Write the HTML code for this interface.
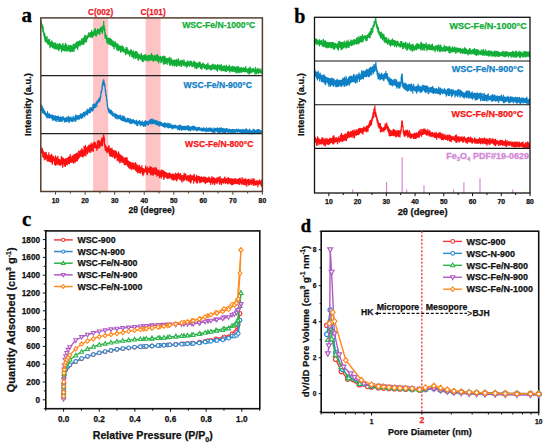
<!DOCTYPE html>
<html><head><meta charset="utf-8"><style>
html,body{margin:0;padding:0;background:#fff;}
body{width:550px;height:448px;overflow:hidden;}
svg{display:block;}
text{font-family:"Liberation Sans",sans-serif;font-weight:bold;}
</style></head><body>
<svg width="550" height="448" viewBox="0 0 550 448">
<rect width="550" height="448" fill="#fff"/>
<defs>
<clipPath id="ca"><rect x="40.8" y="17.9" width="221.59999999999997" height="173.6"/></clipPath>
<clipPath id="cb"><rect x="314.5" y="17.3" width="215.5" height="175.7"/></clipPath>
</defs>
<rect x="93.1" y="17.9" width="15.1" height="173.6" fill="#fdc3c5"/>
<rect x="145.6" y="17.9" width="15.0" height="173.6" fill="#fdc3c5"/>
<path d="M40.80,21.00 L40.89,22.00 L40.98,21.33 L41.07,20.57 L41.15,21.84 L41.24,21.24 L41.33,23.69 L41.42,26.58 L41.51,23.48 L41.60,23.66 L41.69,26.23 L41.78,26.40 L41.86,26.35 L41.95,24.78 L42.04,26.94 L42.13,28.76 L42.22,25.27 L42.31,27.41 L42.40,25.06 L42.48,26.67 L42.57,26.03 L42.66,29.55 L42.75,28.00 L42.84,31.38 L42.93,31.47 L43.02,31.07 L43.10,26.85 L43.19,30.91 L43.28,32.10 L43.37,32.67 L43.46,29.78 L43.55,32.05 L43.64,31.35 L43.73,31.93 L43.81,35.77 L43.90,32.45 L43.99,34.19 L44.08,36.20 L44.17,33.65 L44.26,34.81 L44.35,35.49 L44.43,35.66 L44.52,33.44 L44.61,36.19 L44.70,38.91 L44.79,33.60 L44.88,38.46 L44.97,37.30 L45.05,36.10 L45.14,41.42 L45.23,39.30 L45.32,35.81 L45.41,38.50 L45.50,39.72 L45.59,38.40 L45.68,40.17 L45.76,38.83 L45.85,40.33 L45.94,41.90 L46.03,37.96 L46.12,39.74 L46.21,38.56 L46.30,39.79 L46.38,37.37 L46.47,38.63 L46.56,39.46 L46.65,41.65 L46.74,42.22 L46.83,37.60 L46.92,38.71 L47.00,41.56 L47.09,36.62 L47.18,39.63 L47.27,40.43 L47.36,43.11 L47.45,42.12 L47.54,40.28 L47.63,40.30 L47.71,40.62 L47.80,44.10 L47.89,40.48 L47.98,40.81 L48.07,42.16 L48.16,41.36 L48.25,41.31 L48.33,39.66 L48.42,41.86 L48.51,41.13 L48.60,44.29 L48.69,43.41 L48.78,42.22 L48.87,43.64 L48.95,41.82 L49.04,44.56 L49.13,42.65 L49.22,43.86 L49.31,40.40 L49.40,43.61 L49.49,39.83 L49.58,39.27 L49.66,42.66 L49.75,41.63 L49.84,43.75 L49.93,47.80 L50.02,42.05 L50.11,42.54 L50.20,44.21 L50.28,44.86 L50.37,43.68 L50.46,43.72 L50.55,45.55 L50.64,45.30 L50.73,42.45 L50.82,44.36 L50.90,44.67 L50.99,42.70 L51.08,45.22 L51.17,43.13 L51.26,46.63 L51.35,45.17 L51.44,45.01 L51.53,43.74 L51.61,44.66 L51.70,41.13 L51.79,42.80 L51.88,45.66 L51.97,40.96 L52.06,46.63 L52.15,41.74 L52.23,46.51 L52.32,43.50 L52.41,46.61 L52.50,45.41 L52.59,42.28 L52.68,47.58 L52.77,47.97 L52.86,45.14 L52.94,44.78 L53.03,45.02 L53.12,43.51 L53.21,47.46 L53.30,44.38 L53.39,45.34 L53.48,43.96 L53.56,44.30 L53.65,43.10 L53.74,47.92 L53.83,45.28 L53.92,47.42 L54.01,45.65 L54.10,44.34 L54.18,45.06 L54.27,44.64 L54.36,45.75 L54.45,45.05 L54.54,45.22 L54.63,43.21 L54.72,44.32 L54.81,48.99 L54.89,44.63 L54.98,43.93 L55.07,46.58 L55.16,48.63 L55.25,43.26 L55.34,45.64 L55.43,44.86 L55.51,42.76 L55.60,47.50 L55.69,46.09 L55.78,46.30 L55.87,44.77 L55.96,47.08 L56.05,45.23 L56.13,46.00 L56.22,44.21 L56.31,44.04 L56.40,48.87 L56.49,45.43 L56.58,46.96 L56.67,46.37 L56.76,45.63 L56.84,45.53 L56.93,47.70 L57.02,45.98 L57.11,46.29 L57.20,46.64 L57.29,48.84 L57.38,47.93 L57.46,47.40 L57.55,45.65 L57.64,44.13 L57.73,48.55 L57.82,48.61 L57.91,46.55 L58.00,47.86 L58.08,48.34 L58.17,48.46 L58.26,48.66 L58.35,46.10 L58.44,49.83 L58.53,44.66 L58.62,48.65 L58.71,47.99 L58.79,48.73 L58.88,50.64 L58.97,49.93 L59.06,45.02 L59.15,44.03 L59.24,48.76 L59.33,45.34 L59.41,47.25 L59.50,48.88 L59.59,44.25 L59.68,43.40 L59.77,47.87 L59.86,47.50 L59.95,46.98 L60.03,47.54 L60.12,45.88 L60.21,44.68 L60.30,47.24 L60.39,45.75 L60.48,44.52 L60.57,48.58 L60.66,47.54 L60.74,48.44 L60.83,45.86 L60.92,46.51 L61.01,45.89 L61.10,46.13 L61.19,48.18 L61.28,46.38 L61.36,48.54 L61.45,48.54 L61.54,51.72 L61.63,45.35 L61.72,49.64 L61.81,47.83 L61.90,47.97 L61.98,45.29 L62.07,47.14 L62.16,49.39 L62.25,47.85 L62.34,48.15 L62.43,47.46 L62.52,50.16 L62.61,47.96 L62.69,43.89 L62.78,46.71 L62.87,44.32 L62.96,43.25 L63.05,47.01 L63.14,50.49 L63.23,48.09 L63.31,45.81 L63.40,46.24 L63.49,50.11 L63.58,48.29 L63.67,48.09 L63.76,47.90 L63.85,48.07 L63.94,49.50 L64.02,49.03 L64.11,48.40 L64.20,46.06 L64.29,48.95 L64.38,46.72 L64.47,50.04 L64.56,45.63 L64.64,47.74 L64.73,47.99 L64.82,45.53 L64.91,51.21 L65.00,50.72 L65.09,47.14 L65.18,49.44 L65.26,48.70 L65.35,43.26 L65.44,48.47 L65.53,47.89 L65.62,48.15 L65.71,46.00 L65.80,47.50 L65.89,47.67 L65.97,50.21 L66.06,48.62 L66.15,47.99 L66.24,50.84 L66.33,46.97 L66.42,47.28 L66.51,44.62 L66.59,50.92 L66.68,49.79 L66.77,49.70 L66.86,49.24 L66.95,48.20 L67.04,48.40 L67.13,47.53 L67.21,47.62 L67.30,48.10 L67.39,50.81 L67.48,49.03 L67.57,47.89 L67.66,46.93 L67.75,46.82 L67.84,50.97 L67.92,48.94 L68.01,48.13 L68.10,47.36 L68.19,45.94 L68.28,47.88 L68.37,49.62 L68.46,47.27 L68.54,47.58 L68.63,47.59 L68.72,48.20 L68.81,45.05 L68.90,47.56 L68.99,46.42 L69.08,49.64 L69.16,46.57 L69.25,49.07 L69.34,50.82 L69.43,47.42 L69.52,46.89 L69.61,48.35 L69.70,48.00 L69.79,46.16 L69.87,48.85 L69.96,51.73 L70.05,47.52 L70.14,47.62 L70.23,46.07 L70.32,48.59 L70.41,45.70 L70.49,45.95 L70.58,50.36 L70.67,46.33 L70.76,50.00 L70.85,50.82 L70.94,48.48 L71.03,49.02 L71.11,51.60 L71.20,47.64 L71.29,46.91 L71.38,45.50 L71.47,48.08 L71.56,50.73 L71.65,49.77 L71.74,46.26 L71.82,46.42 L71.91,47.07 L72.00,48.54 L72.09,47.62 L72.18,48.40 L72.27,48.55 L72.36,47.45 L72.44,47.93 L72.53,48.38 L72.62,47.85 L72.71,48.93 L72.80,51.39 L72.89,48.98 L72.98,47.93 L73.06,44.67 L73.15,48.43 L73.24,44.08 L73.33,45.01 L73.42,49.12 L73.51,48.79 L73.60,47.16 L73.69,44.23 L73.77,46.64 L73.86,46.01 L73.95,48.38 L74.04,51.30 L74.13,47.49 L74.22,45.60 L74.31,44.83 L74.39,46.82 L74.48,46.54 L74.57,44.69 L74.66,46.97 L74.75,44.58 L74.84,48.68 L74.93,48.53 L75.02,48.52 L75.10,45.60 L75.19,47.36 L75.28,46.11 L75.37,45.58 L75.46,45.62 L75.55,43.80 L75.64,43.48 L75.72,47.53 L75.81,45.66 L75.90,46.35 L75.99,47.74 L76.08,42.67 L76.17,44.35 L76.26,46.05 L76.34,46.39 L76.43,44.93 L76.52,47.44 L76.61,45.89 L76.70,43.22 L76.79,43.68 L76.88,46.81 L76.97,46.12 L77.05,41.74 L77.14,47.63 L77.23,46.20 L77.32,47.51 L77.41,44.29 L77.50,44.39 L77.59,42.82 L77.67,49.46 L77.76,44.44 L77.85,47.61 L77.94,43.47 L78.03,44.89 L78.12,41.48 L78.21,43.78 L78.29,46.22 L78.38,42.08 L78.47,46.27 L78.56,44.87 L78.65,42.29 L78.74,43.22 L78.83,43.25 L78.92,43.94 L79.00,42.99 L79.09,42.40 L79.18,43.30 L79.27,41.93 L79.36,41.39 L79.45,43.60 L79.54,45.24 L79.62,40.78 L79.71,43.52 L79.80,42.27 L79.89,41.62 L79.98,44.90 L80.07,42.34 L80.16,45.96 L80.24,41.75 L80.33,43.82 L80.42,42.65 L80.51,41.63 L80.60,44.02 L80.69,42.61 L80.78,43.93 L80.87,42.69 L80.95,40.75 L81.04,42.48 L81.13,42.70 L81.22,44.30 L81.31,40.85 L81.40,42.37 L81.49,39.25 L81.57,43.51 L81.66,40.30 L81.75,38.93 L81.84,42.05 L81.93,44.11 L82.02,39.27 L82.11,40.01 L82.19,40.58 L82.28,39.82 L82.37,42.50 L82.46,40.29 L82.55,40.39 L82.64,42.70 L82.73,40.21 L82.82,42.32 L82.90,39.71 L82.99,39.22 L83.08,38.03 L83.17,44.68 L83.26,40.66 L83.35,41.63 L83.44,41.08 L83.52,41.37 L83.61,41.11 L83.70,44.41 L83.79,38.98 L83.88,37.97 L83.97,38.88 L84.06,38.21 L84.14,41.91 L84.23,41.96 L84.32,38.65 L84.41,37.80 L84.50,39.59 L84.59,42.68 L84.68,35.47 L84.77,40.95 L84.85,37.97 L84.94,41.73 L85.03,37.81 L85.12,39.17 L85.21,36.88 L85.30,37.76 L85.39,41.95 L85.47,40.85 L85.56,38.56 L85.65,37.64 L85.74,35.71 L85.83,38.34 L85.92,38.92 L86.01,38.74 L86.10,38.65 L86.18,36.71 L86.27,38.54 L86.36,38.51 L86.45,40.83 L86.54,41.79 L86.63,38.09 L86.72,36.88 L86.80,38.07 L86.89,37.01 L86.98,36.69 L87.07,37.84 L87.16,35.99 L87.25,38.88 L87.34,37.52 L87.42,38.08 L87.51,37.22 L87.60,36.16 L87.69,35.69 L87.78,36.89 L87.87,36.25 L87.96,37.58 L88.05,37.07 L88.13,34.55 L88.22,37.04 L88.31,34.42 L88.40,35.65 L88.49,36.15 L88.58,32.87 L88.67,36.69 L88.75,36.72 L88.84,36.08 L88.93,35.53 L89.02,35.54 L89.11,34.37 L89.20,35.57 L89.29,34.99 L89.37,36.10 L89.46,33.73 L89.55,36.27 L89.64,36.06 L89.73,35.51 L89.82,34.93 L89.91,36.66 L90.00,32.63 L90.08,36.41 L90.17,35.97 L90.26,36.00 L90.35,36.13 L90.44,34.23 L90.53,34.89 L90.62,36.45 L90.70,36.04 L90.79,35.59 L90.88,32.46 L90.97,36.10 L91.06,37.18 L91.15,36.85 L91.24,35.41 L91.32,32.16 L91.41,36.60 L91.50,34.60 L91.59,30.28 L91.68,35.45 L91.77,32.05 L91.86,32.36 L91.95,33.50 L92.03,36.87 L92.12,33.88 L92.21,34.99 L92.30,37.59 L92.39,37.26 L92.48,34.18 L92.57,33.89 L92.65,32.02 L92.74,32.99 L92.83,34.95 L92.92,34.85 L93.01,34.29 L93.10,35.83 L93.19,32.62 L93.27,33.86 L93.36,35.22 L93.45,34.91 L93.54,35.74 L93.63,34.49 L93.72,33.18 L93.81,34.34 L93.90,31.85 L93.98,30.67 L94.07,34.59 L94.16,33.41 L94.25,34.02 L94.34,30.39 L94.43,32.72 L94.52,32.26 L94.60,31.74 L94.69,29.22 L94.78,32.60 L94.87,34.75 L94.96,33.79 L95.05,31.99 L95.14,32.99 L95.22,34.33 L95.31,28.39 L95.40,32.67 L95.49,33.81 L95.58,34.01 L95.67,35.79 L95.76,34.73 L95.85,33.22 L95.93,33.16 L96.02,33.98 L96.11,31.57 L96.20,32.42 L96.29,34.06 L96.38,35.89 L96.47,32.07 L96.55,32.23 L96.64,32.62 L96.73,34.61 L96.82,32.13 L96.91,34.75 L97.00,30.37 L97.09,31.72 L97.18,31.65 L97.26,33.36 L97.35,33.77 L97.44,29.19 L97.53,30.20 L97.62,32.38 L97.71,30.57 L97.80,28.99 L97.88,33.49 L97.97,32.48 L98.06,32.44 L98.15,30.67 L98.24,33.30 L98.33,31.00 L98.42,33.33 L98.50,29.72 L98.59,29.78 L98.68,31.61 L98.77,29.96 L98.86,32.36 L98.95,31.58 L99.04,29.44 L99.13,31.16 L99.21,30.36 L99.30,32.57 L99.39,29.78 L99.48,30.08 L99.57,32.96 L99.66,34.73 L99.75,34.26 L99.83,30.79 L99.92,31.02 L100.01,33.30 L100.10,30.32 L100.19,28.77 L100.28,30.67 L100.37,31.22 L100.45,28.92 L100.54,27.44 L100.63,27.77 L100.72,31.45 L100.81,28.90 L100.90,29.95 L100.99,30.54 L101.08,31.22 L101.16,29.49 L101.25,30.93 L101.34,28.44 L101.43,29.33 L101.52,28.12 L101.61,31.89 L101.70,29.79 L101.78,28.49 L101.87,29.12 L101.96,29.29 L102.05,30.84 L102.14,26.70 L102.23,27.58 L102.32,28.62 L102.40,33.61 L102.49,30.65 L102.58,28.55 L102.67,29.76 L102.76,31.85 L102.85,27.49 L102.94,26.91 L103.03,29.33 L103.11,27.68 L103.20,27.62 L103.29,25.18 L103.38,29.13 L103.47,28.47 L103.56,26.23 L103.65,26.28 L103.73,21.43 L103.82,26.55 L103.91,25.59 L104.00,27.27 L104.09,28.34 L104.18,27.21 L104.27,25.55 L104.35,29.90 L104.44,28.67 L104.53,30.11 L104.62,30.32 L104.71,31.45 L104.80,28.62 L104.89,35.42 L104.98,34.28 L105.06,36.32 L105.15,38.34 L105.24,35.37 L105.33,32.62 L105.42,34.65 L105.51,34.52 L105.60,36.17 L105.68,37.59 L105.77,34.34 L105.86,38.65 L105.95,35.48 L106.04,38.75 L106.13,38.12 L106.22,37.85 L106.30,38.36 L106.39,37.62 L106.48,37.58 L106.57,35.79 L106.66,38.78 L106.75,42.15 L106.84,42.47 L106.93,41.40 L107.01,40.41 L107.10,38.07 L107.19,41.87 L107.28,39.33 L107.37,39.39 L107.46,39.09 L107.55,39.85 L107.63,39.01 L107.72,39.71 L107.81,38.04 L107.90,39.37 L107.99,44.11 L108.08,40.08 L108.17,39.87 L108.26,41.30 L108.34,41.70 L108.43,38.60 L108.52,40.27 L108.61,42.32 L108.70,41.27 L108.79,41.10 L108.88,43.69 L108.96,39.87 L109.05,41.29 L109.14,40.32 L109.23,43.92 L109.32,37.99 L109.41,40.32 L109.50,40.65 L109.58,42.82 L109.67,42.80 L109.76,44.26 L109.85,39.17 L109.94,43.31 L110.03,41.54 L110.12,40.94 L110.21,43.10 L110.29,40.61 L110.38,38.64 L110.47,41.67 L110.56,39.76 L110.65,41.29 L110.74,43.12 L110.83,43.07 L110.91,45.35 L111.00,42.29 L111.09,40.02 L111.18,41.42 L111.27,41.19 L111.36,40.73 L111.45,43.66 L111.53,41.83 L111.62,39.56 L111.71,44.27 L111.80,42.92 L111.89,43.79 L111.98,43.40 L112.07,44.37 L112.16,43.39 L112.24,45.53 L112.33,44.17 L112.42,44.16 L112.51,44.25 L112.60,41.06 L112.69,43.36 L112.78,43.24 L112.86,44.11 L112.95,41.44 L113.04,46.69 L113.13,44.09 L113.22,41.86 L113.31,41.05 L113.40,43.58 L113.48,43.96 L113.57,42.92 L113.66,44.38 L113.75,43.16 L113.84,45.29 L113.93,43.13 L114.02,44.37 L114.11,46.19 L114.19,48.95 L114.28,42.85 L114.37,43.84 L114.46,43.24 L114.55,46.11 L114.64,42.82 L114.73,44.02 L114.81,44.86 L114.90,43.27 L114.99,43.36 L115.08,44.25 L115.17,41.49 L115.26,42.67 L115.35,44.51 L115.43,45.54 L115.52,45.01 L115.61,42.32 L115.70,44.64 L115.79,46.88 L115.88,46.51 L115.97,45.46 L116.06,44.12 L116.14,46.80 L116.23,44.76 L116.32,43.79 L116.41,44.48 L116.50,48.42 L116.59,46.35 L116.68,48.03 L116.76,45.25 L116.85,47.75 L116.94,45.14 L117.03,45.96 L117.12,50.58 L117.21,47.67 L117.30,45.53 L117.38,46.30 L117.47,47.06 L117.56,48.64 L117.65,45.76 L117.74,43.66 L117.83,46.23 L117.92,46.79 L118.01,47.01 L118.09,49.14 L118.18,47.47 L118.27,48.38 L118.36,45.13 L118.45,48.58 L118.54,50.75 L118.63,48.52 L118.71,47.68 L118.80,47.56 L118.89,50.42 L118.98,45.80 L119.07,47.26 L119.16,48.30 L119.25,48.84 L119.34,46.86 L119.42,48.19 L119.51,47.24 L119.60,47.98 L119.69,47.60 L119.78,45.91 L119.87,47.89 L119.96,49.49 L120.04,46.37 L120.13,47.66 L120.22,49.26 L120.31,46.32 L120.40,48.52 L120.49,46.43 L120.58,50.24 L120.66,52.31 L120.75,51.85 L120.84,48.05 L120.93,49.74 L121.02,48.72 L121.11,48.73 L121.20,51.26 L121.29,46.38 L121.37,50.50 L121.46,48.65 L121.55,51.19 L121.64,49.14 L121.73,47.71 L121.82,49.39 L121.91,50.22 L121.99,49.06 L122.08,49.88 L122.17,48.19 L122.26,45.48 L122.35,50.72 L122.44,50.42 L122.53,49.52 L122.61,49.43 L122.70,51.13 L122.79,48.61 L122.88,48.23 L122.97,49.16 L123.06,51.56 L123.15,47.20 L123.24,51.66 L123.32,48.57 L123.41,47.82 L123.50,51.90 L123.59,49.63 L123.68,47.62 L123.77,49.27 L123.86,51.52 L123.94,52.01 L124.03,49.29 L124.12,50.75 L124.21,51.32 L124.30,49.05 L124.39,50.80 L124.48,50.18 L124.56,49.36 L124.65,49.48 L124.74,50.48 L124.83,50.46 L124.92,49.49 L125.01,49.77 L125.10,52.44 L125.19,50.95 L125.27,52.14 L125.36,52.73 L125.45,51.72 L125.54,54.63 L125.63,49.40 L125.72,52.23 L125.81,50.36 L125.89,54.10 L125.98,53.88 L126.07,47.70 L126.16,49.42 L126.25,52.25 L126.34,52.51 L126.43,52.46 L126.51,51.13 L126.60,52.07 L126.69,52.45 L126.78,51.25 L126.87,53.17 L126.96,47.63 L127.05,52.59 L127.14,49.80 L127.22,53.23 L127.31,51.26 L127.40,50.18 L127.49,52.37 L127.58,50.23 L127.67,50.27 L127.76,49.21 L127.84,51.87 L127.93,52.80 L128.02,53.74 L128.11,51.80 L128.20,53.87 L128.29,52.16 L128.38,52.02 L128.46,53.19 L128.55,54.06 L128.64,51.73 L128.73,51.94 L128.82,52.12 L128.91,52.58 L129.00,50.96 L129.09,54.27 L129.17,51.89 L129.26,53.40 L129.35,51.26 L129.44,53.31 L129.53,53.41 L129.62,52.08 L129.71,56.26 L129.79,53.51 L129.88,55.93 L129.97,54.59 L130.06,51.89 L130.15,52.40 L130.24,53.82 L130.33,53.22 L130.42,53.24 L130.50,52.70 L130.59,50.17 L130.68,52.88 L130.77,49.54 L130.86,53.96 L130.95,52.14 L131.04,52.19 L131.12,53.06 L131.21,53.93 L131.30,51.09 L131.39,50.59 L131.48,51.78 L131.57,50.16 L131.66,52.01 L131.74,56.37 L131.83,51.93 L131.92,54.85 L132.01,51.47 L132.10,54.33 L132.19,53.32 L132.28,53.79 L132.37,54.89 L132.45,56.93 L132.54,54.33 L132.63,54.24 L132.72,52.43 L132.81,55.09 L132.90,53.73 L132.99,55.58 L133.07,54.14 L133.16,57.18 L133.25,50.94 L133.34,53.82 L133.43,55.84 L133.52,53.80 L133.61,53.09 L133.69,54.01 L133.78,52.17 L133.87,54.73 L133.96,58.67 L134.05,56.53 L134.14,52.77 L134.23,53.20 L134.32,54.03 L134.40,56.43 L134.49,53.40 L134.58,53.65 L134.67,56.33 L134.76,56.34 L134.85,54.29 L134.94,53.08 L135.02,52.39 L135.11,53.85 L135.20,51.31 L135.29,56.35 L135.38,54.07 L135.47,55.97 L135.56,58.34 L135.64,57.20 L135.73,53.34 L135.82,56.76 L135.91,57.28 L136.00,54.12 L136.09,53.81 L136.18,55.26 L136.27,52.80 L136.35,57.98 L136.44,51.52 L136.53,53.73 L136.62,55.17 L136.71,55.28 L136.80,55.97 L136.89,56.18 L136.97,55.41 L137.06,57.70 L137.15,52.25 L137.24,55.87 L137.33,54.71 L137.42,56.16 L137.51,56.35 L137.59,54.49 L137.68,54.98 L137.77,57.41 L137.86,56.70 L137.95,55.02 L138.04,59.60 L138.13,60.08 L138.22,53.81 L138.30,56.80 L138.39,60.52 L138.48,57.67 L138.57,56.77 L138.66,56.09 L138.75,55.57 L138.84,56.15 L138.92,55.62 L139.01,57.82 L139.10,55.95 L139.19,55.91 L139.28,54.68 L139.37,56.63 L139.46,55.26 L139.54,56.49 L139.63,58.56 L139.72,57.47 L139.81,57.74 L139.90,57.52 L139.99,57.06 L140.08,56.79 L140.17,56.51 L140.25,58.30 L140.34,55.25 L140.43,59.31 L140.52,57.15 L140.61,55.87 L140.70,56.32 L140.79,56.02 L140.87,57.44 L140.96,55.99 L141.05,59.11 L141.14,55.92 L141.23,53.46 L141.32,56.05 L141.41,53.94 L141.50,57.23 L141.58,59.08 L141.67,58.41 L141.76,55.13 L141.85,56.11 L141.94,60.35 L142.03,57.94 L142.12,57.44 L142.20,59.20 L142.29,61.54 L142.38,59.64 L142.47,57.74 L142.56,58.11 L142.65,58.57 L142.74,56.55 L142.82,55.82 L142.91,57.69 L143.00,56.05 L143.09,57.54 L143.18,57.82 L143.27,61.56 L143.36,56.28 L143.45,57.51 L143.53,57.46 L143.62,58.47 L143.71,59.50 L143.80,56.97 L143.89,56.45 L143.98,55.11 L144.07,56.31 L144.15,58.75 L144.24,57.96 L144.33,56.22 L144.42,57.30 L144.51,57.99 L144.60,58.79 L144.69,56.99 L144.77,57.58 L144.86,55.01 L144.95,56.13 L145.04,60.72 L145.13,54.45 L145.22,57.53 L145.31,58.47 L145.40,57.51 L145.48,56.81 L145.57,58.06 L145.66,58.17 L145.75,58.06 L145.84,55.12 L145.93,57.99 L146.02,56.84 L146.10,57.37 L146.19,58.67 L146.28,59.37 L146.37,59.81 L146.46,57.53 L146.55,59.89 L146.64,60.32 L146.72,60.28 L146.81,60.72 L146.90,58.20 L146.99,58.18 L147.08,59.84 L147.17,56.25 L147.26,58.82 L147.35,57.58 L147.43,57.83 L147.52,55.54 L147.61,56.92 L147.70,58.33 L147.79,59.81 L147.88,59.95 L147.97,58.17 L148.05,57.96 L148.14,56.89 L148.23,58.89 L148.32,57.80 L148.41,59.18 L148.50,61.04 L148.59,58.09 L148.67,55.66 L148.76,56.68 L148.85,55.68 L148.94,56.08 L149.03,60.17 L149.12,58.38 L149.21,55.49 L149.30,59.03 L149.38,60.01 L149.47,57.32 L149.56,56.78 L149.65,57.32 L149.74,58.31 L149.83,58.88 L149.92,59.74 L150.00,59.77 L150.09,59.70 L150.18,59.97 L150.27,58.80 L150.36,55.18 L150.45,57.45 L150.54,58.16 L150.62,56.99 L150.71,59.09 L150.80,56.99 L150.89,56.04 L150.98,59.90 L151.07,58.60 L151.16,57.85 L151.25,58.98 L151.33,59.18 L151.42,57.98 L151.51,53.38 L151.60,56.27 L151.69,56.61 L151.78,55.72 L151.87,57.63 L151.95,59.23 L152.04,56.47 L152.13,55.38 L152.22,60.53 L152.31,56.46 L152.40,55.16 L152.49,57.54 L152.58,57.82 L152.66,55.95 L152.75,58.37 L152.84,56.26 L152.93,55.53 L153.02,57.31 L153.11,58.27 L153.20,56.01 L153.28,57.61 L153.37,56.95 L153.46,61.28 L153.55,56.00 L153.64,59.45 L153.73,57.13 L153.82,57.04 L153.90,58.46 L153.99,58.77 L154.08,59.40 L154.17,57.91 L154.26,56.42 L154.35,56.55 L154.44,58.29 L154.53,58.44 L154.61,59.80 L154.70,58.23 L154.79,59.31 L154.88,60.08 L154.97,57.91 L155.06,55.25 L155.15,55.78 L155.23,55.39 L155.32,60.35 L155.41,56.41 L155.50,59.82 L155.59,58.80 L155.68,60.67 L155.77,59.54 L155.85,57.77 L155.94,57.64 L156.03,58.14 L156.12,58.31 L156.21,57.20 L156.30,58.04 L156.39,60.73 L156.48,55.39 L156.56,58.60 L156.65,56.74 L156.74,58.54 L156.83,59.63 L156.92,58.21 L157.01,59.58 L157.10,55.78 L157.18,60.19 L157.27,57.44 L157.36,59.46 L157.45,58.78 L157.54,54.38 L157.63,57.31 L157.72,58.93 L157.80,61.12 L157.89,59.10 L157.98,59.08 L158.07,56.40 L158.16,61.04 L158.25,61.68 L158.34,58.83 L158.43,58.45 L158.51,56.22 L158.60,60.30 L158.69,63.02 L158.78,60.09 L158.87,61.00 L158.96,59.87 L159.05,57.42 L159.13,61.19 L159.22,57.05 L159.31,58.73 L159.40,59.53 L159.49,60.53 L159.58,59.79 L159.67,59.76 L159.75,57.93 L159.84,57.09 L159.93,59.29 L160.02,58.06 L160.11,57.12 L160.20,57.20 L160.29,58.47 L160.38,56.29 L160.46,57.13 L160.55,56.68 L160.64,59.63 L160.73,60.01 L160.82,62.61 L160.91,56.98 L161.00,58.31 L161.08,60.90 L161.17,59.09 L161.26,58.94 L161.35,62.23 L161.44,58.95 L161.53,57.65 L161.62,57.41 L161.70,60.09 L161.79,60.06 L161.88,57.38 L161.97,58.02 L162.06,60.48 L162.15,60.57 L162.24,58.63 L162.33,60.68 L162.41,60.62 L162.50,56.85 L162.59,59.23 L162.68,60.42 L162.77,58.85 L162.86,56.35 L162.95,59.35 L163.03,61.03 L163.12,62.38 L163.21,56.34 L163.30,63.96 L163.39,58.08 L163.48,61.45 L163.57,61.91 L163.66,61.53 L163.74,60.21 L163.83,58.12 L163.92,61.01 L164.01,58.87 L164.10,55.99 L164.19,64.14 L164.28,61.21 L164.36,63.01 L164.45,58.65 L164.54,62.48 L164.63,62.69 L164.72,62.65 L164.81,60.15 L164.90,58.27 L164.98,59.93 L165.07,56.71 L165.16,57.53 L165.25,60.42 L165.34,58.70 L165.43,60.04 L165.52,60.15 L165.61,63.43 L165.69,62.44 L165.78,60.31 L165.87,62.33 L165.96,59.17 L166.05,59.90 L166.14,61.91 L166.23,58.49 L166.31,60.04 L166.40,58.40 L166.49,60.71 L166.58,63.15 L166.67,59.36 L166.76,60.94 L166.85,59.16 L166.93,58.78 L167.02,58.66 L167.11,62.97 L167.20,64.44 L167.29,61.46 L167.38,59.56 L167.47,61.85 L167.56,60.21 L167.64,62.04 L167.73,61.24 L167.82,61.24 L167.91,61.78 L168.00,59.91 L168.09,60.20 L168.18,58.12 L168.26,60.18 L168.35,58.64 L168.44,60.69 L168.53,59.41 L168.62,61.12 L168.71,61.70 L168.80,58.73 L168.88,59.72 L168.97,59.53 L169.06,62.23 L169.15,63.78 L169.24,62.44 L169.33,60.54 L169.42,63.45 L169.51,58.73 L169.59,63.54 L169.68,60.13 L169.77,57.15 L169.86,65.25 L169.95,63.73 L170.04,59.61 L170.13,61.53 L170.21,60.94 L170.30,61.46 L170.39,58.96 L170.48,60.25 L170.57,62.09 L170.66,61.72 L170.75,63.29 L170.83,61.53 L170.92,65.15 L171.01,60.31 L171.10,61.87 L171.19,58.44 L171.28,59.51 L171.37,63.62 L171.46,60.04 L171.54,62.39 L171.63,61.47 L171.72,59.93 L171.81,61.05 L171.90,60.81 L171.99,60.87 L172.08,62.85 L172.16,62.71 L172.25,60.78 L172.34,60.28 L172.43,62.18 L172.52,61.59 L172.61,63.39 L172.70,65.81 L172.78,63.13 L172.87,61.77 L172.96,61.57 L173.05,60.50 L173.14,60.44 L173.23,60.31 L173.32,61.29 L173.41,61.25 L173.49,63.12 L173.58,61.33 L173.67,61.67 L173.76,60.08 L173.85,64.61 L173.94,62.82 L174.03,64.86 L174.11,63.31 L174.20,64.41 L174.29,61.68 L174.38,63.21 L174.47,66.11 L174.56,60.18 L174.65,63.97 L174.74,64.81 L174.82,62.81 L174.91,63.36 L175.00,64.18 L175.09,61.12 L175.18,62.85 L175.27,60.81 L175.36,61.13 L175.44,61.23 L175.53,62.01 L175.62,62.49 L175.71,62.99 L175.80,59.99 L175.89,65.48 L175.98,64.16 L176.06,63.48 L176.15,61.75 L176.24,62.19 L176.33,63.23 L176.42,63.02 L176.51,59.67 L176.60,63.58 L176.69,66.39 L176.77,59.43 L176.86,64.02 L176.95,63.03 L177.04,62.26 L177.13,64.66 L177.22,60.56 L177.31,62.74 L177.39,64.85 L177.48,62.19 L177.57,61.84 L177.66,62.71 L177.75,61.82 L177.84,65.04 L177.93,61.10 L178.01,63.98 L178.10,60.57 L178.19,63.68 L178.28,62.44 L178.37,58.64 L178.46,62.63 L178.55,60.93 L178.64,61.94 L178.72,65.15 L178.81,60.89 L178.90,60.99 L178.99,65.03 L179.08,62.91 L179.17,65.21 L179.26,63.26 L179.34,61.34 L179.43,62.66 L179.52,64.76 L179.61,64.30 L179.70,62.81 L179.79,62.89 L179.88,62.65 L179.96,61.91 L180.05,65.95 L180.14,62.88 L180.23,61.06 L180.32,62.12 L180.41,64.07 L180.50,63.94 L180.59,62.70 L180.67,61.86 L180.76,62.99 L180.85,60.28 L180.94,60.88 L181.03,64.27 L181.12,62.23 L181.21,63.61 L181.29,64.97 L181.38,64.07 L181.47,63.08 L181.56,66.47 L181.65,64.14 L181.74,62.51 L181.83,64.26 L181.91,63.76 L182.00,61.75 L182.09,63.24 L182.18,62.88 L182.27,60.01 L182.36,62.89 L182.45,62.72 L182.54,62.49 L182.62,60.57 L182.71,62.64 L182.80,63.16 L182.89,63.40 L182.98,61.43 L183.07,64.27 L183.16,61.33 L183.24,62.93 L183.33,65.38 L183.42,62.20 L183.51,62.50 L183.60,65.05 L183.69,62.73 L183.78,62.88 L183.86,63.72 L183.95,65.05 L184.04,59.88 L184.13,62.08 L184.22,61.81 L184.31,61.70 L184.40,62.08 L184.49,62.12 L184.57,63.94 L184.66,62.06 L184.75,63.68 L184.84,64.14 L184.93,62.35 L185.02,63.73 L185.11,66.13 L185.19,64.06 L185.28,62.55 L185.37,63.47 L185.46,62.13 L185.55,64.02 L185.64,64.97 L185.73,62.32 L185.82,63.30 L185.90,65.40 L185.99,62.87 L186.08,63.97 L186.17,62.06 L186.26,62.40 L186.35,62.89 L186.44,67.08 L186.52,63.10 L186.61,62.92 L186.70,62.88 L186.79,63.51 L186.88,64.79 L186.97,64.08 L187.06,66.98 L187.14,64.14 L187.23,66.06 L187.32,64.26 L187.41,64.78 L187.50,61.63 L187.59,63.68 L187.68,63.78 L187.77,63.52 L187.85,60.59 L187.94,65.28 L188.03,63.34 L188.12,63.27 L188.21,63.56 L188.30,63.62 L188.39,64.61 L188.47,62.03 L188.56,62.57 L188.65,64.46 L188.74,64.25 L188.83,63.46 L188.92,63.17 L189.01,62.78 L189.09,63.99 L189.18,65.90 L189.27,62.47 L189.36,66.45 L189.45,65.42 L189.54,63.44 L189.63,65.35 L189.72,61.91 L189.80,61.51 L189.89,62.20 L189.98,63.57 L190.07,63.71 L190.16,63.43 L190.25,64.38 L190.34,60.97 L190.42,65.02 L190.51,62.09 L190.60,63.27 L190.69,63.66 L190.78,62.53 L190.87,62.21 L190.96,62.78 L191.04,64.32 L191.13,65.26 L191.22,65.23 L191.31,62.85 L191.40,63.17 L191.49,62.99 L191.58,65.10 L191.67,61.30 L191.75,66.33 L191.84,63.71 L191.93,63.26 L192.02,64.99 L192.11,66.06 L192.20,65.02 L192.29,66.12 L192.37,64.73 L192.46,66.41 L192.55,66.45 L192.64,64.40 L192.73,66.77 L192.82,64.83 L192.91,64.72 L192.99,63.20 L193.08,64.17 L193.17,65.82 L193.26,62.63 L193.35,65.64 L193.44,65.20 L193.53,65.10 L193.62,61.32 L193.70,64.54 L193.79,65.70 L193.88,63.56 L193.97,64.87 L194.06,61.12 L194.15,65.78 L194.24,63.76 L194.32,66.11 L194.41,61.99 L194.50,65.86 L194.59,64.46 L194.68,66.06 L194.77,63.43 L194.86,63.91 L194.94,68.28 L195.03,63.62 L195.12,63.82 L195.21,64.48 L195.30,63.36 L195.39,66.74 L195.48,67.57 L195.57,63.88 L195.65,62.34 L195.74,66.76 L195.83,66.67 L195.92,66.25 L196.01,66.77 L196.10,63.71 L196.19,64.78 L196.27,62.94 L196.36,62.90 L196.45,66.56 L196.54,64.06 L196.63,68.56 L196.72,65.22 L196.81,64.15 L196.90,66.34 L196.98,67.88 L197.07,65.89 L197.16,63.32 L197.25,65.74 L197.34,67.28 L197.43,64.46 L197.52,64.04 L197.60,66.77 L197.69,65.45 L197.78,63.58 L197.87,64.69 L197.96,64.13 L198.05,65.74 L198.14,65.47 L198.22,67.05 L198.31,66.40 L198.40,62.97 L198.49,65.96 L198.58,66.72 L198.67,66.06 L198.76,66.94 L198.85,64.56 L198.93,63.97 L199.02,66.83 L199.11,63.82 L199.20,62.18 L199.29,67.01 L199.38,64.37 L199.47,65.02 L199.55,63.38 L199.64,63.50 L199.73,63.77 L199.82,64.98 L199.91,66.10 L200.00,62.08 L200.09,66.70 L200.17,63.79 L200.26,63.98 L200.35,66.62 L200.44,65.50 L200.53,63.31 L200.62,68.42 L200.71,64.35 L200.80,66.03 L200.88,65.97 L200.97,67.81 L201.06,65.01 L201.15,67.23 L201.24,64.60 L201.33,67.42 L201.42,64.59 L201.50,65.21 L201.59,68.62 L201.68,66.26 L201.77,65.96 L201.86,69.18 L201.95,66.36 L202.04,64.60 L202.12,66.95 L202.21,64.07 L202.30,67.56 L202.39,67.69 L202.48,65.03 L202.57,64.96 L202.66,66.18 L202.75,65.95 L202.83,64.47 L202.92,66.80 L203.01,62.89 L203.10,65.32 L203.19,65.38 L203.28,65.59 L203.37,66.47 L203.45,64.17 L203.54,66.91 L203.63,65.76 L203.72,65.07 L203.81,64.00 L203.90,64.29 L203.99,66.61 L204.07,64.63 L204.16,66.18 L204.25,67.69 L204.34,67.65 L204.43,68.45 L204.52,65.68 L204.61,64.51 L204.70,67.67 L204.78,66.61 L204.87,67.84 L204.96,66.18 L205.05,67.97 L205.14,67.45 L205.23,67.27 L205.32,66.96 L205.40,66.81 L205.49,66.57 L205.58,66.57 L205.67,67.72 L205.76,65.48 L205.85,68.85 L205.94,66.11 L206.02,67.75 L206.11,66.15 L206.20,65.93 L206.29,69.34 L206.38,65.85 L206.47,64.41 L206.56,65.26 L206.65,65.87 L206.73,69.56 L206.82,66.67 L206.91,67.76 L207.00,64.88 L207.09,66.91 L207.18,67.39 L207.27,69.09 L207.35,65.37 L207.44,67.32 L207.53,66.88 L207.62,64.92 L207.71,66.42 L207.80,66.06 L207.89,63.00 L207.98,67.37 L208.06,67.29 L208.15,65.84 L208.24,64.51 L208.33,68.71 L208.42,66.91 L208.51,68.04 L208.60,68.64 L208.68,65.77 L208.77,67.76 L208.86,66.21 L208.95,66.48 L209.04,66.45 L209.13,66.59 L209.22,68.26 L209.30,66.79 L209.39,66.39 L209.48,66.22 L209.57,67.14 L209.66,65.32 L209.75,65.91 L209.84,66.59 L209.93,65.83 L210.01,66.51 L210.10,65.78 L210.19,69.67 L210.28,68.68 L210.37,67.38 L210.46,66.65 L210.55,69.98 L210.63,67.22 L210.72,66.62 L210.81,67.21 L210.90,67.22 L210.99,68.87 L211.08,66.76 L211.17,69.91 L211.25,65.50 L211.34,67.84 L211.43,65.34 L211.52,69.52 L211.61,66.35 L211.70,66.77 L211.79,68.23 L211.88,68.73 L211.96,65.23 L212.05,66.38 L212.14,64.83 L212.23,67.11 L212.32,66.77 L212.41,66.41 L212.50,65.92 L212.58,66.37 L212.67,65.85 L212.76,67.74 L212.85,69.21 L212.94,64.13 L213.03,66.82 L213.12,66.38 L213.20,67.73 L213.29,65.61 L213.38,66.81 L213.47,65.50 L213.56,68.07 L213.65,67.20 L213.74,66.82 L213.83,67.61 L213.91,66.71 L214.00,64.80 L214.09,67.97 L214.18,67.53 L214.27,66.89 L214.36,68.57 L214.45,68.93 L214.53,65.53 L214.62,66.00 L214.71,69.44 L214.80,69.25 L214.89,66.09 L214.98,65.45 L215.07,66.26 L215.15,66.47 L215.24,64.88 L215.33,67.27 L215.42,65.35 L215.51,65.46 L215.60,68.59 L215.69,66.25 L215.78,67.16 L215.86,68.20 L215.95,68.48 L216.04,66.80 L216.13,67.37 L216.22,66.10 L216.31,69.88 L216.40,68.28 L216.48,65.72 L216.57,67.35 L216.66,68.40 L216.75,68.07 L216.84,70.06 L216.93,69.39 L217.02,66.60 L217.10,67.27 L217.19,65.53 L217.28,67.78 L217.37,67.65 L217.46,71.17 L217.55,67.59 L217.64,64.39 L217.73,66.48 L217.81,67.64 L217.90,65.64 L217.99,66.22 L218.08,66.97 L218.17,68.01 L218.26,67.28 L218.35,66.23 L218.43,68.69 L218.52,66.76 L218.61,66.82 L218.70,65.55 L218.79,66.42 L218.88,68.53 L218.97,65.23 L219.06,67.50 L219.14,68.66 L219.23,67.07 L219.32,67.98 L219.41,66.01 L219.50,69.56 L219.59,69.26 L219.68,68.01 L219.76,65.11 L219.85,66.15 L219.94,69.11 L220.03,70.20 L220.12,68.14 L220.21,69.53 L220.30,66.84 L220.38,67.46 L220.47,67.74 L220.56,68.37 L220.65,65.53 L220.74,69.14 L220.83,69.70 L220.92,66.12 L221.01,65.82 L221.09,68.32 L221.18,66.86 L221.27,64.38 L221.36,69.01 L221.45,68.07 L221.54,67.16 L221.63,70.93 L221.71,68.07 L221.80,66.78 L221.89,68.03 L221.98,66.38 L222.07,66.80 L222.16,68.48 L222.25,67.12 L222.33,67.28 L222.42,70.36 L222.51,69.20 L222.60,69.12 L222.69,68.74 L222.78,68.68 L222.87,70.10 L222.96,67.97 L223.04,70.69 L223.13,66.63 L223.22,67.65 L223.31,66.03 L223.40,67.54 L223.49,68.80 L223.58,70.16 L223.66,67.11 L223.75,68.08 L223.84,67.56 L223.93,67.02 L224.02,66.38 L224.11,68.20 L224.20,65.61 L224.28,68.29 L224.37,68.17 L224.46,67.20 L224.55,66.70 L224.64,66.16 L224.73,70.88 L224.82,66.24 L224.91,70.44 L224.99,69.07 L225.08,67.69 L225.17,66.55 L225.26,69.73 L225.35,70.74 L225.44,66.90 L225.53,67.82 L225.61,69.78 L225.70,68.76 L225.79,71.17 L225.88,67.47 L225.97,69.08 L226.06,66.51 L226.15,71.34 L226.23,67.28 L226.32,65.15 L226.41,68.16 L226.50,68.15 L226.59,71.12 L226.68,67.88 L226.77,68.36 L226.86,69.25 L226.94,70.68 L227.03,68.32 L227.12,69.91 L227.21,69.17 L227.30,68.01 L227.39,68.56 L227.48,68.50 L227.56,67.15 L227.65,70.22 L227.74,66.49 L227.83,70.17 L227.92,69.87 L228.01,68.37 L228.10,67.42 L228.18,68.20 L228.27,69.21 L228.36,69.61 L228.45,68.97 L228.54,69.99 L228.63,67.77 L228.72,68.92 L228.81,66.34 L228.89,69.69 L228.98,68.83 L229.07,68.02 L229.16,70.29 L229.25,69.63 L229.34,64.99 L229.43,68.71 L229.51,66.58 L229.60,70.20 L229.69,72.25 L229.78,67.95 L229.87,68.80 L229.96,68.35 L230.05,69.22 L230.14,69.65 L230.22,70.58 L230.31,67.33 L230.40,71.00 L230.49,67.43 L230.58,69.17 L230.67,70.43 L230.76,69.81 L230.84,67.45 L230.93,67.80 L231.02,68.15 L231.11,68.75 L231.20,70.47 L231.29,67.00 L231.38,69.52 L231.46,69.73 L231.55,69.67 L231.64,69.54 L231.73,71.05 L231.82,69.59 L231.91,70.13 L232.00,69.72 L232.09,71.48 L232.17,66.22 L232.26,70.77 L232.35,68.58 L232.44,68.56 L232.53,67.59 L232.62,66.31 L232.71,68.44 L232.79,68.01 L232.88,69.71 L232.97,66.91 L233.06,71.06 L233.15,69.41 L233.24,68.68 L233.33,68.03 L233.41,67.93 L233.50,67.45 L233.59,68.29 L233.68,69.08 L233.77,68.83 L233.86,67.07 L233.95,68.71 L234.04,67.83 L234.12,69.33 L234.21,71.76 L234.30,70.01 L234.39,68.69 L234.48,66.83 L234.57,67.14 L234.66,66.76 L234.74,70.19 L234.83,68.08 L234.92,69.26 L235.01,68.30 L235.10,69.32 L235.19,71.19 L235.28,68.23 L235.36,68.73 L235.45,68.08 L235.54,70.47 L235.63,67.78 L235.72,67.64 L235.81,67.28 L235.90,67.26 L235.99,69.93 L236.07,72.88 L236.16,67.87 L236.25,70.63 L236.34,69.65 L236.43,67.74 L236.52,68.92 L236.61,68.99 L236.69,68.35 L236.78,72.06 L236.87,66.64 L236.96,69.89 L237.05,69.82 L237.14,68.54 L237.23,69.58 L237.31,70.62 L237.40,69.60 L237.49,69.98 L237.58,70.38 L237.67,66.54 L237.76,71.50 L237.85,72.64 L237.94,70.81 L238.02,70.87 L238.11,67.46 L238.20,69.29 L238.29,68.31 L238.38,68.64 L238.47,70.84 L238.56,68.35 L238.64,69.31 L238.73,66.81 L238.82,69.28 L238.91,69.64 L239.00,68.53 L239.09,68.51 L239.18,72.19 L239.26,67.84 L239.35,68.07 L239.44,68.42 L239.53,71.25 L239.62,72.53 L239.71,70.05 L239.80,68.58 L239.89,68.99 L239.97,71.10 L240.06,68.33 L240.15,71.66 L240.24,71.62 L240.33,69.73 L240.42,70.55 L240.51,70.70 L240.59,71.84 L240.68,68.19 L240.77,71.33 L240.86,69.15 L240.95,68.61 L241.04,69.84 L241.13,69.40 L241.22,68.32 L241.30,67.47 L241.39,68.40 L241.48,71.77 L241.57,72.49 L241.66,70.66 L241.75,71.41 L241.84,69.04 L241.92,69.66 L242.01,70.17 L242.10,68.27 L242.19,68.40 L242.28,69.93 L242.37,69.36 L242.46,68.32 L242.54,70.36 L242.63,69.46 L242.72,71.26 L242.81,69.84 L242.90,69.43 L242.99,70.04 L243.08,69.62 L243.17,68.94 L243.25,69.32 L243.34,70.93 L243.43,70.80 L243.52,71.70 L243.61,67.55 L243.70,69.37 L243.79,69.35 L243.87,70.17 L243.96,69.31 L244.05,69.23 L244.14,71.05 L244.23,70.21 L244.32,68.34 L244.41,71.84 L244.49,71.37 L244.58,69.19 L244.67,71.16 L244.76,68.98 L244.85,71.58 L244.94,69.72 L245.03,68.91 L245.12,69.52 L245.20,68.98 L245.29,70.32 L245.38,70.30 L245.47,70.12 L245.56,69.30 L245.65,66.54 L245.74,70.22 L245.82,67.46 L245.91,70.44 L246.00,71.68 L246.09,70.50 L246.18,69.59 L246.27,69.89 L246.36,69.96 L246.44,69.39 L246.53,69.35 L246.62,68.88 L246.71,71.82 L246.80,70.16 L246.89,71.51 L246.98,69.85 L247.07,70.30 L247.15,69.97 L247.24,70.86 L247.33,71.37 L247.42,70.56 L247.51,69.31 L247.60,69.17 L247.69,72.55 L247.77,69.87 L247.86,69.87 L247.95,72.31 L248.04,71.79 L248.13,71.03 L248.22,69.75 L248.31,73.56 L248.39,70.86 L248.48,71.08 L248.57,70.09 L248.66,68.38 L248.75,68.50 L248.84,70.92 L248.93,70.90 L249.02,70.04 L249.10,68.76 L249.19,68.39 L249.28,69.94 L249.37,68.39 L249.46,71.65 L249.55,72.00 L249.64,73.93 L249.72,71.64 L249.81,69.62 L249.90,69.24 L249.99,66.94 L250.08,69.64 L250.17,70.22 L250.26,71.81 L250.34,71.32 L250.43,71.30 L250.52,70.79 L250.61,71.41 L250.70,72.50 L250.79,69.05 L250.88,69.90 L250.97,68.62 L251.05,72.77 L251.14,72.33 L251.23,71.59 L251.32,68.91 L251.41,70.81 L251.50,70.25 L251.59,70.70 L251.67,70.33 L251.76,71.32 L251.85,70.06 L251.94,71.79 L252.03,70.95 L252.12,70.23 L252.21,70.48 L252.30,70.04 L252.38,71.77 L252.47,70.29 L252.56,71.07 L252.65,70.14 L252.74,68.64 L252.83,71.93 L252.92,69.25 L253.00,71.64 L253.09,71.29 L253.18,68.45 L253.27,69.43 L253.36,70.03 L253.45,69.62 L253.54,69.13 L253.62,71.77 L253.71,70.44 L253.80,71.30 L253.89,70.19 L253.98,71.21 L254.07,69.77 L254.16,70.77 L254.25,71.61 L254.33,70.88 L254.42,70.20 L254.51,69.35 L254.60,71.07 L254.69,71.32 L254.78,70.50 L254.87,69.81 L254.95,71.61 L255.04,74.27 L255.13,70.47 L255.22,71.35 L255.31,71.42 L255.40,67.43 L255.49,71.08 L255.57,69.96 L255.66,72.82 L255.75,70.59 L255.84,69.88 L255.93,70.65 L256.02,71.19 L256.11,70.20 L256.20,70.90 L256.28,69.14 L256.37,70.68 L256.46,72.05 L256.55,73.69 L256.64,71.98 L256.73,71.39 L256.82,72.64 L256.90,72.42 L256.99,73.31 L257.08,72.52 L257.17,70.90 L257.26,71.42 L257.35,71.32 L257.44,71.49 L257.52,71.36 L257.61,70.03 L257.70,68.24 L257.79,70.20 L257.88,68.36 L257.97,71.22 L258.06,71.14 L258.15,68.86 L258.23,72.08 L258.32,72.33 L258.41,71.29 L258.50,73.43 L258.59,73.72 L258.68,69.55 L258.77,72.60 L258.85,71.80 L258.94,71.77 L259.03,72.48 L259.12,70.25 L259.21,70.43 L259.30,70.12 L259.39,70.22 L259.47,71.12 L259.56,69.29 L259.65,69.85 L259.74,72.06 L259.83,71.19 L259.92,71.81 L260.01,68.74 L260.10,70.24 L260.18,70.56 L260.27,71.36 L260.36,70.53 L260.45,72.60 L260.54,71.26 L260.63,71.37 L260.72,71.38 L260.80,72.32 L260.89,70.74 L260.98,72.90 L261.07,72.01 L261.16,71.60 L261.25,71.46 L261.34,72.11 L261.42,72.79 L261.51,72.70 L261.60,71.94 L261.69,72.62 L261.78,71.61 L261.87,73.14 L261.96,71.43 L262.05,68.67 L262.13,73.28 L262.22,71.63 L262.31,69.91 L262.40,71.23" fill="none" stroke="#12ae38" stroke-width="1.2" stroke-linejoin="round" clip-path="url(#ca)"/>
<path d="M40.80,105.83 L40.89,109.90 L40.98,107.92 L41.07,105.32 L41.15,108.25 L41.24,107.13 L41.33,110.32 L41.42,106.53 L41.51,105.09 L41.60,108.27 L41.69,107.85 L41.78,107.89 L41.86,105.75 L41.95,109.27 L42.04,111.04 L42.13,106.45 L42.22,110.64 L42.31,108.48 L42.40,112.46 L42.48,110.07 L42.57,109.38 L42.66,111.21 L42.75,110.58 L42.84,109.24 L42.93,111.08 L43.02,109.61 L43.10,108.06 L43.19,113.22 L43.28,110.22 L43.37,110.01 L43.46,111.38 L43.55,109.02 L43.64,109.42 L43.73,110.67 L43.81,110.78 L43.90,111.69 L43.99,113.20 L44.08,111.23 L44.17,112.64 L44.26,112.91 L44.35,110.83 L44.43,112.68 L44.52,111.27 L44.61,114.04 L44.70,113.37 L44.79,112.93 L44.88,111.28 L44.97,113.32 L45.05,112.29 L45.14,114.36 L45.23,113.41 L45.32,112.63 L45.41,115.04 L45.50,114.90 L45.59,113.25 L45.68,115.60 L45.76,113.73 L45.85,113.76 L45.94,114.37 L46.03,113.26 L46.12,113.71 L46.21,114.13 L46.30,116.38 L46.38,116.39 L46.47,114.13 L46.56,116.62 L46.65,114.50 L46.74,115.10 L46.83,115.80 L46.92,115.07 L47.00,117.89 L47.09,115.09 L47.18,113.25 L47.27,116.57 L47.36,114.37 L47.45,114.55 L47.54,111.66 L47.63,116.35 L47.71,116.15 L47.80,116.17 L47.89,116.45 L47.98,117.42 L48.07,115.20 L48.16,116.52 L48.25,114.37 L48.33,114.92 L48.42,116.81 L48.51,115.98 L48.60,113.78 L48.69,116.03 L48.78,115.37 L48.87,114.58 L48.95,116.26 L49.04,115.21 L49.13,113.73 L49.22,114.37 L49.31,118.18 L49.40,113.94 L49.49,116.25 L49.58,116.80 L49.66,116.88 L49.75,114.49 L49.84,115.71 L49.93,116.36 L50.02,117.26 L50.11,115.42 L50.20,114.79 L50.28,117.66 L50.37,117.83 L50.46,116.92 L50.55,115.69 L50.64,117.05 L50.73,116.71 L50.82,117.70 L50.90,115.03 L50.99,116.85 L51.08,116.52 L51.17,115.30 L51.26,117.05 L51.35,116.83 L51.44,116.28 L51.53,117.35 L51.61,115.01 L51.70,116.81 L51.79,117.46 L51.88,117.29 L51.97,118.34 L52.06,115.40 L52.15,115.03 L52.23,117.32 L52.32,117.62 L52.41,119.81 L52.50,117.88 L52.59,115.96 L52.68,118.17 L52.77,116.05 L52.86,115.24 L52.94,120.49 L53.03,117.63 L53.12,118.16 L53.21,117.99 L53.30,119.63 L53.39,117.67 L53.48,118.90 L53.56,116.01 L53.65,115.56 L53.74,119.24 L53.83,119.32 L53.92,118.09 L54.01,117.75 L54.10,117.69 L54.18,116.61 L54.27,119.52 L54.36,118.40 L54.45,118.22 L54.54,118.07 L54.63,118.97 L54.72,118.29 L54.81,118.62 L54.89,116.16 L54.98,118.36 L55.07,120.55 L55.16,117.07 L55.25,117.60 L55.34,118.94 L55.43,119.05 L55.51,118.64 L55.60,115.76 L55.69,118.53 L55.78,116.37 L55.87,116.85 L55.96,118.65 L56.05,117.58 L56.13,119.03 L56.22,121.30 L56.31,119.04 L56.40,118.99 L56.49,116.92 L56.58,117.27 L56.67,116.75 L56.76,117.45 L56.84,116.75 L56.93,117.34 L57.02,117.94 L57.11,116.94 L57.20,116.42 L57.29,116.52 L57.38,118.88 L57.46,118.40 L57.55,119.67 L57.64,119.71 L57.73,117.95 L57.82,119.27 L57.91,116.57 L58.00,121.40 L58.08,120.02 L58.17,118.22 L58.26,117.02 L58.35,119.03 L58.44,116.15 L58.53,117.58 L58.62,119.57 L58.71,118.73 L58.79,118.02 L58.88,119.90 L58.97,117.36 L59.06,119.09 L59.15,118.10 L59.24,117.67 L59.33,119.38 L59.41,117.53 L59.50,121.28 L59.59,118.10 L59.68,121.43 L59.77,117.49 L59.86,119.70 L59.95,117.40 L60.03,117.24 L60.12,119.19 L60.21,119.88 L60.30,117.39 L60.39,120.57 L60.48,118.05 L60.57,119.27 L60.66,119.61 L60.74,119.90 L60.83,116.85 L60.92,121.26 L61.01,119.93 L61.10,118.68 L61.19,117.94 L61.28,117.10 L61.36,117.55 L61.45,120.02 L61.54,118.90 L61.63,117.91 L61.72,118.71 L61.81,121.41 L61.90,118.98 L61.98,118.65 L62.07,121.13 L62.16,119.99 L62.25,119.46 L62.34,118.62 L62.43,117.41 L62.52,117.90 L62.61,118.78 L62.69,119.12 L62.78,119.86 L62.87,120.11 L62.96,119.69 L63.05,119.68 L63.14,118.11 L63.23,116.64 L63.31,118.73 L63.40,118.18 L63.49,118.56 L63.58,119.05 L63.67,117.81 L63.76,117.98 L63.85,119.27 L63.94,119.55 L64.02,118.56 L64.11,120.04 L64.20,119.12 L64.29,118.10 L64.38,119.45 L64.47,121.81 L64.56,118.54 L64.64,120.89 L64.73,121.16 L64.82,121.31 L64.91,118.35 L65.00,121.97 L65.09,119.55 L65.18,119.08 L65.26,119.11 L65.35,120.17 L65.44,119.47 L65.53,119.17 L65.62,121.04 L65.71,118.48 L65.80,118.07 L65.89,120.41 L65.97,120.30 L66.06,120.79 L66.15,118.03 L66.24,120.78 L66.33,120.01 L66.42,121.65 L66.51,117.81 L66.59,119.68 L66.68,119.05 L66.77,117.38 L66.86,118.49 L66.95,120.84 L67.04,118.80 L67.13,118.48 L67.21,120.51 L67.30,120.66 L67.39,120.66 L67.48,118.40 L67.57,119.33 L67.66,120.71 L67.75,118.57 L67.84,118.45 L67.92,120.45 L68.01,121.39 L68.10,117.94 L68.19,116.16 L68.28,117.56 L68.37,118.11 L68.46,119.23 L68.54,120.18 L68.63,119.21 L68.72,118.51 L68.81,119.59 L68.90,118.18 L68.99,119.34 L69.08,118.59 L69.16,122.63 L69.25,120.44 L69.34,118.34 L69.43,118.14 L69.52,118.84 L69.61,117.31 L69.70,118.47 L69.79,118.46 L69.87,120.52 L69.96,118.86 L70.05,118.40 L70.14,117.70 L70.23,117.91 L70.32,119.32 L70.41,119.13 L70.49,120.84 L70.58,118.60 L70.67,120.74 L70.76,119.73 L70.85,119.39 L70.94,116.86 L71.03,117.77 L71.11,120.34 L71.20,121.17 L71.29,119.66 L71.38,120.36 L71.47,118.88 L71.56,118.93 L71.65,118.56 L71.74,120.63 L71.82,119.83 L71.91,119.10 L72.00,118.98 L72.09,120.10 L72.18,119.81 L72.27,118.35 L72.36,121.57 L72.44,119.72 L72.53,119.41 L72.62,121.27 L72.71,120.69 L72.80,119.25 L72.89,120.01 L72.98,117.94 L73.06,118.45 L73.15,116.37 L73.24,120.73 L73.33,116.76 L73.42,119.98 L73.51,118.04 L73.60,117.82 L73.69,118.77 L73.77,119.32 L73.86,119.72 L73.95,121.15 L74.04,119.33 L74.13,119.95 L74.22,118.05 L74.31,119.67 L74.39,118.93 L74.48,118.12 L74.57,118.55 L74.66,118.55 L74.75,118.84 L74.84,119.07 L74.93,117.89 L75.02,117.56 L75.10,119.40 L75.19,116.29 L75.28,117.61 L75.37,120.31 L75.46,115.12 L75.55,117.41 L75.64,119.11 L75.72,116.14 L75.81,121.38 L75.90,114.94 L75.99,119.92 L76.08,120.03 L76.17,119.19 L76.26,117.73 L76.34,118.42 L76.43,116.81 L76.52,118.92 L76.61,116.46 L76.70,117.49 L76.79,119.05 L76.88,116.36 L76.97,117.27 L77.05,117.90 L77.14,115.97 L77.23,119.08 L77.32,118.01 L77.41,115.65 L77.50,117.46 L77.59,116.51 L77.67,116.62 L77.76,117.51 L77.85,116.49 L77.94,118.55 L78.03,116.42 L78.12,118.50 L78.21,117.18 L78.29,118.28 L78.38,116.49 L78.47,116.50 L78.56,115.66 L78.65,117.79 L78.74,118.20 L78.83,119.65 L78.92,118.58 L79.00,117.24 L79.09,116.63 L79.18,117.34 L79.27,116.79 L79.36,118.62 L79.45,117.93 L79.54,115.67 L79.62,115.82 L79.71,118.36 L79.80,117.00 L79.89,116.29 L79.98,118.02 L80.07,116.02 L80.16,116.12 L80.24,115.86 L80.33,113.95 L80.42,117.45 L80.51,114.82 L80.60,115.59 L80.69,115.33 L80.78,117.13 L80.87,116.11 L80.95,116.18 L81.04,114.03 L81.13,115.98 L81.22,114.21 L81.31,116.40 L81.40,116.44 L81.49,115.93 L81.57,118.46 L81.66,116.54 L81.75,116.59 L81.84,115.99 L81.93,115.53 L82.02,116.94 L82.11,117.08 L82.19,114.05 L82.28,116.95 L82.37,116.24 L82.46,116.76 L82.55,116.11 L82.64,113.95 L82.73,114.00 L82.82,117.70 L82.90,115.70 L82.99,113.59 L83.08,115.75 L83.17,114.84 L83.26,112.96 L83.35,112.37 L83.44,113.19 L83.52,115.48 L83.61,115.05 L83.70,114.74 L83.79,115.34 L83.88,115.66 L83.97,112.23 L84.06,114.40 L84.14,113.67 L84.23,113.10 L84.32,113.88 L84.41,114.34 L84.50,114.09 L84.59,112.54 L84.68,113.68 L84.77,116.71 L84.85,112.83 L84.94,111.97 L85.03,114.34 L85.12,114.66 L85.21,114.43 L85.30,112.39 L85.39,114.95 L85.47,112.67 L85.56,112.16 L85.65,112.75 L85.74,113.30 L85.83,114.25 L85.92,114.06 L86.01,113.19 L86.10,114.30 L86.18,113.18 L86.27,114.12 L86.36,111.20 L86.45,110.92 L86.54,113.76 L86.63,111.00 L86.72,112.28 L86.80,112.46 L86.89,111.91 L86.98,111.88 L87.07,114.10 L87.16,109.17 L87.25,113.32 L87.34,115.00 L87.42,112.12 L87.51,112.00 L87.60,112.85 L87.69,114.14 L87.78,110.34 L87.87,111.85 L87.96,111.44 L88.05,112.29 L88.13,111.72 L88.22,112.27 L88.31,110.86 L88.40,111.37 L88.49,110.42 L88.58,110.35 L88.67,110.93 L88.75,110.86 L88.84,109.51 L88.93,112.83 L89.02,110.65 L89.11,109.04 L89.20,112.04 L89.29,109.69 L89.37,111.17 L89.46,110.45 L89.55,110.71 L89.64,110.54 L89.73,109.55 L89.82,110.24 L89.91,112.62 L90.00,107.29 L90.08,110.06 L90.17,110.44 L90.26,108.54 L90.35,108.07 L90.44,112.35 L90.53,109.16 L90.62,112.11 L90.70,110.14 L90.79,109.50 L90.88,109.92 L90.97,110.05 L91.06,110.65 L91.15,109.66 L91.24,109.23 L91.32,109.20 L91.41,110.58 L91.50,109.85 L91.59,107.54 L91.68,107.92 L91.77,109.04 L91.86,107.80 L91.95,108.03 L92.03,107.25 L92.12,108.03 L92.21,108.80 L92.30,109.43 L92.39,108.15 L92.48,110.62 L92.57,107.91 L92.65,111.05 L92.74,109.09 L92.83,108.40 L92.92,107.10 L93.01,104.52 L93.10,107.39 L93.19,107.72 L93.27,109.79 L93.36,105.67 L93.45,109.63 L93.54,106.92 L93.63,108.04 L93.72,103.97 L93.81,107.18 L93.90,106.52 L93.98,107.71 L94.07,106.91 L94.16,105.33 L94.25,107.82 L94.34,107.44 L94.43,107.25 L94.52,107.68 L94.60,107.70 L94.69,106.20 L94.78,104.44 L94.87,104.27 L94.96,107.49 L95.05,106.58 L95.14,105.70 L95.22,104.92 L95.31,105.36 L95.40,105.22 L95.49,104.65 L95.58,104.08 L95.67,107.45 L95.76,104.95 L95.85,103.80 L95.93,102.82 L96.02,103.40 L96.11,105.03 L96.20,104.95 L96.29,103.63 L96.38,103.83 L96.47,103.27 L96.55,102.16 L96.64,104.97 L96.73,103.70 L96.82,106.14 L96.91,102.07 L97.00,102.69 L97.09,103.81 L97.18,102.30 L97.26,100.78 L97.35,101.19 L97.44,102.34 L97.53,102.50 L97.62,101.84 L97.71,103.05 L97.80,102.91 L97.88,101.96 L97.97,101.47 L98.06,101.00 L98.15,101.85 L98.24,102.17 L98.33,100.99 L98.42,101.34 L98.50,100.27 L98.59,98.81 L98.68,99.18 L98.77,101.20 L98.86,100.69 L98.95,101.95 L99.04,99.95 L99.13,100.81 L99.21,101.23 L99.30,100.70 L99.39,98.63 L99.48,99.01 L99.57,99.26 L99.66,97.78 L99.75,99.42 L99.83,99.96 L99.92,98.00 L100.01,100.85 L100.10,97.98 L100.19,97.95 L100.28,97.39 L100.37,96.29 L100.45,97.14 L100.54,96.13 L100.63,97.60 L100.72,95.80 L100.81,95.19 L100.90,93.75 L100.99,91.78 L101.08,92.86 L101.16,91.42 L101.25,93.08 L101.34,91.37 L101.43,92.90 L101.52,91.25 L101.61,90.85 L101.70,89.59 L101.78,89.04 L101.87,89.06 L101.96,88.86 L102.05,86.36 L102.14,87.29 L102.23,89.25 L102.32,85.61 L102.40,84.99 L102.49,84.04 L102.58,82.71 L102.67,85.48 L102.76,83.69 L102.85,83.56 L102.94,85.01 L103.03,85.39 L103.11,80.87 L103.20,82.79 L103.29,81.85 L103.38,81.16 L103.47,80.84 L103.56,79.81 L103.65,81.34 L103.73,79.74 L103.82,80.02 L103.91,81.71 L104.00,81.89 L104.09,81.96 L104.18,82.40 L104.27,84.72 L104.35,83.82 L104.44,83.70 L104.53,83.37 L104.62,84.59 L104.71,84.34 L104.80,86.33 L104.89,87.11 L104.98,84.93 L105.06,88.03 L105.15,89.39 L105.24,89.41 L105.33,88.69 L105.42,92.00 L105.51,90.26 L105.60,90.25 L105.68,91.06 L105.77,92.98 L105.86,94.81 L105.95,95.66 L106.04,95.14 L106.13,94.08 L106.22,95.35 L106.30,95.69 L106.39,97.19 L106.48,95.90 L106.57,98.80 L106.66,100.07 L106.75,99.74 L106.84,101.10 L106.93,100.05 L107.01,100.06 L107.10,101.68 L107.19,104.46 L107.28,104.94 L107.37,103.78 L107.46,106.41 L107.55,105.20 L107.63,108.04 L107.72,107.43 L107.81,106.94 L107.90,109.07 L107.99,107.81 L108.08,108.25 L108.17,108.26 L108.26,110.39 L108.34,110.09 L108.43,110.13 L108.52,109.81 L108.61,112.10 L108.70,109.94 L108.79,109.66 L108.88,112.09 L108.96,112.38 L109.05,111.16 L109.14,108.74 L109.23,110.18 L109.32,111.71 L109.41,111.07 L109.50,112.99 L109.58,109.56 L109.67,112.09 L109.76,110.60 L109.85,113.01 L109.94,111.41 L110.03,112.81 L110.12,110.88 L110.21,110.04 L110.29,110.47 L110.38,111.15 L110.47,110.72 L110.56,113.46 L110.65,113.70 L110.74,112.50 L110.83,111.01 L110.91,112.18 L111.00,111.58 L111.09,114.21 L111.18,112.93 L111.27,113.21 L111.36,112.22 L111.45,110.37 L111.53,111.93 L111.62,111.59 L111.71,113.44 L111.80,113.19 L111.89,112.19 L111.98,112.76 L112.07,115.17 L112.16,112.23 L112.24,112.36 L112.33,113.25 L112.42,112.77 L112.51,113.16 L112.60,114.38 L112.69,115.89 L112.78,111.78 L112.86,113.95 L112.95,114.10 L113.04,114.03 L113.13,113.98 L113.22,113.87 L113.31,115.55 L113.40,113.87 L113.48,114.35 L113.57,114.57 L113.66,114.78 L113.75,114.52 L113.84,115.99 L113.93,114.86 L114.02,115.16 L114.11,114.95 L114.19,113.86 L114.28,114.10 L114.37,113.87 L114.46,115.38 L114.55,114.34 L114.64,113.97 L114.73,115.55 L114.81,115.92 L114.90,113.24 L114.99,117.38 L115.08,115.45 L115.17,115.32 L115.26,116.75 L115.35,115.60 L115.43,114.84 L115.52,118.19 L115.61,114.35 L115.70,115.54 L115.79,116.70 L115.88,114.46 L115.97,115.65 L116.06,116.26 L116.14,118.69 L116.23,114.82 L116.32,115.86 L116.41,116.73 L116.50,116.08 L116.59,114.60 L116.68,116.54 L116.76,116.22 L116.85,116.66 L116.94,117.50 L117.03,117.40 L117.12,116.72 L117.21,116.64 L117.30,115.01 L117.38,116.19 L117.47,116.64 L117.56,115.94 L117.65,116.57 L117.74,115.51 L117.83,118.34 L117.92,119.10 L118.01,116.14 L118.09,117.11 L118.18,116.39 L118.27,118.20 L118.36,117.25 L118.45,116.87 L118.54,116.55 L118.63,117.00 L118.71,115.70 L118.80,117.72 L118.89,116.11 L118.98,117.62 L119.07,117.18 L119.16,118.36 L119.25,117.08 L119.34,118.34 L119.42,116.08 L119.51,117.93 L119.60,116.98 L119.69,117.51 L119.78,117.40 L119.87,118.46 L119.96,115.01 L120.04,117.80 L120.13,115.70 L120.22,118.92 L120.31,115.21 L120.40,116.39 L120.49,115.63 L120.58,119.57 L120.66,116.16 L120.75,117.85 L120.84,117.12 L120.93,115.67 L121.02,117.42 L121.11,118.64 L121.20,117.68 L121.29,119.03 L121.37,117.54 L121.46,118.01 L121.55,117.58 L121.64,118.48 L121.73,120.34 L121.82,118.57 L121.91,118.41 L121.99,117.49 L122.08,117.36 L122.17,120.01 L122.26,117.02 L122.35,117.29 L122.44,118.28 L122.53,117.93 L122.61,120.76 L122.70,115.73 L122.79,118.96 L122.88,119.41 L122.97,117.30 L123.06,117.89 L123.15,119.19 L123.24,120.63 L123.32,117.68 L123.41,116.94 L123.50,119.97 L123.59,120.65 L123.68,118.51 L123.77,116.34 L123.86,120.67 L123.94,118.78 L124.03,120.36 L124.12,119.03 L124.21,118.68 L124.30,118.62 L124.39,120.91 L124.48,120.90 L124.56,116.76 L124.65,118.20 L124.74,121.41 L124.83,118.94 L124.92,117.81 L125.01,119.45 L125.10,119.35 L125.19,119.40 L125.27,118.99 L125.36,119.22 L125.45,119.09 L125.54,120.05 L125.63,118.74 L125.72,119.39 L125.81,119.60 L125.89,121.33 L125.98,120.27 L126.07,119.74 L126.16,120.53 L126.25,120.42 L126.34,121.25 L126.43,120.61 L126.51,122.15 L126.60,121.66 L126.69,120.08 L126.78,119.68 L126.87,121.23 L126.96,120.83 L127.05,120.16 L127.14,118.58 L127.22,118.20 L127.31,120.78 L127.40,121.31 L127.49,121.38 L127.58,118.98 L127.67,121.73 L127.76,119.93 L127.84,121.04 L127.93,121.11 L128.02,119.73 L128.11,120.01 L128.20,118.32 L128.29,119.71 L128.38,118.71 L128.46,121.35 L128.55,120.95 L128.64,121.98 L128.73,121.37 L128.82,120.25 L128.91,121.41 L129.00,120.58 L129.09,121.76 L129.17,121.43 L129.26,119.94 L129.35,121.11 L129.44,121.19 L129.53,120.78 L129.62,122.20 L129.71,123.17 L129.79,120.77 L129.88,120.81 L129.97,118.62 L130.06,121.10 L130.15,120.76 L130.24,118.78 L130.33,121.64 L130.42,122.01 L130.50,120.49 L130.59,120.93 L130.68,120.26 L130.77,122.28 L130.86,119.66 L130.95,121.07 L131.04,123.71 L131.12,121.53 L131.21,122.03 L131.30,121.34 L131.39,120.17 L131.48,121.51 L131.57,122.03 L131.66,120.40 L131.74,122.00 L131.83,123.06 L131.92,122.87 L132.01,119.82 L132.10,120.55 L132.19,119.83 L132.28,122.95 L132.37,122.43 L132.45,122.56 L132.54,120.75 L132.63,120.44 L132.72,121.89 L132.81,121.94 L132.90,120.85 L132.99,122.02 L133.07,122.62 L133.16,122.16 L133.25,120.71 L133.34,119.49 L133.43,121.65 L133.52,122.16 L133.61,121.69 L133.69,121.51 L133.78,121.22 L133.87,122.87 L133.96,122.00 L134.05,122.22 L134.14,120.98 L134.23,121.40 L134.32,122.32 L134.40,120.99 L134.49,120.72 L134.58,121.81 L134.67,123.59 L134.76,122.44 L134.85,123.92 L134.94,122.11 L135.02,121.92 L135.11,120.69 L135.20,121.65 L135.29,123.99 L135.38,122.73 L135.47,123.22 L135.56,123.20 L135.64,122.40 L135.73,122.19 L135.82,122.58 L135.91,123.24 L136.00,123.01 L136.09,123.07 L136.18,122.70 L136.27,121.65 L136.35,122.25 L136.44,121.49 L136.53,123.75 L136.62,120.20 L136.71,122.38 L136.80,125.39 L136.89,122.27 L136.97,121.38 L137.06,122.68 L137.15,124.20 L137.24,122.55 L137.33,123.46 L137.42,122.89 L137.51,122.37 L137.59,125.73 L137.68,122.91 L137.77,122.23 L137.86,122.31 L137.95,123.32 L138.04,123.37 L138.13,123.81 L138.22,123.10 L138.30,121.32 L138.39,123.59 L138.48,122.64 L138.57,122.69 L138.66,121.33 L138.75,122.39 L138.84,122.24 L138.92,123.05 L139.01,121.44 L139.10,123.18 L139.19,123.29 L139.28,121.88 L139.37,122.47 L139.46,122.22 L139.54,124.25 L139.63,120.34 L139.72,122.86 L139.81,121.37 L139.90,122.80 L139.99,124.28 L140.08,122.61 L140.17,123.50 L140.25,122.40 L140.34,125.60 L140.43,124.44 L140.52,124.71 L140.61,121.92 L140.70,122.20 L140.79,124.71 L140.87,123.27 L140.96,123.22 L141.05,123.91 L141.14,122.12 L141.23,124.45 L141.32,123.60 L141.41,124.15 L141.50,122.86 L141.58,124.22 L141.67,122.85 L141.76,124.76 L141.85,124.98 L141.94,124.75 L142.03,124.32 L142.12,124.47 L142.20,120.87 L142.29,124.74 L142.38,123.49 L142.47,123.93 L142.56,123.52 L142.65,122.28 L142.74,123.26 L142.82,124.65 L142.91,125.53 L143.00,123.22 L143.09,122.92 L143.18,125.62 L143.27,122.98 L143.36,126.35 L143.45,124.02 L143.53,122.93 L143.62,125.03 L143.71,125.81 L143.80,122.23 L143.89,125.60 L143.98,123.48 L144.07,125.46 L144.15,123.32 L144.24,121.93 L144.33,124.27 L144.42,124.72 L144.51,126.02 L144.60,125.57 L144.69,124.38 L144.77,123.29 L144.86,122.95 L144.95,123.17 L145.04,122.54 L145.13,123.14 L145.22,120.54 L145.31,123.60 L145.40,123.34 L145.48,126.23 L145.57,124.18 L145.66,122.75 L145.75,123.91 L145.84,121.85 L145.93,122.53 L146.02,121.07 L146.10,124.79 L146.19,123.81 L146.28,121.78 L146.37,123.01 L146.46,124.13 L146.55,123.59 L146.64,123.43 L146.72,122.00 L146.81,122.23 L146.90,123.03 L146.99,123.93 L147.08,121.93 L147.17,121.57 L147.26,124.10 L147.35,121.73 L147.43,123.98 L147.52,123.01 L147.61,123.70 L147.70,124.65 L147.79,123.43 L147.88,123.50 L147.97,121.56 L148.05,121.79 L148.14,123.27 L148.23,124.25 L148.32,124.06 L148.41,125.08 L148.50,122.79 L148.59,122.64 L148.67,123.52 L148.76,122.38 L148.85,122.26 L148.94,121.12 L149.03,123.39 L149.12,121.04 L149.21,122.80 L149.30,120.60 L149.38,123.40 L149.47,120.98 L149.56,123.07 L149.65,120.30 L149.74,121.57 L149.83,123.36 L149.92,121.10 L150.00,122.06 L150.09,121.42 L150.18,119.33 L150.27,122.25 L150.36,122.36 L150.45,120.60 L150.54,122.47 L150.62,120.90 L150.71,120.64 L150.80,121.75 L150.89,120.95 L150.98,124.26 L151.07,119.91 L151.16,122.46 L151.25,122.72 L151.33,119.36 L151.42,119.61 L151.51,122.16 L151.60,120.96 L151.69,121.95 L151.78,122.83 L151.87,121.15 L151.95,120.40 L152.04,118.77 L152.13,121.87 L152.22,120.63 L152.31,122.04 L152.40,121.98 L152.49,120.19 L152.58,123.70 L152.66,123.00 L152.75,122.76 L152.84,120.51 L152.93,121.40 L153.02,121.27 L153.11,121.44 L153.20,120.67 L153.28,122.44 L153.37,122.24 L153.46,122.41 L153.55,121.46 L153.64,123.50 L153.73,122.29 L153.82,119.25 L153.90,121.41 L153.99,122.08 L154.08,123.25 L154.17,121.86 L154.26,121.94 L154.35,121.50 L154.44,123.01 L154.53,121.79 L154.61,121.64 L154.70,121.51 L154.79,122.99 L154.88,121.79 L154.97,120.54 L155.06,123.13 L155.15,121.68 L155.23,122.88 L155.32,122.92 L155.41,123.87 L155.50,123.72 L155.59,121.94 L155.68,122.42 L155.77,121.19 L155.85,124.52 L155.94,123.17 L156.03,124.25 L156.12,122.37 L156.21,120.47 L156.30,124.48 L156.39,122.90 L156.48,122.97 L156.56,122.91 L156.65,123.59 L156.74,123.49 L156.83,121.15 L156.92,124.15 L157.01,122.38 L157.10,122.47 L157.18,124.93 L157.27,124.06 L157.36,122.68 L157.45,121.02 L157.54,123.29 L157.63,123.73 L157.72,123.07 L157.80,121.80 L157.89,122.33 L157.98,121.83 L158.07,123.49 L158.16,124.19 L158.25,124.44 L158.34,122.51 L158.43,123.61 L158.51,123.99 L158.60,122.83 L158.69,123.26 L158.78,125.80 L158.87,123.70 L158.96,124.47 L159.05,123.03 L159.13,123.58 L159.22,121.65 L159.31,123.54 L159.40,124.91 L159.49,125.94 L159.58,124.96 L159.67,124.41 L159.75,123.73 L159.84,123.03 L159.93,123.53 L160.02,124.41 L160.11,122.88 L160.20,124.80 L160.29,122.70 L160.38,121.84 L160.46,122.71 L160.55,122.01 L160.64,122.35 L160.73,125.14 L160.82,123.69 L160.91,124.17 L161.00,125.23 L161.08,125.36 L161.17,123.43 L161.26,125.48 L161.35,124.45 L161.44,124.05 L161.53,124.56 L161.62,122.51 L161.70,123.24 L161.79,124.01 L161.88,124.82 L161.97,123.76 L162.06,124.05 L162.15,125.28 L162.24,125.78 L162.33,125.09 L162.41,125.66 L162.50,123.84 L162.59,123.97 L162.68,124.68 L162.77,124.01 L162.86,123.81 L162.95,126.20 L163.03,124.18 L163.12,123.36 L163.21,124.98 L163.30,126.48 L163.39,124.57 L163.48,125.86 L163.57,124.04 L163.66,124.00 L163.74,123.80 L163.83,124.42 L163.92,126.62 L164.01,123.35 L164.10,126.44 L164.19,123.55 L164.28,124.42 L164.36,125.62 L164.45,125.41 L164.54,125.05 L164.63,122.95 L164.72,125.18 L164.81,123.68 L164.90,127.62 L164.98,124.61 L165.07,125.07 L165.16,123.62 L165.25,124.37 L165.34,123.50 L165.43,126.02 L165.52,124.67 L165.61,125.60 L165.69,124.25 L165.78,124.47 L165.87,126.45 L165.96,123.99 L166.05,123.10 L166.14,125.54 L166.23,123.87 L166.31,124.66 L166.40,126.16 L166.49,124.28 L166.58,126.16 L166.67,124.47 L166.76,126.87 L166.85,126.71 L166.93,124.76 L167.02,125.06 L167.11,124.40 L167.20,125.55 L167.29,126.61 L167.38,123.79 L167.47,126.40 L167.56,123.97 L167.64,124.49 L167.73,123.50 L167.82,127.77 L167.91,125.56 L168.00,125.78 L168.09,124.79 L168.18,126.72 L168.26,123.28 L168.35,125.62 L168.44,128.02 L168.53,125.21 L168.62,125.67 L168.71,126.41 L168.80,124.81 L168.88,125.74 L168.97,126.78 L169.06,125.96 L169.15,126.18 L169.24,125.41 L169.33,126.15 L169.42,125.89 L169.51,127.44 L169.59,126.66 L169.68,125.62 L169.77,123.24 L169.86,126.71 L169.95,126.77 L170.04,124.97 L170.13,123.81 L170.21,124.76 L170.30,127.04 L170.39,124.89 L170.48,125.57 L170.57,126.33 L170.66,127.44 L170.75,126.11 L170.83,126.04 L170.92,125.57 L171.01,127.96 L171.10,127.36 L171.19,126.12 L171.28,124.73 L171.37,125.41 L171.46,126.91 L171.54,125.52 L171.63,127.29 L171.72,126.74 L171.81,126.68 L171.90,127.09 L171.99,126.95 L172.08,125.50 L172.16,126.09 L172.25,129.00 L172.34,125.17 L172.43,125.99 L172.52,127.68 L172.61,126.37 L172.70,125.68 L172.78,125.15 L172.87,127.18 L172.96,127.73 L173.05,128.16 L173.14,126.72 L173.23,127.81 L173.32,125.58 L173.41,126.90 L173.49,126.01 L173.58,126.95 L173.67,127.59 L173.76,127.96 L173.85,125.74 L173.94,128.19 L174.03,126.31 L174.11,125.72 L174.20,126.66 L174.29,125.27 L174.38,126.86 L174.47,127.18 L174.56,126.66 L174.65,127.46 L174.74,126.55 L174.82,126.91 L174.91,125.35 L175.00,126.96 L175.09,126.01 L175.18,126.45 L175.27,126.84 L175.36,127.16 L175.44,125.18 L175.53,125.28 L175.62,126.65 L175.71,127.50 L175.80,127.38 L175.89,127.96 L175.98,128.41 L176.06,127.55 L176.15,127.01 L176.24,125.92 L176.33,126.02 L176.42,126.55 L176.51,127.35 L176.60,127.31 L176.69,127.08 L176.77,126.92 L176.86,127.77 L176.95,127.33 L177.04,127.43 L177.13,127.45 L177.22,126.54 L177.31,126.03 L177.39,127.67 L177.48,127.60 L177.57,126.92 L177.66,126.72 L177.75,129.63 L177.84,126.37 L177.93,126.96 L178.01,127.49 L178.10,125.97 L178.19,127.35 L178.28,129.16 L178.37,128.24 L178.46,127.92 L178.55,127.89 L178.64,127.38 L178.72,128.30 L178.81,127.11 L178.90,126.83 L178.99,127.41 L179.08,128.28 L179.17,127.67 L179.26,128.04 L179.34,125.16 L179.43,128.62 L179.52,129.86 L179.61,128.79 L179.70,127.02 L179.79,126.46 L179.88,127.68 L179.96,126.33 L180.05,128.17 L180.14,126.84 L180.23,128.44 L180.32,128.88 L180.41,125.25 L180.50,127.75 L180.59,126.70 L180.67,125.95 L180.76,126.80 L180.85,127.24 L180.94,128.59 L181.03,125.86 L181.12,128.62 L181.21,129.66 L181.29,128.15 L181.38,128.11 L181.47,127.52 L181.56,126.28 L181.65,128.12 L181.74,127.97 L181.83,128.35 L181.91,130.29 L182.00,128.36 L182.09,128.04 L182.18,129.27 L182.27,126.17 L182.36,126.40 L182.45,127.22 L182.54,126.93 L182.62,128.38 L182.71,127.31 L182.80,129.51 L182.89,129.29 L182.98,128.49 L183.07,127.27 L183.16,128.35 L183.24,128.56 L183.33,126.57 L183.42,128.09 L183.51,128.48 L183.60,127.96 L183.69,129.41 L183.78,129.04 L183.86,126.88 L183.95,127.90 L184.04,126.89 L184.13,128.40 L184.22,126.87 L184.31,128.78 L184.40,128.22 L184.49,128.85 L184.57,127.67 L184.66,126.29 L184.75,129.72 L184.84,127.67 L184.93,129.32 L185.02,128.32 L185.11,128.59 L185.19,129.83 L185.28,128.25 L185.37,129.39 L185.46,126.33 L185.55,128.84 L185.64,127.67 L185.73,127.79 L185.82,127.95 L185.90,128.32 L185.99,129.72 L186.08,126.00 L186.17,128.02 L186.26,127.22 L186.35,129.23 L186.44,127.55 L186.52,128.49 L186.61,127.60 L186.70,128.73 L186.79,129.11 L186.88,127.62 L186.97,128.10 L187.06,126.56 L187.14,128.39 L187.23,128.98 L187.32,127.50 L187.41,129.28 L187.50,125.91 L187.59,126.15 L187.68,126.65 L187.77,127.61 L187.85,128.16 L187.94,128.06 L188.03,128.08 L188.12,128.93 L188.21,127.67 L188.30,126.84 L188.39,126.87 L188.47,130.43 L188.56,125.72 L188.65,128.03 L188.74,129.76 L188.83,128.74 L188.92,127.36 L189.01,128.25 L189.09,129.16 L189.18,129.54 L189.27,127.32 L189.36,129.08 L189.45,128.55 L189.54,129.46 L189.63,129.77 L189.72,127.95 L189.80,126.79 L189.89,128.75 L189.98,130.21 L190.07,129.07 L190.16,128.60 L190.25,130.89 L190.34,127.28 L190.42,129.33 L190.51,127.79 L190.60,128.45 L190.69,128.50 L190.78,130.01 L190.87,127.44 L190.96,127.87 L191.04,126.76 L191.13,128.96 L191.22,127.97 L191.31,128.91 L191.40,127.34 L191.49,128.10 L191.58,129.58 L191.67,128.31 L191.75,129.16 L191.84,129.07 L191.93,128.15 L192.02,126.89 L192.11,129.57 L192.20,128.73 L192.29,129.59 L192.37,126.45 L192.46,126.84 L192.55,126.33 L192.64,127.67 L192.73,129.69 L192.82,129.20 L192.91,128.58 L192.99,128.76 L193.08,129.43 L193.17,128.32 L193.26,129.06 L193.35,128.80 L193.44,126.37 L193.53,128.27 L193.62,130.10 L193.70,128.28 L193.79,128.55 L193.88,128.07 L193.97,128.21 L194.06,129.90 L194.15,128.45 L194.24,127.67 L194.32,126.09 L194.41,128.16 L194.50,126.71 L194.59,126.87 L194.68,129.61 L194.77,129.53 L194.86,126.80 L194.94,129.70 L195.03,129.30 L195.12,128.01 L195.21,129.60 L195.30,127.14 L195.39,127.59 L195.48,127.36 L195.57,127.71 L195.65,129.79 L195.74,127.49 L195.83,127.69 L195.92,127.91 L196.01,129.11 L196.10,128.56 L196.19,129.82 L196.27,128.19 L196.36,127.60 L196.45,128.43 L196.54,129.00 L196.63,127.99 L196.72,129.26 L196.81,130.87 L196.90,128.38 L196.98,129.04 L197.07,130.41 L197.16,128.33 L197.25,128.13 L197.34,127.88 L197.43,129.44 L197.52,129.57 L197.60,128.89 L197.69,129.10 L197.78,130.38 L197.87,129.97 L197.96,127.62 L198.05,129.07 L198.14,129.20 L198.22,129.84 L198.31,128.87 L198.40,128.44 L198.49,128.64 L198.58,127.28 L198.67,129.11 L198.76,128.52 L198.85,129.63 L198.93,128.09 L199.02,128.71 L199.11,128.16 L199.20,128.07 L199.29,129.91 L199.38,128.71 L199.47,129.66 L199.55,128.05 L199.64,129.32 L199.73,127.47 L199.82,128.74 L199.91,128.72 L200.00,129.85 L200.09,129.44 L200.17,129.08 L200.26,130.14 L200.35,129.48 L200.44,129.84 L200.53,130.09 L200.62,129.23 L200.71,129.01 L200.80,129.66 L200.88,128.89 L200.97,129.73 L201.06,130.49 L201.15,130.23 L201.24,128.96 L201.33,128.04 L201.42,129.32 L201.50,129.25 L201.59,130.53 L201.68,129.00 L201.77,129.19 L201.86,130.17 L201.95,128.93 L202.04,129.27 L202.12,131.21 L202.21,130.98 L202.30,130.10 L202.39,129.74 L202.48,128.48 L202.57,130.06 L202.66,129.55 L202.75,129.73 L202.83,128.97 L202.92,129.50 L203.01,129.33 L203.10,129.86 L203.19,131.01 L203.28,129.92 L203.37,127.85 L203.45,128.56 L203.54,127.94 L203.63,128.75 L203.72,130.14 L203.81,129.99 L203.90,128.96 L203.99,129.86 L204.07,128.81 L204.16,128.13 L204.25,128.15 L204.34,128.72 L204.43,131.06 L204.52,128.23 L204.61,130.89 L204.70,130.98 L204.78,129.43 L204.87,129.57 L204.96,129.00 L205.05,129.61 L205.14,130.31 L205.23,129.65 L205.32,130.66 L205.40,130.86 L205.49,130.00 L205.58,129.99 L205.67,129.60 L205.76,130.02 L205.85,128.53 L205.94,130.09 L206.02,129.89 L206.11,128.80 L206.20,131.88 L206.29,128.69 L206.38,128.80 L206.47,129.98 L206.56,127.72 L206.65,128.90 L206.73,128.15 L206.82,128.73 L206.91,129.58 L207.00,130.05 L207.09,130.85 L207.18,130.55 L207.27,130.94 L207.35,130.34 L207.44,129.26 L207.53,130.88 L207.62,129.25 L207.71,129.13 L207.80,131.32 L207.89,130.57 L207.98,129.99 L208.06,130.54 L208.15,130.67 L208.24,128.39 L208.33,129.69 L208.42,128.58 L208.51,129.91 L208.60,129.11 L208.68,131.18 L208.77,130.33 L208.86,128.98 L208.95,129.79 L209.04,128.58 L209.13,129.86 L209.22,130.38 L209.30,130.10 L209.39,127.87 L209.48,129.49 L209.57,130.36 L209.66,130.16 L209.75,131.03 L209.84,128.54 L209.93,130.39 L210.01,129.20 L210.10,130.06 L210.19,130.28 L210.28,130.57 L210.37,129.29 L210.46,130.07 L210.55,128.70 L210.63,128.46 L210.72,130.46 L210.81,129.84 L210.90,128.26 L210.99,129.04 L211.08,129.93 L211.17,131.49 L211.25,130.98 L211.34,130.73 L211.43,128.11 L211.52,129.83 L211.61,130.42 L211.70,130.34 L211.79,130.36 L211.88,129.71 L211.96,131.73 L212.05,131.45 L212.14,129.86 L212.23,128.97 L212.32,132.05 L212.41,129.41 L212.50,131.19 L212.58,131.91 L212.67,129.03 L212.76,130.28 L212.85,129.64 L212.94,130.52 L213.03,130.33 L213.12,131.97 L213.20,130.61 L213.29,130.01 L213.38,131.16 L213.47,129.75 L213.56,129.66 L213.65,132.29 L213.74,129.21 L213.83,129.55 L213.91,130.09 L214.00,128.98 L214.09,127.92 L214.18,131.12 L214.27,129.27 L214.36,129.52 L214.45,129.69 L214.53,129.08 L214.62,128.99 L214.71,130.24 L214.80,132.50 L214.89,130.83 L214.98,130.85 L215.07,128.58 L215.15,130.08 L215.24,128.91 L215.33,130.89 L215.42,129.88 L215.51,130.16 L215.60,130.03 L215.69,129.54 L215.78,128.60 L215.86,130.72 L215.95,128.75 L216.04,128.96 L216.13,129.85 L216.22,129.44 L216.31,130.42 L216.40,131.18 L216.48,130.42 L216.57,130.37 L216.66,130.20 L216.75,131.04 L216.84,128.33 L216.93,130.56 L217.02,129.25 L217.10,128.96 L217.19,130.20 L217.28,129.81 L217.37,130.79 L217.46,131.32 L217.55,127.88 L217.64,130.15 L217.73,132.19 L217.81,131.10 L217.90,131.68 L217.99,130.34 L218.08,128.80 L218.17,129.12 L218.26,130.96 L218.35,131.21 L218.43,129.52 L218.52,129.99 L218.61,130.53 L218.70,128.52 L218.79,129.92 L218.88,131.90 L218.97,132.47 L219.06,130.18 L219.14,132.13 L219.23,129.77 L219.32,129.49 L219.41,128.06 L219.50,131.27 L219.59,129.94 L219.68,132.66 L219.76,130.65 L219.85,130.51 L219.94,128.52 L220.03,131.83 L220.12,129.98 L220.21,130.18 L220.30,128.14 L220.38,131.28 L220.47,131.34 L220.56,129.75 L220.65,130.46 L220.74,130.76 L220.83,131.33 L220.92,130.48 L221.01,132.10 L221.09,130.14 L221.18,129.79 L221.27,129.93 L221.36,127.92 L221.45,129.60 L221.54,131.41 L221.63,130.68 L221.71,129.60 L221.80,130.77 L221.89,128.41 L221.98,130.15 L222.07,130.96 L222.16,131.13 L222.25,129.67 L222.33,131.36 L222.42,132.31 L222.51,130.03 L222.60,131.20 L222.69,128.91 L222.78,128.52 L222.87,131.08 L222.96,130.52 L223.04,130.68 L223.13,129.91 L223.22,130.20 L223.31,131.30 L223.40,132.21 L223.49,130.29 L223.58,128.87 L223.66,131.78 L223.75,131.12 L223.84,131.20 L223.93,130.71 L224.02,132.84 L224.11,130.61 L224.20,131.05 L224.28,128.70 L224.37,129.97 L224.46,129.87 L224.55,130.53 L224.64,130.91 L224.73,129.82 L224.82,132.28 L224.91,129.52 L224.99,130.13 L225.08,130.82 L225.17,129.35 L225.26,131.15 L225.35,131.22 L225.44,130.31 L225.53,132.49 L225.61,130.69 L225.70,130.89 L225.79,129.66 L225.88,128.96 L225.97,130.00 L226.06,130.31 L226.15,130.18 L226.23,131.40 L226.32,128.28 L226.41,129.52 L226.50,128.84 L226.59,131.98 L226.68,130.10 L226.77,130.15 L226.86,129.58 L226.94,131.56 L227.03,130.27 L227.12,130.90 L227.21,128.67 L227.30,131.84 L227.39,131.08 L227.48,131.24 L227.56,131.92 L227.65,130.51 L227.74,130.54 L227.83,131.42 L227.92,131.14 L228.01,130.48 L228.10,130.77 L228.18,130.23 L228.27,131.44 L228.36,131.66 L228.45,130.75 L228.54,132.60 L228.63,129.24 L228.72,130.53 L228.81,132.45 L228.89,130.35 L228.98,129.19 L229.07,132.15 L229.16,131.31 L229.25,129.61 L229.34,131.55 L229.43,129.78 L229.51,129.47 L229.60,130.65 L229.69,130.33 L229.78,129.73 L229.87,130.45 L229.96,129.83 L230.05,130.88 L230.14,130.80 L230.22,131.56 L230.31,130.39 L230.40,129.53 L230.49,129.54 L230.58,130.60 L230.67,132.36 L230.76,131.69 L230.84,130.23 L230.93,131.79 L231.02,129.73 L231.11,131.87 L231.20,130.50 L231.29,131.63 L231.38,131.50 L231.46,130.62 L231.55,131.21 L231.64,129.85 L231.73,130.83 L231.82,131.97 L231.91,133.45 L232.00,131.60 L232.09,131.00 L232.17,129.93 L232.26,131.97 L232.35,129.31 L232.44,130.15 L232.53,131.29 L232.62,129.76 L232.71,132.46 L232.79,132.02 L232.88,130.40 L232.97,130.41 L233.06,129.67 L233.15,129.59 L233.24,131.40 L233.33,131.58 L233.41,131.31 L233.50,131.23 L233.59,130.43 L233.68,131.33 L233.77,129.54 L233.86,130.99 L233.95,132.43 L234.04,132.28 L234.12,130.54 L234.21,130.67 L234.30,132.34 L234.39,132.74 L234.48,129.54 L234.57,130.58 L234.66,131.23 L234.74,132.20 L234.83,130.19 L234.92,131.64 L235.01,130.72 L235.10,133.34 L235.19,131.44 L235.28,130.89 L235.36,130.70 L235.45,132.06 L235.54,131.69 L235.63,129.97 L235.72,131.25 L235.81,129.73 L235.90,130.30 L235.99,129.78 L236.07,129.75 L236.16,130.38 L236.25,130.09 L236.34,131.57 L236.43,131.83 L236.52,130.82 L236.61,129.97 L236.69,131.84 L236.78,129.09 L236.87,129.18 L236.96,131.78 L237.05,131.71 L237.14,132.02 L237.23,130.87 L237.31,129.85 L237.40,130.58 L237.49,131.63 L237.58,130.34 L237.67,130.40 L237.76,129.73 L237.85,129.96 L237.94,131.91 L238.02,131.54 L238.11,129.97 L238.20,130.05 L238.29,130.56 L238.38,131.64 L238.47,129.97 L238.56,130.95 L238.64,129.03 L238.73,129.90 L238.82,131.53 L238.91,131.99 L239.00,130.00 L239.09,130.38 L239.18,131.90 L239.26,130.75 L239.35,130.61 L239.44,131.64 L239.53,131.33 L239.62,132.22 L239.71,131.91 L239.80,130.59 L239.89,131.03 L239.97,131.09 L240.06,129.84 L240.15,130.21 L240.24,132.10 L240.33,129.62 L240.42,132.13 L240.51,131.44 L240.59,131.03 L240.68,131.69 L240.77,131.63 L240.86,132.34 L240.95,130.79 L241.04,130.96 L241.13,130.95 L241.22,133.00 L241.30,132.10 L241.39,130.30 L241.48,130.87 L241.57,130.52 L241.66,131.21 L241.75,131.41 L241.84,133.41 L241.92,129.45 L242.01,132.20 L242.10,131.63 L242.19,130.54 L242.28,131.07 L242.37,130.74 L242.46,131.27 L242.54,132.19 L242.63,129.77 L242.72,132.49 L242.81,130.87 L242.90,132.68 L242.99,131.63 L243.08,132.43 L243.17,131.79 L243.25,132.29 L243.34,131.30 L243.43,130.45 L243.52,131.90 L243.61,131.94 L243.70,133.27 L243.79,129.34 L243.87,131.08 L243.96,132.29 L244.05,130.07 L244.14,131.05 L244.23,133.31 L244.32,132.64 L244.41,130.44 L244.49,132.65 L244.58,132.42 L244.67,132.03 L244.76,131.66 L244.85,131.52 L244.94,130.46 L245.03,130.81 L245.12,132.00 L245.20,131.44 L245.29,133.08 L245.38,130.99 L245.47,129.02 L245.56,131.00 L245.65,131.58 L245.74,131.69 L245.82,131.39 L245.91,130.54 L246.00,132.76 L246.09,130.70 L246.18,132.01 L246.27,131.06 L246.36,130.20 L246.44,132.69 L246.53,128.95 L246.62,130.54 L246.71,131.76 L246.80,131.01 L246.89,132.07 L246.98,131.26 L247.07,130.93 L247.15,133.42 L247.24,131.16 L247.33,131.22 L247.42,130.34 L247.51,130.66 L247.60,132.00 L247.69,131.92 L247.77,131.38 L247.86,130.72 L247.95,132.04 L248.04,129.77 L248.13,131.07 L248.22,131.16 L248.31,130.60 L248.39,131.55 L248.48,130.77 L248.57,130.65 L248.66,133.12 L248.75,132.12 L248.84,132.56 L248.93,131.47 L249.02,132.34 L249.10,132.17 L249.19,132.58 L249.28,133.68 L249.37,131.22 L249.46,131.68 L249.55,131.39 L249.64,129.04 L249.72,130.12 L249.81,131.47 L249.90,132.05 L249.99,130.91 L250.08,132.53 L250.17,132.68 L250.26,131.07 L250.34,132.81 L250.43,133.13 L250.52,131.91 L250.61,130.55 L250.70,132.87 L250.79,131.33 L250.88,131.13 L250.97,131.60 L251.05,130.98 L251.14,132.51 L251.23,132.23 L251.32,132.65 L251.41,132.05 L251.50,130.76 L251.59,131.36 L251.67,132.34 L251.76,131.13 L251.85,133.91 L251.94,131.29 L252.03,130.97 L252.12,132.60 L252.21,132.23 L252.30,131.50 L252.38,131.31 L252.47,131.93 L252.56,132.32 L252.65,132.25 L252.74,131.25 L252.83,131.95 L252.92,132.34 L253.00,132.27 L253.09,129.15 L253.18,130.71 L253.27,130.82 L253.36,131.34 L253.45,131.73 L253.54,132.43 L253.62,132.14 L253.71,131.45 L253.80,131.59 L253.89,133.22 L253.98,131.00 L254.07,131.86 L254.16,133.05 L254.25,131.90 L254.33,129.66 L254.42,131.94 L254.51,131.22 L254.60,131.48 L254.69,132.58 L254.78,132.03 L254.87,131.35 L254.95,132.43 L255.04,132.01 L255.13,131.70 L255.22,131.89 L255.31,131.85 L255.40,131.29 L255.49,131.18 L255.57,131.64 L255.66,130.72 L255.75,130.44 L255.84,132.84 L255.93,131.40 L256.02,131.60 L256.11,131.50 L256.20,131.65 L256.28,131.66 L256.37,131.70 L256.46,130.89 L256.55,132.51 L256.64,131.00 L256.73,132.61 L256.82,129.86 L256.90,130.66 L256.99,132.58 L257.08,131.52 L257.17,131.03 L257.26,132.01 L257.35,130.69 L257.44,131.74 L257.52,129.60 L257.61,131.25 L257.70,131.07 L257.79,132.18 L257.88,132.49 L257.97,130.88 L258.06,133.18 L258.15,131.13 L258.23,129.77 L258.32,129.47 L258.41,133.12 L258.50,131.61 L258.59,131.09 L258.68,131.00 L258.77,130.69 L258.85,132.96 L258.94,131.63 L259.03,133.37 L259.12,131.53 L259.21,129.53 L259.30,132.50 L259.39,131.38 L259.47,131.50 L259.56,133.18 L259.65,131.48 L259.74,132.81 L259.83,131.73 L259.92,131.03 L260.01,132.21 L260.10,131.18 L260.18,132.88 L260.27,132.63 L260.36,131.80 L260.45,132.31 L260.54,132.27 L260.63,131.50 L260.72,132.58 L260.80,131.55 L260.89,132.33 L260.98,130.88 L261.07,131.86 L261.16,132.15 L261.25,131.04 L261.34,131.39 L261.42,131.28 L261.51,132.45 L261.60,131.12 L261.69,132.19 L261.78,133.20 L261.87,132.12 L261.96,130.30 L262.05,131.91 L262.13,132.76 L262.22,131.54 L262.31,132.83 L262.40,132.38" fill="none" stroke="#0e80c6" stroke-width="1.2" stroke-linejoin="round" clip-path="url(#ca)"/>
<path d="M40.80,151.47 L40.89,150.03 L40.98,149.57 L41.07,150.25 L41.15,151.07 L41.24,152.21 L41.33,152.09 L41.42,150.57 L41.51,151.49 L41.60,152.32 L41.69,147.90 L41.78,149.93 L41.86,149.96 L41.95,151.41 L42.04,151.35 L42.13,151.49 L42.22,150.21 L42.31,153.80 L42.40,153.01 L42.48,148.79 L42.57,152.62 L42.66,150.16 L42.75,156.63 L42.84,151.88 L42.93,152.12 L43.02,153.30 L43.10,152.77 L43.19,153.19 L43.28,156.90 L43.37,154.04 L43.46,155.51 L43.55,156.27 L43.64,151.65 L43.73,157.74 L43.81,155.59 L43.90,156.30 L43.99,152.31 L44.08,156.19 L44.17,155.39 L44.26,153.36 L44.35,159.79 L44.43,156.04 L44.52,154.34 L44.61,155.41 L44.70,157.12 L44.79,157.72 L44.88,156.59 L44.97,158.12 L45.05,158.79 L45.14,152.83 L45.23,154.61 L45.32,153.70 L45.41,156.12 L45.50,159.24 L45.59,157.54 L45.68,153.78 L45.76,155.52 L45.85,158.53 L45.94,155.08 L46.03,156.10 L46.12,157.05 L46.21,152.34 L46.30,158.21 L46.38,157.28 L46.47,157.84 L46.56,154.42 L46.65,154.94 L46.74,155.37 L46.83,157.32 L46.92,156.96 L47.00,157.14 L47.09,160.91 L47.18,159.87 L47.27,155.39 L47.36,155.59 L47.45,160.93 L47.54,156.44 L47.63,160.28 L47.71,160.82 L47.80,156.08 L47.89,156.74 L47.98,157.58 L48.07,155.51 L48.16,155.30 L48.25,156.64 L48.33,159.49 L48.42,156.63 L48.51,157.22 L48.60,156.69 L48.69,154.73 L48.78,161.14 L48.87,152.65 L48.95,156.47 L49.04,159.22 L49.13,154.91 L49.22,159.42 L49.31,160.91 L49.40,156.25 L49.49,158.68 L49.58,155.79 L49.66,159.44 L49.75,158.56 L49.84,158.89 L49.93,161.50 L50.02,159.56 L50.11,161.55 L50.20,160.02 L50.28,155.98 L50.37,159.28 L50.46,159.84 L50.55,155.58 L50.64,161.82 L50.73,159.05 L50.82,159.76 L50.90,157.00 L50.99,159.20 L51.08,159.73 L51.17,158.37 L51.26,159.30 L51.35,154.43 L51.44,162.19 L51.53,156.71 L51.61,154.37 L51.70,157.11 L51.79,157.41 L51.88,160.50 L51.97,157.28 L52.06,159.97 L52.15,157.23 L52.23,164.29 L52.32,160.62 L52.41,163.78 L52.50,157.21 L52.59,160.96 L52.68,157.39 L52.77,160.82 L52.86,161.06 L52.94,156.04 L53.03,157.08 L53.12,157.04 L53.21,156.32 L53.30,158.06 L53.39,157.57 L53.48,156.52 L53.56,159.97 L53.65,160.98 L53.74,156.88 L53.83,158.59 L53.92,159.86 L54.01,159.36 L54.10,158.34 L54.18,161.71 L54.27,161.82 L54.36,161.47 L54.45,159.53 L54.54,164.41 L54.63,163.89 L54.72,159.17 L54.81,159.82 L54.89,162.74 L54.98,158.37 L55.07,161.04 L55.16,160.29 L55.25,158.65 L55.34,159.72 L55.43,156.78 L55.51,159.08 L55.60,155.90 L55.69,165.37 L55.78,163.68 L55.87,163.09 L55.96,161.07 L56.05,162.63 L56.13,163.26 L56.22,162.72 L56.31,162.52 L56.40,158.51 L56.49,161.49 L56.58,159.39 L56.67,157.99 L56.76,158.10 L56.84,161.58 L56.93,162.99 L57.02,157.67 L57.11,164.56 L57.20,163.98 L57.29,159.92 L57.38,159.76 L57.46,160.65 L57.55,163.00 L57.64,160.01 L57.73,158.44 L57.82,161.66 L57.91,156.38 L58.00,161.26 L58.08,163.53 L58.17,161.67 L58.26,162.74 L58.35,162.14 L58.44,162.68 L58.53,161.42 L58.62,159.30 L58.71,160.65 L58.79,161.01 L58.88,163.96 L58.97,164.80 L59.06,162.17 L59.15,159.61 L59.24,159.69 L59.33,160.91 L59.41,164.40 L59.50,162.10 L59.59,161.27 L59.68,159.74 L59.77,163.38 L59.86,162.10 L59.95,161.38 L60.03,161.74 L60.12,165.24 L60.21,161.21 L60.30,165.30 L60.39,164.34 L60.48,161.75 L60.57,163.60 L60.66,161.42 L60.74,159.89 L60.83,161.15 L60.92,159.77 L61.01,162.91 L61.10,161.84 L61.19,163.08 L61.28,163.67 L61.36,156.30 L61.45,162.59 L61.54,157.99 L61.63,162.32 L61.72,160.06 L61.81,162.22 L61.90,164.96 L61.98,158.21 L62.07,162.35 L62.16,161.74 L62.25,157.75 L62.34,163.29 L62.43,161.93 L62.52,160.72 L62.61,160.23 L62.69,167.36 L62.78,160.91 L62.87,157.81 L62.96,159.69 L63.05,160.91 L63.14,160.85 L63.23,161.50 L63.31,159.36 L63.40,162.81 L63.49,160.55 L63.58,158.61 L63.67,159.79 L63.76,160.71 L63.85,163.38 L63.94,162.57 L64.02,160.75 L64.11,161.51 L64.20,161.92 L64.29,165.88 L64.38,160.06 L64.47,162.40 L64.56,162.95 L64.64,159.26 L64.73,161.74 L64.82,161.66 L64.91,160.26 L65.00,162.50 L65.09,163.49 L65.18,163.69 L65.26,160.78 L65.35,161.60 L65.44,166.29 L65.53,158.74 L65.62,161.61 L65.71,163.04 L65.80,161.41 L65.89,162.49 L65.97,161.42 L66.06,162.66 L66.15,163.79 L66.24,160.50 L66.33,161.39 L66.42,160.82 L66.51,160.04 L66.59,160.86 L66.68,158.42 L66.77,162.48 L66.86,164.54 L66.95,164.53 L67.04,163.57 L67.13,158.68 L67.21,164.06 L67.30,159.18 L67.39,160.60 L67.48,164.71 L67.57,158.35 L67.66,162.48 L67.75,161.25 L67.84,160.28 L67.92,158.69 L68.01,161.49 L68.10,159.55 L68.19,162.80 L68.28,163.17 L68.37,157.50 L68.46,159.38 L68.54,159.76 L68.63,157.87 L68.72,157.99 L68.81,160.58 L68.90,159.92 L68.99,156.77 L69.08,159.16 L69.16,161.44 L69.25,157.68 L69.34,158.27 L69.43,163.69 L69.52,163.08 L69.61,156.70 L69.70,157.26 L69.79,160.99 L69.87,157.57 L69.96,159.58 L70.05,159.13 L70.14,161.30 L70.23,154.59 L70.32,155.28 L70.41,157.37 L70.49,162.20 L70.58,159.65 L70.67,156.27 L70.76,161.01 L70.85,161.46 L70.94,159.37 L71.03,159.17 L71.11,160.81 L71.20,162.46 L71.29,160.15 L71.38,160.96 L71.47,159.68 L71.56,158.94 L71.65,157.76 L71.74,160.28 L71.82,159.05 L71.91,159.16 L72.00,161.67 L72.09,160.70 L72.18,161.50 L72.27,156.20 L72.36,160.79 L72.44,158.29 L72.53,157.80 L72.62,157.68 L72.71,162.11 L72.80,161.23 L72.89,157.85 L72.98,156.89 L73.06,159.32 L73.15,158.24 L73.24,162.76 L73.33,155.98 L73.42,155.13 L73.51,158.47 L73.60,158.99 L73.69,159.20 L73.77,160.48 L73.86,163.27 L73.95,158.02 L74.04,157.53 L74.13,154.86 L74.22,159.12 L74.31,160.38 L74.39,157.93 L74.48,160.97 L74.57,158.45 L74.66,161.59 L74.75,158.99 L74.84,155.95 L74.93,156.80 L75.02,154.81 L75.10,154.32 L75.19,158.58 L75.28,159.82 L75.37,162.10 L75.46,157.73 L75.55,157.28 L75.64,155.36 L75.72,159.81 L75.81,158.47 L75.90,156.30 L75.99,159.01 L76.08,158.68 L76.17,153.41 L76.26,158.96 L76.34,157.61 L76.43,156.42 L76.52,156.31 L76.61,160.90 L76.70,160.40 L76.79,160.96 L76.88,154.53 L76.97,155.54 L77.05,158.83 L77.14,154.24 L77.23,155.24 L77.32,152.86 L77.41,160.64 L77.50,158.90 L77.59,157.55 L77.67,156.98 L77.76,155.57 L77.85,155.55 L77.94,157.67 L78.03,154.78 L78.12,158.86 L78.21,155.11 L78.29,154.23 L78.38,158.81 L78.47,155.65 L78.56,157.08 L78.65,154.94 L78.74,150.94 L78.83,156.86 L78.92,152.74 L79.00,157.87 L79.09,152.17 L79.18,151.43 L79.27,156.01 L79.36,156.19 L79.45,155.44 L79.54,152.55 L79.62,156.98 L79.71,151.88 L79.80,153.95 L79.89,153.19 L79.98,154.00 L80.07,156.56 L80.16,153.32 L80.24,155.81 L80.33,156.02 L80.42,150.82 L80.51,151.91 L80.60,153.51 L80.69,153.00 L80.78,154.85 L80.87,150.01 L80.95,155.60 L81.04,155.58 L81.13,153.57 L81.22,150.91 L81.31,153.80 L81.40,152.57 L81.49,154.86 L81.57,153.40 L81.66,155.07 L81.75,152.53 L81.84,156.45 L81.93,148.40 L82.02,151.08 L82.11,154.22 L82.19,149.89 L82.28,154.61 L82.37,150.38 L82.46,153.10 L82.55,150.89 L82.64,151.83 L82.73,153.07 L82.82,152.41 L82.90,151.75 L82.99,157.08 L83.08,152.45 L83.17,150.30 L83.26,154.27 L83.35,153.97 L83.44,154.76 L83.52,155.89 L83.61,150.03 L83.70,154.21 L83.79,154.33 L83.88,151.85 L83.97,152.32 L84.06,146.34 L84.14,150.47 L84.23,155.43 L84.32,147.78 L84.41,150.38 L84.50,152.08 L84.59,152.63 L84.68,154.82 L84.77,147.56 L84.85,151.34 L84.94,153.01 L85.03,148.35 L85.12,150.99 L85.21,155.02 L85.30,153.76 L85.39,152.06 L85.47,145.47 L85.56,150.53 L85.65,151.57 L85.74,150.04 L85.83,150.50 L85.92,155.97 L86.01,150.07 L86.10,148.42 L86.18,150.93 L86.27,149.69 L86.36,149.65 L86.45,150.07 L86.54,151.83 L86.63,150.64 L86.72,147.54 L86.80,149.75 L86.89,150.98 L86.98,148.93 L87.07,152.29 L87.16,151.45 L87.25,147.66 L87.34,150.37 L87.42,153.83 L87.51,152.88 L87.60,149.41 L87.69,151.37 L87.78,148.00 L87.87,146.31 L87.96,150.48 L88.05,149.78 L88.13,150.29 L88.22,149.09 L88.31,149.78 L88.40,147.95 L88.49,149.98 L88.58,150.68 L88.67,148.75 L88.75,150.53 L88.84,145.02 L88.93,147.05 L89.02,151.69 L89.11,152.30 L89.20,149.06 L89.29,148.27 L89.37,145.78 L89.46,149.18 L89.55,150.02 L89.64,145.23 L89.73,149.49 L89.82,149.31 L89.91,149.17 L90.00,145.84 L90.08,149.31 L90.17,144.99 L90.26,151.24 L90.35,148.35 L90.44,145.59 L90.53,150.83 L90.62,150.39 L90.70,146.56 L90.79,152.53 L90.88,145.75 L90.97,148.48 L91.06,150.27 L91.15,142.98 L91.24,149.82 L91.32,147.55 L91.41,147.62 L91.50,145.35 L91.59,148.27 L91.68,145.21 L91.77,145.48 L91.86,146.53 L91.95,144.86 L92.03,150.70 L92.12,144.58 L92.21,145.75 L92.30,146.63 L92.39,147.27 L92.48,148.89 L92.57,148.91 L92.65,146.52 L92.74,146.32 L92.83,147.16 L92.92,148.78 L93.01,148.48 L93.10,145.90 L93.19,142.63 L93.27,151.40 L93.36,148.87 L93.45,147.39 L93.54,147.52 L93.63,145.68 L93.72,144.64 L93.81,146.01 L93.90,146.20 L93.98,145.32 L94.07,143.55 L94.16,145.91 L94.25,147.73 L94.34,145.46 L94.43,146.50 L94.52,142.09 L94.60,145.95 L94.69,146.10 L94.78,143.76 L94.87,142.67 L94.96,147.11 L95.05,144.52 L95.14,147.20 L95.22,145.27 L95.31,147.41 L95.40,145.37 L95.49,142.90 L95.58,145.83 L95.67,145.29 L95.76,147.31 L95.85,144.96 L95.93,145.05 L96.02,147.63 L96.11,148.23 L96.20,147.35 L96.29,147.89 L96.38,146.64 L96.47,147.27 L96.55,147.46 L96.64,146.43 L96.73,145.69 L96.82,145.82 L96.91,150.50 L97.00,145.48 L97.09,144.92 L97.18,144.62 L97.26,145.28 L97.35,145.82 L97.44,142.92 L97.53,141.12 L97.62,145.82 L97.71,141.83 L97.80,145.68 L97.88,145.40 L97.97,147.47 L98.06,148.51 L98.15,145.76 L98.24,143.81 L98.33,142.49 L98.42,143.25 L98.50,144.94 L98.59,140.52 L98.68,144.95 L98.77,144.73 L98.86,146.06 L98.95,143.99 L99.04,144.86 L99.13,143.09 L99.21,143.62 L99.30,140.87 L99.39,144.77 L99.48,147.69 L99.57,144.78 L99.66,145.17 L99.75,142.34 L99.83,147.31 L99.92,142.71 L100.01,145.93 L100.10,144.46 L100.19,142.21 L100.28,146.25 L100.37,144.07 L100.45,144.33 L100.54,144.82 L100.63,143.76 L100.72,142.94 L100.81,144.61 L100.90,142.72 L100.99,143.62 L101.08,142.02 L101.16,140.23 L101.25,141.84 L101.34,142.13 L101.43,143.11 L101.52,145.44 L101.61,139.41 L101.70,143.09 L101.78,138.15 L101.87,140.47 L101.96,141.48 L102.05,137.75 L102.14,138.44 L102.23,142.46 L102.32,142.13 L102.40,141.54 L102.49,139.90 L102.58,145.75 L102.67,140.68 L102.76,138.91 L102.85,143.80 L102.94,141.21 L103.03,138.76 L103.11,141.57 L103.20,139.01 L103.29,139.61 L103.38,138.40 L103.47,135.46 L103.56,139.32 L103.65,137.45 L103.73,134.92 L103.82,135.77 L103.91,139.73 L104.00,137.48 L104.09,138.89 L104.18,140.73 L104.27,140.27 L104.35,137.50 L104.44,142.60 L104.53,143.85 L104.62,144.31 L104.71,146.44 L104.80,144.40 L104.89,145.76 L104.98,147.91 L105.06,144.48 L105.15,149.07 L105.24,149.45 L105.33,147.85 L105.42,150.38 L105.51,148.68 L105.60,145.44 L105.68,149.91 L105.77,148.55 L105.86,148.88 L105.95,148.42 L106.04,150.96 L106.13,149.37 L106.22,146.87 L106.30,149.36 L106.39,149.93 L106.48,147.00 L106.57,147.66 L106.66,147.83 L106.75,147.44 L106.84,149.47 L106.93,150.90 L107.01,152.76 L107.10,151.40 L107.19,151.10 L107.28,151.42 L107.37,151.88 L107.46,148.43 L107.55,150.69 L107.63,149.99 L107.72,149.13 L107.81,148.52 L107.90,148.49 L107.99,149.04 L108.08,147.12 L108.17,150.78 L108.26,149.73 L108.34,150.06 L108.43,150.60 L108.52,151.46 L108.61,148.82 L108.70,149.88 L108.79,146.87 L108.88,145.68 L108.96,146.32 L109.05,153.50 L109.14,146.68 L109.23,151.45 L109.32,153.57 L109.41,149.68 L109.50,154.01 L109.58,154.52 L109.67,152.74 L109.76,155.72 L109.85,152.21 L109.94,149.51 L110.03,152.14 L110.12,150.23 L110.21,148.54 L110.29,148.66 L110.38,156.05 L110.47,150.29 L110.56,151.41 L110.65,150.17 L110.74,151.87 L110.83,151.17 L110.91,150.89 L111.00,149.32 L111.09,148.97 L111.18,150.40 L111.27,152.59 L111.36,156.29 L111.45,154.27 L111.53,155.90 L111.62,153.24 L111.71,152.14 L111.80,149.68 L111.89,152.45 L111.98,148.14 L112.07,151.97 L112.16,155.96 L112.24,153.38 L112.33,155.07 L112.42,152.06 L112.51,150.10 L112.60,151.99 L112.69,152.23 L112.78,155.55 L112.86,157.18 L112.95,151.72 L113.04,152.56 L113.13,153.06 L113.22,152.72 L113.31,150.96 L113.40,153.74 L113.48,154.36 L113.57,154.47 L113.66,151.30 L113.75,153.58 L113.84,150.34 L113.93,155.80 L114.02,151.94 L114.11,153.52 L114.19,153.22 L114.28,153.01 L114.37,152.11 L114.46,150.73 L114.55,157.89 L114.64,154.96 L114.73,155.04 L114.81,158.82 L114.90,154.42 L114.99,155.80 L115.08,154.78 L115.17,157.21 L115.26,155.88 L115.35,155.56 L115.43,154.47 L115.52,155.61 L115.61,157.46 L115.70,150.96 L115.79,154.96 L115.88,154.44 L115.97,154.74 L116.06,151.40 L116.14,156.95 L116.23,153.81 L116.32,155.13 L116.41,154.63 L116.50,152.33 L116.59,154.86 L116.68,152.10 L116.76,153.98 L116.85,155.31 L116.94,156.00 L117.03,156.18 L117.12,155.85 L117.21,160.51 L117.30,157.13 L117.38,153.84 L117.47,155.13 L117.56,155.10 L117.65,156.13 L117.74,155.33 L117.83,154.88 L117.92,160.00 L118.01,156.82 L118.09,156.11 L118.18,156.34 L118.27,156.47 L118.36,159.78 L118.45,157.99 L118.54,159.35 L118.63,151.94 L118.71,157.87 L118.80,159.41 L118.89,161.31 L118.98,157.45 L119.07,153.99 L119.16,158.70 L119.25,156.36 L119.34,154.02 L119.42,156.44 L119.51,159.88 L119.60,160.23 L119.69,159.32 L119.78,155.82 L119.87,163.05 L119.96,155.70 L120.04,157.96 L120.13,155.27 L120.22,160.88 L120.31,159.19 L120.40,160.14 L120.49,158.60 L120.58,158.34 L120.66,158.89 L120.75,154.80 L120.84,160.66 L120.93,160.55 L121.02,157.99 L121.11,158.81 L121.20,159.50 L121.29,162.12 L121.37,159.89 L121.46,159.17 L121.55,158.12 L121.64,156.18 L121.73,158.07 L121.82,159.47 L121.91,158.88 L121.99,159.60 L122.08,161.00 L122.17,160.44 L122.26,160.18 L122.35,161.01 L122.44,160.12 L122.53,159.75 L122.61,160.81 L122.70,156.47 L122.79,162.50 L122.88,157.47 L122.97,161.79 L123.06,160.20 L123.15,162.45 L123.24,160.37 L123.32,158.46 L123.41,162.57 L123.50,160.85 L123.59,160.78 L123.68,160.76 L123.77,162.66 L123.86,162.36 L123.94,161.24 L124.03,157.74 L124.12,160.09 L124.21,161.17 L124.30,164.61 L124.39,161.85 L124.48,160.96 L124.56,163.60 L124.65,161.04 L124.74,161.27 L124.83,161.70 L124.92,158.45 L125.01,163.42 L125.10,162.42 L125.19,161.06 L125.27,159.41 L125.36,162.18 L125.45,164.60 L125.54,160.59 L125.63,159.81 L125.72,162.83 L125.81,158.86 L125.89,157.68 L125.98,161.28 L126.07,160.86 L126.16,161.74 L126.25,161.25 L126.34,163.08 L126.43,162.03 L126.51,161.34 L126.60,161.68 L126.69,163.91 L126.78,164.62 L126.87,164.58 L126.96,164.22 L127.05,157.71 L127.14,160.96 L127.22,162.39 L127.31,163.49 L127.40,159.92 L127.49,166.03 L127.58,163.86 L127.67,162.08 L127.76,163.70 L127.84,162.75 L127.93,161.99 L128.02,164.57 L128.11,162.72 L128.20,160.87 L128.29,162.48 L128.38,163.57 L128.46,161.71 L128.55,166.43 L128.64,161.82 L128.73,167.53 L128.82,165.88 L128.91,162.28 L129.00,164.45 L129.09,166.58 L129.17,163.90 L129.26,161.96 L129.35,164.59 L129.44,168.36 L129.53,161.50 L129.62,165.60 L129.71,164.56 L129.79,164.35 L129.88,163.86 L129.97,164.04 L130.06,166.77 L130.15,165.94 L130.24,162.83 L130.33,167.94 L130.42,162.32 L130.50,166.25 L130.59,165.34 L130.68,167.40 L130.77,165.77 L130.86,167.20 L130.95,165.10 L131.04,167.12 L131.12,165.92 L131.21,169.54 L131.30,163.95 L131.39,167.73 L131.48,166.33 L131.57,165.81 L131.66,164.38 L131.74,166.43 L131.83,162.67 L131.92,162.92 L132.01,167.08 L132.10,162.64 L132.19,168.60 L132.28,165.26 L132.37,166.34 L132.45,166.04 L132.54,166.76 L132.63,165.42 L132.72,165.29 L132.81,165.81 L132.90,168.18 L132.99,168.38 L133.07,168.71 L133.16,166.96 L133.25,165.88 L133.34,163.01 L133.43,167.63 L133.52,168.06 L133.61,165.65 L133.69,168.08 L133.78,169.08 L133.87,166.76 L133.96,168.70 L134.05,167.27 L134.14,163.29 L134.23,165.82 L134.32,165.99 L134.40,167.88 L134.49,165.18 L134.58,166.06 L134.67,165.07 L134.76,166.93 L134.85,167.19 L134.94,169.01 L135.02,168.70 L135.11,167.50 L135.20,167.70 L135.29,167.48 L135.38,167.53 L135.47,170.39 L135.56,162.51 L135.64,167.09 L135.73,168.09 L135.82,169.74 L135.91,165.42 L136.00,168.29 L136.09,169.34 L136.18,166.82 L136.27,163.99 L136.35,167.07 L136.44,165.47 L136.53,169.14 L136.62,166.24 L136.71,171.45 L136.80,168.27 L136.89,166.46 L136.97,167.09 L137.06,165.98 L137.15,168.93 L137.24,171.13 L137.33,167.83 L137.42,170.11 L137.51,166.49 L137.59,168.98 L137.68,172.94 L137.77,165.71 L137.86,170.92 L137.95,170.85 L138.04,164.91 L138.13,165.83 L138.22,166.77 L138.30,170.62 L138.39,167.93 L138.48,168.48 L138.57,170.23 L138.66,169.12 L138.75,169.38 L138.84,168.35 L138.92,171.22 L139.01,167.54 L139.10,172.38 L139.19,168.49 L139.28,167.63 L139.37,170.50 L139.46,170.16 L139.54,165.45 L139.63,169.79 L139.72,166.77 L139.81,167.83 L139.90,171.02 L139.99,167.85 L140.08,170.27 L140.17,168.87 L140.25,173.43 L140.34,169.51 L140.43,167.45 L140.52,167.63 L140.61,168.06 L140.70,170.12 L140.79,169.90 L140.87,171.84 L140.96,170.32 L141.05,170.29 L141.14,170.71 L141.23,169.87 L141.32,170.73 L141.41,171.73 L141.50,171.77 L141.58,169.23 L141.67,166.89 L141.76,168.80 L141.85,170.96 L141.94,165.61 L142.03,169.57 L142.12,171.41 L142.20,169.48 L142.29,168.45 L142.38,174.08 L142.47,173.40 L142.56,170.25 L142.65,173.36 L142.74,173.36 L142.82,168.68 L142.91,175.75 L143.00,169.14 L143.09,170.49 L143.18,168.91 L143.27,171.24 L143.36,168.56 L143.45,171.09 L143.53,173.20 L143.62,171.51 L143.71,170.57 L143.80,174.08 L143.89,169.33 L143.98,172.94 L144.07,170.47 L144.15,171.47 L144.24,171.11 L144.33,171.29 L144.42,170.93 L144.51,169.51 L144.60,169.92 L144.69,171.87 L144.77,170.80 L144.86,168.75 L144.95,169.63 L145.04,169.65 L145.13,170.87 L145.22,171.32 L145.31,171.14 L145.40,169.70 L145.48,170.99 L145.57,168.30 L145.66,165.93 L145.75,170.83 L145.84,167.73 L145.93,169.09 L146.02,168.58 L146.10,172.12 L146.19,168.56 L146.28,171.42 L146.37,169.94 L146.46,168.49 L146.55,167.82 L146.64,171.75 L146.72,171.60 L146.81,172.34 L146.90,174.37 L146.99,171.35 L147.08,171.36 L147.17,170.58 L147.26,171.01 L147.35,170.12 L147.43,169.07 L147.52,174.63 L147.61,167.19 L147.70,171.26 L147.79,171.62 L147.88,171.05 L147.97,168.90 L148.05,170.37 L148.14,169.85 L148.23,168.66 L148.32,170.63 L148.41,169.93 L148.50,169.64 L148.59,172.01 L148.67,168.65 L148.76,171.53 L148.85,169.50 L148.94,171.49 L149.03,170.79 L149.12,171.12 L149.21,168.76 L149.30,169.15 L149.38,168.99 L149.47,170.96 L149.56,172.05 L149.65,172.68 L149.74,169.64 L149.83,170.76 L149.92,167.49 L150.00,166.33 L150.09,168.92 L150.18,169.30 L150.27,167.59 L150.36,167.15 L150.45,171.57 L150.54,169.01 L150.62,167.32 L150.71,174.98 L150.80,170.85 L150.89,169.91 L150.98,171.81 L151.07,169.05 L151.16,173.53 L151.25,167.54 L151.33,167.98 L151.42,170.21 L151.51,169.00 L151.60,173.16 L151.69,167.43 L151.78,169.13 L151.87,171.02 L151.95,171.67 L152.04,172.54 L152.13,171.32 L152.22,174.91 L152.31,169.83 L152.40,171.10 L152.49,172.44 L152.58,170.23 L152.66,170.31 L152.75,170.02 L152.84,169.71 L152.93,168.82 L153.02,169.95 L153.11,168.09 L153.20,171.80 L153.28,168.08 L153.37,175.08 L153.46,174.42 L153.55,173.32 L153.64,170.85 L153.73,170.17 L153.82,173.65 L153.90,171.70 L153.99,172.45 L154.08,170.06 L154.17,173.49 L154.26,169.97 L154.35,171.73 L154.44,168.28 L154.53,170.35 L154.61,172.59 L154.70,170.81 L154.79,170.86 L154.88,173.24 L154.97,171.64 L155.06,174.17 L155.15,167.26 L155.23,172.96 L155.32,172.88 L155.41,169.02 L155.50,169.52 L155.59,173.69 L155.68,170.03 L155.77,170.89 L155.85,173.26 L155.94,171.54 L156.03,173.11 L156.12,170.59 L156.21,172.84 L156.30,174.36 L156.39,172.96 L156.48,168.22 L156.56,173.65 L156.65,172.56 L156.74,170.77 L156.83,175.16 L156.92,169.26 L157.01,176.14 L157.10,171.43 L157.18,175.64 L157.27,172.62 L157.36,170.22 L157.45,172.95 L157.54,173.44 L157.63,173.87 L157.72,174.89 L157.80,171.22 L157.89,173.88 L157.98,174.38 L158.07,172.51 L158.16,171.29 L158.25,171.29 L158.34,174.55 L158.43,174.68 L158.51,171.64 L158.60,170.71 L158.69,175.61 L158.78,170.38 L158.87,173.65 L158.96,171.86 L159.05,170.10 L159.13,173.66 L159.22,173.09 L159.31,176.18 L159.40,177.77 L159.49,173.15 L159.58,175.46 L159.67,175.51 L159.75,172.58 L159.84,171.95 L159.93,176.64 L160.02,172.94 L160.11,173.60 L160.20,173.12 L160.29,173.43 L160.38,172.57 L160.46,175.13 L160.55,176.11 L160.64,173.06 L160.73,171.19 L160.82,173.90 L160.91,171.03 L161.00,172.64 L161.08,176.17 L161.17,178.24 L161.26,174.61 L161.35,171.92 L161.44,175.41 L161.53,169.74 L161.62,172.68 L161.70,176.86 L161.79,175.42 L161.88,171.45 L161.97,170.94 L162.06,175.68 L162.15,174.01 L162.24,173.01 L162.33,174.91 L162.41,173.08 L162.50,170.58 L162.59,175.71 L162.68,173.01 L162.77,172.36 L162.86,171.76 L162.95,174.75 L163.03,172.79 L163.12,175.49 L163.21,173.84 L163.30,176.38 L163.39,173.65 L163.48,173.17 L163.57,170.73 L163.66,172.38 L163.74,175.80 L163.83,179.37 L163.92,172.16 L164.01,172.58 L164.10,175.17 L164.19,175.45 L164.28,173.31 L164.36,174.74 L164.45,171.61 L164.54,174.08 L164.63,176.34 L164.72,177.73 L164.81,174.38 L164.90,174.23 L164.98,175.58 L165.07,176.82 L165.16,175.69 L165.25,173.40 L165.34,175.48 L165.43,176.64 L165.52,173.53 L165.61,172.39 L165.69,175.85 L165.78,175.60 L165.87,176.74 L165.96,175.12 L166.05,173.78 L166.14,174.18 L166.23,173.10 L166.31,173.27 L166.40,174.01 L166.49,174.18 L166.58,177.17 L166.67,172.84 L166.76,175.05 L166.85,174.06 L166.93,177.95 L167.02,175.69 L167.11,174.53 L167.20,176.76 L167.29,175.38 L167.38,174.40 L167.47,178.15 L167.56,176.64 L167.64,178.55 L167.73,177.51 L167.82,176.82 L167.91,175.65 L168.00,173.41 L168.09,176.76 L168.18,175.60 L168.26,176.74 L168.35,175.49 L168.44,174.25 L168.53,173.68 L168.62,176.86 L168.71,177.98 L168.80,175.07 L168.88,176.47 L168.97,178.21 L169.06,174.12 L169.15,175.06 L169.24,173.64 L169.33,177.91 L169.42,176.24 L169.51,174.92 L169.59,172.73 L169.68,175.48 L169.77,177.68 L169.86,175.30 L169.95,175.09 L170.04,177.08 L170.13,173.63 L170.21,176.03 L170.30,177.06 L170.39,174.53 L170.48,174.46 L170.57,176.47 L170.66,175.85 L170.75,175.62 L170.83,176.46 L170.92,176.50 L171.01,174.41 L171.10,174.91 L171.19,176.98 L171.28,178.24 L171.37,178.69 L171.46,174.66 L171.54,178.25 L171.63,177.65 L171.72,176.22 L171.81,177.20 L171.90,177.84 L171.99,179.63 L172.08,174.42 L172.16,177.48 L172.25,176.14 L172.34,176.04 L172.43,178.55 L172.52,177.96 L172.61,174.62 L172.70,175.98 L172.78,176.94 L172.87,173.95 L172.96,178.15 L173.05,176.44 L173.14,176.90 L173.23,177.24 L173.32,179.95 L173.41,176.73 L173.49,176.03 L173.58,179.89 L173.67,175.80 L173.76,175.78 L173.85,174.21 L173.94,178.74 L174.03,177.27 L174.11,177.64 L174.20,177.09 L174.29,176.55 L174.38,175.37 L174.47,175.38 L174.56,177.61 L174.65,177.06 L174.74,179.82 L174.82,175.46 L174.91,175.97 L175.00,175.00 L175.09,179.39 L175.18,174.63 L175.27,178.30 L175.36,179.52 L175.44,176.65 L175.53,178.24 L175.62,173.05 L175.71,176.23 L175.80,173.92 L175.89,177.26 L175.98,176.98 L176.06,175.57 L176.15,178.70 L176.24,177.63 L176.33,176.04 L176.42,176.07 L176.51,174.34 L176.60,176.68 L176.69,180.88 L176.77,175.74 L176.86,177.81 L176.95,176.06 L177.04,178.52 L177.13,177.87 L177.22,176.66 L177.31,173.85 L177.39,176.16 L177.48,179.29 L177.57,176.67 L177.66,178.27 L177.75,176.26 L177.84,173.75 L177.93,177.92 L178.01,177.74 L178.10,176.12 L178.19,176.50 L178.28,177.71 L178.37,176.12 L178.46,177.83 L178.55,176.84 L178.64,172.94 L178.72,176.96 L178.81,176.15 L178.90,175.73 L178.99,177.98 L179.08,176.38 L179.17,178.25 L179.26,179.26 L179.34,177.55 L179.43,174.49 L179.52,175.98 L179.61,178.96 L179.70,176.85 L179.79,175.87 L179.88,177.18 L179.96,178.26 L180.05,177.82 L180.14,178.53 L180.23,175.88 L180.32,176.89 L180.41,176.94 L180.50,177.36 L180.59,173.62 L180.67,176.99 L180.76,175.00 L180.85,179.95 L180.94,180.25 L181.03,180.49 L181.12,178.92 L181.21,176.59 L181.29,179.21 L181.38,177.12 L181.47,178.60 L181.56,175.88 L181.65,176.45 L181.74,178.36 L181.83,180.73 L181.91,177.49 L182.00,181.61 L182.09,182.23 L182.18,175.25 L182.27,177.52 L182.36,175.87 L182.45,177.34 L182.54,176.64 L182.62,177.49 L182.71,179.35 L182.80,179.32 L182.89,178.10 L182.98,177.65 L183.07,177.87 L183.16,177.89 L183.24,178.70 L183.33,177.69 L183.42,178.59 L183.51,175.34 L183.60,179.13 L183.69,180.86 L183.78,178.05 L183.86,175.19 L183.95,180.17 L184.04,177.16 L184.13,173.16 L184.22,177.37 L184.31,178.86 L184.40,178.47 L184.49,180.02 L184.57,178.91 L184.66,178.03 L184.75,174.27 L184.84,175.83 L184.93,178.16 L185.02,179.06 L185.11,176.01 L185.19,176.76 L185.28,178.71 L185.37,174.45 L185.46,174.39 L185.55,177.48 L185.64,178.35 L185.73,177.05 L185.82,173.81 L185.90,177.97 L185.99,175.55 L186.08,179.12 L186.17,177.77 L186.26,178.44 L186.35,179.12 L186.44,177.04 L186.52,179.47 L186.61,180.22 L186.70,178.71 L186.79,180.39 L186.88,176.90 L186.97,179.67 L187.06,178.52 L187.14,176.28 L187.23,177.91 L187.32,177.12 L187.41,177.08 L187.50,178.24 L187.59,179.99 L187.68,177.53 L187.77,178.33 L187.85,175.49 L187.94,178.31 L188.03,180.19 L188.12,179.59 L188.21,179.00 L188.30,177.22 L188.39,176.42 L188.47,178.01 L188.56,175.79 L188.65,175.99 L188.74,179.88 L188.83,176.57 L188.92,181.42 L189.01,175.67 L189.09,179.00 L189.18,176.15 L189.27,178.56 L189.36,176.40 L189.45,178.34 L189.54,178.00 L189.63,177.48 L189.72,179.20 L189.80,180.99 L189.89,177.25 L189.98,179.89 L190.07,178.48 L190.16,178.28 L190.25,182.25 L190.34,174.48 L190.42,177.15 L190.51,175.14 L190.60,177.82 L190.69,177.98 L190.78,182.99 L190.87,179.02 L190.96,181.60 L191.04,180.73 L191.13,177.64 L191.22,179.29 L191.31,181.41 L191.40,178.76 L191.49,178.83 L191.58,179.36 L191.67,175.80 L191.75,177.04 L191.84,179.09 L191.93,179.47 L192.02,176.88 L192.11,177.94 L192.20,178.31 L192.29,178.26 L192.37,179.77 L192.46,178.74 L192.55,178.85 L192.64,176.05 L192.73,176.70 L192.82,179.15 L192.91,175.76 L192.99,179.08 L193.08,177.43 L193.17,177.17 L193.26,179.77 L193.35,177.43 L193.44,177.12 L193.53,177.45 L193.62,178.76 L193.70,183.24 L193.79,174.91 L193.88,178.64 L193.97,178.26 L194.06,180.38 L194.15,178.04 L194.24,174.33 L194.32,181.07 L194.41,176.79 L194.50,178.62 L194.59,176.31 L194.68,176.80 L194.77,177.87 L194.86,180.28 L194.94,180.26 L195.03,177.72 L195.12,179.67 L195.21,178.13 L195.30,179.00 L195.39,179.08 L195.48,179.91 L195.57,177.73 L195.65,178.60 L195.74,179.22 L195.83,179.01 L195.92,177.44 L196.01,181.91 L196.10,178.05 L196.19,180.22 L196.27,179.25 L196.36,181.05 L196.45,175.04 L196.54,182.54 L196.63,178.54 L196.72,176.75 L196.81,179.16 L196.90,182.93 L196.98,179.84 L197.07,176.78 L197.16,178.15 L197.25,181.33 L197.34,176.50 L197.43,178.67 L197.52,178.48 L197.60,182.83 L197.69,178.50 L197.78,181.34 L197.87,177.84 L197.96,177.62 L198.05,180.82 L198.14,180.15 L198.22,176.02 L198.31,180.20 L198.40,180.21 L198.49,178.01 L198.58,179.49 L198.67,179.58 L198.76,178.26 L198.85,178.09 L198.93,177.95 L199.02,178.66 L199.11,176.81 L199.20,179.08 L199.29,176.53 L199.38,179.30 L199.47,179.03 L199.55,177.37 L199.64,180.69 L199.73,182.61 L199.82,181.54 L199.91,176.82 L200.00,181.47 L200.09,179.62 L200.17,179.15 L200.26,178.21 L200.35,179.25 L200.44,181.71 L200.53,180.23 L200.62,178.56 L200.71,178.12 L200.80,178.57 L200.88,180.34 L200.97,182.59 L201.06,177.47 L201.15,179.33 L201.24,178.67 L201.33,178.03 L201.42,180.06 L201.50,180.33 L201.59,176.90 L201.68,177.57 L201.77,181.48 L201.86,179.96 L201.95,180.32 L202.04,178.54 L202.12,178.76 L202.21,180.24 L202.30,178.58 L202.39,177.51 L202.48,179.46 L202.57,181.05 L202.66,177.68 L202.75,181.33 L202.83,180.72 L202.92,178.00 L203.01,179.52 L203.10,179.45 L203.19,180.63 L203.28,180.70 L203.37,177.27 L203.45,177.20 L203.54,181.35 L203.63,179.76 L203.72,180.29 L203.81,180.16 L203.90,182.25 L203.99,177.49 L204.07,181.49 L204.16,178.17 L204.25,180.87 L204.34,181.94 L204.43,177.21 L204.52,180.32 L204.61,179.15 L204.70,179.13 L204.78,179.71 L204.87,177.82 L204.96,177.98 L205.05,180.80 L205.14,181.13 L205.23,178.69 L205.32,177.15 L205.40,183.70 L205.49,181.59 L205.58,180.32 L205.67,177.92 L205.76,178.70 L205.85,180.13 L205.94,178.06 L206.02,182.50 L206.11,179.97 L206.20,180.42 L206.29,177.96 L206.38,178.18 L206.47,178.39 L206.56,180.24 L206.65,179.31 L206.73,179.27 L206.82,180.32 L206.91,180.17 L207.00,182.35 L207.09,179.46 L207.18,178.06 L207.27,179.79 L207.35,182.33 L207.44,178.87 L207.53,179.91 L207.62,179.22 L207.71,180.54 L207.80,180.29 L207.89,178.46 L207.98,179.47 L208.06,181.48 L208.15,181.75 L208.24,181.46 L208.33,181.36 L208.42,179.32 L208.51,179.27 L208.60,181.49 L208.68,177.90 L208.77,179.81 L208.86,176.74 L208.95,179.27 L209.04,178.72 L209.13,177.87 L209.22,180.93 L209.30,178.69 L209.39,179.33 L209.48,179.52 L209.57,178.71 L209.66,182.40 L209.75,179.13 L209.84,180.32 L209.93,177.76 L210.01,179.19 L210.10,179.45 L210.19,179.49 L210.28,179.02 L210.37,180.27 L210.46,182.69 L210.55,179.81 L210.63,179.80 L210.72,179.38 L210.81,184.38 L210.90,182.81 L210.99,181.01 L211.08,181.27 L211.17,178.87 L211.25,179.82 L211.34,180.45 L211.43,180.30 L211.52,178.64 L211.61,178.78 L211.70,180.99 L211.79,180.65 L211.88,176.54 L211.96,180.29 L212.05,182.30 L212.14,179.05 L212.23,180.56 L212.32,177.69 L212.41,181.58 L212.50,178.28 L212.58,178.05 L212.67,179.64 L212.76,184.21 L212.85,179.16 L212.94,178.06 L213.03,180.99 L213.12,180.60 L213.20,183.03 L213.29,178.07 L213.38,177.53 L213.47,179.70 L213.56,180.88 L213.65,180.85 L213.74,182.09 L213.83,177.73 L213.91,178.87 L214.00,180.05 L214.09,181.70 L214.18,181.09 L214.27,179.58 L214.36,178.57 L214.45,181.79 L214.53,181.91 L214.62,184.76 L214.71,180.02 L214.80,183.07 L214.89,178.29 L214.98,179.42 L215.07,179.20 L215.15,179.57 L215.24,178.88 L215.33,179.45 L215.42,180.28 L215.51,179.62 L215.60,181.49 L215.69,180.25 L215.78,180.39 L215.86,182.88 L215.95,180.94 L216.04,180.67 L216.13,180.38 L216.22,180.53 L216.31,181.40 L216.40,179.08 L216.48,182.37 L216.57,183.09 L216.66,182.40 L216.75,179.63 L216.84,177.79 L216.93,179.74 L217.02,180.74 L217.10,181.88 L217.19,180.18 L217.28,179.99 L217.37,183.06 L217.46,179.38 L217.55,182.30 L217.64,182.04 L217.73,178.29 L217.81,181.00 L217.90,179.60 L217.99,178.95 L218.08,177.44 L218.17,177.93 L218.26,181.26 L218.35,179.92 L218.43,181.03 L218.52,178.80 L218.61,180.05 L218.70,180.14 L218.79,178.01 L218.88,177.82 L218.97,181.35 L219.06,180.86 L219.14,179.06 L219.23,180.46 L219.32,181.74 L219.41,183.71 L219.50,179.16 L219.59,181.68 L219.68,184.20 L219.76,180.77 L219.85,183.13 L219.94,176.38 L220.03,183.11 L220.12,180.67 L220.21,177.55 L220.30,182.00 L220.38,182.46 L220.47,182.73 L220.56,182.72 L220.65,180.67 L220.74,179.48 L220.83,179.97 L220.92,180.68 L221.01,181.43 L221.09,179.95 L221.18,180.84 L221.27,182.23 L221.36,181.32 L221.45,184.61 L221.54,184.39 L221.63,178.87 L221.71,179.85 L221.80,178.62 L221.89,178.86 L221.98,181.73 L222.07,179.16 L222.16,179.08 L222.25,180.38 L222.33,182.17 L222.42,180.25 L222.51,180.25 L222.60,182.39 L222.69,181.65 L222.78,181.63 L222.87,182.46 L222.96,179.19 L223.04,181.25 L223.13,179.84 L223.22,182.61 L223.31,182.26 L223.40,179.17 L223.49,183.15 L223.58,178.97 L223.66,182.88 L223.75,181.28 L223.84,179.49 L223.93,179.08 L224.02,180.44 L224.11,180.92 L224.20,179.78 L224.28,181.91 L224.37,178.64 L224.46,180.97 L224.55,180.99 L224.64,177.88 L224.73,181.52 L224.82,178.90 L224.91,176.85 L224.99,180.00 L225.08,180.64 L225.17,182.54 L225.26,180.23 L225.35,183.49 L225.44,183.44 L225.53,182.87 L225.61,183.26 L225.70,181.65 L225.79,180.14 L225.88,182.16 L225.97,182.69 L226.06,181.49 L226.15,180.69 L226.23,178.49 L226.32,182.23 L226.41,181.70 L226.50,178.95 L226.59,181.29 L226.68,182.33 L226.77,180.96 L226.86,182.45 L226.94,182.40 L227.03,178.70 L227.12,180.66 L227.21,181.97 L227.30,182.70 L227.39,183.52 L227.48,178.00 L227.56,181.08 L227.65,182.39 L227.74,183.24 L227.83,184.01 L227.92,179.66 L228.01,180.60 L228.10,179.48 L228.18,182.59 L228.27,179.04 L228.36,183.21 L228.45,182.81 L228.54,182.07 L228.63,177.66 L228.72,180.14 L228.81,182.52 L228.89,178.93 L228.98,180.89 L229.07,181.12 L229.16,182.78 L229.25,181.77 L229.34,181.77 L229.43,180.59 L229.51,181.33 L229.60,181.11 L229.69,182.54 L229.78,181.04 L229.87,183.06 L229.96,178.54 L230.05,183.35 L230.14,181.08 L230.22,183.24 L230.31,181.51 L230.40,182.80 L230.49,183.86 L230.58,180.48 L230.67,181.53 L230.76,181.12 L230.84,181.76 L230.93,178.74 L231.02,181.14 L231.11,181.02 L231.20,180.13 L231.29,181.12 L231.38,178.90 L231.46,183.76 L231.55,182.20 L231.64,184.58 L231.73,180.03 L231.82,179.55 L231.91,181.95 L232.00,178.73 L232.09,181.87 L232.17,180.34 L232.26,180.95 L232.35,181.93 L232.44,181.59 L232.53,184.59 L232.62,182.57 L232.71,179.40 L232.79,183.16 L232.88,179.34 L232.97,181.69 L233.06,179.50 L233.15,180.19 L233.24,183.72 L233.33,180.65 L233.41,180.51 L233.50,180.65 L233.59,181.06 L233.68,183.95 L233.77,179.64 L233.86,179.55 L233.95,182.54 L234.04,178.97 L234.12,181.00 L234.21,183.46 L234.30,181.61 L234.39,180.82 L234.48,180.44 L234.57,180.11 L234.66,180.65 L234.74,181.85 L234.83,183.67 L234.92,183.22 L235.01,180.70 L235.10,180.43 L235.19,182.78 L235.28,178.66 L235.36,180.93 L235.45,181.12 L235.54,179.83 L235.63,180.02 L235.72,182.23 L235.81,178.95 L235.90,180.16 L235.99,180.60 L236.07,181.80 L236.16,179.42 L236.25,183.45 L236.34,181.17 L236.43,181.25 L236.52,181.09 L236.61,180.58 L236.69,180.08 L236.78,183.57 L236.87,182.03 L236.96,181.52 L237.05,183.33 L237.14,180.54 L237.23,182.73 L237.31,181.74 L237.40,180.26 L237.49,182.95 L237.58,179.28 L237.67,182.78 L237.76,180.28 L237.85,182.39 L237.94,183.98 L238.02,182.66 L238.11,180.75 L238.20,181.69 L238.29,181.14 L238.38,179.83 L238.47,179.95 L238.56,181.82 L238.64,182.63 L238.73,178.89 L238.82,181.64 L238.91,182.58 L239.00,181.94 L239.09,180.14 L239.18,183.45 L239.26,179.80 L239.35,182.83 L239.44,184.37 L239.53,178.47 L239.62,182.20 L239.71,182.29 L239.80,182.16 L239.89,180.55 L239.97,181.29 L240.06,179.54 L240.15,182.02 L240.24,182.67 L240.33,180.73 L240.42,180.32 L240.51,181.05 L240.59,181.81 L240.68,181.92 L240.77,181.66 L240.86,181.94 L240.95,179.72 L241.04,177.80 L241.13,182.84 L241.22,184.14 L241.30,179.56 L241.39,180.78 L241.48,182.34 L241.57,183.39 L241.66,182.91 L241.75,183.92 L241.84,181.78 L241.92,182.54 L242.01,182.54 L242.10,181.19 L242.19,183.82 L242.28,182.89 L242.37,183.47 L242.46,181.27 L242.54,183.56 L242.63,180.21 L242.72,182.54 L242.81,177.90 L242.90,180.30 L242.99,183.10 L243.08,181.20 L243.17,182.21 L243.25,179.33 L243.34,184.42 L243.43,182.89 L243.52,181.90 L243.61,182.61 L243.70,182.48 L243.79,184.22 L243.87,182.30 L243.96,179.61 L244.05,181.56 L244.14,184.03 L244.23,182.89 L244.32,181.31 L244.41,182.96 L244.49,182.17 L244.58,182.97 L244.67,179.46 L244.76,180.57 L244.85,183.07 L244.94,181.65 L245.03,182.58 L245.12,185.14 L245.20,181.53 L245.29,182.41 L245.38,181.14 L245.47,181.04 L245.56,181.92 L245.65,179.73 L245.74,178.70 L245.82,184.23 L245.91,181.89 L246.00,183.85 L246.09,182.26 L246.18,182.31 L246.27,183.14 L246.36,183.22 L246.44,180.17 L246.53,184.01 L246.62,180.55 L246.71,182.42 L246.80,186.16 L246.89,182.23 L246.98,184.76 L247.07,181.56 L247.15,183.09 L247.24,182.20 L247.33,182.79 L247.42,180.77 L247.51,180.68 L247.60,182.67 L247.69,179.66 L247.77,180.81 L247.86,183.17 L247.95,181.18 L248.04,180.75 L248.13,180.41 L248.22,182.40 L248.31,181.60 L248.39,182.41 L248.48,181.88 L248.57,185.11 L248.66,181.50 L248.75,179.10 L248.84,182.38 L248.93,182.21 L249.02,182.45 L249.10,179.67 L249.19,184.00 L249.28,182.17 L249.37,182.16 L249.46,179.73 L249.55,182.98 L249.64,182.13 L249.72,184.37 L249.81,181.59 L249.90,180.30 L249.99,182.46 L250.08,180.82 L250.17,182.92 L250.26,180.56 L250.34,182.07 L250.43,181.92 L250.52,182.23 L250.61,181.47 L250.70,181.01 L250.79,182.20 L250.88,181.39 L250.97,182.54 L251.05,181.88 L251.14,178.79 L251.23,182.22 L251.32,184.49 L251.41,182.80 L251.50,183.26 L251.59,183.04 L251.67,181.60 L251.76,180.25 L251.85,183.61 L251.94,183.99 L252.03,183.24 L252.12,183.02 L252.21,182.98 L252.30,182.32 L252.38,182.80 L252.47,182.39 L252.56,182.88 L252.65,180.91 L252.74,181.41 L252.83,183.27 L252.92,181.87 L253.00,178.64 L253.09,182.60 L253.18,178.86 L253.27,185.38 L253.36,183.53 L253.45,183.46 L253.54,181.40 L253.62,180.68 L253.71,182.11 L253.80,182.47 L253.89,181.25 L253.98,182.69 L254.07,183.51 L254.16,183.38 L254.25,180.86 L254.33,179.13 L254.42,182.48 L254.51,181.46 L254.60,183.17 L254.69,185.01 L254.78,185.02 L254.87,182.94 L254.95,184.21 L255.04,185.03 L255.13,182.58 L255.22,182.93 L255.31,183.83 L255.40,182.47 L255.49,181.77 L255.57,181.39 L255.66,182.55 L255.75,181.60 L255.84,183.77 L255.93,182.05 L256.02,184.80 L256.11,184.42 L256.20,180.68 L256.28,184.23 L256.37,181.97 L256.46,184.68 L256.55,183.38 L256.64,182.53 L256.73,183.63 L256.82,181.76 L256.90,183.12 L256.99,183.21 L257.08,182.40 L257.17,183.22 L257.26,181.12 L257.35,183.49 L257.44,180.80 L257.52,183.60 L257.61,183.37 L257.70,183.74 L257.79,181.82 L257.88,186.84 L257.97,182.34 L258.06,182.92 L258.15,181.55 L258.23,184.86 L258.32,181.99 L258.41,184.21 L258.50,181.28 L258.59,183.19 L258.68,182.16 L258.77,184.14 L258.85,182.30 L258.94,181.44 L259.03,183.43 L259.12,180.95 L259.21,181.31 L259.30,183.92 L259.39,179.95 L259.47,183.92 L259.56,182.18 L259.65,181.41 L259.74,183.16 L259.83,183.75 L259.92,181.92 L260.01,182.54 L260.10,184.02 L260.18,183.95 L260.27,182.75 L260.36,181.67 L260.45,181.42 L260.54,181.95 L260.63,183.86 L260.72,183.72 L260.80,183.31 L260.89,184.95 L260.98,182.42 L261.07,182.31 L261.16,182.30 L261.25,185.74 L261.34,179.81 L261.42,183.33 L261.51,183.57 L261.60,183.00 L261.69,186.40 L261.78,184.67 L261.87,184.07 L261.96,181.59 L262.05,183.68 L262.13,182.39 L262.22,183.01 L262.31,183.25 L262.40,182.24" fill="none" stroke="#fa1212" stroke-width="1.2" stroke-linejoin="round" clip-path="url(#ca)"/>
<line x1="40.8" y1="75.6" x2="262.4" y2="75.6" stroke="#222" stroke-width="1.1"/>
<line x1="40.8" y1="133.6" x2="262.4" y2="133.6" stroke="#222" stroke-width="1.1"/>
<rect x="40.8" y="17.9" width="221.59999999999997" height="173.6" fill="none" stroke="#553f2e" stroke-width="1.5"/>
<line x1="55.57" y1="191.5" x2="55.57" y2="194.7" stroke="#553f2e" stroke-width="1"/>
<text x="55.6" y="203" font-size="6.8" fill="#111" stroke="#111" stroke-width="0.25" text-anchor="middle" >10</text>
<line x1="70.35" y1="191.5" x2="70.35" y2="193.5" stroke="#553f2e" stroke-width="1"/>
<line x1="85.12" y1="191.5" x2="85.12" y2="194.7" stroke="#553f2e" stroke-width="1"/>
<text x="85.1" y="203" font-size="6.8" fill="#111" stroke="#111" stroke-width="0.25" text-anchor="middle" >20</text>
<line x1="99.89" y1="191.5" x2="99.89" y2="193.5" stroke="#553f2e" stroke-width="1"/>
<line x1="114.67" y1="191.5" x2="114.67" y2="194.7" stroke="#553f2e" stroke-width="1"/>
<text x="114.7" y="203" font-size="6.8" fill="#111" stroke="#111" stroke-width="0.25" text-anchor="middle" >30</text>
<line x1="129.44" y1="191.5" x2="129.44" y2="193.5" stroke="#553f2e" stroke-width="1"/>
<line x1="144.21" y1="191.5" x2="144.21" y2="194.7" stroke="#553f2e" stroke-width="1"/>
<text x="144.2" y="203" font-size="6.8" fill="#111" stroke="#111" stroke-width="0.25" text-anchor="middle" >40</text>
<line x1="158.99" y1="191.5" x2="158.99" y2="193.5" stroke="#553f2e" stroke-width="1"/>
<line x1="173.76" y1="191.5" x2="173.76" y2="194.7" stroke="#553f2e" stroke-width="1"/>
<text x="173.8" y="203" font-size="6.8" fill="#111" stroke="#111" stroke-width="0.25" text-anchor="middle" >50</text>
<line x1="188.53" y1="191.5" x2="188.53" y2="193.5" stroke="#553f2e" stroke-width="1"/>
<line x1="203.31" y1="191.5" x2="203.31" y2="194.7" stroke="#553f2e" stroke-width="1"/>
<text x="203.3" y="203" font-size="6.8" fill="#111" stroke="#111" stroke-width="0.25" text-anchor="middle" >60</text>
<line x1="218.08" y1="191.5" x2="218.08" y2="193.5" stroke="#553f2e" stroke-width="1"/>
<line x1="232.85" y1="191.5" x2="232.85" y2="194.7" stroke="#553f2e" stroke-width="1"/>
<text x="232.9" y="203" font-size="6.8" fill="#111" stroke="#111" stroke-width="0.25" text-anchor="middle" >70</text>
<line x1="247.63" y1="191.5" x2="247.63" y2="193.5" stroke="#553f2e" stroke-width="1"/>
<line x1="262.40" y1="191.5" x2="262.40" y2="194.7" stroke="#553f2e" stroke-width="1"/>
<text x="262.4" y="203" font-size="6.8" fill="#111" stroke="#111" stroke-width="0.25" text-anchor="middle" >80</text>
<text x="151.6" y="212.6" font-size="8.7" fill="#111" stroke="#111" stroke-width="0.25" text-anchor="middle" >2θ (degree)</text>
<text transform="translate(31,104.6) rotate(-90)" font-size="9.3" fill="#111" stroke="#111" stroke-width="0.25" text-anchor="middle">Intensity (a.u.)</text>
<text x="255.3" y="28.4" font-size="8.6" fill="#12ae38" stroke="#12ae38" stroke-width="0.25" text-anchor="end" >WSC-Fe/N-1000°C</text>
<text x="252" y="88.2" font-size="8.6" fill="#0e80c6" stroke="#0e80c6" stroke-width="0.25" text-anchor="end" >WSC-Fe/N-900°C</text>
<text x="253.5" y="146.9" font-size="8.6" fill="#fa1212" stroke="#fa1212" stroke-width="0.25" text-anchor="end" >WSC-Fe/N-800°C</text>
<text x="100.6" y="15" font-size="8.2" fill="#e81c2a" stroke="#e81c2a" stroke-width="0.25" text-anchor="middle" >C(002)</text>
<text x="153.1" y="15" font-size="8.2" fill="#e81c2a" stroke="#e81c2a" stroke-width="0.25" text-anchor="middle" >C(101)</text>
<text x="21.5" y="22.3" font-size="21" fill="#000" stroke="#000" stroke-width="0.3" style="font-family:&quot;Liberation Serif&quot;,serif;font-weight:bold">a</text>
<path d="M314.50,42.50 L314.59,44.18 L314.67,43.21 L314.76,41.87 L314.84,38.33 L314.93,43.36 L315.02,43.36 L315.10,41.28 L315.19,40.83 L315.28,42.73 L315.36,40.32 L315.45,43.00 L315.53,39.91 L315.62,40.20 L315.71,41.77 L315.79,39.35 L315.88,41.78 L315.97,42.68 L316.05,39.65 L316.14,43.37 L316.22,40.93 L316.31,42.79 L316.40,42.25 L316.48,41.17 L316.57,41.08 L316.66,39.15 L316.74,40.83 L316.83,40.73 L316.91,44.73 L317.00,43.72 L317.09,39.80 L317.17,43.40 L317.26,42.46 L317.34,41.49 L317.43,42.90 L317.52,43.46 L317.60,41.24 L317.69,41.75 L317.78,42.49 L317.86,40.62 L317.95,42.56 L318.03,42.14 L318.12,41.18 L318.21,40.93 L318.29,42.84 L318.38,43.79 L318.47,42.92 L318.55,40.99 L318.64,43.64 L318.72,42.71 L318.81,43.42 L318.90,44.38 L318.98,41.01 L319.07,42.28 L319.15,41.55 L319.24,41.12 L319.33,45.85 L319.41,44.12 L319.50,39.72 L319.59,43.32 L319.67,41.74 L319.76,44.54 L319.84,42.82 L319.93,42.42 L320.02,42.96 L320.10,43.37 L320.19,42.81 L320.28,42.42 L320.36,42.58 L320.45,43.65 L320.53,41.00 L320.62,42.86 L320.71,42.68 L320.79,42.10 L320.88,44.12 L320.97,40.83 L321.05,42.36 L321.14,41.59 L321.22,43.88 L321.31,42.25 L321.40,43.11 L321.48,43.68 L321.57,40.47 L321.65,43.83 L321.74,41.89 L321.83,42.71 L321.91,42.96 L322.00,44.48 L322.09,44.39 L322.17,46.08 L322.26,43.51 L322.34,42.47 L322.43,42.45 L322.52,44.34 L322.60,45.91 L322.69,43.87 L322.78,42.40 L322.86,43.80 L322.95,43.79 L323.03,43.45 L323.12,42.21 L323.21,39.31 L323.29,42.58 L323.38,45.18 L323.46,43.84 L323.55,39.93 L323.64,43.54 L323.72,40.55 L323.81,46.80 L323.90,43.90 L323.98,41.66 L324.07,44.92 L324.15,42.38 L324.24,44.58 L324.33,43.72 L324.41,41.79 L324.50,44.80 L324.59,41.57 L324.67,45.93 L324.76,43.88 L324.84,42.13 L324.93,40.88 L325.02,46.45 L325.10,46.20 L325.19,41.83 L325.28,46.55 L325.36,44.17 L325.45,43.56 L325.53,43.80 L325.62,43.52 L325.71,46.29 L325.79,44.23 L325.88,41.03 L325.96,47.41 L326.05,45.47 L326.14,42.30 L326.22,43.50 L326.31,42.63 L326.40,44.19 L326.48,44.77 L326.57,44.53 L326.65,43.20 L326.74,42.89 L326.83,45.57 L326.91,44.05 L327.00,47.87 L327.09,42.95 L327.17,45.54 L327.26,44.37 L327.34,43.08 L327.43,46.52 L327.52,44.54 L327.60,42.91 L327.69,43.86 L327.77,46.03 L327.86,42.43 L327.95,46.65 L328.03,45.55 L328.12,44.01 L328.21,46.67 L328.29,47.32 L328.38,45.48 L328.46,44.80 L328.55,47.53 L328.64,46.98 L328.72,43.09 L328.81,44.27 L328.90,44.27 L328.98,43.97 L329.07,42.24 L329.15,46.12 L329.24,44.82 L329.33,44.86 L329.41,46.99 L329.50,43.83 L329.59,44.66 L329.67,45.21 L329.76,44.09 L329.84,44.63 L329.93,46.06 L330.02,44.83 L330.10,47.01 L330.19,43.66 L330.27,45.22 L330.36,42.61 L330.45,44.74 L330.53,43.81 L330.62,47.16 L330.71,46.18 L330.79,45.82 L330.88,48.00 L330.96,47.37 L331.05,46.21 L331.14,43.95 L331.22,42.75 L331.31,45.05 L331.40,44.55 L331.48,44.09 L331.57,44.69 L331.65,42.50 L331.74,47.60 L331.83,43.36 L331.91,44.14 L332.00,46.16 L332.08,42.63 L332.17,46.77 L332.26,46.81 L332.34,44.81 L332.43,43.58 L332.52,44.58 L332.60,42.37 L332.69,47.63 L332.77,45.49 L332.86,44.22 L332.95,43.96 L333.03,46.38 L333.12,47.90 L333.21,43.42 L333.29,44.57 L333.38,42.67 L333.46,46.63 L333.55,45.81 L333.64,49.23 L333.72,45.39 L333.81,44.90 L333.90,44.48 L333.98,47.02 L334.07,43.02 L334.15,46.89 L334.24,46.09 L334.33,44.89 L334.41,44.27 L334.50,47.45 L334.58,48.78 L334.67,45.06 L334.76,46.65 L334.84,48.64 L334.93,44.83 L335.02,45.44 L335.10,43.89 L335.19,45.64 L335.27,45.77 L335.36,45.24 L335.45,44.74 L335.53,43.39 L335.62,43.79 L335.71,44.40 L335.79,47.04 L335.88,45.16 L335.96,44.60 L336.05,47.04 L336.14,46.88 L336.22,44.73 L336.31,44.93 L336.39,47.01 L336.48,46.53 L336.57,44.57 L336.65,46.31 L336.74,45.86 L336.83,47.71 L336.91,44.49 L337.00,47.32 L337.08,46.58 L337.17,44.23 L337.26,47.57 L337.34,47.33 L337.43,43.71 L337.52,49.06 L337.60,43.97 L337.69,44.33 L337.77,45.29 L337.86,47.06 L337.95,46.75 L338.03,45.64 L338.12,48.00 L338.21,46.43 L338.29,48.04 L338.38,50.09 L338.46,46.07 L338.55,41.55 L338.64,45.00 L338.72,43.98 L338.81,45.87 L338.89,45.87 L338.98,43.71 L339.07,43.82 L339.15,45.26 L339.24,45.36 L339.33,41.42 L339.41,47.25 L339.50,45.71 L339.58,45.63 L339.67,46.13 L339.76,43.96 L339.84,45.54 L339.93,47.32 L340.02,47.37 L340.10,46.36 L340.19,45.14 L340.27,44.24 L340.36,47.74 L340.45,46.43 L340.53,44.87 L340.62,41.99 L340.70,44.12 L340.79,42.37 L340.88,47.58 L340.96,45.83 L341.05,44.29 L341.14,45.05 L341.22,49.78 L341.31,47.50 L341.39,43.27 L341.48,45.26 L341.57,43.44 L341.65,42.61 L341.74,45.74 L341.83,49.44 L341.91,48.02 L342.00,45.50 L342.08,44.80 L342.17,45.75 L342.26,47.12 L342.34,42.98 L342.43,42.29 L342.52,48.50 L342.60,45.84 L342.69,48.03 L342.77,45.75 L342.86,47.80 L342.95,44.33 L343.03,46.16 L343.12,47.91 L343.20,47.02 L343.29,44.55 L343.38,46.79 L343.46,44.19 L343.55,42.91 L343.64,46.15 L343.72,47.60 L343.81,46.68 L343.89,43.16 L343.98,46.70 L344.07,46.37 L344.15,44.46 L344.24,41.08 L344.33,46.91 L344.41,46.69 L344.50,46.03 L344.58,42.30 L344.67,42.70 L344.76,46.87 L344.84,46.51 L344.93,45.99 L345.01,44.74 L345.10,45.80 L345.19,44.23 L345.27,44.61 L345.36,43.67 L345.45,45.54 L345.53,44.41 L345.62,46.69 L345.70,46.29 L345.79,43.72 L345.88,48.15 L345.96,43.19 L346.05,45.81 L346.14,46.86 L346.22,47.19 L346.31,41.34 L346.39,46.70 L346.48,47.06 L346.57,47.42 L346.65,41.28 L346.74,43.84 L346.83,44.78 L346.91,44.16 L347.00,47.12 L347.08,43.70 L347.17,46.86 L347.26,45.70 L347.34,42.29 L347.43,43.03 L347.51,43.87 L347.60,44.78 L347.69,46.25 L347.77,44.24 L347.86,46.04 L347.95,41.84 L348.03,40.17 L348.12,43.84 L348.20,45.14 L348.29,43.73 L348.38,42.61 L348.46,44.97 L348.55,47.47 L348.64,44.02 L348.72,42.94 L348.81,42.71 L348.89,47.38 L348.98,43.99 L349.07,45.04 L349.15,46.03 L349.24,45.75 L349.32,42.37 L349.41,45.48 L349.50,45.25 L349.58,44.62 L349.67,45.46 L349.76,42.79 L349.84,43.57 L349.93,42.78 L350.01,44.89 L350.10,42.50 L350.19,44.21 L350.27,41.69 L350.36,43.28 L350.45,42.84 L350.53,43.22 L350.62,43.60 L350.70,43.03 L350.79,42.94 L350.88,39.81 L350.96,45.08 L351.05,42.16 L351.14,42.76 L351.22,41.75 L351.31,44.76 L351.39,41.55 L351.48,43.86 L351.57,44.95 L351.65,45.70 L351.74,44.90 L351.82,43.91 L351.91,40.85 L352.00,44.96 L352.08,44.76 L352.17,44.14 L352.26,44.04 L352.34,42.80 L352.43,41.78 L352.51,44.40 L352.60,44.69 L352.69,40.81 L352.77,44.02 L352.86,42.87 L352.95,43.90 L353.03,42.85 L353.12,44.21 L353.20,44.03 L353.29,43.77 L353.38,39.97 L353.46,43.59 L353.55,42.27 L353.63,40.29 L353.72,43.29 L353.81,39.82 L353.89,43.53 L353.98,44.82 L354.07,41.15 L354.15,43.47 L354.24,42.66 L354.32,42.95 L354.41,39.61 L354.50,42.82 L354.58,42.00 L354.67,42.96 L354.76,41.72 L354.84,43.48 L354.93,42.09 L355.01,42.72 L355.10,43.82 L355.19,41.83 L355.27,43.14 L355.36,41.84 L355.45,42.29 L355.53,40.53 L355.62,42.64 L355.70,43.34 L355.79,41.16 L355.88,42.56 L355.96,41.93 L356.05,39.38 L356.13,41.73 L356.22,43.28 L356.31,40.29 L356.39,38.13 L356.48,41.35 L356.57,39.93 L356.65,44.05 L356.74,40.84 L356.82,40.87 L356.91,39.81 L357.00,41.21 L357.08,39.85 L357.17,39.26 L357.26,40.60 L357.34,39.34 L357.43,42.77 L357.51,38.69 L357.60,40.44 L357.69,39.40 L357.77,38.24 L357.86,43.14 L357.94,36.99 L358.03,42.73 L358.12,38.03 L358.20,40.43 L358.29,43.92 L358.38,36.76 L358.46,37.95 L358.55,42.26 L358.63,40.37 L358.72,39.17 L358.81,39.96 L358.89,38.42 L358.98,40.14 L359.07,42.32 L359.15,39.24 L359.24,40.05 L359.32,41.73 L359.41,42.96 L359.50,38.76 L359.58,40.15 L359.67,38.72 L359.76,38.55 L359.84,38.91 L359.93,38.49 L360.01,36.68 L360.10,36.22 L360.19,38.22 L360.27,39.57 L360.36,41.28 L360.44,38.43 L360.53,38.97 L360.62,40.27 L360.70,40.36 L360.79,38.94 L360.88,39.00 L360.96,42.07 L361.05,38.47 L361.13,38.18 L361.22,36.31 L361.31,39.59 L361.39,38.43 L361.48,41.89 L361.57,38.24 L361.65,40.05 L361.74,40.20 L361.82,41.32 L361.91,36.51 L362.00,41.10 L362.08,38.57 L362.17,38.34 L362.25,37.97 L362.34,37.80 L362.43,37.84 L362.51,34.60 L362.60,39.13 L362.69,38.38 L362.77,36.71 L362.86,38.10 L362.94,41.85 L363.03,38.73 L363.12,37.46 L363.20,40.79 L363.29,36.73 L363.38,37.72 L363.46,37.04 L363.55,37.51 L363.63,39.02 L363.72,38.74 L363.81,36.60 L363.89,37.53 L363.98,37.83 L364.07,37.00 L364.15,37.56 L364.24,36.42 L364.32,36.36 L364.41,37.57 L364.50,35.81 L364.58,38.09 L364.67,37.07 L364.75,35.87 L364.84,36.33 L364.93,36.50 L365.01,36.97 L365.10,37.37 L365.19,36.82 L365.27,35.73 L365.36,39.35 L365.44,38.47 L365.53,37.17 L365.62,38.47 L365.70,37.43 L365.79,36.46 L365.88,36.97 L365.96,40.91 L366.05,38.34 L366.13,38.37 L366.22,36.05 L366.31,37.59 L366.39,40.19 L366.48,37.24 L366.56,38.23 L366.65,38.48 L366.74,37.47 L366.82,38.91 L366.91,36.74 L367.00,37.12 L367.08,35.30 L367.17,40.36 L367.25,36.70 L367.34,36.35 L367.43,38.33 L367.51,35.33 L367.60,36.05 L367.69,34.79 L367.77,36.02 L367.86,35.33 L367.94,36.76 L368.03,35.67 L368.12,34.88 L368.20,35.32 L368.29,35.56 L368.38,34.90 L368.46,37.15 L368.55,36.67 L368.63,35.72 L368.72,33.50 L368.81,36.08 L368.89,33.13 L368.98,35.32 L369.06,34.99 L369.15,33.87 L369.24,33.38 L369.32,33.48 L369.41,37.68 L369.50,33.92 L369.58,33.90 L369.67,35.62 L369.75,34.65 L369.84,35.54 L369.93,31.84 L370.01,31.94 L370.10,37.62 L370.19,33.35 L370.27,32.85 L370.36,33.44 L370.44,34.63 L370.53,31.10 L370.62,33.29 L370.70,32.69 L370.79,33.67 L370.87,32.77 L370.96,31.55 L371.05,30.91 L371.13,28.35 L371.22,33.57 L371.31,29.63 L371.39,31.18 L371.48,34.29 L371.56,30.93 L371.65,32.42 L371.74,31.02 L371.82,32.32 L371.91,31.17 L372.00,30.16 L372.08,32.81 L372.17,30.03 L372.25,28.10 L372.34,29.42 L372.43,30.51 L372.51,27.68 L372.60,30.38 L372.69,30.09 L372.77,31.94 L372.86,27.39 L372.94,29.16 L373.03,25.27 L373.12,26.96 L373.20,27.52 L373.29,27.73 L373.37,26.76 L373.46,26.44 L373.55,25.38 L373.63,25.38 L373.72,26.29 L373.81,26.42 L373.89,26.29 L373.98,26.58 L374.06,26.58 L374.15,21.65 L374.24,23.33 L374.32,23.59 L374.41,22.54 L374.50,24.86 L374.58,24.10 L374.67,22.48 L374.75,22.53 L374.84,24.00 L374.93,21.20 L375.01,20.96 L375.10,22.54 L375.18,21.57 L375.27,22.74 L375.36,20.81 L375.44,21.10 L375.53,18.80 L375.62,17.89 L375.70,19.03 L375.79,15.43 L375.87,20.63 L375.96,21.98 L376.05,21.08 L376.13,21.10 L376.22,23.60 L376.31,22.34 L376.39,24.39 L376.48,26.74 L376.56,24.96 L376.65,25.77 L376.74,25.56 L376.82,25.67 L376.91,26.19 L377.00,26.35 L377.08,28.39 L377.17,24.65 L377.25,26.97 L377.34,28.65 L377.43,26.60 L377.51,28.00 L377.60,27.35 L377.68,29.35 L377.77,30.25 L377.86,31.42 L377.94,30.21 L378.03,28.60 L378.12,30.34 L378.20,31.09 L378.29,32.63 L378.37,27.44 L378.46,31.55 L378.55,28.44 L378.63,32.60 L378.72,32.44 L378.81,32.78 L378.89,33.63 L378.98,33.12 L379.06,31.80 L379.15,33.58 L379.24,34.98 L379.32,33.06 L379.41,33.37 L379.49,31.57 L379.58,35.30 L379.67,32.85 L379.75,32.58 L379.84,33.13 L379.93,32.59 L380.01,33.62 L380.10,36.05 L380.18,35.41 L380.27,36.47 L380.36,36.66 L380.44,33.12 L380.53,35.31 L380.62,36.96 L380.70,38.27 L380.79,32.71 L380.87,32.79 L380.96,35.77 L381.05,34.64 L381.13,33.73 L381.22,35.93 L381.31,34.24 L381.39,32.08 L381.48,35.60 L381.56,35.92 L381.65,36.79 L381.74,37.35 L381.82,36.29 L381.91,35.75 L381.99,35.19 L382.08,33.79 L382.17,35.73 L382.25,38.01 L382.34,37.58 L382.43,39.81 L382.51,36.55 L382.60,34.16 L382.68,38.23 L382.77,38.64 L382.86,35.39 L382.94,34.81 L383.03,37.59 L383.12,38.53 L383.20,35.84 L383.29,37.13 L383.37,36.56 L383.46,36.04 L383.55,35.93 L383.63,38.24 L383.72,37.55 L383.80,37.20 L383.89,34.35 L383.98,41.06 L384.06,37.07 L384.15,38.39 L384.24,36.97 L384.32,39.36 L384.41,36.59 L384.49,39.12 L384.58,38.79 L384.67,40.56 L384.75,37.60 L384.84,38.38 L384.93,39.10 L385.01,42.73 L385.10,37.41 L385.18,40.18 L385.27,38.85 L385.36,40.41 L385.44,41.02 L385.53,40.34 L385.62,40.62 L385.70,40.74 L385.79,39.52 L385.87,40.18 L385.96,38.10 L386.05,40.16 L386.13,39.63 L386.22,40.50 L386.30,42.10 L386.39,41.61 L386.48,41.77 L386.56,42.75 L386.65,37.50 L386.74,41.78 L386.82,41.11 L386.91,41.03 L386.99,39.22 L387.08,42.05 L387.17,42.98 L387.25,42.82 L387.34,41.16 L387.43,42.28 L387.51,42.73 L387.60,44.11 L387.68,43.24 L387.77,41.62 L387.86,41.58 L387.94,41.71 L388.03,41.82 L388.11,40.76 L388.20,42.69 L388.29,40.51 L388.37,40.37 L388.46,42.13 L388.55,40.76 L388.63,41.28 L388.72,38.54 L388.80,42.89 L388.89,41.71 L388.98,41.55 L389.06,42.46 L389.15,42.11 L389.24,40.76 L389.32,44.85 L389.41,41.18 L389.49,43.35 L389.58,44.66 L389.67,41.00 L389.75,42.10 L389.84,40.75 L389.93,43.58 L390.01,41.53 L390.10,40.40 L390.18,44.05 L390.27,43.48 L390.36,40.79 L390.44,43.93 L390.53,42.47 L390.61,46.20 L390.70,44.79 L390.79,41.41 L390.87,41.86 L390.96,40.98 L391.05,42.52 L391.13,42.41 L391.22,43.47 L391.30,42.52 L391.39,40.20 L391.48,41.22 L391.56,44.58 L391.65,44.21 L391.74,42.26 L391.82,42.33 L391.91,42.30 L391.99,42.61 L392.08,40.09 L392.17,43.97 L392.25,41.66 L392.34,42.89 L392.42,38.91 L392.51,43.07 L392.60,44.75 L392.68,39.42 L392.77,45.07 L392.86,43.52 L392.94,41.74 L393.03,40.49 L393.11,44.63 L393.20,43.30 L393.29,43.82 L393.37,42.55 L393.46,41.79 L393.55,44.31 L393.63,41.60 L393.72,44.40 L393.80,40.58 L393.89,41.72 L393.98,40.96 L394.06,45.11 L394.15,40.56 L394.24,41.50 L394.32,44.21 L394.41,43.59 L394.49,46.55 L394.58,46.05 L394.67,44.24 L394.75,44.37 L394.84,40.64 L394.92,42.07 L395.01,42.93 L395.10,43.17 L395.18,41.41 L395.27,42.10 L395.36,42.25 L395.44,45.12 L395.53,44.20 L395.61,43.09 L395.70,43.20 L395.79,44.07 L395.87,42.61 L395.96,43.29 L396.05,41.13 L396.13,44.73 L396.22,45.19 L396.30,44.32 L396.39,44.51 L396.48,44.37 L396.56,46.89 L396.65,44.17 L396.73,41.92 L396.82,42.36 L396.91,45.00 L396.99,45.56 L397.08,45.14 L397.17,45.27 L397.25,44.32 L397.34,41.84 L397.42,43.03 L397.51,41.41 L397.60,43.56 L397.68,42.13 L397.77,44.32 L397.86,43.95 L397.94,41.32 L398.03,45.34 L398.11,45.41 L398.20,42.23 L398.29,44.54 L398.37,45.41 L398.46,43.94 L398.55,45.67 L398.63,44.70 L398.72,46.04 L398.80,44.74 L398.89,44.24 L398.98,45.27 L399.06,45.70 L399.15,44.93 L399.23,43.91 L399.32,43.43 L399.41,44.07 L399.49,43.80 L399.58,44.98 L399.67,44.95 L399.75,44.59 L399.84,44.74 L399.92,45.02 L400.01,47.13 L400.10,46.61 L400.18,43.98 L400.27,45.49 L400.36,44.39 L400.44,44.76 L400.53,44.57 L400.61,44.02 L400.70,42.95 L400.79,41.32 L400.87,45.31 L400.96,46.79 L401.04,43.70 L401.13,45.82 L401.22,44.51 L401.30,45.52 L401.39,43.92 L401.48,44.79 L401.56,44.99 L401.65,41.63 L401.73,45.51 L401.82,45.00 L401.91,41.52 L401.99,46.21 L402.08,45.21 L402.17,45.58 L402.25,45.83 L402.34,44.69 L402.42,43.72 L402.51,44.68 L402.60,44.73 L402.68,48.69 L402.77,48.15 L402.86,44.69 L402.94,44.82 L403.03,45.93 L403.11,46.31 L403.20,44.45 L403.29,44.01 L403.37,48.40 L403.46,47.11 L403.54,43.24 L403.63,42.94 L403.72,44.36 L403.80,45.94 L403.89,46.44 L403.98,45.14 L404.06,43.25 L404.15,46.01 L404.23,46.59 L404.32,45.71 L404.41,44.99 L404.49,46.61 L404.58,45.68 L404.67,44.11 L404.75,45.94 L404.84,43.89 L404.92,47.28 L405.01,46.56 L405.10,44.38 L405.18,46.21 L405.27,47.78 L405.35,42.72 L405.44,45.74 L405.53,48.42 L405.61,43.66 L405.70,45.75 L405.79,43.89 L405.87,45.93 L405.96,42.46 L406.04,43.64 L406.13,45.28 L406.22,46.31 L406.30,46.69 L406.39,46.78 L406.48,47.88 L406.56,47.22 L406.65,47.30 L406.73,44.75 L406.82,46.00 L406.91,50.20 L406.99,49.66 L407.08,47.53 L407.17,47.41 L407.25,47.80 L407.34,45.73 L407.42,49.30 L407.51,45.81 L407.60,46.27 L407.68,49.68 L407.77,43.31 L407.85,46.99 L407.94,43.88 L408.03,45.50 L408.11,46.36 L408.20,45.99 L408.29,46.80 L408.37,45.40 L408.46,46.42 L408.54,44.81 L408.63,46.03 L408.72,44.54 L408.80,47.63 L408.89,44.72 L408.98,47.73 L409.06,46.08 L409.15,46.26 L409.23,48.51 L409.32,46.92 L409.41,43.92 L409.49,47.54 L409.58,42.97 L409.66,47.23 L409.75,46.24 L409.84,44.75 L409.92,47.00 L410.01,46.43 L410.10,49.94 L410.18,46.27 L410.27,49.88 L410.35,49.05 L410.44,46.07 L410.53,45.78 L410.61,49.02 L410.70,46.84 L410.79,47.30 L410.87,46.69 L410.96,45.27 L411.04,46.55 L411.13,45.68 L411.22,44.84 L411.30,46.73 L411.39,49.88 L411.48,49.65 L411.56,47.13 L411.65,47.45 L411.73,48.03 L411.82,49.33 L411.91,47.78 L411.99,46.59 L412.08,46.74 L412.16,49.06 L412.25,51.28 L412.34,46.44 L412.42,44.30 L412.51,48.65 L412.60,47.32 L412.68,47.67 L412.77,49.34 L412.85,47.60 L412.94,45.51 L413.03,44.56 L413.11,47.48 L413.20,45.82 L413.29,48.02 L413.37,45.68 L413.46,47.09 L413.54,45.42 L413.63,47.11 L413.72,47.00 L413.80,48.59 L413.89,49.74 L413.97,47.45 L414.06,46.44 L414.15,50.72 L414.23,48.33 L414.32,48.72 L414.41,48.74 L414.49,50.03 L414.58,49.38 L414.66,48.90 L414.75,49.05 L414.84,46.61 L414.92,47.01 L415.01,47.79 L415.10,48.09 L415.18,47.95 L415.27,48.36 L415.35,47.90 L415.44,47.19 L415.53,45.35 L415.61,49.03 L415.70,48.63 L415.79,46.39 L415.87,48.43 L415.96,48.25 L416.04,47.73 L416.13,44.82 L416.22,45.74 L416.30,46.63 L416.39,49.93 L416.47,46.18 L416.56,46.92 L416.65,45.74 L416.73,46.64 L416.82,47.87 L416.91,44.20 L416.99,43.49 L417.08,48.26 L417.16,47.28 L417.25,46.29 L417.34,48.63 L417.42,48.60 L417.51,43.96 L417.60,46.83 L417.68,48.72 L417.77,46.01 L417.85,46.52 L417.94,48.40 L418.03,46.53 L418.11,45.10 L418.20,45.84 L418.28,44.85 L418.37,47.64 L418.46,44.19 L418.54,48.26 L418.63,44.25 L418.72,46.76 L418.80,44.46 L418.89,46.16 L418.97,48.14 L419.06,48.26 L419.15,48.50 L419.23,46.38 L419.32,46.64 L419.41,46.80 L419.49,47.35 L419.58,45.79 L419.66,48.01 L419.75,46.82 L419.84,48.02 L419.92,46.99 L420.01,47.26 L420.10,45.11 L420.18,45.56 L420.27,44.21 L420.35,45.68 L420.44,45.83 L420.53,47.31 L420.61,44.14 L420.70,49.86 L420.78,45.79 L420.87,47.85 L420.96,47.54 L421.04,42.21 L421.13,45.60 L421.22,48.21 L421.30,42.38 L421.39,47.18 L421.47,44.67 L421.56,45.35 L421.65,46.39 L421.73,43.27 L421.82,46.37 L421.91,45.12 L421.99,44.97 L422.08,47.16 L422.16,49.97 L422.25,46.64 L422.34,46.96 L422.42,46.07 L422.51,45.07 L422.59,46.55 L422.68,48.44 L422.77,46.47 L422.85,47.53 L422.94,45.87 L423.03,49.98 L423.11,43.76 L423.20,47.11 L423.28,47.05 L423.37,46.65 L423.46,44.59 L423.54,44.57 L423.63,45.93 L423.72,46.44 L423.80,44.49 L423.89,44.72 L423.97,47.15 L424.06,47.87 L424.15,45.50 L424.23,45.31 L424.32,45.27 L424.41,50.06 L424.49,47.11 L424.58,46.29 L424.66,47.89 L424.75,49.83 L424.84,48.16 L424.92,44.30 L425.01,46.31 L425.09,45.84 L425.18,45.95 L425.27,44.67 L425.35,45.92 L425.44,44.90 L425.53,47.04 L425.61,46.62 L425.70,44.47 L425.78,44.05 L425.87,45.90 L425.96,47.61 L426.04,47.39 L426.13,46.58 L426.22,42.97 L426.30,45.98 L426.39,45.63 L426.47,46.26 L426.56,44.96 L426.65,46.15 L426.73,45.82 L426.82,50.67 L426.90,47.90 L426.99,46.59 L427.08,46.82 L427.16,46.74 L427.25,47.21 L427.34,46.35 L427.42,46.95 L427.51,48.52 L427.59,48.25 L427.68,47.49 L427.77,49.03 L427.85,47.41 L427.94,45.63 L428.03,44.52 L428.11,46.10 L428.20,47.06 L428.28,47.77 L428.37,48.79 L428.46,46.36 L428.54,46.04 L428.63,48.40 L428.72,49.02 L428.80,46.58 L428.89,47.81 L428.97,49.38 L429.06,47.83 L429.15,47.29 L429.23,44.31 L429.32,49.38 L429.40,48.39 L429.49,47.63 L429.58,46.77 L429.66,45.62 L429.75,47.32 L429.84,47.32 L429.92,49.11 L430.01,45.70 L430.09,49.64 L430.18,47.56 L430.27,49.28 L430.35,46.09 L430.44,48.05 L430.53,49.35 L430.61,47.72 L430.70,45.39 L430.78,47.08 L430.87,48.37 L430.96,45.52 L431.04,45.46 L431.13,47.95 L431.21,46.20 L431.30,48.62 L431.39,45.89 L431.47,44.92 L431.56,46.50 L431.65,49.85 L431.73,46.38 L431.82,47.66 L431.90,48.04 L431.99,46.28 L432.08,49.30 L432.16,47.96 L432.25,48.36 L432.34,45.24 L432.42,45.15 L432.51,44.05 L432.59,47.46 L432.68,47.41 L432.77,48.82 L432.85,49.95 L432.94,47.40 L433.03,47.39 L433.11,48.45 L433.20,50.05 L433.28,46.60 L433.37,48.74 L433.46,47.46 L433.54,47.34 L433.63,49.04 L433.71,46.69 L433.80,46.29 L433.89,48.84 L433.97,47.84 L434.06,47.50 L434.15,47.70 L434.23,48.63 L434.32,47.36 L434.40,49.04 L434.49,48.53 L434.58,50.11 L434.66,49.80 L434.75,49.21 L434.84,47.66 L434.92,48.14 L435.01,47.11 L435.09,51.76 L435.18,47.67 L435.27,48.81 L435.35,50.00 L435.44,46.02 L435.52,46.82 L435.61,47.45 L435.70,46.59 L435.78,46.19 L435.87,47.30 L435.96,49.96 L436.04,49.13 L436.13,48.13 L436.21,48.13 L436.30,45.67 L436.39,49.13 L436.47,48.74 L436.56,46.54 L436.65,48.44 L436.73,47.86 L436.82,47.39 L436.90,46.71 L436.99,47.18 L437.08,46.80 L437.16,48.86 L437.25,48.73 L437.34,48.67 L437.42,47.94 L437.51,47.62 L437.59,51.21 L437.68,45.52 L437.77,49.99 L437.85,48.77 L437.94,48.36 L438.02,47.53 L438.11,47.96 L438.20,46.56 L438.28,46.27 L438.37,48.14 L438.46,45.90 L438.54,49.54 L438.63,49.95 L438.71,44.67 L438.80,46.08 L438.89,48.75 L438.97,48.67 L439.06,48.53 L439.15,48.99 L439.23,49.47 L439.32,49.65 L439.40,51.00 L439.49,48.45 L439.58,49.67 L439.66,46.07 L439.75,48.24 L439.83,46.67 L439.92,50.48 L440.01,51.85 L440.09,49.25 L440.18,46.59 L440.27,48.32 L440.35,48.54 L440.44,48.79 L440.52,50.09 L440.61,49.90 L440.70,44.87 L440.78,50.52 L440.87,47.82 L440.96,47.74 L441.04,50.62 L441.13,48.18 L441.21,46.59 L441.30,46.66 L441.39,48.68 L441.47,49.92 L441.56,50.79 L441.65,48.37 L441.73,47.95 L441.82,50.99 L441.90,47.98 L441.99,50.76 L442.08,49.00 L442.16,49.01 L442.25,48.34 L442.33,49.11 L442.42,48.02 L442.51,47.72 L442.59,48.51 L442.68,47.78 L442.77,49.17 L442.85,48.86 L442.94,48.36 L443.02,48.46 L443.11,48.43 L443.20,51.28 L443.28,48.76 L443.37,47.93 L443.46,48.36 L443.54,49.76 L443.63,48.52 L443.71,48.60 L443.80,48.45 L443.89,49.07 L443.97,49.40 L444.06,49.49 L444.14,46.50 L444.23,47.33 L444.32,45.24 L444.40,50.04 L444.49,50.49 L444.58,50.77 L444.66,49.11 L444.75,50.57 L444.83,48.87 L444.92,48.75 L445.01,46.72 L445.09,47.82 L445.18,48.10 L445.27,50.28 L445.35,51.36 L445.44,48.30 L445.52,49.52 L445.61,49.39 L445.70,47.89 L445.78,46.54 L445.87,47.94 L445.96,46.96 L446.04,48.58 L446.13,48.84 L446.21,48.79 L446.30,48.82 L446.39,49.76 L446.47,47.74 L446.56,50.36 L446.64,46.69 L446.73,49.19 L446.82,49.66 L446.90,47.98 L446.99,46.83 L447.08,50.04 L447.16,48.17 L447.25,50.26 L447.33,50.25 L447.42,49.15 L447.51,49.17 L447.59,50.59 L447.68,49.72 L447.77,47.86 L447.85,49.44 L447.94,50.00 L448.02,49.51 L448.11,49.50 L448.20,49.02 L448.28,49.07 L448.37,47.91 L448.45,47.22 L448.54,50.87 L448.63,48.37 L448.71,49.60 L448.80,47.15 L448.89,49.52 L448.97,48.13 L449.06,52.99 L449.14,47.87 L449.23,47.96 L449.32,50.68 L449.40,50.97 L449.49,46.36 L449.58,49.73 L449.66,50.62 L449.75,47.64 L449.83,50.36 L449.92,48.65 L450.01,47.99 L450.09,48.92 L450.18,48.77 L450.27,47.46 L450.35,52.62 L450.44,48.80 L450.52,48.40 L450.61,50.68 L450.70,49.37 L450.78,51.37 L450.87,49.11 L450.95,50.00 L451.04,49.64 L451.13,49.76 L451.21,49.23 L451.30,49.39 L451.39,51.92 L451.47,48.59 L451.56,48.79 L451.64,49.09 L451.73,50.39 L451.82,50.16 L451.90,50.92 L451.99,47.71 L452.08,49.98 L452.16,49.37 L452.25,49.23 L452.33,49.87 L452.42,46.87 L452.51,50.04 L452.59,49.87 L452.68,47.66 L452.76,49.55 L452.85,51.88 L452.94,49.16 L453.02,50.55 L453.11,49.40 L453.20,48.59 L453.28,48.44 L453.37,49.19 L453.45,51.58 L453.54,50.91 L453.63,48.78 L453.71,51.19 L453.80,49.61 L453.89,48.83 L453.97,50.41 L454.06,48.54 L454.14,47.62 L454.23,51.65 L454.32,47.28 L454.40,50.61 L454.49,47.72 L454.58,49.83 L454.66,49.60 L454.75,49.27 L454.83,46.83 L454.92,49.75 L455.01,49.86 L455.09,48.67 L455.18,49.84 L455.26,51.33 L455.35,48.94 L455.44,50.32 L455.52,48.36 L455.61,50.51 L455.70,50.88 L455.78,53.46 L455.87,51.27 L455.95,50.62 L456.04,51.99 L456.13,48.64 L456.21,51.53 L456.30,49.29 L456.39,49.19 L456.47,51.59 L456.56,50.40 L456.64,51.93 L456.73,48.08 L456.82,50.48 L456.90,49.38 L456.99,49.75 L457.07,47.48 L457.16,51.44 L457.25,50.44 L457.33,48.79 L457.42,48.30 L457.51,48.97 L457.59,52.13 L457.68,50.06 L457.76,49.74 L457.85,50.90 L457.94,50.24 L458.02,50.55 L458.11,51.27 L458.20,50.71 L458.28,51.48 L458.37,48.62 L458.45,50.37 L458.54,49.80 L458.63,50.45 L458.71,50.25 L458.80,49.44 L458.89,49.85 L458.97,51.65 L459.06,49.58 L459.14,48.64 L459.23,51.19 L459.32,51.72 L459.40,50.01 L459.49,50.57 L459.57,49.25 L459.66,50.13 L459.75,51.95 L459.83,51.54 L459.92,50.65 L460.01,50.07 L460.09,48.22 L460.18,50.90 L460.26,51.11 L460.35,51.94 L460.44,53.27 L460.52,51.03 L460.61,51.83 L460.70,48.99 L460.78,52.19 L460.87,51.74 L460.95,52.42 L461.04,51.49 L461.13,51.19 L461.21,52.61 L461.30,49.68 L461.38,51.48 L461.47,52.09 L461.56,49.55 L461.64,49.05 L461.73,51.23 L461.82,50.82 L461.90,51.49 L461.99,51.55 L462.07,49.63 L462.16,51.15 L462.25,52.24 L462.33,50.22 L462.42,50.33 L462.51,49.19 L462.59,51.85 L462.68,53.40 L462.76,48.89 L462.85,51.80 L462.94,52.00 L463.02,50.02 L463.11,50.28 L463.20,49.38 L463.28,49.74 L463.37,51.04 L463.45,51.72 L463.54,51.00 L463.63,52.01 L463.71,51.13 L463.80,49.28 L463.88,52.85 L463.97,52.49 L464.06,49.93 L464.14,53.31 L464.23,51.55 L464.32,51.10 L464.40,53.53 L464.49,47.55 L464.57,48.77 L464.66,51.92 L464.75,50.64 L464.83,49.69 L464.92,53.03 L465.01,51.66 L465.09,49.28 L465.18,50.12 L465.26,52.17 L465.35,53.45 L465.44,48.33 L465.52,51.39 L465.61,50.55 L465.69,48.71 L465.78,50.86 L465.87,48.92 L465.95,50.37 L466.04,53.30 L466.13,51.81 L466.21,52.19 L466.30,51.95 L466.38,51.63 L466.47,52.47 L466.56,49.59 L466.64,50.69 L466.73,52.34 L466.82,50.21 L466.90,50.61 L466.99,52.85 L467.07,53.30 L467.16,50.41 L467.25,50.14 L467.33,52.04 L467.42,51.63 L467.51,50.36 L467.59,52.09 L467.68,52.04 L467.76,51.41 L467.85,54.78 L467.94,53.15 L468.02,52.43 L468.11,52.72 L468.19,54.81 L468.28,52.84 L468.37,50.39 L468.45,51.80 L468.54,51.48 L468.63,50.62 L468.71,51.75 L468.80,51.75 L468.88,51.34 L468.97,50.77 L469.06,52.55 L469.14,49.29 L469.23,52.56 L469.32,51.47 L469.40,51.84 L469.49,48.27 L469.57,53.75 L469.66,49.16 L469.75,50.34 L469.83,52.38 L469.92,50.71 L470.00,50.98 L470.09,48.53 L470.18,50.96 L470.26,51.84 L470.35,52.48 L470.44,51.19 L470.52,51.88 L470.61,52.18 L470.69,50.69 L470.78,50.60 L470.87,54.26 L470.95,50.48 L471.04,53.30 L471.13,51.74 L471.21,53.64 L471.30,50.81 L471.38,52.37 L471.47,52.13 L471.56,51.39 L471.64,52.12 L471.73,50.68 L471.82,51.61 L471.90,51.19 L471.99,52.76 L472.07,51.62 L472.16,49.88 L472.25,51.26 L472.33,51.64 L472.42,50.57 L472.50,53.58 L472.59,52.34 L472.68,52.94 L472.76,50.79 L472.85,51.29 L472.94,53.19 L473.02,49.92 L473.11,52.34 L473.19,51.98 L473.28,51.20 L473.37,52.00 L473.45,50.44 L473.54,52.20 L473.63,50.27 L473.71,50.20 L473.80,53.80 L473.88,50.99 L473.97,49.10 L474.06,53.26 L474.14,50.92 L474.23,48.42 L474.31,51.90 L474.40,53.23 L474.49,52.46 L474.57,54.31 L474.66,51.84 L474.75,52.82 L474.83,50.67 L474.92,52.25 L475.00,54.10 L475.09,52.73 L475.18,52.28 L475.26,49.42 L475.35,51.57 L475.44,50.36 L475.52,53.14 L475.61,51.11 L475.69,52.60 L475.78,50.78 L475.87,54.66 L475.95,50.57 L476.04,52.33 L476.13,55.57 L476.21,52.45 L476.30,51.00 L476.38,53.01 L476.47,53.52 L476.56,53.37 L476.64,49.57 L476.73,52.51 L476.81,49.38 L476.90,54.78 L476.99,52.34 L477.07,51.64 L477.16,53.17 L477.25,52.93 L477.33,50.69 L477.42,54.47 L477.50,51.97 L477.59,49.95 L477.68,54.19 L477.76,54.38 L477.85,54.02 L477.94,53.08 L478.02,51.16 L478.11,53.62 L478.19,54.87 L478.28,53.47 L478.37,54.54 L478.45,51.36 L478.54,53.77 L478.62,53.67 L478.71,50.42 L478.80,50.25 L478.88,51.48 L478.97,52.56 L479.06,53.07 L479.14,52.17 L479.23,52.39 L479.31,52.33 L479.40,52.60 L479.49,53.28 L479.57,53.16 L479.66,52.43 L479.75,52.86 L479.83,51.91 L479.92,53.59 L480.00,51.85 L480.09,54.73 L480.18,52.50 L480.26,52.91 L480.35,51.53 L480.44,52.09 L480.52,52.78 L480.61,52.59 L480.69,51.74 L480.78,51.02 L480.87,52.63 L480.95,52.79 L481.04,53.33 L481.12,54.27 L481.21,52.18 L481.30,49.93 L481.38,52.42 L481.47,50.14 L481.56,50.90 L481.64,54.01 L481.73,53.40 L481.81,51.78 L481.90,51.80 L481.99,52.53 L482.07,50.31 L482.16,53.31 L482.25,52.20 L482.33,55.14 L482.42,51.26 L482.50,54.03 L482.59,51.78 L482.68,54.07 L482.76,51.39 L482.85,53.69 L482.93,52.12 L483.02,51.61 L483.11,52.52 L483.19,53.37 L483.28,53.28 L483.37,54.86 L483.45,53.85 L483.54,49.25 L483.62,52.22 L483.71,50.10 L483.80,52.26 L483.88,53.61 L483.97,50.99 L484.06,51.21 L484.14,52.99 L484.23,52.41 L484.31,54.92 L484.40,53.24 L484.49,53.53 L484.57,55.16 L484.66,52.15 L484.75,52.83 L484.83,51.51 L484.92,53.19 L485.00,54.23 L485.09,54.68 L485.18,52.81 L485.26,51.91 L485.35,51.85 L485.43,51.01 L485.52,53.04 L485.61,54.70 L485.69,49.72 L485.78,49.99 L485.87,54.78 L485.95,50.76 L486.04,53.36 L486.12,51.24 L486.21,53.97 L486.30,53.98 L486.38,53.17 L486.47,54.05 L486.56,53.02 L486.64,53.71 L486.73,55.40 L486.81,54.44 L486.90,52.10 L486.99,51.91 L487.07,52.67 L487.16,52.69 L487.24,53.09 L487.33,52.20 L487.42,53.88 L487.50,53.07 L487.59,53.51 L487.68,53.04 L487.76,53.85 L487.85,51.44 L487.93,55.15 L488.02,53.51 L488.11,53.66 L488.19,53.88 L488.28,54.51 L488.37,54.06 L488.45,53.40 L488.54,52.85 L488.62,50.90 L488.71,53.39 L488.80,52.69 L488.88,52.70 L488.97,56.32 L489.06,50.65 L489.14,53.21 L489.23,54.75 L489.31,54.42 L489.40,54.80 L489.49,51.47 L489.57,51.88 L489.66,53.99 L489.74,52.78 L489.83,55.45 L489.92,53.49 L490.00,53.45 L490.09,53.78 L490.18,52.84 L490.26,53.37 L490.35,52.32 L490.43,53.17 L490.52,52.59 L490.61,53.57 L490.69,51.36 L490.78,51.26 L490.87,53.86 L490.95,53.56 L491.04,51.98 L491.12,52.97 L491.21,51.88 L491.30,55.99 L491.38,51.21 L491.47,55.56 L491.55,52.21 L491.64,53.86 L491.73,52.96 L491.81,52.81 L491.90,54.56 L491.99,54.41 L492.07,52.95 L492.16,52.13 L492.24,56.09 L492.33,55.21 L492.42,53.54 L492.50,52.97 L492.59,53.76 L492.68,53.48 L492.76,54.96 L492.85,52.11 L492.93,53.42 L493.02,52.36 L493.11,55.13 L493.19,55.79 L493.28,53.29 L493.37,54.13 L493.45,55.28 L493.54,53.03 L493.62,52.20 L493.71,54.81 L493.80,54.11 L493.88,53.18 L493.97,55.39 L494.05,53.77 L494.14,51.12 L494.23,53.93 L494.31,53.40 L494.40,55.97 L494.49,53.47 L494.57,53.22 L494.66,54.08 L494.74,53.83 L494.83,51.66 L494.92,53.68 L495.00,53.09 L495.09,55.38 L495.18,56.70 L495.26,52.07 L495.35,52.27 L495.43,52.44 L495.52,52.69 L495.61,52.65 L495.69,53.64 L495.78,55.01 L495.86,51.87 L495.95,51.56 L496.04,51.17 L496.12,55.05 L496.21,55.35 L496.30,51.59 L496.38,51.47 L496.47,53.79 L496.55,55.06 L496.64,54.96 L496.73,53.89 L496.81,54.54 L496.90,54.08 L496.99,52.92 L497.07,56.16 L497.16,53.66 L497.24,52.21 L497.33,53.06 L497.42,51.66 L497.50,53.71 L497.59,55.13 L497.68,52.04 L497.76,55.18 L497.85,56.45 L497.93,54.21 L498.02,52.20 L498.11,52.61 L498.19,53.29 L498.28,52.06 L498.36,52.10 L498.45,53.41 L498.54,53.52 L498.62,54.55 L498.71,52.19 L498.80,56.22 L498.88,55.16 L498.97,54.94 L499.05,52.93 L499.14,56.07 L499.23,53.35 L499.31,56.18 L499.40,55.21 L499.49,52.64 L499.57,53.22 L499.66,56.27 L499.74,55.14 L499.83,53.63 L499.92,54.11 L500.00,54.10 L500.09,52.84 L500.17,53.59 L500.26,53.00 L500.35,53.31 L500.43,54.48 L500.52,52.63 L500.61,54.83 L500.69,54.03 L500.78,54.89 L500.86,55.06 L500.95,55.53 L501.04,54.73 L501.12,54.84 L501.21,53.69 L501.30,54.67 L501.38,52.75 L501.47,53.61 L501.55,54.91 L501.64,53.87 L501.73,54.52 L501.81,52.57 L501.90,55.73 L501.99,53.20 L502.07,54.47 L502.16,53.92 L502.24,55.17 L502.33,53.46 L502.42,52.66 L502.50,51.50 L502.59,53.57 L502.67,52.42 L502.76,54.67 L502.85,55.85 L502.93,51.09 L503.02,52.31 L503.11,54.39 L503.19,55.60 L503.28,54.39 L503.36,54.42 L503.45,54.66 L503.54,54.75 L503.62,56.14 L503.71,54.80 L503.80,52.40 L503.88,53.40 L503.97,54.29 L504.05,52.96 L504.14,53.68 L504.23,53.34 L504.31,53.12 L504.40,54.93 L504.48,53.53 L504.57,52.62 L504.66,53.11 L504.74,54.09 L504.83,56.79 L504.92,54.39 L505.00,55.98 L505.09,54.70 L505.17,51.27 L505.26,54.55 L505.35,52.96 L505.43,52.31 L505.52,52.67 L505.61,56.40 L505.69,52.03 L505.78,53.27 L505.86,55.59 L505.95,54.95 L506.04,51.87 L506.12,53.95 L506.21,53.42 L506.30,53.84 L506.38,55.07 L506.47,53.35 L506.55,53.69 L506.64,56.00 L506.73,51.72 L506.81,53.63 L506.90,54.72 L506.98,52.50 L507.07,53.30 L507.16,52.42 L507.24,54.33 L507.33,53.32 L507.42,55.15 L507.50,55.46 L507.59,54.20 L507.67,53.65 L507.76,54.48 L507.85,54.22 L507.93,52.57 L508.02,55.54 L508.11,54.45 L508.19,55.18 L508.28,52.40 L508.36,55.30 L508.45,56.89 L508.54,54.97 L508.62,52.30 L508.71,54.22 L508.79,54.10 L508.88,54.46 L508.97,53.88 L509.05,54.83 L509.14,53.59 L509.23,54.49 L509.31,53.30 L509.40,54.33 L509.48,55.49 L509.57,53.57 L509.66,55.07 L509.74,53.06 L509.83,53.73 L509.92,53.91 L510.00,55.83 L510.09,53.23 L510.17,55.80 L510.26,52.33 L510.35,54.02 L510.43,55.41 L510.52,55.13 L510.61,52.93 L510.69,52.66 L510.78,55.37 L510.86,52.62 L510.95,55.00 L511.04,53.58 L511.12,54.24 L511.21,57.24 L511.29,56.26 L511.38,55.34 L511.47,52.49 L511.55,54.68 L511.64,54.34 L511.73,54.14 L511.81,56.00 L511.90,52.06 L511.98,54.69 L512.07,54.45 L512.16,53.32 L512.24,56.51 L512.33,52.66 L512.42,54.33 L512.50,54.40 L512.59,51.47 L512.67,52.46 L512.76,53.06 L512.85,55.32 L512.93,55.53 L513.02,55.08 L513.10,54.63 L513.19,51.49 L513.28,54.60 L513.36,53.66 L513.45,55.83 L513.54,56.06 L513.62,57.21 L513.71,55.25 L513.79,55.39 L513.88,53.01 L513.97,54.45 L514.05,52.76 L514.14,55.50 L514.23,52.82 L514.31,54.08 L514.40,53.30 L514.48,53.76 L514.57,54.95 L514.66,53.64 L514.74,54.65 L514.83,53.08 L514.92,56.17 L515.00,53.55 L515.09,55.68 L515.17,57.13 L515.26,51.25 L515.35,53.11 L515.43,54.12 L515.52,55.90 L515.60,53.77 L515.69,54.89 L515.78,53.46 L515.86,55.13 L515.95,52.85 L516.04,55.48 L516.12,51.09 L516.21,51.98 L516.29,56.76 L516.38,54.64 L516.47,53.27 L516.55,57.26 L516.64,55.78 L516.73,55.88 L516.81,53.89 L516.90,55.24 L516.98,55.09 L517.07,52.31 L517.16,55.21 L517.24,54.21 L517.33,56.10 L517.41,56.13 L517.50,53.63 L517.59,53.68 L517.67,54.71 L517.76,55.31 L517.85,53.94 L517.93,54.32 L518.02,55.26 L518.10,55.02 L518.19,55.97 L518.28,54.79 L518.36,53.34 L518.45,52.22 L518.54,55.53 L518.62,54.06 L518.71,54.05 L518.79,54.12 L518.88,52.48 L518.97,54.00 L519.05,51.21 L519.14,53.99 L519.23,53.36 L519.31,56.88 L519.40,55.09 L519.48,54.24 L519.57,54.73 L519.66,55.46 L519.74,53.55 L519.83,54.23 L519.91,54.08 L520.00,57.65 L520.09,54.63 L520.17,52.01 L520.26,55.57 L520.35,57.66 L520.43,53.32 L520.52,57.67 L520.60,54.48 L520.69,55.85 L520.78,53.84 L520.86,54.22 L520.95,52.98 L521.04,53.21 L521.12,51.81 L521.21,56.05 L521.29,53.10 L521.38,55.06 L521.47,55.01 L521.55,53.75 L521.64,54.65 L521.72,54.47 L521.81,53.96 L521.90,54.66 L521.98,54.66 L522.07,53.29 L522.16,52.94 L522.24,53.52 L522.33,54.77 L522.41,56.39 L522.50,56.51 L522.59,55.02 L522.67,55.84 L522.76,54.78 L522.85,56.05 L522.93,54.79 L523.02,55.14 L523.10,54.27 L523.19,54.63 L523.28,57.08 L523.36,53.10 L523.45,54.65 L523.54,53.89 L523.62,55.89 L523.71,56.99 L523.79,54.26 L523.88,51.41 L523.97,55.45 L524.05,55.46 L524.14,52.50 L524.22,54.36 L524.31,54.59 L524.40,51.70 L524.48,55.55 L524.57,55.25 L524.66,54.99 L524.74,53.32 L524.83,53.77 L524.91,53.88 L525.00,55.31 L525.09,53.43 L525.17,56.58 L525.26,55.19 L525.35,51.90 L525.43,56.88 L525.52,54.91 L525.60,54.00 L525.69,54.85 L525.78,52.37 L525.86,54.97 L525.95,51.56 L526.03,53.41 L526.12,56.47 L526.21,56.36 L526.29,54.29 L526.38,53.49 L526.47,55.94 L526.55,54.68 L526.64,55.02 L526.72,55.55 L526.81,53.36 L526.90,55.77 L526.98,52.03 L527.07,56.64 L527.16,52.74 L527.24,53.95 L527.33,53.90 L527.41,55.70 L527.50,55.73 L527.59,55.23 L527.67,55.47 L527.76,55.38 L527.85,54.69 L527.93,52.32 L528.02,51.82 L528.10,51.82 L528.19,54.73 L528.28,54.50 L528.36,54.61 L528.45,55.09 L528.53,54.50 L528.62,53.52 L528.71,52.87 L528.79,52.36 L528.88,56.37 L528.97,55.98 L529.05,53.07 L529.14,54.46 L529.22,55.39 L529.31,56.87 L529.40,54.05 L529.48,55.05 L529.57,56.32 L529.66,52.60 L529.74,53.89 L529.83,54.79 L529.91,53.91 L530.00,57.56" fill="none" stroke="#12ae38" stroke-width="1.2" stroke-linejoin="round" clip-path="url(#cb)"/>
<path d="M314.50,74.91 L314.59,73.55 L314.67,71.15 L314.76,75.09 L314.84,74.65 L314.93,72.27 L315.02,72.50 L315.10,70.38 L315.19,73.38 L315.28,75.44 L315.36,75.79 L315.45,74.95 L315.53,75.53 L315.62,72.59 L315.71,72.90 L315.79,76.52 L315.88,74.98 L315.97,72.39 L316.05,75.20 L316.14,75.96 L316.22,75.76 L316.31,74.55 L316.40,73.28 L316.48,75.28 L316.57,78.09 L316.66,74.87 L316.74,73.20 L316.83,75.39 L316.91,72.13 L317.00,75.28 L317.09,74.22 L317.17,76.94 L317.26,75.19 L317.34,77.25 L317.43,79.95 L317.52,74.69 L317.60,73.45 L317.69,76.24 L317.78,75.15 L317.86,75.69 L317.95,74.18 L318.03,76.68 L318.12,75.72 L318.21,71.07 L318.29,75.19 L318.38,76.45 L318.47,78.29 L318.55,74.65 L318.64,74.24 L318.72,78.41 L318.81,74.76 L318.90,76.33 L318.98,77.16 L319.07,77.78 L319.15,76.30 L319.24,74.01 L319.33,78.53 L319.41,75.55 L319.50,75.43 L319.59,80.80 L319.67,78.49 L319.76,74.48 L319.84,75.75 L319.93,76.31 L320.02,75.31 L320.10,72.92 L320.19,78.69 L320.28,78.69 L320.36,77.63 L320.45,76.34 L320.53,77.69 L320.62,78.64 L320.71,75.18 L320.79,76.73 L320.88,76.31 L320.97,79.00 L321.05,78.15 L321.14,74.94 L321.22,76.43 L321.31,81.47 L321.40,75.81 L321.48,78.21 L321.57,76.64 L321.65,80.62 L321.74,77.94 L321.83,77.22 L321.91,75.74 L322.00,77.74 L322.09,80.04 L322.17,79.78 L322.26,75.67 L322.34,81.75 L322.43,78.04 L322.52,76.42 L322.60,78.94 L322.69,77.44 L322.78,77.58 L322.86,77.53 L322.95,78.72 L323.03,77.93 L323.12,75.47 L323.21,80.17 L323.29,78.06 L323.38,81.70 L323.46,80.38 L323.55,80.61 L323.64,79.76 L323.72,82.14 L323.81,78.82 L323.90,77.50 L323.98,80.34 L324.07,74.55 L324.15,78.98 L324.24,80.25 L324.33,79.00 L324.41,82.53 L324.50,81.44 L324.59,80.28 L324.67,79.27 L324.76,82.43 L324.84,78.81 L324.93,79.38 L325.02,81.82 L325.10,81.53 L325.19,84.54 L325.28,79.90 L325.36,76.47 L325.45,81.76 L325.53,83.02 L325.62,80.10 L325.71,83.70 L325.79,84.18 L325.88,79.14 L325.96,79.55 L326.05,77.98 L326.14,81.72 L326.22,82.10 L326.31,81.89 L326.40,78.12 L326.48,79.12 L326.57,77.76 L326.65,77.41 L326.74,77.99 L326.83,77.53 L326.91,80.44 L327.00,81.72 L327.09,82.16 L327.17,80.85 L327.26,79.53 L327.34,80.92 L327.43,82.14 L327.52,80.38 L327.60,81.12 L327.69,80.41 L327.77,79.98 L327.86,81.16 L327.95,78.82 L328.03,83.30 L328.12,77.95 L328.21,82.14 L328.29,78.41 L328.38,84.35 L328.46,83.05 L328.55,79.62 L328.64,80.39 L328.72,79.02 L328.81,81.24 L328.90,82.23 L328.98,86.49 L329.07,78.63 L329.15,84.01 L329.24,80.29 L329.33,82.08 L329.41,83.34 L329.50,82.68 L329.59,82.46 L329.67,81.21 L329.76,81.62 L329.84,81.98 L329.93,84.15 L330.02,78.71 L330.10,80.73 L330.19,79.21 L330.27,79.82 L330.36,80.18 L330.45,84.09 L330.53,86.26 L330.62,84.67 L330.71,79.49 L330.79,82.10 L330.88,79.65 L330.96,82.90 L331.05,84.62 L331.14,83.25 L331.22,83.85 L331.31,81.79 L331.40,78.10 L331.48,78.10 L331.57,81.97 L331.65,83.37 L331.74,84.81 L331.83,81.53 L331.91,82.42 L332.00,82.82 L332.08,84.49 L332.17,82.20 L332.26,80.14 L332.34,84.60 L332.43,83.26 L332.52,83.23 L332.60,79.88 L332.69,82.48 L332.77,79.02 L332.86,78.46 L332.95,82.09 L333.03,81.71 L333.12,83.78 L333.21,85.59 L333.29,82.60 L333.38,86.34 L333.46,81.53 L333.55,84.30 L333.64,80.20 L333.72,83.06 L333.81,82.18 L333.90,82.43 L333.98,84.07 L334.07,79.07 L334.15,83.16 L334.24,81.30 L334.33,83.22 L334.41,83.80 L334.50,82.27 L334.58,82.30 L334.67,80.74 L334.76,84.22 L334.84,81.76 L334.93,84.06 L335.02,80.29 L335.10,85.98 L335.19,81.16 L335.27,85.60 L335.36,82.37 L335.45,84.41 L335.53,83.04 L335.62,84.73 L335.71,83.39 L335.79,85.97 L335.88,84.74 L335.96,84.74 L336.05,86.73 L336.14,81.92 L336.22,85.95 L336.31,83.44 L336.39,80.28 L336.48,84.23 L336.57,82.83 L336.65,86.64 L336.74,82.22 L336.83,83.29 L336.91,83.65 L337.00,79.31 L337.08,84.17 L337.17,81.12 L337.26,85.96 L337.34,86.46 L337.43,83.06 L337.52,79.86 L337.60,83.41 L337.69,83.39 L337.77,84.47 L337.86,82.40 L337.95,80.58 L338.03,82.68 L338.12,81.08 L338.21,86.51 L338.29,81.49 L338.38,81.58 L338.46,82.79 L338.55,80.36 L338.64,81.95 L338.72,82.56 L338.81,81.83 L338.89,82.29 L338.98,85.28 L339.07,83.64 L339.15,80.05 L339.24,81.87 L339.33,84.22 L339.41,81.39 L339.50,82.85 L339.58,82.61 L339.67,83.71 L339.76,82.27 L339.84,82.33 L339.93,80.87 L340.02,83.31 L340.10,80.70 L340.19,86.04 L340.27,82.49 L340.36,82.07 L340.45,84.08 L340.53,82.31 L340.62,82.64 L340.70,82.34 L340.79,80.98 L340.88,80.56 L340.96,80.99 L341.05,84.66 L341.14,81.11 L341.22,81.54 L341.31,81.43 L341.39,83.72 L341.48,86.28 L341.57,80.43 L341.65,83.37 L341.74,82.49 L341.83,81.63 L341.91,83.23 L342.00,79.65 L342.08,83.85 L342.17,82.61 L342.26,80.15 L342.34,85.33 L342.43,83.82 L342.52,84.43 L342.60,79.17 L342.69,81.52 L342.77,81.01 L342.86,83.29 L342.95,84.73 L343.03,78.19 L343.12,82.03 L343.20,81.72 L343.29,83.95 L343.38,81.85 L343.46,79.38 L343.55,81.51 L343.64,79.82 L343.72,80.32 L343.81,81.94 L343.89,80.88 L343.98,82.38 L344.07,78.77 L344.15,86.42 L344.24,84.29 L344.33,83.18 L344.41,79.16 L344.50,77.42 L344.58,79.98 L344.67,81.22 L344.76,86.12 L344.84,84.26 L344.93,80.59 L345.01,84.03 L345.10,84.04 L345.19,81.62 L345.27,83.99 L345.36,82.21 L345.45,80.23 L345.53,79.18 L345.62,81.26 L345.70,83.47 L345.79,78.77 L345.88,78.25 L345.96,82.53 L346.05,76.47 L346.14,85.03 L346.22,80.51 L346.31,82.83 L346.39,85.05 L346.48,78.45 L346.57,79.23 L346.65,85.76 L346.74,80.71 L346.83,80.99 L346.91,81.67 L347.00,83.29 L347.08,83.79 L347.17,81.34 L347.26,80.43 L347.34,80.99 L347.43,81.64 L347.51,83.60 L347.60,81.24 L347.69,84.55 L347.77,79.21 L347.86,81.93 L347.95,84.33 L348.03,83.37 L348.12,81.45 L348.20,79.01 L348.29,79.31 L348.38,80.38 L348.46,81.28 L348.55,80.14 L348.64,77.72 L348.72,79.11 L348.81,81.57 L348.89,82.16 L348.98,77.71 L349.07,79.73 L349.15,77.10 L349.24,79.27 L349.32,85.28 L349.41,80.45 L349.50,79.61 L349.58,79.10 L349.67,77.84 L349.76,76.52 L349.84,80.09 L349.93,79.59 L350.01,83.03 L350.10,76.84 L350.19,80.91 L350.27,82.67 L350.36,76.12 L350.45,81.26 L350.53,76.74 L350.62,80.93 L350.70,82.78 L350.79,79.82 L350.88,80.37 L350.96,78.40 L351.05,80.31 L351.14,81.95 L351.22,79.32 L351.31,79.37 L351.39,80.39 L351.48,81.21 L351.57,76.33 L351.65,79.64 L351.74,78.14 L351.82,80.44 L351.91,81.48 L352.00,80.02 L352.08,81.92 L352.17,77.39 L352.26,78.50 L352.34,77.33 L352.43,79.37 L352.51,79.41 L352.60,78.80 L352.69,76.77 L352.77,78.97 L352.86,78.23 L352.95,80.25 L353.03,78.50 L353.12,81.29 L353.20,79.43 L353.29,75.28 L353.38,78.57 L353.46,76.06 L353.55,80.76 L353.63,81.64 L353.72,78.73 L353.81,79.63 L353.89,75.88 L353.98,74.27 L354.07,77.57 L354.15,78.13 L354.24,75.63 L354.32,78.75 L354.41,79.16 L354.50,79.78 L354.58,81.53 L354.67,80.04 L354.76,77.70 L354.84,78.60 L354.93,79.54 L355.01,76.27 L355.10,80.90 L355.19,80.04 L355.27,77.79 L355.36,76.95 L355.45,83.05 L355.53,79.79 L355.62,79.96 L355.70,81.61 L355.79,79.98 L355.88,78.43 L355.96,79.37 L356.05,76.17 L356.13,79.33 L356.22,74.88 L356.31,78.70 L356.39,78.93 L356.48,74.75 L356.57,81.54 L356.65,75.49 L356.74,79.77 L356.82,76.65 L356.91,78.27 L357.00,76.34 L357.08,82.46 L357.17,79.59 L357.26,81.09 L357.34,79.05 L357.43,78.85 L357.51,77.75 L357.60,76.96 L357.69,78.58 L357.77,77.67 L357.86,77.02 L357.94,74.58 L358.03,76.64 L358.12,78.39 L358.20,76.24 L358.29,77.81 L358.38,76.81 L358.46,75.03 L358.55,75.25 L358.63,75.53 L358.72,76.37 L358.81,76.39 L358.89,79.05 L358.98,74.70 L359.07,72.79 L359.15,78.09 L359.24,75.82 L359.32,76.44 L359.41,81.44 L359.50,79.46 L359.58,77.71 L359.67,78.37 L359.76,76.72 L359.84,78.32 L359.93,75.21 L360.01,74.98 L360.10,75.42 L360.19,79.38 L360.27,79.30 L360.36,75.03 L360.44,78.45 L360.53,75.83 L360.62,78.20 L360.70,75.44 L360.79,77.89 L360.88,75.77 L360.96,75.39 L361.05,75.87 L361.13,76.18 L361.22,74.70 L361.31,73.13 L361.39,79.07 L361.48,74.95 L361.57,72.14 L361.65,71.22 L361.74,70.70 L361.82,74.37 L361.91,78.18 L362.00,72.31 L362.08,74.83 L362.17,71.83 L362.25,77.53 L362.34,76.05 L362.43,75.93 L362.51,77.90 L362.60,78.44 L362.69,77.20 L362.77,74.02 L362.86,72.53 L362.94,73.04 L363.03,71.62 L363.12,78.52 L363.20,74.59 L363.29,75.17 L363.38,75.27 L363.46,78.78 L363.55,73.71 L363.63,77.07 L363.72,75.32 L363.81,74.39 L363.89,70.91 L363.98,76.41 L364.07,73.13 L364.15,73.64 L364.24,74.94 L364.32,74.65 L364.41,76.61 L364.50,73.08 L364.58,74.67 L364.67,74.85 L364.75,74.32 L364.84,75.55 L364.93,73.70 L365.01,76.50 L365.10,72.73 L365.19,71.27 L365.27,73.96 L365.36,76.30 L365.44,72.96 L365.53,72.70 L365.62,73.21 L365.70,74.17 L365.79,73.46 L365.88,74.37 L365.96,70.39 L366.05,76.60 L366.13,74.78 L366.22,71.94 L366.31,76.24 L366.39,74.41 L366.48,76.36 L366.56,71.17 L366.65,76.64 L366.74,73.47 L366.82,69.35 L366.91,74.77 L367.00,72.68 L367.08,71.26 L367.17,72.77 L367.25,69.38 L367.34,74.24 L367.43,72.65 L367.51,72.51 L367.60,75.74 L367.69,73.02 L367.77,71.63 L367.86,71.03 L367.94,72.72 L368.03,74.86 L368.12,71.63 L368.20,70.71 L368.29,74.47 L368.38,72.76 L368.46,72.56 L368.55,76.60 L368.63,70.14 L368.72,72.82 L368.81,68.93 L368.89,71.73 L368.98,73.38 L369.06,74.36 L369.15,69.66 L369.24,73.68 L369.32,73.51 L369.41,71.69 L369.50,76.58 L369.58,71.81 L369.67,70.04 L369.75,72.51 L369.84,68.02 L369.93,74.57 L370.01,73.41 L370.10,70.66 L370.19,72.56 L370.27,72.34 L370.36,74.98 L370.44,69.99 L370.53,68.63 L370.62,67.13 L370.70,70.42 L370.79,67.90 L370.87,70.53 L370.96,71.60 L371.05,69.89 L371.13,68.86 L371.22,72.92 L371.31,70.17 L371.39,70.94 L371.48,72.27 L371.56,67.85 L371.65,68.53 L371.74,74.93 L371.82,69.88 L371.91,68.11 L372.00,69.58 L372.08,68.93 L372.17,67.64 L372.25,69.19 L372.34,69.91 L372.43,69.89 L372.51,70.92 L372.60,66.52 L372.69,66.95 L372.77,71.32 L372.86,68.91 L372.94,72.08 L373.03,70.29 L373.12,66.96 L373.20,70.68 L373.29,67.67 L373.37,70.09 L373.46,71.92 L373.55,73.59 L373.63,69.36 L373.72,70.81 L373.81,70.01 L373.89,70.93 L373.98,64.55 L374.06,68.60 L374.15,69.88 L374.24,70.19 L374.32,67.81 L374.41,70.81 L374.50,71.31 L374.58,69.30 L374.67,68.70 L374.75,68.42 L374.84,69.34 L374.93,70.74 L375.01,70.75 L375.10,66.38 L375.18,64.90 L375.27,64.56 L375.36,67.36 L375.44,65.30 L375.53,64.85 L375.62,64.60 L375.70,63.80 L375.79,63.52 L375.87,62.44 L375.96,63.92 L376.05,66.01 L376.13,67.20 L376.22,66.42 L376.31,67.01 L376.39,71.09 L376.48,68.26 L376.56,70.25 L376.65,69.90 L376.74,69.54 L376.82,68.96 L376.91,71.21 L377.00,70.91 L377.08,74.33 L377.17,70.77 L377.25,72.41 L377.34,74.68 L377.43,73.46 L377.51,74.86 L377.60,75.75 L377.68,71.24 L377.77,73.85 L377.86,73.05 L377.94,77.68 L378.03,75.13 L378.12,76.54 L378.20,79.06 L378.29,75.40 L378.37,76.23 L378.46,76.88 L378.55,75.62 L378.63,78.52 L378.72,77.71 L378.81,78.07 L378.89,76.28 L378.98,75.56 L379.06,75.56 L379.15,75.55 L379.24,73.16 L379.32,76.96 L379.41,77.83 L379.49,76.29 L379.58,75.39 L379.67,76.41 L379.75,76.78 L379.84,76.99 L379.93,79.78 L380.01,74.80 L380.10,77.11 L380.18,77.74 L380.27,76.60 L380.36,76.03 L380.44,74.56 L380.53,75.39 L380.62,77.85 L380.70,79.27 L380.79,75.32 L380.87,77.46 L380.96,77.56 L381.05,78.50 L381.13,77.08 L381.22,77.47 L381.31,78.33 L381.39,74.49 L381.48,76.78 L381.56,73.40 L381.65,73.03 L381.74,75.20 L381.82,73.88 L381.91,77.72 L381.99,78.64 L382.08,76.23 L382.17,76.56 L382.25,76.40 L382.34,76.36 L382.43,77.12 L382.51,77.54 L382.60,76.04 L382.68,75.45 L382.77,75.97 L382.86,78.44 L382.94,76.19 L383.03,79.68 L383.12,76.55 L383.20,79.56 L383.29,74.82 L383.37,75.76 L383.46,77.95 L383.55,77.94 L383.63,76.70 L383.72,80.74 L383.80,77.05 L383.89,77.41 L383.98,75.78 L384.06,79.87 L384.15,78.35 L384.24,77.49 L384.32,73.66 L384.41,77.32 L384.49,75.75 L384.58,77.30 L384.67,78.23 L384.75,75.12 L384.84,76.86 L384.93,78.05 L385.01,76.69 L385.10,75.74 L385.18,74.36 L385.27,75.04 L385.36,73.89 L385.44,78.02 L385.53,76.35 L385.62,73.88 L385.70,76.08 L385.79,73.68 L385.87,71.33 L385.96,78.28 L386.05,78.22 L386.13,73.35 L386.22,74.74 L386.30,76.44 L386.39,75.35 L386.48,74.49 L386.56,75.11 L386.65,75.62 L386.74,75.04 L386.82,76.44 L386.91,75.63 L386.99,74.85 L387.08,76.48 L387.17,73.57 L387.25,79.46 L387.34,73.80 L387.43,77.03 L387.51,77.99 L387.60,78.31 L387.68,78.22 L387.77,80.24 L387.86,76.06 L387.94,78.18 L388.03,78.76 L388.11,77.77 L388.20,77.78 L388.29,81.41 L388.37,77.94 L388.46,78.55 L388.55,79.11 L388.63,79.41 L388.72,80.28 L388.80,79.80 L388.89,81.04 L388.98,80.80 L389.06,81.61 L389.15,83.42 L389.24,79.52 L389.32,84.10 L389.41,80.30 L389.49,82.36 L389.58,81.47 L389.67,80.67 L389.75,77.66 L389.84,84.20 L389.93,79.92 L390.01,79.89 L390.10,83.29 L390.18,81.52 L390.27,84.87 L390.36,84.50 L390.44,82.76 L390.53,81.96 L390.61,82.92 L390.70,79.17 L390.79,81.90 L390.87,81.89 L390.96,80.80 L391.05,82.14 L391.13,79.07 L391.22,83.38 L391.30,84.10 L391.39,79.46 L391.48,82.09 L391.56,84.66 L391.65,82.65 L391.74,80.06 L391.82,80.16 L391.91,83.52 L391.99,85.32 L392.08,80.08 L392.17,82.14 L392.25,80.70 L392.34,81.61 L392.42,82.72 L392.51,82.11 L392.60,80.98 L392.68,86.04 L392.77,81.99 L392.86,81.98 L392.94,84.34 L393.03,82.39 L393.11,82.03 L393.20,84.13 L393.29,80.60 L393.37,83.83 L393.46,84.37 L393.55,83.74 L393.63,82.26 L393.72,82.59 L393.80,79.55 L393.89,82.43 L393.98,83.22 L394.06,84.28 L394.15,83.01 L394.24,82.09 L394.32,81.31 L394.41,82.76 L394.49,83.12 L394.58,85.07 L394.67,82.95 L394.75,82.07 L394.84,82.80 L394.92,82.16 L395.01,82.63 L395.10,79.14 L395.18,80.26 L395.27,81.01 L395.36,84.01 L395.44,83.06 L395.53,83.50 L395.61,85.34 L395.70,81.43 L395.79,85.36 L395.87,84.04 L395.96,82.11 L396.05,86.07 L396.13,80.90 L396.22,81.46 L396.30,83.13 L396.39,84.25 L396.48,83.22 L396.56,79.79 L396.65,83.09 L396.73,83.50 L396.82,88.21 L396.91,86.16 L396.99,83.96 L397.08,81.83 L397.17,84.41 L397.25,81.76 L397.34,84.22 L397.42,84.54 L397.51,83.21 L397.60,84.39 L397.68,83.39 L397.77,83.00 L397.86,86.77 L397.94,85.10 L398.03,83.55 L398.11,82.77 L398.20,84.47 L398.29,85.20 L398.37,85.73 L398.46,86.86 L398.55,85.10 L398.63,82.32 L398.72,87.94 L398.80,86.43 L398.89,85.87 L398.98,86.80 L399.06,81.82 L399.15,83.83 L399.23,83.61 L399.32,86.65 L399.41,82.49 L399.49,84.04 L399.58,87.32 L399.67,85.81 L399.75,84.02 L399.84,88.05 L399.92,82.40 L400.01,85.59 L400.10,84.41 L400.18,85.75 L400.27,84.39 L400.36,83.43 L400.44,85.31 L400.53,82.64 L400.61,85.93 L400.70,84.46 L400.79,85.90 L400.87,82.73 L400.96,81.59 L401.04,82.73 L401.13,83.45 L401.22,76.87 L401.30,79.98 L401.39,80.13 L401.48,75.77 L401.56,75.97 L401.65,77.90 L401.73,74.56 L401.82,74.15 L401.91,78.60 L401.99,74.73 L402.08,75.70 L402.17,73.97 L402.25,76.94 L402.34,77.53 L402.42,83.54 L402.51,83.49 L402.60,79.94 L402.68,86.45 L402.77,85.17 L402.86,84.33 L402.94,86.89 L403.03,86.71 L403.11,84.75 L403.20,83.06 L403.29,84.62 L403.37,86.27 L403.46,85.71 L403.54,85.10 L403.63,88.17 L403.72,84.65 L403.80,88.14 L403.89,85.79 L403.98,86.89 L404.06,84.79 L404.15,86.80 L404.23,85.50 L404.32,83.87 L404.41,86.96 L404.49,86.93 L404.58,88.50 L404.67,87.56 L404.75,85.29 L404.84,86.01 L404.92,82.75 L405.01,85.16 L405.10,89.41 L405.18,89.81 L405.27,88.51 L405.35,87.72 L405.44,88.23 L405.53,88.07 L405.61,84.20 L405.70,85.72 L405.79,89.34 L405.87,89.35 L405.96,87.72 L406.04,86.77 L406.13,86.66 L406.22,86.39 L406.30,85.74 L406.39,84.00 L406.48,87.66 L406.56,86.62 L406.65,87.05 L406.73,90.44 L406.82,88.49 L406.91,86.25 L406.99,88.51 L407.08,84.87 L407.17,89.36 L407.25,88.00 L407.34,87.22 L407.42,88.57 L407.51,90.14 L407.60,86.79 L407.68,85.89 L407.77,91.34 L407.85,87.68 L407.94,90.28 L408.03,86.50 L408.11,88.36 L408.20,86.60 L408.29,88.84 L408.37,87.27 L408.46,86.59 L408.54,90.50 L408.63,88.39 L408.72,84.26 L408.80,87.42 L408.89,86.24 L408.98,85.73 L409.06,86.86 L409.15,87.06 L409.23,87.97 L409.32,86.54 L409.41,84.68 L409.49,87.02 L409.58,89.51 L409.66,85.60 L409.75,89.09 L409.84,88.82 L409.92,87.25 L410.01,88.59 L410.10,86.76 L410.18,87.39 L410.27,86.32 L410.35,88.93 L410.44,90.53 L410.53,86.96 L410.61,90.26 L410.70,84.45 L410.79,86.65 L410.87,86.44 L410.96,91.24 L411.04,87.21 L411.13,89.63 L411.22,84.69 L411.30,88.49 L411.39,89.30 L411.48,88.26 L411.56,83.86 L411.65,88.67 L411.73,89.79 L411.82,90.70 L411.91,89.10 L411.99,85.47 L412.08,88.07 L412.16,90.04 L412.25,87.04 L412.34,89.48 L412.42,87.67 L412.51,88.68 L412.60,89.86 L412.68,87.31 L412.77,93.04 L412.85,88.85 L412.94,89.20 L413.03,87.32 L413.11,88.74 L413.20,88.18 L413.29,86.11 L413.37,86.00 L413.46,89.20 L413.54,88.56 L413.63,84.26 L413.72,84.99 L413.80,88.22 L413.89,88.66 L413.97,89.86 L414.06,86.64 L414.15,89.86 L414.23,88.30 L414.32,87.97 L414.41,88.63 L414.49,90.62 L414.58,89.88 L414.66,90.48 L414.75,87.74 L414.84,88.46 L414.92,86.94 L415.01,88.02 L415.10,88.30 L415.18,88.17 L415.27,90.22 L415.35,89.71 L415.44,90.28 L415.53,89.17 L415.61,90.81 L415.70,89.13 L415.79,90.60 L415.87,89.79 L415.96,90.18 L416.04,88.77 L416.13,86.71 L416.22,86.34 L416.30,92.28 L416.39,89.52 L416.47,89.61 L416.56,88.54 L416.65,88.02 L416.73,93.25 L416.82,86.84 L416.91,88.68 L416.99,88.69 L417.08,86.79 L417.16,86.54 L417.25,87.52 L417.34,88.14 L417.42,87.88 L417.51,90.13 L417.60,86.65 L417.68,89.40 L417.77,91.25 L417.85,90.23 L417.94,86.68 L418.03,84.22 L418.11,90.12 L418.20,89.50 L418.28,87.61 L418.37,90.85 L418.46,87.90 L418.54,88.78 L418.63,86.78 L418.72,89.13 L418.80,87.82 L418.89,87.68 L418.97,90.42 L419.06,88.91 L419.15,85.93 L419.23,89.72 L419.32,89.96 L419.41,87.05 L419.49,87.80 L419.58,88.57 L419.66,88.03 L419.75,88.67 L419.84,89.58 L419.92,87.58 L420.01,92.04 L420.10,87.18 L420.18,87.47 L420.27,91.81 L420.35,92.52 L420.44,88.44 L420.53,88.04 L420.61,86.50 L420.70,90.33 L420.78,88.64 L420.87,86.86 L420.96,89.02 L421.04,90.68 L421.13,89.49 L421.22,92.11 L421.30,90.29 L421.39,89.03 L421.47,88.20 L421.56,89.20 L421.65,90.34 L421.73,89.71 L421.82,90.04 L421.91,88.59 L421.99,89.52 L422.08,90.29 L422.16,87.89 L422.25,85.92 L422.34,91.14 L422.42,89.16 L422.51,87.38 L422.59,88.53 L422.68,87.69 L422.77,85.16 L422.85,87.78 L422.94,85.63 L423.03,88.43 L423.11,87.88 L423.20,90.01 L423.28,87.84 L423.37,88.68 L423.46,87.51 L423.54,87.36 L423.63,85.59 L423.72,89.72 L423.80,88.33 L423.89,87.06 L423.97,88.46 L424.06,87.41 L424.15,86.91 L424.23,88.62 L424.32,90.31 L424.41,87.79 L424.49,85.82 L424.58,87.25 L424.66,91.44 L424.75,86.97 L424.84,90.45 L424.92,88.02 L425.01,89.73 L425.09,88.31 L425.18,85.80 L425.27,87.84 L425.35,92.21 L425.44,88.38 L425.53,89.61 L425.61,88.09 L425.70,88.47 L425.78,89.28 L425.87,89.58 L425.96,92.61 L426.04,88.79 L426.13,88.54 L426.22,87.74 L426.30,86.66 L426.39,86.18 L426.47,90.11 L426.56,85.80 L426.65,91.45 L426.73,90.54 L426.82,88.59 L426.90,87.14 L426.99,89.20 L427.08,89.22 L427.16,91.15 L427.25,87.97 L427.34,88.63 L427.42,89.21 L427.51,88.86 L427.59,88.29 L427.68,86.46 L427.77,86.61 L427.85,88.30 L427.94,89.10 L428.03,91.23 L428.11,93.50 L428.20,92.51 L428.28,90.28 L428.37,92.85 L428.46,89.47 L428.54,88.79 L428.63,93.69 L428.72,87.93 L428.80,89.08 L428.89,89.37 L428.97,92.34 L429.06,88.86 L429.15,91.24 L429.23,89.24 L429.32,87.88 L429.40,90.40 L429.49,90.30 L429.58,88.05 L429.66,88.55 L429.75,88.69 L429.84,91.70 L429.92,90.85 L430.01,90.48 L430.09,90.92 L430.18,89.28 L430.27,90.91 L430.35,89.08 L430.44,87.85 L430.53,88.93 L430.61,90.50 L430.70,90.30 L430.78,91.96 L430.87,87.29 L430.96,89.80 L431.04,90.86 L431.13,88.56 L431.21,90.63 L431.30,89.52 L431.39,88.30 L431.47,92.14 L431.56,87.88 L431.65,91.96 L431.73,89.56 L431.82,88.67 L431.90,88.78 L431.99,89.04 L432.08,88.86 L432.16,90.77 L432.25,87.14 L432.34,92.44 L432.42,91.76 L432.51,92.71 L432.59,88.69 L432.68,86.43 L432.77,89.32 L432.85,90.10 L432.94,90.91 L433.03,89.53 L433.11,90.27 L433.20,90.68 L433.28,87.81 L433.37,93.51 L433.46,88.55 L433.54,90.91 L433.63,92.30 L433.71,89.16 L433.80,90.50 L433.89,93.27 L433.97,90.04 L434.06,92.30 L434.15,91.03 L434.23,90.93 L434.32,91.77 L434.40,90.17 L434.49,90.22 L434.58,92.21 L434.66,91.03 L434.75,91.44 L434.84,88.59 L434.92,90.65 L435.01,92.68 L435.09,92.16 L435.18,91.23 L435.27,89.79 L435.35,89.63 L435.44,91.42 L435.52,93.09 L435.61,90.77 L435.70,92.92 L435.78,90.21 L435.87,92.76 L435.96,89.05 L436.04,91.06 L436.13,88.95 L436.21,91.88 L436.30,91.74 L436.39,89.18 L436.47,89.54 L436.56,90.06 L436.65,88.30 L436.73,89.26 L436.82,89.38 L436.90,92.16 L436.99,93.19 L437.08,90.11 L437.16,90.39 L437.25,91.24 L437.34,90.01 L437.42,90.43 L437.51,92.32 L437.59,91.31 L437.68,90.78 L437.77,89.97 L437.85,93.42 L437.94,89.92 L438.02,91.17 L438.11,89.24 L438.20,89.98 L438.28,91.15 L438.37,90.34 L438.46,91.91 L438.54,91.14 L438.63,88.71 L438.71,87.16 L438.80,92.72 L438.89,90.08 L438.97,93.55 L439.06,91.10 L439.15,89.80 L439.23,92.03 L439.32,90.65 L439.40,91.14 L439.49,89.56 L439.58,92.20 L439.66,92.98 L439.75,90.27 L439.83,94.15 L439.92,90.22 L440.01,91.60 L440.09,88.45 L440.18,87.97 L440.27,94.73 L440.35,93.61 L440.44,93.15 L440.52,88.39 L440.61,91.62 L440.70,91.96 L440.78,91.40 L440.87,91.77 L440.96,89.74 L441.04,91.02 L441.13,89.39 L441.21,90.73 L441.30,91.94 L441.39,90.02 L441.47,90.87 L441.56,90.63 L441.65,91.38 L441.73,92.91 L441.82,91.77 L441.90,92.04 L441.99,88.99 L442.08,90.80 L442.16,92.78 L442.25,89.98 L442.33,90.71 L442.42,89.82 L442.51,93.68 L442.59,90.70 L442.68,90.25 L442.77,92.51 L442.85,93.32 L442.94,92.32 L443.02,93.14 L443.11,91.87 L443.20,91.31 L443.28,90.80 L443.37,90.69 L443.46,90.55 L443.54,92.17 L443.63,91.38 L443.71,91.72 L443.80,92.59 L443.89,91.50 L443.97,89.32 L444.06,90.30 L444.14,89.76 L444.23,88.46 L444.32,91.82 L444.40,89.65 L444.49,89.52 L444.58,89.88 L444.66,93.13 L444.75,91.17 L444.83,93.36 L444.92,91.56 L445.01,90.99 L445.09,92.66 L445.18,92.73 L445.27,91.93 L445.35,90.03 L445.44,91.00 L445.52,89.81 L445.61,91.35 L445.70,91.94 L445.78,94.26 L445.87,94.15 L445.96,92.94 L446.04,93.41 L446.13,92.22 L446.21,96.07 L446.30,94.39 L446.39,96.08 L446.47,92.50 L446.56,92.56 L446.64,93.63 L446.73,92.21 L446.82,92.42 L446.90,90.28 L446.99,93.48 L447.08,92.16 L447.16,93.29 L447.25,91.59 L447.33,89.02 L447.42,92.80 L447.51,93.91 L447.59,89.87 L447.68,90.39 L447.77,91.51 L447.85,91.61 L447.94,89.21 L448.02,94.94 L448.11,93.72 L448.20,91.03 L448.28,89.06 L448.37,92.67 L448.45,95.37 L448.54,93.46 L448.63,94.01 L448.71,90.55 L448.80,92.50 L448.89,89.65 L448.97,95.41 L449.06,93.09 L449.14,88.68 L449.23,89.11 L449.32,92.97 L449.40,92.41 L449.49,91.68 L449.58,93.22 L449.66,95.53 L449.75,92.83 L449.83,89.26 L449.92,91.99 L450.01,90.10 L450.09,90.95 L450.18,92.83 L450.27,92.02 L450.35,90.56 L450.44,92.28 L450.52,90.99 L450.61,93.22 L450.70,91.96 L450.78,93.02 L450.87,91.95 L450.95,93.63 L451.04,92.19 L451.13,92.40 L451.21,91.50 L451.30,92.68 L451.39,89.54 L451.47,96.68 L451.56,91.36 L451.64,92.66 L451.73,91.73 L451.82,91.72 L451.90,93.20 L451.99,91.71 L452.08,91.85 L452.16,90.30 L452.25,91.06 L452.33,90.67 L452.42,95.57 L452.51,90.43 L452.59,90.87 L452.68,92.96 L452.76,95.00 L452.85,89.89 L452.94,90.14 L453.02,92.90 L453.11,93.26 L453.20,90.39 L453.28,89.77 L453.37,91.17 L453.45,93.98 L453.54,92.70 L453.63,94.00 L453.71,92.62 L453.80,92.75 L453.89,93.82 L453.97,92.63 L454.06,93.23 L454.14,91.36 L454.23,91.88 L454.32,93.65 L454.40,92.50 L454.49,91.68 L454.58,93.99 L454.66,93.82 L454.75,92.93 L454.83,91.71 L454.92,94.43 L455.01,97.07 L455.09,91.65 L455.18,90.48 L455.26,91.74 L455.35,91.50 L455.44,90.97 L455.52,91.12 L455.61,94.45 L455.70,94.48 L455.78,95.51 L455.87,94.32 L455.95,92.34 L456.04,94.90 L456.13,92.14 L456.21,92.59 L456.30,91.25 L456.39,95.18 L456.47,94.84 L456.56,92.45 L456.64,92.71 L456.73,93.28 L456.82,93.57 L456.90,94.63 L456.99,93.37 L457.07,93.93 L457.16,90.84 L457.25,92.81 L457.33,90.39 L457.42,96.23 L457.51,95.61 L457.59,94.52 L457.68,95.17 L457.76,96.64 L457.85,94.92 L457.94,90.81 L458.02,93.08 L458.11,89.59 L458.20,92.11 L458.28,91.43 L458.37,93.45 L458.45,94.11 L458.54,91.98 L458.63,93.04 L458.71,93.97 L458.80,93.27 L458.89,93.25 L458.97,89.64 L459.06,92.84 L459.14,94.86 L459.23,94.00 L459.32,91.19 L459.40,93.17 L459.49,94.05 L459.57,92.05 L459.66,94.74 L459.75,92.36 L459.83,93.13 L459.92,93.51 L460.01,97.31 L460.09,93.19 L460.18,92.80 L460.26,94.90 L460.35,92.98 L460.44,94.07 L460.52,90.12 L460.61,94.27 L460.70,93.77 L460.78,91.72 L460.87,96.02 L460.95,93.45 L461.04,93.53 L461.13,91.73 L461.21,91.24 L461.30,92.97 L461.38,91.43 L461.47,94.71 L461.56,95.33 L461.64,92.91 L461.73,91.35 L461.82,93.33 L461.90,92.26 L461.99,94.26 L462.07,94.29 L462.16,93.32 L462.25,94.14 L462.33,95.72 L462.42,96.80 L462.51,93.22 L462.59,95.24 L462.68,93.70 L462.76,92.39 L462.85,96.18 L462.94,94.76 L463.02,94.37 L463.11,94.72 L463.20,93.90 L463.28,92.48 L463.37,97.05 L463.45,95.65 L463.54,94.64 L463.63,95.78 L463.71,96.31 L463.80,93.93 L463.88,95.21 L463.97,93.76 L464.06,95.33 L464.14,93.89 L464.23,98.24 L464.32,93.75 L464.40,95.17 L464.49,95.10 L464.57,93.83 L464.66,95.89 L464.75,94.26 L464.83,93.74 L464.92,94.42 L465.01,93.22 L465.09,96.37 L465.18,95.46 L465.26,96.05 L465.35,92.31 L465.44,94.93 L465.52,93.27 L465.61,94.66 L465.69,96.58 L465.78,94.96 L465.87,94.28 L465.95,96.37 L466.04,96.21 L466.13,97.57 L466.21,91.62 L466.30,95.15 L466.38,93.97 L466.47,93.25 L466.56,94.85 L466.64,92.81 L466.73,91.11 L466.82,93.25 L466.90,94.29 L466.99,97.72 L467.07,93.58 L467.16,92.88 L467.25,91.60 L467.33,94.21 L467.42,94.41 L467.51,95.04 L467.59,92.50 L467.68,93.61 L467.76,91.21 L467.85,95.12 L467.94,92.36 L468.02,90.87 L468.11,96.75 L468.19,95.71 L468.28,95.48 L468.37,95.49 L468.45,93.29 L468.54,96.67 L468.63,93.30 L468.71,98.04 L468.80,95.36 L468.88,92.06 L468.97,96.41 L469.06,98.19 L469.14,94.64 L469.23,96.76 L469.32,94.74 L469.40,94.09 L469.49,91.10 L469.57,97.09 L469.66,94.42 L469.75,95.75 L469.83,93.34 L469.92,93.72 L470.00,96.96 L470.09,94.58 L470.18,94.56 L470.26,93.21 L470.35,95.57 L470.44,96.48 L470.52,94.52 L470.61,94.97 L470.69,93.34 L470.78,97.53 L470.87,94.32 L470.95,95.07 L471.04,98.02 L471.13,94.99 L471.21,92.89 L471.30,93.90 L471.38,94.82 L471.47,98.24 L471.56,95.77 L471.64,95.07 L471.73,96.76 L471.82,97.53 L471.90,94.26 L471.99,97.77 L472.07,96.86 L472.16,96.23 L472.25,91.75 L472.33,95.85 L472.42,97.77 L472.50,95.13 L472.59,99.26 L472.68,95.71 L472.76,93.98 L472.85,96.56 L472.94,96.10 L473.02,96.97 L473.11,95.30 L473.19,97.75 L473.28,94.80 L473.37,95.91 L473.45,93.72 L473.54,94.45 L473.63,96.06 L473.71,94.70 L473.80,95.05 L473.88,95.45 L473.97,96.19 L474.06,97.03 L474.14,97.04 L474.23,97.46 L474.31,96.17 L474.40,94.99 L474.49,93.34 L474.57,95.33 L474.66,94.63 L474.75,93.01 L474.83,98.55 L474.92,93.00 L475.00,96.52 L475.09,96.85 L475.18,95.60 L475.26,100.04 L475.35,96.03 L475.44,94.79 L475.52,98.84 L475.61,94.76 L475.69,93.76 L475.78,94.46 L475.87,95.05 L475.95,96.16 L476.04,96.64 L476.13,93.69 L476.21,96.69 L476.30,99.71 L476.38,95.01 L476.47,95.96 L476.56,97.29 L476.64,98.12 L476.73,95.14 L476.81,94.68 L476.90,94.62 L476.99,97.99 L477.07,97.69 L477.16,92.82 L477.25,92.87 L477.33,94.32 L477.42,93.91 L477.50,96.97 L477.59,96.68 L477.68,99.47 L477.76,97.63 L477.85,96.57 L477.94,98.27 L478.02,94.98 L478.11,94.18 L478.19,96.48 L478.28,97.93 L478.37,93.87 L478.45,97.89 L478.54,97.85 L478.62,95.69 L478.71,96.77 L478.80,96.08 L478.88,96.66 L478.97,97.83 L479.06,95.27 L479.14,98.22 L479.23,97.96 L479.31,98.03 L479.40,93.45 L479.49,93.64 L479.57,97.71 L479.66,95.68 L479.75,95.53 L479.83,95.42 L479.92,94.51 L480.00,96.19 L480.09,95.51 L480.18,95.63 L480.26,97.44 L480.35,94.81 L480.44,98.48 L480.52,93.17 L480.61,100.70 L480.69,94.56 L480.78,97.65 L480.87,98.19 L480.95,96.74 L481.04,97.94 L481.12,96.59 L481.21,93.97 L481.30,97.33 L481.38,98.61 L481.47,95.92 L481.56,94.11 L481.64,95.86 L481.73,97.34 L481.81,97.31 L481.90,98.59 L481.99,97.73 L482.07,97.66 L482.16,93.69 L482.25,100.41 L482.33,96.96 L482.42,98.26 L482.50,96.35 L482.59,96.67 L482.68,97.01 L482.76,99.43 L482.85,99.34 L482.93,97.92 L483.02,100.10 L483.11,96.34 L483.19,97.79 L483.28,96.26 L483.37,99.04 L483.45,97.06 L483.54,98.56 L483.62,99.75 L483.71,93.74 L483.80,100.48 L483.88,97.55 L483.97,96.55 L484.06,94.02 L484.14,96.59 L484.23,93.43 L484.31,97.23 L484.40,96.83 L484.49,100.00 L484.57,96.60 L484.66,98.83 L484.75,98.99 L484.83,100.42 L484.92,96.76 L485.00,98.37 L485.09,94.76 L485.18,95.42 L485.26,96.76 L485.35,97.16 L485.43,95.28 L485.52,96.56 L485.61,98.34 L485.69,96.51 L485.78,97.00 L485.87,95.84 L485.95,99.45 L486.04,100.09 L486.12,97.61 L486.21,97.11 L486.30,99.94 L486.38,98.07 L486.47,96.25 L486.56,95.19 L486.64,96.40 L486.73,100.82 L486.81,96.41 L486.90,101.31 L486.99,97.37 L487.07,97.04 L487.16,99.48 L487.24,97.01 L487.33,98.01 L487.42,95.77 L487.50,95.45 L487.59,96.26 L487.68,97.79 L487.76,96.40 L487.85,94.35 L487.93,98.22 L488.02,97.22 L488.11,97.04 L488.19,96.52 L488.28,93.94 L488.37,100.03 L488.45,96.76 L488.54,98.36 L488.62,99.74 L488.71,99.33 L488.80,97.88 L488.88,97.58 L488.97,98.06 L489.06,99.02 L489.14,98.51 L489.23,96.89 L489.31,98.32 L489.40,98.21 L489.49,98.72 L489.57,97.96 L489.66,99.81 L489.74,97.97 L489.83,99.06 L489.92,97.74 L490.00,96.77 L490.09,96.19 L490.18,97.44 L490.26,98.55 L490.35,99.71 L490.43,97.58 L490.52,96.91 L490.61,96.94 L490.69,99.78 L490.78,97.92 L490.87,96.98 L490.95,98.94 L491.04,95.70 L491.12,97.97 L491.21,97.73 L491.30,97.60 L491.38,96.00 L491.47,99.37 L491.55,100.48 L491.64,95.76 L491.73,98.04 L491.81,98.87 L491.90,101.42 L491.99,97.22 L492.07,96.39 L492.16,97.89 L492.24,101.06 L492.33,98.02 L492.42,98.33 L492.50,100.71 L492.59,94.58 L492.68,94.55 L492.76,99.38 L492.85,99.18 L492.93,95.80 L493.02,98.79 L493.11,98.05 L493.19,98.34 L493.28,96.74 L493.37,97.30 L493.45,96.65 L493.54,98.11 L493.62,97.68 L493.71,100.68 L493.80,99.04 L493.88,95.60 L493.97,98.72 L494.05,100.32 L494.14,98.53 L494.23,99.80 L494.31,98.05 L494.40,99.22 L494.49,96.66 L494.57,99.36 L494.66,95.99 L494.74,100.17 L494.83,95.79 L494.92,94.86 L495.00,99.01 L495.09,97.92 L495.18,98.37 L495.26,98.87 L495.35,98.17 L495.43,96.84 L495.52,98.56 L495.61,98.78 L495.69,99.01 L495.78,101.35 L495.86,97.12 L495.95,98.38 L496.04,99.15 L496.12,97.59 L496.21,96.43 L496.30,97.42 L496.38,99.97 L496.47,97.90 L496.55,99.28 L496.64,97.20 L496.73,99.04 L496.81,97.30 L496.90,97.05 L496.99,98.55 L497.07,98.46 L497.16,100.68 L497.24,95.87 L497.33,99.20 L497.42,100.92 L497.50,100.54 L497.59,97.84 L497.68,97.38 L497.76,97.68 L497.85,98.93 L497.93,98.76 L498.02,99.02 L498.11,99.42 L498.19,96.83 L498.28,96.75 L498.36,96.61 L498.45,96.44 L498.54,98.37 L498.62,99.02 L498.71,102.40 L498.80,99.38 L498.88,98.59 L498.97,100.77 L499.05,97.44 L499.14,99.12 L499.23,100.11 L499.31,99.82 L499.40,99.24 L499.49,98.08 L499.57,96.71 L499.66,98.40 L499.74,97.73 L499.83,99.72 L499.92,98.45 L500.00,99.54 L500.09,96.19 L500.17,100.20 L500.26,97.38 L500.35,96.29 L500.43,96.59 L500.52,97.75 L500.61,100.47 L500.69,99.85 L500.78,96.94 L500.86,98.89 L500.95,98.61 L501.04,96.36 L501.12,97.26 L501.21,95.65 L501.30,97.46 L501.38,94.98 L501.47,97.59 L501.55,97.38 L501.64,97.60 L501.73,97.57 L501.81,100.62 L501.90,98.31 L501.99,99.23 L502.07,100.02 L502.16,100.26 L502.24,99.92 L502.33,98.03 L502.42,97.20 L502.50,97.70 L502.59,98.17 L502.67,98.92 L502.76,98.78 L502.85,100.61 L502.93,98.77 L503.02,101.69 L503.11,100.52 L503.19,98.21 L503.28,100.28 L503.36,95.14 L503.45,101.08 L503.54,99.61 L503.62,99.59 L503.71,96.40 L503.80,102.81 L503.88,98.61 L503.97,98.79 L504.05,100.74 L504.14,98.72 L504.23,97.72 L504.31,100.04 L504.40,97.49 L504.48,100.18 L504.57,99.26 L504.66,100.78 L504.74,97.21 L504.83,100.98 L504.92,99.53 L505.00,102.11 L505.09,98.10 L505.17,101.94 L505.26,100.18 L505.35,100.32 L505.43,98.01 L505.52,99.98 L505.61,100.16 L505.69,97.87 L505.78,97.38 L505.86,97.97 L505.95,101.39 L506.04,99.40 L506.12,100.60 L506.21,99.62 L506.30,99.36 L506.38,99.53 L506.47,98.57 L506.55,101.07 L506.64,99.48 L506.73,99.56 L506.81,97.12 L506.90,99.70 L506.98,98.21 L507.07,98.48 L507.16,100.83 L507.24,97.59 L507.33,98.96 L507.42,100.23 L507.50,101.03 L507.59,98.49 L507.67,99.78 L507.76,99.73 L507.85,97.59 L507.93,96.06 L508.02,96.39 L508.11,100.23 L508.19,99.49 L508.28,97.30 L508.36,98.37 L508.45,98.74 L508.54,98.81 L508.62,99.32 L508.71,102.72 L508.79,98.19 L508.88,99.60 L508.97,98.22 L509.05,98.44 L509.14,98.07 L509.23,99.06 L509.31,98.58 L509.40,99.95 L509.48,99.75 L509.57,98.08 L509.66,102.35 L509.74,97.68 L509.83,99.99 L509.92,102.74 L510.00,98.39 L510.09,101.48 L510.17,101.63 L510.26,100.00 L510.35,96.70 L510.43,101.65 L510.52,99.65 L510.61,98.69 L510.69,101.45 L510.78,98.43 L510.86,101.14 L510.95,98.71 L511.04,100.36 L511.12,97.93 L511.21,98.96 L511.29,98.18 L511.38,98.50 L511.47,99.86 L511.55,99.33 L511.64,99.88 L511.73,101.53 L511.81,99.43 L511.90,96.81 L511.98,99.19 L512.07,99.75 L512.16,101.17 L512.24,101.20 L512.33,101.08 L512.42,99.31 L512.50,100.63 L512.59,97.49 L512.67,101.62 L512.76,100.34 L512.85,100.45 L512.93,99.12 L513.02,99.78 L513.10,98.70 L513.19,100.56 L513.28,97.72 L513.36,101.19 L513.45,100.55 L513.54,102.78 L513.62,99.69 L513.71,99.61 L513.79,100.05 L513.88,99.82 L513.97,99.61 L514.05,98.12 L514.14,98.13 L514.23,98.94 L514.31,99.36 L514.40,98.02 L514.48,98.07 L514.57,99.39 L514.66,100.94 L514.74,99.54 L514.83,100.85 L514.92,101.30 L515.00,101.00 L515.09,99.23 L515.17,99.26 L515.26,97.08 L515.35,98.85 L515.43,100.58 L515.52,98.26 L515.60,101.92 L515.69,102.05 L515.78,99.36 L515.86,101.30 L515.95,97.80 L516.04,98.36 L516.12,99.38 L516.21,99.96 L516.29,99.67 L516.38,98.67 L516.47,102.90 L516.55,100.41 L516.64,100.40 L516.73,101.00 L516.81,100.25 L516.90,99.65 L516.98,99.17 L517.07,97.57 L517.16,102.25 L517.24,98.65 L517.33,97.55 L517.41,98.83 L517.50,97.65 L517.59,103.02 L517.67,100.60 L517.76,102.16 L517.85,102.24 L517.93,100.92 L518.02,100.94 L518.10,99.01 L518.19,99.97 L518.28,99.20 L518.36,100.17 L518.45,99.08 L518.54,102.01 L518.62,101.27 L518.71,99.98 L518.79,97.66 L518.88,101.17 L518.97,101.47 L519.05,100.06 L519.14,98.30 L519.23,100.82 L519.31,101.74 L519.40,97.34 L519.48,101.04 L519.57,97.51 L519.66,100.33 L519.74,102.81 L519.83,100.36 L519.91,100.94 L520.00,99.76 L520.09,100.23 L520.17,103.73 L520.26,102.23 L520.35,99.80 L520.43,99.70 L520.52,100.30 L520.60,103.53 L520.69,100.60 L520.78,101.94 L520.86,99.76 L520.95,98.43 L521.04,102.27 L521.12,100.21 L521.21,99.17 L521.29,99.31 L521.38,99.35 L521.47,99.45 L521.55,98.08 L521.64,102.13 L521.72,100.93 L521.81,101.81 L521.90,99.87 L521.98,100.90 L522.07,100.64 L522.16,102.13 L522.24,101.61 L522.33,100.94 L522.41,99.46 L522.50,98.66 L522.59,99.26 L522.67,99.51 L522.76,99.65 L522.85,98.63 L522.93,102.90 L523.02,100.86 L523.10,97.51 L523.19,98.87 L523.28,98.52 L523.36,100.84 L523.45,102.06 L523.54,99.06 L523.62,101.42 L523.71,100.11 L523.79,102.21 L523.88,102.53 L523.97,100.99 L524.05,101.60 L524.14,100.55 L524.22,100.01 L524.31,98.86 L524.40,101.05 L524.48,100.47 L524.57,100.02 L524.66,100.48 L524.74,100.33 L524.83,99.09 L524.91,99.84 L525.00,102.28 L525.09,100.28 L525.17,102.67 L525.26,98.95 L525.35,98.67 L525.43,100.84 L525.52,101.79 L525.60,99.71 L525.69,101.58 L525.78,102.04 L525.86,102.25 L525.95,100.53 L526.03,100.62 L526.12,98.30 L526.21,100.74 L526.29,101.12 L526.38,102.78 L526.47,98.88 L526.55,99.51 L526.64,99.29 L526.72,102.05 L526.81,97.11 L526.90,99.19 L526.98,103.76 L527.07,101.73 L527.16,98.86 L527.24,100.70 L527.33,102.02 L527.41,101.60 L527.50,100.49 L527.59,99.67 L527.67,102.03 L527.76,100.82 L527.85,102.01 L527.93,101.42 L528.02,100.17 L528.10,102.94 L528.19,100.14 L528.28,101.49 L528.36,99.96 L528.45,100.55 L528.53,100.53 L528.62,99.94 L528.71,101.24 L528.79,102.80 L528.88,103.60 L528.97,102.99 L529.05,100.68 L529.14,103.03 L529.22,101.54 L529.31,103.54 L529.40,99.14 L529.48,103.09 L529.57,100.11 L529.66,102.64 L529.74,100.31 L529.83,102.30 L529.91,100.59 L530.00,98.30" fill="none" stroke="#0e80c6" stroke-width="1.2" stroke-linejoin="round" clip-path="url(#cb)"/>
<path d="M314.50,138.73 L314.59,140.07 L314.67,140.56 L314.76,136.43 L314.84,138.34 L314.93,139.21 L315.02,140.17 L315.10,140.97 L315.19,139.07 L315.28,137.81 L315.36,141.14 L315.45,139.99 L315.53,142.23 L315.62,139.66 L315.71,141.81 L315.79,139.01 L315.88,141.14 L315.97,140.82 L316.05,141.49 L316.14,138.97 L316.22,140.46 L316.31,139.15 L316.40,140.41 L316.48,141.85 L316.57,145.33 L316.66,140.79 L316.74,142.04 L316.83,140.95 L316.91,142.82 L317.00,141.61 L317.09,142.68 L317.17,141.43 L317.26,145.16 L317.34,143.31 L317.43,137.72 L317.52,141.37 L317.60,140.98 L317.69,136.83 L317.78,139.29 L317.86,140.02 L317.95,139.54 L318.03,141.12 L318.12,137.63 L318.21,142.25 L318.29,142.32 L318.38,141.56 L318.47,140.33 L318.55,140.95 L318.64,140.10 L318.72,143.03 L318.81,141.88 L318.90,144.59 L318.98,140.32 L319.07,143.62 L319.15,139.96 L319.24,140.70 L319.33,139.13 L319.41,141.98 L319.50,140.93 L319.59,142.17 L319.67,143.76 L319.76,140.97 L319.84,141.77 L319.93,142.71 L320.02,140.99 L320.10,140.12 L320.19,141.76 L320.28,142.04 L320.36,142.54 L320.45,142.65 L320.53,139.95 L320.62,141.97 L320.71,143.39 L320.79,140.34 L320.88,141.85 L320.97,140.08 L321.05,141.51 L321.14,144.35 L321.22,141.54 L321.31,139.49 L321.40,141.87 L321.48,141.64 L321.57,143.28 L321.65,138.80 L321.74,139.63 L321.83,141.15 L321.91,138.50 L322.00,143.36 L322.09,137.67 L322.17,139.83 L322.26,138.68 L322.34,140.17 L322.43,142.80 L322.52,142.45 L322.60,143.04 L322.69,142.47 L322.78,137.74 L322.86,141.95 L322.95,138.09 L323.03,140.52 L323.12,140.72 L323.21,140.46 L323.29,142.33 L323.38,140.00 L323.46,144.58 L323.55,142.55 L323.64,143.61 L323.72,142.86 L323.81,143.11 L323.90,141.44 L323.98,145.05 L324.07,139.64 L324.15,142.37 L324.24,141.56 L324.33,141.16 L324.41,142.14 L324.50,140.23 L324.59,143.15 L324.67,143.00 L324.76,141.78 L324.84,142.94 L324.93,139.74 L325.02,138.35 L325.10,140.54 L325.19,141.14 L325.28,146.02 L325.36,141.13 L325.45,143.38 L325.53,143.03 L325.62,145.28 L325.71,141.70 L325.79,142.65 L325.88,141.12 L325.96,139.90 L326.05,139.64 L326.14,140.02 L326.22,143.97 L326.31,141.91 L326.40,141.11 L326.48,141.41 L326.57,140.35 L326.65,141.29 L326.74,141.27 L326.83,142.49 L326.91,142.94 L327.00,138.38 L327.09,141.70 L327.17,143.73 L327.26,139.44 L327.34,140.80 L327.43,141.54 L327.52,143.19 L327.60,142.28 L327.69,140.81 L327.77,142.08 L327.86,143.02 L327.95,141.86 L328.03,144.46 L328.12,141.89 L328.21,139.25 L328.29,139.72 L328.38,140.86 L328.46,140.72 L328.55,142.18 L328.64,141.69 L328.72,144.11 L328.81,142.48 L328.90,143.67 L328.98,139.66 L329.07,140.24 L329.15,142.21 L329.24,141.14 L329.33,142.08 L329.41,141.40 L329.50,139.84 L329.59,143.96 L329.67,142.95 L329.76,138.14 L329.84,139.80 L329.93,140.92 L330.02,142.08 L330.10,140.73 L330.19,138.42 L330.27,142.31 L330.36,140.45 L330.45,142.94 L330.53,141.33 L330.62,142.56 L330.71,142.25 L330.79,142.33 L330.88,139.84 L330.96,142.56 L331.05,141.08 L331.14,138.50 L331.22,140.00 L331.31,140.09 L331.40,141.51 L331.48,141.88 L331.57,138.68 L331.65,141.92 L331.74,140.51 L331.83,138.74 L331.91,142.08 L332.00,139.24 L332.08,138.47 L332.17,141.90 L332.26,142.14 L332.34,139.37 L332.43,142.40 L332.52,142.29 L332.60,139.59 L332.69,144.02 L332.77,140.38 L332.86,140.87 L332.95,136.24 L333.03,141.57 L333.12,139.34 L333.21,141.20 L333.29,137.39 L333.38,142.44 L333.46,142.95 L333.55,143.70 L333.64,135.81 L333.72,141.38 L333.81,140.94 L333.90,135.78 L333.98,139.02 L334.07,140.15 L334.15,142.80 L334.24,138.81 L334.33,140.63 L334.41,140.15 L334.50,140.89 L334.58,139.53 L334.67,141.79 L334.76,141.92 L334.84,137.80 L334.93,142.16 L335.02,138.86 L335.10,139.68 L335.19,142.13 L335.27,140.31 L335.36,141.14 L335.45,141.50 L335.53,141.16 L335.62,139.15 L335.71,138.41 L335.79,141.26 L335.88,141.37 L335.96,140.64 L336.05,139.65 L336.14,141.45 L336.22,139.87 L336.31,137.49 L336.39,140.36 L336.48,140.72 L336.57,141.16 L336.65,138.21 L336.74,138.43 L336.83,140.30 L336.91,138.91 L337.00,139.54 L337.08,141.28 L337.17,140.29 L337.26,142.77 L337.34,140.06 L337.43,142.52 L337.52,141.36 L337.60,143.83 L337.69,139.47 L337.77,139.26 L337.86,141.67 L337.95,138.46 L338.03,138.52 L338.12,139.73 L338.21,139.93 L338.29,136.80 L338.38,139.66 L338.46,138.65 L338.55,139.12 L338.64,139.44 L338.72,138.78 L338.81,140.95 L338.89,139.90 L338.98,138.70 L339.07,139.13 L339.15,140.78 L339.24,140.31 L339.33,141.12 L339.41,138.65 L339.50,139.10 L339.58,142.34 L339.67,138.74 L339.76,141.70 L339.84,140.22 L339.93,137.97 L340.02,136.26 L340.10,139.77 L340.19,137.41 L340.27,137.37 L340.36,135.57 L340.45,140.61 L340.53,138.69 L340.62,138.53 L340.70,139.14 L340.79,138.85 L340.88,138.56 L340.96,139.27 L341.05,137.86 L341.14,133.83 L341.22,139.56 L341.31,138.99 L341.39,138.26 L341.48,140.95 L341.57,135.74 L341.65,133.50 L341.74,140.68 L341.83,138.79 L341.91,135.19 L342.00,137.31 L342.08,139.06 L342.17,135.85 L342.26,138.88 L342.34,141.56 L342.43,140.27 L342.52,137.78 L342.60,138.36 L342.69,136.13 L342.77,137.97 L342.86,137.14 L342.95,135.96 L343.03,135.33 L343.12,140.96 L343.20,137.74 L343.29,135.79 L343.38,136.80 L343.46,140.07 L343.55,140.27 L343.64,136.38 L343.72,137.75 L343.81,138.92 L343.89,136.75 L343.98,135.29 L344.07,135.61 L344.15,137.28 L344.24,135.90 L344.33,134.96 L344.41,136.76 L344.50,138.75 L344.58,138.29 L344.67,136.68 L344.76,140.34 L344.84,135.66 L344.93,136.86 L345.01,134.60 L345.10,138.27 L345.19,136.68 L345.27,133.97 L345.36,135.41 L345.45,139.90 L345.53,138.02 L345.62,136.94 L345.70,138.20 L345.79,133.93 L345.88,135.23 L345.96,134.34 L346.05,135.17 L346.14,135.90 L346.22,137.44 L346.31,138.23 L346.39,138.16 L346.48,140.68 L346.57,135.56 L346.65,136.35 L346.74,137.22 L346.83,134.89 L346.91,135.79 L347.00,136.96 L347.08,134.71 L347.17,137.00 L347.26,138.27 L347.34,134.22 L347.43,132.18 L347.51,136.22 L347.60,134.25 L347.69,136.31 L347.77,135.21 L347.86,136.47 L347.95,137.86 L348.03,137.29 L348.12,135.24 L348.20,133.82 L348.29,131.53 L348.38,132.03 L348.46,134.36 L348.55,135.86 L348.64,134.50 L348.72,134.61 L348.81,132.85 L348.89,132.73 L348.98,132.57 L349.07,136.56 L349.15,132.06 L349.24,136.58 L349.32,133.83 L349.41,136.27 L349.50,135.72 L349.58,136.57 L349.67,137.28 L349.76,133.86 L349.84,133.50 L349.93,134.38 L350.01,133.77 L350.10,136.19 L350.19,134.83 L350.27,135.00 L350.36,135.67 L350.45,134.11 L350.53,136.77 L350.62,131.71 L350.70,135.22 L350.79,135.65 L350.88,133.45 L350.96,133.54 L351.05,136.24 L351.14,134.12 L351.22,131.34 L351.31,132.29 L351.39,136.29 L351.48,133.03 L351.57,136.75 L351.65,136.82 L351.74,134.10 L351.82,135.34 L351.91,132.97 L352.00,133.66 L352.08,133.13 L352.17,135.30 L352.26,132.07 L352.34,134.00 L352.43,134.28 L352.51,135.05 L352.60,130.51 L352.69,131.05 L352.77,132.57 L352.86,133.66 L352.95,134.25 L353.03,134.31 L353.12,137.39 L353.20,135.04 L353.29,134.89 L353.38,133.02 L353.46,135.16 L353.55,134.97 L353.63,134.91 L353.72,133.54 L353.81,134.77 L353.89,136.27 L353.98,132.28 L354.07,129.93 L354.15,134.98 L354.24,134.80 L354.32,133.13 L354.41,132.73 L354.50,137.84 L354.58,132.64 L354.67,131.32 L354.76,132.55 L354.84,134.19 L354.93,132.27 L355.01,132.61 L355.10,133.76 L355.19,132.48 L355.27,133.40 L355.36,133.08 L355.45,131.32 L355.53,133.21 L355.62,131.09 L355.70,134.62 L355.79,131.42 L355.88,132.57 L355.96,129.85 L356.05,132.15 L356.13,130.76 L356.22,135.38 L356.31,132.61 L356.39,133.67 L356.48,129.79 L356.57,130.63 L356.65,132.41 L356.74,130.37 L356.82,134.57 L356.91,131.92 L357.00,132.83 L357.08,133.06 L357.17,132.26 L357.26,133.79 L357.34,131.31 L357.43,133.04 L357.51,134.42 L357.60,132.72 L357.69,132.53 L357.77,131.72 L357.86,132.34 L357.94,133.34 L358.03,131.75 L358.12,129.29 L358.20,132.36 L358.29,131.79 L358.38,132.79 L358.46,132.03 L358.55,134.57 L358.63,129.86 L358.72,130.21 L358.81,132.90 L358.89,130.04 L358.98,132.27 L359.07,131.66 L359.15,128.35 L359.24,132.72 L359.32,133.86 L359.41,131.87 L359.50,129.14 L359.58,132.77 L359.67,129.66 L359.76,131.16 L359.84,132.02 L359.93,129.98 L360.01,128.42 L360.10,130.97 L360.19,131.09 L360.27,129.70 L360.36,129.78 L360.44,132.28 L360.53,130.86 L360.62,130.18 L360.70,129.93 L360.79,131.17 L360.88,131.00 L360.96,130.52 L361.05,128.46 L361.13,130.11 L361.22,129.64 L361.31,130.76 L361.39,132.53 L361.48,132.15 L361.57,131.59 L361.65,130.67 L361.74,129.91 L361.82,130.97 L361.91,129.58 L362.00,129.77 L362.08,128.90 L362.17,130.16 L362.25,130.08 L362.34,133.22 L362.43,131.04 L362.51,129.47 L362.60,131.33 L362.69,129.23 L362.77,131.64 L362.86,131.22 L362.94,134.26 L363.03,128.07 L363.12,129.69 L363.20,129.59 L363.29,130.22 L363.38,130.87 L363.46,128.05 L363.55,128.43 L363.63,130.08 L363.72,131.13 L363.81,127.66 L363.89,126.92 L363.98,131.30 L364.07,130.76 L364.15,131.12 L364.24,127.71 L364.32,128.94 L364.41,129.59 L364.50,129.91 L364.58,128.95 L364.67,129.02 L364.75,130.72 L364.84,128.32 L364.93,128.09 L365.01,128.25 L365.10,128.08 L365.19,129.08 L365.27,128.49 L365.36,128.08 L365.44,131.06 L365.53,129.20 L365.62,128.12 L365.70,130.68 L365.79,127.70 L365.88,128.55 L365.96,128.36 L366.05,127.54 L366.13,127.81 L366.22,128.53 L366.31,126.04 L366.39,127.69 L366.48,128.68 L366.56,128.68 L366.65,128.68 L366.74,131.94 L366.82,129.19 L366.91,127.85 L367.00,127.84 L367.08,128.00 L367.17,128.66 L367.25,127.44 L367.34,130.31 L367.43,126.07 L367.51,128.82 L367.60,128.57 L367.69,125.89 L367.77,128.69 L367.86,128.54 L367.94,126.58 L368.03,131.28 L368.12,128.66 L368.20,126.96 L368.29,126.68 L368.38,126.22 L368.46,127.78 L368.55,127.38 L368.63,124.87 L368.72,125.30 L368.81,125.66 L368.89,125.99 L368.98,125.90 L369.06,125.25 L369.15,127.17 L369.24,127.50 L369.32,125.95 L369.41,122.16 L369.50,125.25 L369.58,126.23 L369.67,125.05 L369.75,125.45 L369.84,125.02 L369.93,122.31 L370.01,120.50 L370.10,125.36 L370.19,123.37 L370.27,124.70 L370.36,123.40 L370.44,123.45 L370.53,125.73 L370.62,121.49 L370.70,123.22 L370.79,121.33 L370.87,123.02 L370.96,123.50 L371.05,123.62 L371.13,122.66 L371.22,120.07 L371.31,122.49 L371.39,123.35 L371.48,123.21 L371.56,124.73 L371.65,121.93 L371.74,119.12 L371.82,119.61 L371.91,120.27 L372.00,121.50 L372.08,117.72 L372.17,120.68 L372.25,119.97 L372.34,117.26 L372.43,119.30 L372.51,116.83 L372.60,117.73 L372.69,116.96 L372.77,117.51 L372.86,114.97 L372.94,117.37 L373.03,112.80 L373.12,115.29 L373.20,114.74 L373.29,117.83 L373.37,115.88 L373.46,113.97 L373.55,113.02 L373.63,114.19 L373.72,112.84 L373.81,117.07 L373.89,109.06 L373.98,113.04 L374.06,108.75 L374.15,113.98 L374.24,110.77 L374.32,114.27 L374.41,110.58 L374.50,112.85 L374.58,111.16 L374.67,112.40 L374.75,110.27 L374.84,105.77 L374.93,109.19 L375.01,108.28 L375.10,112.63 L375.18,112.38 L375.27,111.95 L375.36,113.05 L375.44,113.05 L375.53,112.24 L375.62,116.62 L375.70,114.31 L375.79,114.03 L375.87,112.43 L375.96,114.16 L376.05,115.56 L376.13,115.66 L376.22,115.59 L376.31,116.66 L376.39,115.37 L376.48,117.55 L376.56,115.50 L376.65,116.88 L376.74,117.38 L376.82,120.21 L376.91,119.91 L377.00,119.56 L377.08,117.93 L377.17,119.41 L377.25,121.60 L377.34,122.61 L377.43,118.62 L377.51,120.56 L377.60,121.71 L377.68,122.39 L377.77,122.15 L377.86,123.49 L377.94,120.47 L378.03,125.49 L378.12,121.54 L378.20,123.73 L378.29,124.76 L378.37,126.08 L378.46,125.97 L378.55,126.22 L378.63,127.04 L378.72,124.92 L378.81,126.46 L378.89,127.83 L378.98,124.34 L379.06,123.46 L379.15,124.20 L379.24,128.13 L379.32,127.99 L379.41,125.60 L379.49,126.67 L379.58,127.16 L379.67,128.19 L379.75,123.71 L379.84,125.91 L379.93,126.51 L380.01,127.54 L380.10,127.29 L380.18,126.80 L380.27,127.87 L380.36,123.50 L380.44,131.90 L380.53,129.09 L380.62,129.31 L380.70,127.01 L380.79,128.83 L380.87,131.53 L380.96,131.28 L381.05,128.67 L381.13,126.73 L381.22,129.06 L381.31,128.45 L381.39,130.39 L381.48,127.17 L381.56,129.01 L381.65,129.85 L381.74,128.82 L381.82,131.34 L381.91,128.02 L381.99,127.99 L382.08,129.38 L382.17,131.18 L382.25,129.35 L382.34,128.84 L382.43,130.98 L382.51,130.01 L382.60,128.78 L382.68,129.75 L382.77,129.12 L382.86,130.40 L382.94,129.61 L383.03,128.08 L383.12,128.53 L383.20,128.58 L383.29,129.75 L383.37,129.71 L383.46,127.76 L383.55,128.71 L383.63,129.44 L383.72,130.62 L383.80,129.24 L383.89,131.85 L383.98,128.77 L384.06,129.83 L384.15,128.11 L384.24,127.01 L384.32,128.68 L384.41,129.22 L384.49,128.91 L384.58,128.58 L384.67,127.78 L384.75,126.96 L384.84,127.72 L384.93,128.87 L385.01,129.58 L385.10,123.89 L385.18,128.93 L385.27,129.55 L385.36,129.71 L385.44,128.21 L385.53,128.54 L385.62,126.67 L385.70,127.11 L385.79,127.95 L385.87,125.29 L385.96,125.65 L386.05,127.08 L386.13,124.56 L386.22,126.61 L386.30,124.09 L386.39,126.59 L386.48,126.21 L386.56,125.17 L386.65,124.54 L386.74,125.34 L386.82,122.75 L386.91,125.75 L386.99,126.67 L387.08,128.49 L387.17,125.93 L387.25,126.58 L387.34,129.14 L387.43,129.80 L387.51,126.45 L387.60,128.97 L387.68,129.29 L387.77,128.38 L387.86,126.15 L387.94,126.34 L388.03,128.83 L388.11,131.81 L388.20,128.19 L388.29,131.22 L388.37,132.03 L388.46,127.42 L388.55,128.73 L388.63,132.33 L388.72,131.79 L388.80,131.43 L388.89,130.85 L388.98,132.15 L389.06,130.48 L389.15,135.68 L389.24,130.18 L389.32,129.21 L389.41,132.27 L389.49,134.32 L389.58,131.33 L389.67,132.05 L389.75,130.57 L389.84,132.07 L389.93,130.63 L390.01,130.69 L390.10,129.98 L390.18,131.45 L390.27,135.24 L390.36,132.28 L390.44,132.70 L390.53,135.91 L390.61,131.47 L390.70,130.93 L390.79,133.33 L390.87,130.63 L390.96,133.10 L391.05,134.41 L391.13,130.96 L391.22,131.86 L391.30,135.34 L391.39,131.08 L391.48,131.70 L391.56,133.16 L391.65,132.33 L391.74,131.52 L391.82,135.37 L391.91,132.00 L391.99,133.45 L392.08,132.33 L392.17,132.64 L392.25,130.89 L392.34,134.50 L392.42,132.42 L392.51,135.10 L392.60,131.34 L392.68,132.43 L392.77,133.95 L392.86,133.41 L392.94,132.25 L393.03,133.09 L393.11,131.31 L393.20,133.44 L393.29,129.31 L393.37,133.69 L393.46,135.56 L393.55,134.87 L393.63,134.83 L393.72,132.89 L393.80,134.33 L393.89,132.97 L393.98,133.49 L394.06,133.50 L394.15,129.61 L394.24,135.15 L394.32,134.45 L394.41,135.09 L394.49,132.33 L394.58,134.91 L394.67,134.62 L394.75,130.43 L394.84,131.19 L394.92,134.04 L395.01,132.93 L395.10,133.92 L395.18,132.94 L395.27,136.23 L395.36,130.95 L395.44,131.77 L395.53,132.35 L395.61,131.74 L395.70,132.94 L395.79,133.78 L395.87,131.73 L395.96,134.36 L396.05,135.81 L396.13,135.46 L396.22,136.86 L396.30,135.49 L396.39,133.67 L396.48,136.46 L396.56,134.79 L396.65,136.58 L396.73,133.37 L396.82,130.40 L396.91,131.83 L396.99,133.90 L397.08,134.46 L397.17,133.27 L397.25,135.13 L397.34,131.79 L397.42,132.46 L397.51,135.06 L397.60,133.60 L397.68,133.66 L397.77,135.67 L397.86,135.17 L397.94,132.24 L398.03,133.76 L398.11,130.81 L398.20,133.40 L398.29,134.01 L398.37,130.72 L398.46,135.79 L398.55,136.45 L398.63,134.12 L398.72,134.76 L398.80,135.64 L398.89,133.04 L398.98,134.90 L399.06,133.87 L399.15,130.91 L399.23,131.86 L399.32,132.36 L399.41,134.87 L399.49,133.36 L399.58,134.71 L399.67,132.45 L399.75,131.20 L399.84,136.33 L399.92,137.21 L400.01,133.71 L400.10,132.80 L400.18,134.92 L400.27,131.37 L400.36,132.74 L400.44,130.84 L400.53,133.78 L400.61,133.40 L400.70,132.38 L400.79,131.28 L400.87,129.23 L400.96,129.57 L401.04,132.01 L401.13,128.86 L401.22,130.62 L401.30,126.63 L401.39,127.12 L401.48,125.82 L401.56,125.40 L401.65,126.27 L401.73,121.21 L401.82,124.78 L401.91,123.99 L401.99,122.21 L402.08,121.60 L402.17,120.90 L402.25,123.03 L402.34,122.77 L402.42,122.10 L402.51,124.36 L402.60,126.31 L402.68,126.13 L402.77,126.33 L402.86,127.32 L402.94,126.97 L403.03,127.74 L403.11,126.28 L403.20,129.60 L403.29,132.11 L403.37,130.73 L403.46,130.66 L403.54,134.13 L403.63,133.27 L403.72,133.26 L403.80,133.78 L403.89,134.15 L403.98,133.04 L404.06,131.86 L404.15,135.81 L404.23,133.26 L404.32,132.02 L404.41,133.50 L404.49,135.06 L404.58,131.11 L404.67,135.28 L404.75,133.11 L404.84,136.37 L404.92,134.37 L405.01,133.22 L405.10,135.31 L405.18,135.36 L405.27,132.92 L405.35,133.82 L405.44,132.71 L405.53,134.91 L405.61,131.41 L405.70,133.29 L405.79,130.36 L405.87,134.50 L405.96,130.26 L406.04,132.05 L406.13,134.07 L406.22,133.16 L406.30,133.05 L406.39,132.28 L406.48,133.06 L406.56,131.14 L406.65,134.30 L406.73,135.05 L406.82,135.01 L406.91,133.82 L406.99,135.74 L407.08,134.62 L407.17,135.39 L407.25,134.56 L407.34,134.04 L407.42,132.87 L407.51,130.07 L407.60,135.03 L407.68,133.91 L407.77,137.09 L407.85,131.14 L407.94,135.41 L408.03,132.74 L408.11,134.19 L408.20,132.88 L408.29,134.76 L408.37,134.21 L408.46,135.60 L408.54,134.53 L408.63,135.05 L408.72,136.27 L408.80,135.15 L408.89,134.19 L408.98,136.28 L409.06,134.27 L409.15,135.08 L409.23,134.00 L409.32,133.51 L409.41,130.51 L409.49,135.60 L409.58,132.85 L409.66,135.70 L409.75,137.33 L409.84,132.67 L409.92,135.98 L410.01,134.55 L410.10,135.39 L410.18,132.95 L410.27,134.80 L410.35,135.02 L410.44,136.94 L410.53,138.03 L410.61,135.32 L410.70,134.33 L410.79,138.21 L410.87,134.76 L410.96,134.86 L411.04,135.12 L411.13,135.68 L411.22,136.07 L411.30,134.17 L411.39,134.89 L411.48,137.89 L411.56,137.49 L411.65,135.79 L411.73,135.56 L411.82,134.83 L411.91,136.72 L411.99,134.45 L412.08,135.43 L412.16,134.58 L412.25,134.36 L412.34,135.37 L412.42,135.34 L412.51,134.49 L412.60,135.28 L412.68,135.50 L412.77,134.72 L412.85,134.47 L412.94,135.26 L413.03,136.54 L413.11,137.16 L413.20,135.81 L413.29,135.16 L413.37,135.54 L413.46,138.45 L413.54,136.99 L413.63,134.24 L413.72,135.60 L413.80,134.91 L413.89,135.18 L413.97,133.24 L414.06,135.80 L414.15,133.77 L414.23,134.93 L414.32,138.09 L414.41,137.34 L414.49,134.59 L414.58,134.36 L414.66,134.57 L414.75,133.14 L414.84,134.51 L414.92,135.59 L415.01,134.46 L415.10,137.13 L415.18,135.89 L415.27,135.13 L415.35,138.47 L415.44,136.88 L415.53,135.89 L415.61,138.49 L415.70,137.65 L415.79,134.61 L415.87,136.09 L415.96,134.91 L416.04,133.39 L416.13,138.29 L416.22,137.65 L416.30,133.50 L416.39,136.07 L416.47,132.86 L416.56,136.84 L416.65,135.12 L416.73,134.73 L416.82,136.98 L416.91,135.08 L416.99,134.64 L417.08,136.33 L417.16,134.48 L417.25,136.18 L417.34,134.85 L417.42,136.03 L417.51,135.69 L417.60,135.88 L417.68,133.17 L417.77,137.41 L417.85,134.33 L417.94,137.15 L418.03,133.60 L418.11,134.03 L418.20,134.00 L418.28,136.07 L418.37,133.67 L418.46,134.88 L418.54,131.88 L418.63,133.46 L418.72,134.46 L418.80,133.92 L418.89,131.25 L418.97,134.73 L419.06,132.51 L419.15,136.79 L419.23,133.57 L419.32,137.17 L419.41,134.75 L419.49,134.41 L419.58,132.96 L419.66,133.46 L419.75,134.26 L419.84,130.64 L419.92,134.98 L420.01,131.71 L420.10,133.02 L420.18,129.39 L420.27,133.99 L420.35,134.38 L420.44,133.65 L420.53,133.66 L420.61,132.58 L420.70,133.32 L420.78,134.85 L420.87,132.36 L420.96,133.70 L421.04,133.99 L421.13,132.51 L421.22,133.17 L421.30,133.10 L421.39,131.99 L421.47,136.31 L421.56,131.99 L421.65,135.15 L421.73,134.14 L421.82,129.47 L421.91,132.83 L421.99,133.95 L422.08,133.58 L422.16,130.98 L422.25,132.66 L422.34,130.44 L422.42,130.64 L422.51,131.79 L422.59,132.38 L422.68,134.45 L422.77,132.54 L422.85,133.54 L422.94,130.13 L423.03,130.15 L423.11,131.10 L423.20,134.40 L423.28,129.74 L423.37,129.33 L423.46,131.53 L423.54,133.38 L423.63,129.12 L423.72,131.16 L423.80,129.55 L423.89,133.77 L423.97,132.68 L424.06,132.10 L424.15,131.65 L424.23,131.41 L424.32,132.00 L424.41,130.87 L424.49,130.56 L424.58,130.25 L424.66,131.97 L424.75,130.80 L424.84,133.33 L424.92,128.92 L425.01,132.94 L425.09,132.93 L425.18,133.99 L425.27,131.83 L425.35,130.01 L425.44,130.90 L425.53,134.01 L425.61,131.90 L425.70,131.78 L425.78,131.56 L425.87,132.37 L425.96,132.17 L426.04,130.22 L426.13,131.69 L426.22,134.12 L426.30,134.81 L426.39,132.51 L426.47,131.96 L426.56,134.79 L426.65,132.54 L426.73,131.09 L426.82,132.69 L426.90,133.95 L426.99,135.27 L427.08,132.27 L427.16,133.83 L427.25,132.57 L427.34,134.80 L427.42,133.52 L427.51,133.57 L427.59,131.75 L427.68,132.78 L427.77,132.81 L427.85,129.42 L427.94,134.64 L428.03,133.39 L428.11,133.13 L428.20,132.94 L428.28,133.55 L428.37,133.91 L428.46,131.65 L428.54,133.81 L428.63,133.83 L428.72,133.74 L428.80,131.53 L428.89,133.57 L428.97,131.91 L429.06,134.37 L429.15,135.84 L429.23,135.22 L429.32,133.46 L429.40,133.20 L429.49,133.18 L429.58,134.56 L429.66,133.07 L429.75,133.28 L429.84,130.38 L429.92,132.85 L430.01,132.97 L430.09,133.34 L430.18,135.96 L430.27,132.17 L430.35,132.23 L430.44,135.10 L430.53,132.77 L430.61,134.00 L430.70,134.52 L430.78,134.30 L430.87,133.15 L430.96,135.67 L431.04,136.55 L431.13,132.86 L431.21,133.96 L431.30,135.77 L431.39,134.09 L431.47,132.94 L431.56,133.80 L431.65,135.68 L431.73,133.00 L431.82,134.86 L431.90,135.06 L431.99,133.56 L432.08,135.37 L432.16,135.54 L432.25,136.04 L432.34,135.96 L432.42,132.41 L432.51,135.94 L432.59,135.50 L432.68,136.09 L432.77,133.42 L432.85,136.02 L432.94,135.25 L433.03,133.02 L433.11,136.61 L433.20,133.61 L433.28,133.28 L433.37,135.38 L433.46,133.92 L433.54,135.36 L433.63,134.48 L433.71,135.28 L433.80,136.08 L433.89,134.85 L433.97,136.19 L434.06,136.18 L434.15,133.72 L434.23,136.22 L434.32,135.89 L434.40,135.20 L434.49,136.66 L434.58,137.46 L434.66,136.17 L434.75,132.92 L434.84,135.74 L434.92,134.91 L435.01,134.73 L435.09,135.65 L435.18,134.68 L435.27,137.57 L435.35,135.60 L435.44,135.24 L435.52,136.38 L435.61,136.42 L435.70,137.00 L435.78,136.21 L435.87,135.25 L435.96,135.52 L436.04,132.18 L436.13,133.21 L436.21,136.89 L436.30,134.91 L436.39,138.05 L436.47,138.05 L436.56,133.61 L436.65,135.91 L436.73,139.29 L436.82,134.34 L436.90,136.08 L436.99,135.19 L437.08,135.19 L437.16,135.15 L437.25,135.55 L437.34,136.71 L437.42,134.44 L437.51,136.37 L437.59,134.62 L437.68,136.43 L437.77,136.14 L437.85,134.57 L437.94,135.92 L438.02,134.66 L438.11,134.52 L438.20,137.47 L438.28,133.13 L438.37,136.62 L438.46,136.85 L438.54,134.97 L438.63,137.44 L438.71,137.19 L438.80,134.00 L438.89,136.67 L438.97,136.60 L439.06,134.87 L439.15,136.79 L439.23,137.07 L439.32,134.94 L439.40,133.11 L439.49,136.61 L439.58,134.96 L439.66,133.56 L439.75,135.52 L439.83,132.63 L439.92,135.62 L440.01,138.31 L440.09,132.31 L440.18,136.83 L440.27,134.84 L440.35,135.60 L440.44,134.89 L440.52,137.16 L440.61,136.23 L440.70,135.13 L440.78,134.38 L440.87,135.68 L440.96,137.99 L441.04,134.57 L441.13,136.96 L441.21,136.86 L441.30,133.48 L441.39,138.01 L441.47,136.36 L441.56,139.68 L441.65,138.98 L441.73,136.11 L441.82,136.26 L441.90,135.04 L441.99,134.53 L442.08,137.70 L442.16,136.19 L442.25,135.99 L442.33,136.34 L442.42,137.60 L442.51,138.00 L442.59,136.64 L442.68,136.38 L442.77,136.83 L442.85,139.71 L442.94,133.69 L443.02,135.05 L443.11,137.44 L443.20,136.98 L443.28,138.57 L443.37,138.71 L443.46,139.70 L443.54,135.67 L443.63,137.74 L443.71,136.52 L443.80,138.30 L443.89,137.17 L443.97,138.21 L444.06,135.86 L444.14,137.20 L444.23,136.23 L444.32,136.61 L444.40,136.35 L444.49,135.53 L444.58,138.67 L444.66,137.49 L444.75,138.67 L444.83,135.65 L444.92,134.27 L445.01,136.19 L445.09,136.93 L445.18,138.32 L445.27,138.72 L445.35,138.98 L445.44,139.46 L445.52,138.30 L445.61,137.42 L445.70,136.16 L445.78,138.29 L445.87,136.58 L445.96,136.15 L446.04,138.19 L446.13,137.68 L446.21,138.62 L446.30,136.35 L446.39,139.11 L446.47,137.95 L446.56,137.20 L446.64,136.36 L446.73,135.91 L446.82,135.51 L446.90,139.55 L446.99,135.47 L447.08,138.46 L447.16,137.20 L447.25,136.74 L447.33,136.91 L447.42,137.47 L447.51,138.95 L447.59,138.47 L447.68,137.66 L447.77,135.69 L447.85,135.12 L447.94,140.43 L448.02,136.27 L448.11,135.48 L448.20,139.40 L448.28,135.61 L448.37,138.88 L448.45,139.17 L448.54,138.20 L448.63,139.25 L448.71,135.86 L448.80,136.12 L448.89,137.62 L448.97,137.92 L449.06,137.82 L449.14,138.63 L449.23,136.90 L449.32,134.90 L449.40,138.59 L449.49,137.69 L449.58,139.21 L449.66,141.05 L449.75,138.17 L449.83,138.90 L449.92,136.78 L450.01,139.39 L450.09,138.58 L450.18,138.46 L450.27,139.43 L450.35,136.48 L450.44,138.94 L450.52,138.79 L450.61,140.44 L450.70,135.54 L450.78,138.03 L450.87,141.33 L450.95,137.59 L451.04,137.55 L451.13,140.77 L451.21,141.82 L451.30,138.38 L451.39,137.19 L451.47,137.37 L451.56,137.66 L451.64,137.03 L451.73,137.09 L451.82,138.51 L451.90,138.33 L451.99,138.97 L452.08,138.32 L452.16,136.55 L452.25,139.37 L452.33,138.67 L452.42,137.48 L452.51,137.94 L452.59,138.80 L452.68,138.46 L452.76,138.17 L452.85,139.47 L452.94,139.90 L453.02,137.93 L453.11,138.36 L453.20,136.81 L453.28,138.16 L453.37,139.10 L453.45,139.67 L453.54,138.67 L453.63,138.32 L453.71,137.42 L453.80,138.77 L453.89,136.90 L453.97,138.66 L454.06,138.51 L454.14,137.19 L454.23,138.97 L454.32,138.20 L454.40,139.38 L454.49,137.83 L454.58,139.23 L454.66,140.78 L454.75,138.81 L454.83,139.69 L454.92,137.65 L455.01,138.07 L455.09,135.89 L455.18,138.38 L455.26,136.99 L455.35,138.78 L455.44,135.67 L455.52,137.40 L455.61,138.76 L455.70,139.21 L455.78,136.29 L455.87,138.07 L455.95,142.33 L456.04,139.81 L456.13,138.92 L456.21,134.97 L456.30,137.39 L456.39,139.46 L456.47,139.06 L456.56,139.38 L456.64,140.11 L456.73,138.89 L456.82,139.97 L456.90,136.21 L456.99,142.34 L457.07,138.36 L457.16,137.87 L457.25,140.94 L457.33,139.67 L457.42,140.20 L457.51,137.95 L457.59,139.24 L457.68,139.86 L457.76,137.23 L457.85,138.55 L457.94,138.52 L458.02,138.46 L458.11,137.89 L458.20,137.10 L458.28,139.52 L458.37,139.26 L458.45,140.56 L458.54,138.83 L458.63,137.98 L458.71,136.89 L458.80,139.08 L458.89,138.52 L458.97,141.83 L459.06,142.23 L459.14,141.23 L459.23,137.72 L459.32,137.03 L459.40,138.68 L459.49,137.76 L459.57,141.05 L459.66,139.21 L459.75,138.47 L459.83,139.04 L459.92,140.85 L460.01,137.74 L460.09,139.77 L460.18,137.22 L460.26,138.81 L460.35,138.17 L460.44,139.56 L460.52,139.35 L460.61,140.83 L460.70,140.11 L460.78,138.30 L460.87,137.29 L460.95,138.02 L461.04,138.57 L461.13,138.86 L461.21,138.12 L461.30,140.73 L461.38,140.53 L461.47,138.84 L461.56,138.53 L461.64,138.90 L461.73,139.18 L461.82,139.22 L461.90,136.98 L461.99,138.66 L462.07,136.63 L462.16,139.34 L462.25,140.25 L462.33,137.81 L462.42,139.55 L462.51,138.46 L462.59,138.35 L462.68,142.11 L462.76,140.60 L462.85,140.04 L462.94,138.75 L463.02,139.95 L463.11,139.11 L463.20,140.03 L463.28,138.13 L463.37,139.31 L463.45,138.86 L463.54,137.44 L463.63,141.81 L463.71,140.59 L463.80,138.34 L463.88,137.39 L463.97,138.45 L464.06,138.30 L464.14,138.63 L464.23,137.37 L464.32,138.34 L464.40,139.60 L464.49,140.10 L464.57,136.74 L464.66,139.53 L464.75,138.16 L464.83,138.09 L464.92,139.11 L465.01,138.61 L465.09,140.56 L465.18,140.58 L465.26,139.17 L465.35,138.70 L465.44,142.13 L465.52,142.25 L465.61,140.18 L465.69,139.43 L465.78,141.07 L465.87,141.70 L465.95,138.93 L466.04,142.22 L466.13,139.46 L466.21,141.23 L466.30,138.98 L466.38,139.81 L466.47,139.08 L466.56,139.77 L466.64,141.17 L466.73,138.48 L466.82,139.33 L466.90,140.53 L466.99,139.11 L467.07,142.65 L467.16,137.73 L467.25,143.37 L467.33,138.88 L467.42,141.19 L467.51,142.10 L467.59,140.58 L467.68,137.86 L467.76,139.38 L467.85,139.96 L467.94,140.67 L468.02,141.26 L468.11,141.47 L468.19,141.97 L468.28,138.56 L468.37,141.31 L468.45,137.46 L468.54,140.14 L468.63,138.43 L468.71,137.43 L468.80,141.25 L468.88,139.92 L468.97,141.37 L469.06,137.75 L469.14,138.27 L469.23,139.86 L469.32,139.07 L469.40,140.12 L469.49,139.14 L469.57,139.55 L469.66,138.43 L469.75,141.86 L469.83,139.61 L469.92,138.40 L470.00,141.03 L470.09,140.77 L470.18,140.40 L470.26,140.42 L470.35,139.56 L470.44,139.93 L470.52,137.01 L470.61,137.94 L470.69,138.41 L470.78,140.56 L470.87,141.88 L470.95,139.94 L471.04,139.80 L471.13,141.78 L471.21,139.69 L471.30,141.13 L471.38,140.82 L471.47,138.36 L471.56,140.68 L471.64,140.53 L471.73,138.63 L471.82,138.80 L471.90,138.47 L471.99,142.21 L472.07,143.26 L472.16,141.29 L472.25,142.51 L472.33,138.41 L472.42,142.30 L472.50,143.11 L472.59,142.61 L472.68,139.02 L472.76,141.88 L472.85,140.20 L472.94,141.89 L473.02,139.48 L473.11,140.41 L473.19,139.60 L473.28,141.08 L473.37,140.27 L473.45,141.99 L473.54,141.59 L473.63,141.03 L473.71,140.40 L473.80,140.04 L473.88,140.48 L473.97,141.53 L474.06,140.67 L474.14,140.91 L474.23,140.45 L474.31,140.41 L474.40,139.59 L474.49,137.89 L474.57,141.35 L474.66,141.34 L474.75,139.20 L474.83,143.25 L474.92,138.94 L475.00,141.99 L475.09,140.95 L475.18,141.05 L475.26,142.21 L475.35,141.91 L475.44,140.66 L475.52,139.15 L475.61,138.93 L475.69,140.92 L475.78,142.88 L475.87,141.91 L475.95,140.64 L476.04,141.15 L476.13,141.66 L476.21,143.12 L476.30,139.65 L476.38,141.74 L476.47,141.12 L476.56,139.68 L476.64,139.33 L476.73,142.54 L476.81,141.23 L476.90,140.48 L476.99,140.93 L477.07,142.17 L477.16,140.94 L477.25,143.06 L477.33,140.46 L477.42,139.73 L477.50,140.68 L477.59,139.54 L477.68,140.37 L477.76,142.58 L477.85,143.26 L477.94,141.77 L478.02,141.17 L478.11,139.63 L478.19,139.51 L478.28,141.44 L478.37,141.16 L478.45,140.13 L478.54,140.32 L478.62,143.13 L478.71,142.35 L478.80,141.05 L478.88,141.30 L478.97,142.77 L479.06,141.50 L479.14,141.34 L479.23,138.82 L479.31,138.67 L479.40,138.37 L479.49,137.89 L479.57,141.03 L479.66,141.51 L479.75,139.85 L479.83,141.69 L479.92,141.69 L480.00,140.98 L480.09,139.04 L480.18,143.11 L480.26,143.03 L480.35,140.31 L480.44,143.83 L480.52,141.20 L480.61,140.05 L480.69,140.58 L480.78,138.57 L480.87,140.68 L480.95,138.94 L481.04,142.76 L481.12,141.63 L481.21,139.26 L481.30,142.00 L481.38,138.82 L481.47,141.44 L481.56,141.89 L481.64,141.33 L481.73,139.68 L481.81,141.09 L481.90,141.00 L481.99,141.35 L482.07,143.34 L482.16,143.63 L482.25,143.48 L482.33,140.41 L482.42,140.26 L482.50,141.34 L482.59,141.92 L482.68,138.46 L482.76,140.48 L482.85,143.83 L482.93,139.62 L483.02,140.33 L483.11,140.38 L483.19,142.05 L483.28,141.29 L483.37,140.94 L483.45,139.29 L483.54,142.25 L483.62,141.41 L483.71,140.49 L483.80,141.46 L483.88,142.53 L483.97,139.39 L484.06,139.30 L484.14,140.04 L484.23,140.25 L484.31,137.94 L484.40,140.64 L484.49,143.03 L484.57,141.03 L484.66,142.91 L484.75,137.98 L484.83,141.36 L484.92,143.45 L485.00,143.71 L485.09,140.85 L485.18,140.40 L485.26,142.09 L485.35,139.88 L485.43,141.06 L485.52,139.26 L485.61,141.70 L485.69,141.60 L485.78,143.85 L485.87,142.10 L485.95,140.70 L486.04,141.50 L486.12,139.85 L486.21,141.69 L486.30,141.35 L486.38,142.24 L486.47,142.95 L486.56,138.91 L486.64,142.13 L486.73,142.71 L486.81,140.04 L486.90,144.33 L486.99,140.71 L487.07,145.12 L487.16,142.81 L487.24,143.07 L487.33,142.11 L487.42,143.14 L487.50,140.33 L487.59,140.65 L487.68,139.06 L487.76,142.53 L487.85,140.81 L487.93,142.83 L488.02,142.63 L488.11,139.96 L488.19,142.79 L488.28,142.18 L488.37,142.11 L488.45,142.48 L488.54,141.81 L488.62,141.87 L488.71,143.32 L488.80,140.50 L488.88,140.22 L488.97,140.84 L489.06,143.32 L489.14,141.46 L489.23,144.55 L489.31,138.42 L489.40,140.95 L489.49,141.32 L489.57,142.32 L489.66,143.79 L489.74,141.70 L489.83,140.57 L489.92,143.13 L490.00,144.11 L490.09,138.50 L490.18,142.79 L490.26,142.41 L490.35,140.87 L490.43,141.37 L490.52,142.43 L490.61,142.07 L490.69,141.70 L490.78,140.45 L490.87,142.45 L490.95,141.16 L491.04,142.19 L491.12,141.28 L491.21,142.36 L491.30,143.12 L491.38,142.43 L491.47,143.01 L491.55,140.22 L491.64,142.76 L491.73,142.53 L491.81,141.29 L491.90,141.93 L491.99,138.68 L492.07,142.27 L492.16,141.61 L492.24,139.08 L492.33,142.88 L492.42,141.32 L492.50,142.58 L492.59,141.88 L492.68,142.88 L492.76,142.34 L492.85,141.84 L492.93,142.92 L493.02,143.39 L493.11,139.16 L493.19,142.30 L493.28,141.46 L493.37,140.77 L493.45,144.07 L493.54,143.61 L493.62,140.89 L493.71,140.79 L493.80,143.43 L493.88,141.47 L493.97,141.89 L494.05,139.65 L494.14,142.16 L494.23,143.90 L494.31,141.74 L494.40,142.21 L494.49,144.75 L494.57,143.58 L494.66,144.33 L494.74,143.26 L494.83,144.04 L494.92,140.15 L495.00,141.31 L495.09,140.18 L495.18,145.46 L495.26,142.70 L495.35,142.29 L495.43,141.44 L495.52,141.09 L495.61,139.03 L495.69,145.53 L495.78,142.38 L495.86,142.59 L495.95,140.60 L496.04,142.43 L496.12,143.04 L496.21,142.42 L496.30,143.38 L496.38,141.41 L496.47,143.00 L496.55,143.78 L496.64,143.33 L496.73,143.10 L496.81,142.45 L496.90,141.26 L496.99,143.35 L497.07,142.08 L497.16,141.34 L497.24,143.66 L497.33,140.46 L497.42,141.89 L497.50,143.70 L497.59,143.94 L497.68,142.16 L497.76,142.76 L497.85,143.41 L497.93,142.59 L498.02,141.65 L498.11,143.29 L498.19,142.93 L498.28,142.86 L498.36,144.23 L498.45,143.15 L498.54,142.12 L498.62,142.97 L498.71,145.38 L498.80,141.80 L498.88,142.42 L498.97,141.70 L499.05,143.27 L499.14,141.10 L499.23,143.41 L499.31,143.84 L499.40,141.78 L499.49,141.68 L499.57,140.83 L499.66,142.90 L499.74,141.34 L499.83,142.02 L499.92,142.30 L500.00,141.95 L500.09,144.01 L500.17,145.04 L500.26,140.03 L500.35,141.81 L500.43,143.25 L500.52,141.51 L500.61,142.21 L500.69,143.22 L500.78,144.82 L500.86,144.53 L500.95,142.57 L501.04,143.15 L501.12,142.49 L501.21,142.75 L501.30,141.42 L501.38,140.62 L501.47,142.51 L501.55,144.33 L501.64,144.05 L501.73,140.52 L501.81,142.78 L501.90,142.20 L501.99,143.44 L502.07,141.58 L502.16,144.29 L502.24,142.79 L502.33,143.85 L502.42,144.26 L502.50,140.49 L502.59,142.81 L502.67,145.13 L502.76,143.14 L502.85,144.52 L502.93,143.69 L503.02,142.47 L503.11,143.52 L503.19,144.55 L503.28,144.88 L503.36,145.10 L503.45,141.69 L503.54,144.28 L503.62,141.34 L503.71,143.02 L503.80,142.92 L503.88,144.04 L503.97,143.63 L504.05,144.88 L504.14,142.41 L504.23,144.36 L504.31,143.76 L504.40,143.25 L504.48,141.65 L504.57,144.02 L504.66,143.69 L504.74,144.32 L504.83,143.23 L504.92,142.95 L505.00,143.81 L505.09,143.92 L505.17,144.22 L505.26,145.84 L505.35,142.50 L505.43,146.00 L505.52,139.95 L505.61,144.62 L505.69,142.26 L505.78,146.02 L505.86,142.18 L505.95,144.78 L506.04,142.06 L506.12,141.88 L506.21,144.46 L506.30,144.55 L506.38,142.48 L506.47,146.60 L506.55,142.99 L506.64,145.50 L506.73,142.09 L506.81,142.16 L506.90,143.57 L506.98,142.11 L507.07,144.06 L507.16,140.62 L507.24,143.71 L507.33,142.74 L507.42,142.22 L507.50,143.78 L507.59,143.21 L507.67,142.91 L507.76,144.59 L507.85,143.91 L507.93,144.03 L508.02,145.29 L508.11,143.45 L508.19,144.66 L508.28,143.01 L508.36,144.37 L508.45,144.27 L508.54,142.86 L508.62,141.59 L508.71,141.90 L508.79,142.36 L508.88,144.34 L508.97,143.44 L509.05,143.23 L509.14,144.26 L509.23,144.60 L509.31,145.48 L509.40,142.86 L509.48,144.38 L509.57,144.59 L509.66,142.42 L509.74,143.84 L509.83,142.48 L509.92,143.39 L510.00,144.25 L510.09,141.47 L510.17,142.56 L510.26,142.66 L510.35,143.85 L510.43,142.76 L510.52,144.23 L510.61,142.62 L510.69,143.07 L510.78,144.55 L510.86,144.18 L510.95,143.97 L511.04,143.73 L511.12,145.10 L511.21,145.59 L511.29,143.31 L511.38,142.86 L511.47,142.45 L511.55,146.09 L511.64,142.65 L511.73,142.10 L511.81,144.19 L511.90,145.22 L511.98,142.24 L512.07,143.70 L512.16,141.99 L512.24,142.97 L512.33,146.01 L512.42,144.11 L512.50,143.56 L512.59,144.00 L512.67,144.28 L512.76,143.78 L512.85,142.37 L512.93,142.39 L513.02,146.56 L513.10,142.95 L513.19,145.51 L513.28,143.02 L513.36,145.66 L513.45,144.88 L513.54,143.70 L513.62,146.61 L513.71,142.78 L513.79,143.70 L513.88,142.89 L513.97,143.00 L514.05,143.55 L514.14,142.78 L514.23,143.61 L514.31,146.10 L514.40,141.79 L514.48,142.42 L514.57,142.82 L514.66,143.46 L514.74,145.39 L514.83,145.02 L514.92,144.71 L515.00,144.36 L515.09,147.22 L515.17,142.65 L515.26,142.62 L515.35,144.09 L515.43,144.40 L515.52,143.83 L515.60,143.05 L515.69,142.45 L515.78,143.80 L515.86,143.25 L515.95,143.55 L516.04,142.78 L516.12,145.93 L516.21,144.78 L516.29,146.60 L516.38,143.54 L516.47,144.29 L516.55,143.90 L516.64,144.26 L516.73,143.90 L516.81,144.03 L516.90,141.70 L516.98,143.90 L517.07,145.16 L517.16,141.75 L517.24,143.83 L517.33,145.02 L517.41,145.93 L517.50,144.19 L517.59,144.89 L517.67,146.58 L517.76,146.00 L517.85,143.74 L517.93,143.55 L518.02,145.66 L518.10,144.63 L518.19,143.65 L518.28,144.06 L518.36,144.78 L518.45,144.12 L518.54,144.05 L518.62,144.08 L518.71,142.47 L518.79,146.64 L518.88,145.98 L518.97,146.37 L519.05,144.25 L519.14,144.59 L519.23,145.18 L519.31,145.50 L519.40,142.10 L519.48,144.91 L519.57,143.18 L519.66,144.38 L519.74,143.62 L519.83,146.68 L519.91,145.18 L520.00,144.46 L520.09,146.30 L520.17,144.42 L520.26,143.59 L520.35,144.29 L520.43,144.06 L520.52,144.60 L520.60,145.63 L520.69,144.40 L520.78,144.48 L520.86,145.87 L520.95,144.94 L521.04,145.80 L521.12,144.76 L521.21,142.92 L521.29,143.16 L521.38,142.48 L521.47,146.08 L521.55,145.15 L521.64,144.02 L521.72,143.37 L521.81,145.11 L521.90,144.48 L521.98,145.07 L522.07,143.58 L522.16,143.25 L522.24,146.69 L522.33,143.47 L522.41,144.66 L522.50,146.41 L522.59,142.36 L522.67,145.61 L522.76,144.81 L522.85,144.54 L522.93,145.08 L523.02,143.23 L523.10,141.91 L523.19,147.17 L523.28,144.40 L523.36,145.90 L523.45,146.19 L523.54,145.15 L523.62,145.37 L523.71,145.70 L523.79,146.81 L523.88,145.44 L523.97,146.42 L524.05,144.45 L524.14,144.29 L524.22,144.95 L524.31,145.35 L524.40,145.53 L524.48,147.34 L524.57,145.93 L524.66,144.96 L524.74,147.41 L524.83,145.31 L524.91,145.35 L525.00,145.53 L525.09,144.49 L525.17,143.53 L525.26,145.09 L525.35,144.54 L525.43,143.84 L525.52,145.10 L525.60,144.70 L525.69,144.21 L525.78,142.71 L525.86,144.76 L525.95,147.21 L526.03,146.11 L526.12,146.36 L526.21,144.97 L526.29,146.34 L526.38,144.16 L526.47,144.44 L526.55,145.68 L526.64,143.23 L526.72,145.11 L526.81,145.43 L526.90,147.19 L526.98,144.18 L527.07,145.60 L527.16,144.25 L527.24,144.39 L527.33,141.83 L527.41,143.91 L527.50,146.56 L527.59,145.76 L527.67,145.32 L527.76,148.24 L527.85,145.81 L527.93,143.58 L528.02,144.89 L528.10,145.08 L528.19,147.19 L528.28,144.03 L528.36,145.71 L528.45,146.41 L528.53,144.17 L528.62,145.31 L528.71,142.67 L528.79,145.33 L528.88,142.44 L528.97,144.74 L529.05,147.40 L529.14,145.75 L529.22,145.31 L529.31,145.44 L529.40,147.97 L529.48,145.96 L529.57,146.58 L529.66,144.73 L529.74,144.74 L529.83,143.98 L529.91,145.08 L530.00,144.43" fill="none" stroke="#fa1212" stroke-width="1.2" stroke-linejoin="round" clip-path="url(#cb)"/>
<line x1="352.72" y1="193.0" x2="352.72" y2="189.50" stroke="#d47fd4" stroke-width="1.1"/>
<line x1="386.62" y1="193.0" x2="386.62" y2="182.00" stroke="#d47fd4" stroke-width="1.1"/>
<line x1="402.14" y1="193.0" x2="402.14" y2="157.30" stroke="#d47fd4" stroke-width="1.1"/>
<line x1="406.73" y1="193.0" x2="406.73" y2="189.50" stroke="#d47fd4" stroke-width="1.1"/>
<line x1="423.97" y1="193.0" x2="423.97" y2="185.30" stroke="#d47fd4" stroke-width="1.1"/>
<line x1="453.57" y1="193.0" x2="453.57" y2="189.50" stroke="#d47fd4" stroke-width="1.1"/>
<line x1="463.91" y1="193.0" x2="463.91" y2="182.30" stroke="#d47fd4" stroke-width="1.1"/>
<line x1="480.00" y1="193.0" x2="480.00" y2="178.30" stroke="#d47fd4" stroke-width="1.1"/>
<line x1="512.76" y1="193.0" x2="512.76" y2="189.50" stroke="#d47fd4" stroke-width="1.1"/>
<line x1="314.5" y1="61.0" x2="530.0" y2="61.0" stroke="#111" stroke-width="1.1"/>
<line x1="314.5" y1="104.8" x2="530.0" y2="104.8" stroke="#111" stroke-width="1.1"/>
<line x1="314.5" y1="148.4" x2="530.0" y2="148.4" stroke="#111" stroke-width="1.1"/>
<rect x="314.5" y="17.3" width="215.5" height="175.7" fill="none" stroke="#111" stroke-width="1.3"/>
<line x1="328.87" y1="193.0" x2="328.87" y2="196.2" stroke="#111" stroke-width="1"/>
<text x="328.9" y="204" font-size="6.8" fill="#111" stroke="#111" stroke-width="0.25" text-anchor="middle" >10</text>
<line x1="343.23" y1="193.0" x2="343.23" y2="195.0" stroke="#111" stroke-width="1"/>
<line x1="357.60" y1="193.0" x2="357.60" y2="196.2" stroke="#111" stroke-width="1"/>
<text x="357.6" y="204" font-size="6.8" fill="#111" stroke="#111" stroke-width="0.25" text-anchor="middle" >20</text>
<line x1="371.97" y1="193.0" x2="371.97" y2="195.0" stroke="#111" stroke-width="1"/>
<line x1="386.33" y1="193.0" x2="386.33" y2="196.2" stroke="#111" stroke-width="1"/>
<text x="386.3" y="204" font-size="6.8" fill="#111" stroke="#111" stroke-width="0.25" text-anchor="middle" >30</text>
<line x1="400.70" y1="193.0" x2="400.70" y2="195.0" stroke="#111" stroke-width="1"/>
<line x1="415.07" y1="193.0" x2="415.07" y2="196.2" stroke="#111" stroke-width="1"/>
<text x="415.1" y="204" font-size="6.8" fill="#111" stroke="#111" stroke-width="0.25" text-anchor="middle" >40</text>
<line x1="429.43" y1="193.0" x2="429.43" y2="195.0" stroke="#111" stroke-width="1"/>
<line x1="443.80" y1="193.0" x2="443.80" y2="196.2" stroke="#111" stroke-width="1"/>
<text x="443.8" y="204" font-size="6.8" fill="#111" stroke="#111" stroke-width="0.25" text-anchor="middle" >50</text>
<line x1="458.17" y1="193.0" x2="458.17" y2="195.0" stroke="#111" stroke-width="1"/>
<line x1="472.53" y1="193.0" x2="472.53" y2="196.2" stroke="#111" stroke-width="1"/>
<text x="472.5" y="204" font-size="6.8" fill="#111" stroke="#111" stroke-width="0.25" text-anchor="middle" >60</text>
<line x1="486.90" y1="193.0" x2="486.90" y2="195.0" stroke="#111" stroke-width="1"/>
<line x1="501.27" y1="193.0" x2="501.27" y2="196.2" stroke="#111" stroke-width="1"/>
<text x="501.3" y="204" font-size="6.8" fill="#111" stroke="#111" stroke-width="0.25" text-anchor="middle" >70</text>
<line x1="515.63" y1="193.0" x2="515.63" y2="195.0" stroke="#111" stroke-width="1"/>
<line x1="530.00" y1="193.0" x2="530.00" y2="196.2" stroke="#111" stroke-width="1"/>
<text x="530" y="204" font-size="6.8" fill="#111" stroke="#111" stroke-width="0.25" text-anchor="middle" >80</text>
<text x="422.6" y="215.4" font-size="9.4" fill="#111" stroke="#111" stroke-width="0.25" text-anchor="middle" >2θ (degree)</text>
<text transform="translate(304.3,104.6) rotate(-90)" font-size="9.3" fill="#111" stroke="#111" stroke-width="0.25" text-anchor="middle">Intensity (a.u.)</text>
<text x="526.8" y="29.1" font-size="9.1" fill="#12ae38" stroke="#12ae38" stroke-width="0.25" text-anchor="end" >WSC-Fe/N-1000°C</text>
<text x="523.4" y="72.2" font-size="9.0" fill="#0e80c6" stroke="#0e80c6" stroke-width="0.25" text-anchor="end" >WSC-Fe/N-900°C</text>
<text x="523.2" y="116.6" font-size="9.0" fill="#fa1212" stroke="#fa1212" stroke-width="0.25" text-anchor="end" >WSC-Fe/N-800°C</text>
<text x="529" y="159.2" font-size="9.0" fill="#d486d6" stroke="#d486d6" stroke-width="0.3" text-anchor="end">Fe<tspan font-size="6" dy="2">3</tspan><tspan dy="-2">O</tspan><tspan font-size="6" dy="2">4</tspan><tspan dy="-2"> PDF#19-0629</tspan></text>
<text x="294.3" y="22.6" font-size="20" fill="#000" stroke="#000" stroke-width="0.3" style="font-family:&quot;Liberation Serif&quot;,serif;font-weight:bold">b</text>
<rect x="45.8" y="230.9" width="214.0" height="177.79999999999998" fill="none" stroke="#111" stroke-width="1.6"/>
<line x1="43.8" y1="408.70" x2="45.8" y2="408.70" stroke="#111" stroke-width="1"/>
<line x1="42.8" y1="399.80" x2="45.8" y2="399.80" stroke="#111" stroke-width="1"/>
<text x="40" y="402.7" font-size="8.2" fill="#111" stroke="#111" stroke-width="0.25" text-anchor="end" >0</text>
<line x1="43.8" y1="390.90" x2="45.8" y2="390.90" stroke="#111" stroke-width="1"/>
<line x1="42.8" y1="382.00" x2="45.8" y2="382.00" stroke="#111" stroke-width="1"/>
<text x="40" y="384.9" font-size="8.2" fill="#111" stroke="#111" stroke-width="0.25" text-anchor="end" >200</text>
<line x1="43.8" y1="373.10" x2="45.8" y2="373.10" stroke="#111" stroke-width="1"/>
<line x1="42.8" y1="364.20" x2="45.8" y2="364.20" stroke="#111" stroke-width="1"/>
<text x="40" y="367.1" font-size="8.2" fill="#111" stroke="#111" stroke-width="0.25" text-anchor="end" >400</text>
<line x1="43.8" y1="355.30" x2="45.8" y2="355.30" stroke="#111" stroke-width="1"/>
<line x1="42.8" y1="346.40" x2="45.8" y2="346.40" stroke="#111" stroke-width="1"/>
<text x="40" y="349.3" font-size="8.2" fill="#111" stroke="#111" stroke-width="0.25" text-anchor="end" >600</text>
<line x1="43.8" y1="337.50" x2="45.8" y2="337.50" stroke="#111" stroke-width="1"/>
<line x1="42.8" y1="328.60" x2="45.8" y2="328.60" stroke="#111" stroke-width="1"/>
<text x="40" y="331.5" font-size="8.2" fill="#111" stroke="#111" stroke-width="0.25" text-anchor="end" >800</text>
<line x1="43.8" y1="319.70" x2="45.8" y2="319.70" stroke="#111" stroke-width="1"/>
<line x1="42.8" y1="310.80" x2="45.8" y2="310.80" stroke="#111" stroke-width="1"/>
<text x="40" y="313.7" font-size="8.2" fill="#111" stroke="#111" stroke-width="0.25" text-anchor="end" >1000</text>
<line x1="43.8" y1="301.90" x2="45.8" y2="301.90" stroke="#111" stroke-width="1"/>
<line x1="42.8" y1="293.00" x2="45.8" y2="293.00" stroke="#111" stroke-width="1"/>
<text x="40" y="295.9" font-size="8.2" fill="#111" stroke="#111" stroke-width="0.25" text-anchor="end" >1200</text>
<line x1="43.8" y1="284.10" x2="45.8" y2="284.10" stroke="#111" stroke-width="1"/>
<line x1="42.8" y1="275.20" x2="45.8" y2="275.20" stroke="#111" stroke-width="1"/>
<text x="40" y="278.1" font-size="8.2" fill="#111" stroke="#111" stroke-width="0.25" text-anchor="end" >1400</text>
<line x1="43.8" y1="266.30" x2="45.8" y2="266.30" stroke="#111" stroke-width="1"/>
<line x1="42.8" y1="257.40" x2="45.8" y2="257.40" stroke="#111" stroke-width="1"/>
<text x="40" y="260.3" font-size="8.2" fill="#111" stroke="#111" stroke-width="0.25" text-anchor="end" >1600</text>
<line x1="43.8" y1="248.50" x2="45.8" y2="248.50" stroke="#111" stroke-width="1"/>
<line x1="42.8" y1="239.60" x2="45.8" y2="239.60" stroke="#111" stroke-width="1"/>
<text x="40" y="242.5" font-size="8.2" fill="#111" stroke="#111" stroke-width="0.25" text-anchor="end" >1800</text>
<line x1="43.8" y1="230.70" x2="45.8" y2="230.70" stroke="#111" stroke-width="1"/>
<line x1="45.78" y1="408.7" x2="45.78" y2="410.7" stroke="#111" stroke-width="1"/>
<line x1="63.60" y1="408.7" x2="63.60" y2="411.7" stroke="#111" stroke-width="1"/>
<text x="63.6" y="422.3" font-size="8.2" fill="#111" stroke="#111" stroke-width="0.25" text-anchor="middle" >0.0</text>
<line x1="81.42" y1="408.7" x2="81.42" y2="410.7" stroke="#111" stroke-width="1"/>
<line x1="99.24" y1="408.7" x2="99.24" y2="411.7" stroke="#111" stroke-width="1"/>
<text x="99.2" y="422.3" font-size="8.2" fill="#111" stroke="#111" stroke-width="0.25" text-anchor="middle" >0.2</text>
<line x1="117.06" y1="408.7" x2="117.06" y2="410.7" stroke="#111" stroke-width="1"/>
<line x1="134.88" y1="408.7" x2="134.88" y2="411.7" stroke="#111" stroke-width="1"/>
<text x="134.9" y="422.3" font-size="8.2" fill="#111" stroke="#111" stroke-width="0.25" text-anchor="middle" >0.4</text>
<line x1="152.70" y1="408.7" x2="152.70" y2="410.7" stroke="#111" stroke-width="1"/>
<line x1="170.52" y1="408.7" x2="170.52" y2="411.7" stroke="#111" stroke-width="1"/>
<text x="170.5" y="422.3" font-size="8.2" fill="#111" stroke="#111" stroke-width="0.25" text-anchor="middle" >0.6</text>
<line x1="188.34" y1="408.7" x2="188.34" y2="410.7" stroke="#111" stroke-width="1"/>
<line x1="206.16" y1="408.7" x2="206.16" y2="411.7" stroke="#111" stroke-width="1"/>
<text x="206.2" y="422.3" font-size="8.2" fill="#111" stroke="#111" stroke-width="0.25" text-anchor="middle" >0.8</text>
<line x1="223.98" y1="408.7" x2="223.98" y2="410.7" stroke="#111" stroke-width="1"/>
<line x1="241.80" y1="408.7" x2="241.80" y2="411.7" stroke="#111" stroke-width="1"/>
<text x="241.8" y="422.3" font-size="8.2" fill="#111" stroke="#111" stroke-width="0.25" text-anchor="middle" >1.0</text>
<line x1="259.62" y1="408.7" x2="259.62" y2="410.7" stroke="#111" stroke-width="1"/>
<text x="152.75" y="439.4" font-size="10.6" fill="#111" stroke="#111" stroke-width="0.25" text-anchor="middle">Relative Pressure (P/P<tspan font-size="7" dy="2.2">0</tspan><tspan dy="-2.2">)</tspan></text>
<text transform="translate(15.1,319.8) rotate(-90)" font-size="11" fill="#111" stroke="#111" stroke-width="0.25" text-anchor="middle">Quantity Adsorbed (cm<tspan font-size="7" dy="-4">3</tspan><tspan dy="4"> g</tspan><tspan font-size="7" dy="-4">-1</tspan><tspan dy="4">)</tspan></text>
<text x="22" y="226.2" font-size="21" fill="#000" stroke="#000" stroke-width="0.3" style="font-family:&quot;Liberation Serif&quot;,serif;font-weight:bold">c</text>
<path d="M240.02,313.54 L237.34,327.01 L232.00,333.90 L223.98,336.87 L215.96,338.87 L207.94,340.68 L199.92,342.18 L191.90,343.15 L183.88,343.73 L175.87,344.30 L167.85,344.88 L159.83,345.46 L151.81,346.05 L143.79,346.64" fill="none" stroke="#ef3b3b" stroke-width="1.1" stroke-linejoin="round"/>
<circle cx="240.02" cy="313.54" r="1.8" fill="#fff" stroke="#ef3b3b" stroke-width="1.05"/><circle cx="237.34" cy="327.01" r="1.8" fill="#fff" stroke="#ef3b3b" stroke-width="1.05"/><circle cx="232.00" cy="333.90" r="1.8" fill="#fff" stroke="#ef3b3b" stroke-width="1.05"/><circle cx="223.98" cy="336.87" r="1.8" fill="#fff" stroke="#ef3b3b" stroke-width="1.05"/><circle cx="215.96" cy="338.87" r="1.8" fill="#fff" stroke="#ef3b3b" stroke-width="1.05"/><circle cx="207.94" cy="340.68" r="1.8" fill="#fff" stroke="#ef3b3b" stroke-width="1.05"/><circle cx="199.92" cy="342.18" r="1.8" fill="#fff" stroke="#ef3b3b" stroke-width="1.05"/><circle cx="191.90" cy="343.15" r="1.8" fill="#fff" stroke="#ef3b3b" stroke-width="1.05"/><circle cx="183.88" cy="343.73" r="1.8" fill="#fff" stroke="#ef3b3b" stroke-width="1.05"/><circle cx="175.87" cy="344.30" r="1.8" fill="#fff" stroke="#ef3b3b" stroke-width="1.05"/><circle cx="167.85" cy="344.88" r="1.8" fill="#fff" stroke="#ef3b3b" stroke-width="1.05"/><circle cx="159.83" cy="345.46" r="1.8" fill="#fff" stroke="#ef3b3b" stroke-width="1.05"/><circle cx="151.81" cy="346.05" r="1.8" fill="#fff" stroke="#ef3b3b" stroke-width="1.05"/><circle cx="143.79" cy="346.64" r="1.8" fill="#fff" stroke="#ef3b3b" stroke-width="1.05"/>
<path d="M63.60,397.13 L63.64,394.28 L63.69,390.01 L63.78,386.15 L63.96,378.44 L64.31,375.10 L65.03,370.97 L65.74,369.39 L66.81,367.67 L68.06,366.43 L69.84,365.06 L75.72,361.72 L81.60,358.78 L87.48,356.49 L93.36,354.67 L99.24,352.93 L105.12,351.78 L111.00,350.62 L116.88,349.46 L122.76,348.74 L128.64,348.04 L134.52,347.33 L140.40,346.89 L146.28,346.45 L152.17,346.02 L158.05,345.59 L163.93,345.17 L169.81,344.74 L175.69,344.32 L181.57,343.89 L187.45,343.47 L193.33,343.05 L199.21,342.32 L205.09,341.31 L210.97,340.31 L216.85,339.38 L222.73,338.56 L228.61,336.97 L234.49,333.88 L236.45,332.34 L238.24,324.92 L240.02,313.54" fill="none" stroke="#ef3b3b" stroke-width="1.35" stroke-linejoin="round"/>
<circle cx="63.60" cy="397.13" r="1.8" fill="#fff" stroke="#ef3b3b" stroke-width="1.1"/><circle cx="63.64" cy="394.28" r="1.8" fill="#fff" stroke="#ef3b3b" stroke-width="1.1"/><circle cx="63.69" cy="390.01" r="1.8" fill="#fff" stroke="#ef3b3b" stroke-width="1.1"/><circle cx="63.78" cy="386.15" r="1.8" fill="#fff" stroke="#ef3b3b" stroke-width="1.1"/><circle cx="63.96" cy="378.44" r="1.8" fill="#fff" stroke="#ef3b3b" stroke-width="1.1"/><circle cx="64.31" cy="375.10" r="1.8" fill="#fff" stroke="#ef3b3b" stroke-width="1.1"/><circle cx="65.03" cy="370.97" r="1.8" fill="#fff" stroke="#ef3b3b" stroke-width="1.1"/><circle cx="65.74" cy="369.39" r="1.8" fill="#fff" stroke="#ef3b3b" stroke-width="1.1"/><circle cx="66.81" cy="367.67" r="1.8" fill="#fff" stroke="#ef3b3b" stroke-width="1.1"/><circle cx="68.06" cy="366.43" r="1.8" fill="#fff" stroke="#ef3b3b" stroke-width="1.1"/><circle cx="69.84" cy="365.06" r="1.8" fill="#fff" stroke="#ef3b3b" stroke-width="1.1"/><circle cx="75.72" cy="361.72" r="1.8" fill="#fff" stroke="#ef3b3b" stroke-width="1.1"/><circle cx="81.60" cy="358.78" r="1.8" fill="#fff" stroke="#ef3b3b" stroke-width="1.1"/><circle cx="87.48" cy="356.49" r="1.8" fill="#fff" stroke="#ef3b3b" stroke-width="1.1"/><circle cx="93.36" cy="354.67" r="1.8" fill="#fff" stroke="#ef3b3b" stroke-width="1.1"/><circle cx="99.24" cy="352.93" r="1.8" fill="#fff" stroke="#ef3b3b" stroke-width="1.1"/><circle cx="105.12" cy="351.78" r="1.8" fill="#fff" stroke="#ef3b3b" stroke-width="1.1"/><circle cx="111.00" cy="350.62" r="1.8" fill="#fff" stroke="#ef3b3b" stroke-width="1.1"/><circle cx="116.88" cy="349.46" r="1.8" fill="#fff" stroke="#ef3b3b" stroke-width="1.1"/><circle cx="122.76" cy="348.74" r="1.8" fill="#fff" stroke="#ef3b3b" stroke-width="1.1"/><circle cx="128.64" cy="348.04" r="1.8" fill="#fff" stroke="#ef3b3b" stroke-width="1.1"/><circle cx="134.52" cy="347.33" r="1.8" fill="#fff" stroke="#ef3b3b" stroke-width="1.1"/><circle cx="140.40" cy="346.89" r="1.8" fill="#fff" stroke="#ef3b3b" stroke-width="1.1"/><circle cx="146.28" cy="346.45" r="1.8" fill="#fff" stroke="#ef3b3b" stroke-width="1.1"/><circle cx="152.17" cy="346.02" r="1.8" fill="#fff" stroke="#ef3b3b" stroke-width="1.1"/><circle cx="158.05" cy="345.59" r="1.8" fill="#fff" stroke="#ef3b3b" stroke-width="1.1"/><circle cx="163.93" cy="345.17" r="1.8" fill="#fff" stroke="#ef3b3b" stroke-width="1.1"/><circle cx="169.81" cy="344.74" r="1.8" fill="#fff" stroke="#ef3b3b" stroke-width="1.1"/><circle cx="175.69" cy="344.32" r="1.8" fill="#fff" stroke="#ef3b3b" stroke-width="1.1"/><circle cx="181.57" cy="343.89" r="1.8" fill="#fff" stroke="#ef3b3b" stroke-width="1.1"/><circle cx="187.45" cy="343.47" r="1.8" fill="#fff" stroke="#ef3b3b" stroke-width="1.1"/><circle cx="193.33" cy="343.05" r="1.8" fill="#fff" stroke="#ef3b3b" stroke-width="1.1"/><circle cx="199.21" cy="342.32" r="1.8" fill="#fff" stroke="#ef3b3b" stroke-width="1.1"/><circle cx="205.09" cy="341.31" r="1.8" fill="#fff" stroke="#ef3b3b" stroke-width="1.1"/><circle cx="210.97" cy="340.31" r="1.8" fill="#fff" stroke="#ef3b3b" stroke-width="1.1"/><circle cx="216.85" cy="339.38" r="1.8" fill="#fff" stroke="#ef3b3b" stroke-width="1.1"/><circle cx="222.73" cy="338.56" r="1.8" fill="#fff" stroke="#ef3b3b" stroke-width="1.1"/><circle cx="228.61" cy="336.97" r="1.8" fill="#fff" stroke="#ef3b3b" stroke-width="1.1"/><circle cx="234.49" cy="333.88" r="1.8" fill="#fff" stroke="#ef3b3b" stroke-width="1.1"/><circle cx="236.45" cy="332.34" r="1.8" fill="#fff" stroke="#ef3b3b" stroke-width="1.1"/><circle cx="238.24" cy="324.92" r="1.8" fill="#fff" stroke="#ef3b3b" stroke-width="1.1"/><circle cx="240.02" cy="313.54" r="1.8" fill="#fff" stroke="#ef3b3b" stroke-width="1.1"/>
<path d="M240.02,320.27 L237.34,334.14 L232.00,336.10 L223.98,338.89 L215.96,340.34 L207.94,341.61 L199.92,342.80 L191.90,343.62 L183.88,344.07 L175.87,344.52 L167.85,344.98 L159.83,345.44 L151.81,345.95 L143.79,346.46" fill="none" stroke="#2f8bd0" stroke-width="1.1" stroke-linejoin="round"/>
<circle cx="240.02" cy="320.27" r="1.8" fill="#fff" stroke="#2f8bd0" stroke-width="1.05"/><circle cx="237.34" cy="334.14" r="1.8" fill="#fff" stroke="#2f8bd0" stroke-width="1.05"/><circle cx="232.00" cy="336.10" r="1.8" fill="#fff" stroke="#2f8bd0" stroke-width="1.05"/><circle cx="223.98" cy="338.89" r="1.8" fill="#fff" stroke="#2f8bd0" stroke-width="1.05"/><circle cx="215.96" cy="340.34" r="1.8" fill="#fff" stroke="#2f8bd0" stroke-width="1.05"/><circle cx="207.94" cy="341.61" r="1.8" fill="#fff" stroke="#2f8bd0" stroke-width="1.05"/><circle cx="199.92" cy="342.80" r="1.8" fill="#fff" stroke="#2f8bd0" stroke-width="1.05"/><circle cx="191.90" cy="343.62" r="1.8" fill="#fff" stroke="#2f8bd0" stroke-width="1.05"/><circle cx="183.88" cy="344.07" r="1.8" fill="#fff" stroke="#2f8bd0" stroke-width="1.05"/><circle cx="175.87" cy="344.52" r="1.8" fill="#fff" stroke="#2f8bd0" stroke-width="1.05"/><circle cx="167.85" cy="344.98" r="1.8" fill="#fff" stroke="#2f8bd0" stroke-width="1.05"/><circle cx="159.83" cy="345.44" r="1.8" fill="#fff" stroke="#2f8bd0" stroke-width="1.05"/><circle cx="151.81" cy="345.95" r="1.8" fill="#fff" stroke="#2f8bd0" stroke-width="1.05"/><circle cx="143.79" cy="346.46" r="1.8" fill="#fff" stroke="#2f8bd0" stroke-width="1.05"/>
<path d="M63.60,398.02 L63.64,394.46 L63.69,389.12 L63.78,385.26 L63.96,377.55 L64.31,374.44 L65.03,370.53 L65.74,368.95 L66.81,367.23 L68.06,365.98 L69.84,364.64 L75.72,361.42 L81.60,358.56 L87.48,356.31 L93.36,354.49 L99.24,352.76 L105.12,351.60 L111.00,350.44 L116.88,349.28 L122.76,348.54 L128.64,347.80 L134.52,347.07 L140.40,346.67 L146.28,346.30 L152.17,345.93 L158.05,345.56 L163.93,345.20 L169.81,344.87 L175.69,344.53 L181.57,344.20 L187.45,343.87 L193.33,343.54 L199.21,342.91 L205.09,342.04 L210.97,341.30 L216.85,340.58 L222.73,339.87 L228.61,338.25 L234.49,336.17 L236.45,335.38 L238.24,333.43 L240.02,320.27" fill="none" stroke="#2f8bd0" stroke-width="1.35" stroke-linejoin="round"/>
<circle cx="63.60" cy="398.02" r="1.8" fill="#fff" stroke="#2f8bd0" stroke-width="1.1"/><circle cx="63.64" cy="394.46" r="1.8" fill="#fff" stroke="#2f8bd0" stroke-width="1.1"/><circle cx="63.69" cy="389.12" r="1.8" fill="#fff" stroke="#2f8bd0" stroke-width="1.1"/><circle cx="63.78" cy="385.26" r="1.8" fill="#fff" stroke="#2f8bd0" stroke-width="1.1"/><circle cx="63.96" cy="377.55" r="1.8" fill="#fff" stroke="#2f8bd0" stroke-width="1.1"/><circle cx="64.31" cy="374.44" r="1.8" fill="#fff" stroke="#2f8bd0" stroke-width="1.1"/><circle cx="65.03" cy="370.53" r="1.8" fill="#fff" stroke="#2f8bd0" stroke-width="1.1"/><circle cx="65.74" cy="368.95" r="1.8" fill="#fff" stroke="#2f8bd0" stroke-width="1.1"/><circle cx="66.81" cy="367.23" r="1.8" fill="#fff" stroke="#2f8bd0" stroke-width="1.1"/><circle cx="68.06" cy="365.98" r="1.8" fill="#fff" stroke="#2f8bd0" stroke-width="1.1"/><circle cx="69.84" cy="364.64" r="1.8" fill="#fff" stroke="#2f8bd0" stroke-width="1.1"/><circle cx="75.72" cy="361.42" r="1.8" fill="#fff" stroke="#2f8bd0" stroke-width="1.1"/><circle cx="81.60" cy="358.56" r="1.8" fill="#fff" stroke="#2f8bd0" stroke-width="1.1"/><circle cx="87.48" cy="356.31" r="1.8" fill="#fff" stroke="#2f8bd0" stroke-width="1.1"/><circle cx="93.36" cy="354.49" r="1.8" fill="#fff" stroke="#2f8bd0" stroke-width="1.1"/><circle cx="99.24" cy="352.76" r="1.8" fill="#fff" stroke="#2f8bd0" stroke-width="1.1"/><circle cx="105.12" cy="351.60" r="1.8" fill="#fff" stroke="#2f8bd0" stroke-width="1.1"/><circle cx="111.00" cy="350.44" r="1.8" fill="#fff" stroke="#2f8bd0" stroke-width="1.1"/><circle cx="116.88" cy="349.28" r="1.8" fill="#fff" stroke="#2f8bd0" stroke-width="1.1"/><circle cx="122.76" cy="348.54" r="1.8" fill="#fff" stroke="#2f8bd0" stroke-width="1.1"/><circle cx="128.64" cy="347.80" r="1.8" fill="#fff" stroke="#2f8bd0" stroke-width="1.1"/><circle cx="134.52" cy="347.07" r="1.8" fill="#fff" stroke="#2f8bd0" stroke-width="1.1"/><circle cx="140.40" cy="346.67" r="1.8" fill="#fff" stroke="#2f8bd0" stroke-width="1.1"/><circle cx="146.28" cy="346.30" r="1.8" fill="#fff" stroke="#2f8bd0" stroke-width="1.1"/><circle cx="152.17" cy="345.93" r="1.8" fill="#fff" stroke="#2f8bd0" stroke-width="1.1"/><circle cx="158.05" cy="345.56" r="1.8" fill="#fff" stroke="#2f8bd0" stroke-width="1.1"/><circle cx="163.93" cy="345.20" r="1.8" fill="#fff" stroke="#2f8bd0" stroke-width="1.1"/><circle cx="169.81" cy="344.87" r="1.8" fill="#fff" stroke="#2f8bd0" stroke-width="1.1"/><circle cx="175.69" cy="344.53" r="1.8" fill="#fff" stroke="#2f8bd0" stroke-width="1.1"/><circle cx="181.57" cy="344.20" r="1.8" fill="#fff" stroke="#2f8bd0" stroke-width="1.1"/><circle cx="187.45" cy="343.87" r="1.8" fill="#fff" stroke="#2f8bd0" stroke-width="1.1"/><circle cx="193.33" cy="343.54" r="1.8" fill="#fff" stroke="#2f8bd0" stroke-width="1.1"/><circle cx="199.21" cy="342.91" r="1.8" fill="#fff" stroke="#2f8bd0" stroke-width="1.1"/><circle cx="205.09" cy="342.04" r="1.8" fill="#fff" stroke="#2f8bd0" stroke-width="1.1"/><circle cx="210.97" cy="341.30" r="1.8" fill="#fff" stroke="#2f8bd0" stroke-width="1.1"/><circle cx="216.85" cy="340.58" r="1.8" fill="#fff" stroke="#2f8bd0" stroke-width="1.1"/><circle cx="222.73" cy="339.87" r="1.8" fill="#fff" stroke="#2f8bd0" stroke-width="1.1"/><circle cx="228.61" cy="338.25" r="1.8" fill="#fff" stroke="#2f8bd0" stroke-width="1.1"/><circle cx="234.49" cy="336.17" r="1.8" fill="#fff" stroke="#2f8bd0" stroke-width="1.1"/><circle cx="236.45" cy="335.38" r="1.8" fill="#fff" stroke="#2f8bd0" stroke-width="1.1"/><circle cx="238.24" cy="333.43" r="1.8" fill="#fff" stroke="#2f8bd0" stroke-width="1.1"/><circle cx="240.02" cy="320.27" r="1.8" fill="#fff" stroke="#2f8bd0" stroke-width="1.1"/>
<path d="M240.91,293.00 L237.34,320.75 L232.00,325.70 L223.98,328.51 L215.96,330.28 L207.94,332.09 L199.92,333.78 L191.90,334.97 L183.88,335.73 L175.87,336.50 L167.85,337.26 L159.83,337.96 L151.81,338.44 L143.79,338.92" fill="none" stroke="#2cb34a" stroke-width="1.1" stroke-linejoin="round"/>
<path d="M240.91,290.84 L242.89,294.44 L238.93,294.44Z" fill="#fff" stroke="#2cb34a" stroke-width="1.05"/><path d="M237.34,318.59 L239.32,322.19 L235.36,322.19Z" fill="#fff" stroke="#2cb34a" stroke-width="1.05"/><path d="M232.00,323.54 L233.98,327.14 L230.02,327.14Z" fill="#fff" stroke="#2cb34a" stroke-width="1.05"/><path d="M223.98,326.35 L225.96,329.95 L222.00,329.95Z" fill="#fff" stroke="#2cb34a" stroke-width="1.05"/><path d="M215.96,328.12 L217.94,331.72 L213.98,331.72Z" fill="#fff" stroke="#2cb34a" stroke-width="1.05"/><path d="M207.94,329.93 L209.92,333.53 L205.96,333.53Z" fill="#fff" stroke="#2cb34a" stroke-width="1.05"/><path d="M199.92,331.62 L201.90,335.22 L197.94,335.22Z" fill="#fff" stroke="#2cb34a" stroke-width="1.05"/><path d="M191.90,332.81 L193.88,336.41 L189.92,336.41Z" fill="#fff" stroke="#2cb34a" stroke-width="1.05"/><path d="M183.88,333.57 L185.86,337.17 L181.91,337.17Z" fill="#fff" stroke="#2cb34a" stroke-width="1.05"/><path d="M175.87,334.34 L177.85,337.94 L173.89,337.94Z" fill="#fff" stroke="#2cb34a" stroke-width="1.05"/><path d="M167.85,335.10 L169.83,338.70 L165.87,338.70Z" fill="#fff" stroke="#2cb34a" stroke-width="1.05"/><path d="M159.83,335.80 L161.81,339.40 L157.85,339.40Z" fill="#fff" stroke="#2cb34a" stroke-width="1.05"/><path d="M151.81,336.28 L153.79,339.88 L149.83,339.88Z" fill="#fff" stroke="#2cb34a" stroke-width="1.05"/><path d="M143.79,336.76 L145.77,340.36 L141.81,340.36Z" fill="#fff" stroke="#2cb34a" stroke-width="1.05"/>
<path d="M63.60,396.24 L63.64,392.32 L63.69,386.45 L63.78,382.30 L63.96,373.99 L64.31,370.88 L65.03,366.77 L65.74,364.79 L66.81,362.69 L68.06,361.23 L69.84,359.61 L75.72,355.50 L81.60,351.86 L87.48,349.03 L93.36,346.82 L99.24,344.76 L105.12,343.68 L111.00,342.61 L116.88,341.54 L122.76,340.85 L128.64,340.17 L134.52,339.50 L140.40,339.13 L146.28,338.77 L152.17,338.42 L158.05,338.07 L163.93,337.64 L169.81,337.08 L175.69,336.52 L181.57,335.95 L187.45,335.39 L193.33,334.83 L199.21,333.94 L205.09,332.74 L210.97,331.64 L216.85,330.68 L222.73,329.92 L228.61,328.39 L234.49,325.29 L236.45,323.71 L238.24,320.44 L240.02,305.91 L240.91,293.00" fill="none" stroke="#2cb34a" stroke-width="1.35" stroke-linejoin="round"/>
<path d="M63.60,394.08 L65.58,397.68 L61.62,397.68Z" fill="#fff" stroke="#2cb34a" stroke-width="1.1"/><path d="M63.64,390.16 L65.62,393.76 L61.66,393.76Z" fill="#fff" stroke="#2cb34a" stroke-width="1.1"/><path d="M63.69,384.29 L65.67,387.89 L61.71,387.89Z" fill="#fff" stroke="#2cb34a" stroke-width="1.1"/><path d="M63.78,380.14 L65.76,383.74 L61.80,383.74Z" fill="#fff" stroke="#2cb34a" stroke-width="1.1"/><path d="M63.96,371.83 L65.94,375.43 L61.98,375.43Z" fill="#fff" stroke="#2cb34a" stroke-width="1.1"/><path d="M64.31,368.71 L66.29,372.31 L62.33,372.31Z" fill="#fff" stroke="#2cb34a" stroke-width="1.1"/><path d="M65.03,364.61 L67.01,368.21 L63.05,368.21Z" fill="#fff" stroke="#2cb34a" stroke-width="1.1"/><path d="M65.74,362.63 L67.72,366.23 L63.76,366.23Z" fill="#fff" stroke="#2cb34a" stroke-width="1.1"/><path d="M66.81,360.53 L68.79,364.13 L64.83,364.13Z" fill="#fff" stroke="#2cb34a" stroke-width="1.1"/><path d="M68.06,359.07 L70.04,362.67 L66.08,362.67Z" fill="#fff" stroke="#2cb34a" stroke-width="1.1"/><path d="M69.84,357.45 L71.82,361.05 L67.86,361.05Z" fill="#fff" stroke="#2cb34a" stroke-width="1.1"/><path d="M75.72,353.34 L77.70,356.94 L73.74,356.94Z" fill="#fff" stroke="#2cb34a" stroke-width="1.1"/><path d="M81.60,349.70 L83.58,353.30 L79.62,353.30Z" fill="#fff" stroke="#2cb34a" stroke-width="1.1"/><path d="M87.48,346.87 L89.46,350.47 L85.50,350.47Z" fill="#fff" stroke="#2cb34a" stroke-width="1.1"/><path d="M93.36,344.66 L95.34,348.26 L91.38,348.26Z" fill="#fff" stroke="#2cb34a" stroke-width="1.1"/><path d="M99.24,342.60 L101.22,346.20 L97.26,346.20Z" fill="#fff" stroke="#2cb34a" stroke-width="1.1"/><path d="M105.12,341.52 L107.10,345.12 L103.14,345.12Z" fill="#fff" stroke="#2cb34a" stroke-width="1.1"/><path d="M111.00,340.45 L112.98,344.05 L109.02,344.05Z" fill="#fff" stroke="#2cb34a" stroke-width="1.1"/><path d="M116.88,339.38 L118.86,342.98 L114.90,342.98Z" fill="#fff" stroke="#2cb34a" stroke-width="1.1"/><path d="M122.76,338.69 L124.74,342.29 L120.78,342.29Z" fill="#fff" stroke="#2cb34a" stroke-width="1.1"/><path d="M128.64,338.01 L130.62,341.61 L126.66,341.61Z" fill="#fff" stroke="#2cb34a" stroke-width="1.1"/><path d="M134.52,337.34 L136.50,340.94 L132.54,340.94Z" fill="#fff" stroke="#2cb34a" stroke-width="1.1"/><path d="M140.40,336.97 L142.38,340.57 L138.42,340.57Z" fill="#fff" stroke="#2cb34a" stroke-width="1.1"/><path d="M146.28,336.61 L148.26,340.21 L144.30,340.21Z" fill="#fff" stroke="#2cb34a" stroke-width="1.1"/><path d="M152.17,336.26 L154.15,339.86 L150.19,339.86Z" fill="#fff" stroke="#2cb34a" stroke-width="1.1"/><path d="M158.05,335.91 L160.03,339.51 L156.07,339.51Z" fill="#fff" stroke="#2cb34a" stroke-width="1.1"/><path d="M163.93,335.48 L165.91,339.08 L161.95,339.08Z" fill="#fff" stroke="#2cb34a" stroke-width="1.1"/><path d="M169.81,334.92 L171.79,338.52 L167.83,338.52Z" fill="#fff" stroke="#2cb34a" stroke-width="1.1"/><path d="M175.69,334.36 L177.67,337.96 L173.71,337.96Z" fill="#fff" stroke="#2cb34a" stroke-width="1.1"/><path d="M181.57,333.79 L183.55,337.39 L179.59,337.39Z" fill="#fff" stroke="#2cb34a" stroke-width="1.1"/><path d="M187.45,333.23 L189.43,336.83 L185.47,336.83Z" fill="#fff" stroke="#2cb34a" stroke-width="1.1"/><path d="M193.33,332.67 L195.31,336.27 L191.35,336.27Z" fill="#fff" stroke="#2cb34a" stroke-width="1.1"/><path d="M199.21,331.78 L201.19,335.38 L197.23,335.38Z" fill="#fff" stroke="#2cb34a" stroke-width="1.1"/><path d="M205.09,330.58 L207.07,334.18 L203.11,334.18Z" fill="#fff" stroke="#2cb34a" stroke-width="1.1"/><path d="M210.97,329.48 L212.95,333.08 L208.99,333.08Z" fill="#fff" stroke="#2cb34a" stroke-width="1.1"/><path d="M216.85,328.52 L218.83,332.12 L214.87,332.12Z" fill="#fff" stroke="#2cb34a" stroke-width="1.1"/><path d="M222.73,327.76 L224.71,331.36 L220.75,331.36Z" fill="#fff" stroke="#2cb34a" stroke-width="1.1"/><path d="M228.61,326.23 L230.59,329.83 L226.63,329.83Z" fill="#fff" stroke="#2cb34a" stroke-width="1.1"/><path d="M234.49,323.13 L236.47,326.73 L232.51,326.73Z" fill="#fff" stroke="#2cb34a" stroke-width="1.1"/><path d="M236.45,321.55 L238.43,325.15 L234.47,325.15Z" fill="#fff" stroke="#2cb34a" stroke-width="1.1"/><path d="M238.24,318.28 L240.22,321.88 L236.26,321.88Z" fill="#fff" stroke="#2cb34a" stroke-width="1.1"/><path d="M240.02,303.75 L242.00,307.35 L238.04,307.35Z" fill="#fff" stroke="#2cb34a" stroke-width="1.1"/><path d="M240.91,290.84 L242.89,294.44 L238.93,294.44Z" fill="#fff" stroke="#2cb34a" stroke-width="1.1"/>
<path d="M240.91,304.04 L237.34,310.33 L232.00,314.93 L223.98,317.31 L215.96,319.36 L207.94,321.05 L199.92,322.80 L191.90,323.85 L183.88,324.12 L175.87,324.38 L167.85,324.65 L159.83,324.99 L151.81,325.55 L143.79,326.12" fill="none" stroke="#b05cc4" stroke-width="1.1" stroke-linejoin="round"/>
<path d="M240.91,306.20 L242.89,302.60 L238.93,302.60Z" fill="#fff" stroke="#b05cc4" stroke-width="1.05"/><path d="M237.34,312.49 L239.32,308.89 L235.36,308.89Z" fill="#fff" stroke="#b05cc4" stroke-width="1.05"/><path d="M232.00,317.09 L233.98,313.49 L230.02,313.49Z" fill="#fff" stroke="#b05cc4" stroke-width="1.05"/><path d="M223.98,319.47 L225.96,315.87 L222.00,315.87Z" fill="#fff" stroke="#b05cc4" stroke-width="1.05"/><path d="M215.96,321.52 L217.94,317.92 L213.98,317.92Z" fill="#fff" stroke="#b05cc4" stroke-width="1.05"/><path d="M207.94,323.21 L209.92,319.61 L205.96,319.61Z" fill="#fff" stroke="#b05cc4" stroke-width="1.05"/><path d="M199.92,324.96 L201.90,321.36 L197.94,321.36Z" fill="#fff" stroke="#b05cc4" stroke-width="1.05"/><path d="M191.90,326.01 L193.88,322.41 L189.92,322.41Z" fill="#fff" stroke="#b05cc4" stroke-width="1.05"/><path d="M183.88,326.28 L185.86,322.68 L181.91,322.68Z" fill="#fff" stroke="#b05cc4" stroke-width="1.05"/><path d="M175.87,326.54 L177.85,322.94 L173.89,322.94Z" fill="#fff" stroke="#b05cc4" stroke-width="1.05"/><path d="M167.85,326.81 L169.83,323.21 L165.87,323.21Z" fill="#fff" stroke="#b05cc4" stroke-width="1.05"/><path d="M159.83,327.15 L161.81,323.55 L157.85,323.55Z" fill="#fff" stroke="#b05cc4" stroke-width="1.05"/><path d="M151.81,327.71 L153.79,324.11 L149.83,324.11Z" fill="#fff" stroke="#b05cc4" stroke-width="1.05"/><path d="M143.79,328.28 L145.77,324.68 L141.81,324.68Z" fill="#fff" stroke="#b05cc4" stroke-width="1.05"/>
<path d="M63.60,398.91 L63.64,393.21 L63.69,384.67 L63.78,379.63 L63.96,369.54 L64.31,365.54 L65.03,359.75 L65.74,356.19 L66.81,352.99 L68.06,349.79 L69.84,347.16 L75.72,340.26 L81.60,337.06 L87.48,334.74 L93.36,332.91 L99.24,331.40 L105.12,330.35 L111.00,329.36 L116.88,328.62 L122.76,328.07 L128.64,327.52 L134.52,326.96 L140.40,326.41 L146.28,325.95 L152.17,325.53 L158.05,325.11 L163.93,324.78 L169.81,324.59 L175.69,324.39 L181.57,324.19 L187.45,324.00 L193.33,323.80 L199.21,322.98 L205.09,321.63 L210.97,320.63 L216.85,319.59 L222.73,318.51 L228.61,317.12 L234.49,314.16 L236.45,312.58 L238.24,310.15 L240.02,306.48 L240.91,304.04" fill="none" stroke="#b05cc4" stroke-width="1.35" stroke-linejoin="round"/>
<path d="M63.60,401.07 L65.58,397.47 L61.62,397.47Z" fill="#fff" stroke="#b05cc4" stroke-width="1.1"/><path d="M63.64,395.37 L65.62,391.77 L61.66,391.77Z" fill="#fff" stroke="#b05cc4" stroke-width="1.1"/><path d="M63.69,386.83 L65.67,383.23 L61.71,383.23Z" fill="#fff" stroke="#b05cc4" stroke-width="1.1"/><path d="M63.78,381.79 L65.76,378.19 L61.80,378.19Z" fill="#fff" stroke="#b05cc4" stroke-width="1.1"/><path d="M63.96,371.70 L65.94,368.10 L61.98,368.10Z" fill="#fff" stroke="#b05cc4" stroke-width="1.1"/><path d="M64.31,367.70 L66.29,364.10 L62.33,364.10Z" fill="#fff" stroke="#b05cc4" stroke-width="1.1"/><path d="M65.03,361.91 L67.01,358.31 L63.05,358.31Z" fill="#fff" stroke="#b05cc4" stroke-width="1.1"/><path d="M65.74,358.35 L67.72,354.75 L63.76,354.75Z" fill="#fff" stroke="#b05cc4" stroke-width="1.1"/><path d="M66.81,355.15 L68.79,351.55 L64.83,351.55Z" fill="#fff" stroke="#b05cc4" stroke-width="1.1"/><path d="M68.06,351.95 L70.04,348.35 L66.08,348.35Z" fill="#fff" stroke="#b05cc4" stroke-width="1.1"/><path d="M69.84,349.32 L71.82,345.72 L67.86,345.72Z" fill="#fff" stroke="#b05cc4" stroke-width="1.1"/><path d="M75.72,342.42 L77.70,338.82 L73.74,338.82Z" fill="#fff" stroke="#b05cc4" stroke-width="1.1"/><path d="M81.60,339.22 L83.58,335.62 L79.62,335.62Z" fill="#fff" stroke="#b05cc4" stroke-width="1.1"/><path d="M87.48,336.90 L89.46,333.30 L85.50,333.30Z" fill="#fff" stroke="#b05cc4" stroke-width="1.1"/><path d="M93.36,335.07 L95.34,331.47 L91.38,331.47Z" fill="#fff" stroke="#b05cc4" stroke-width="1.1"/><path d="M99.24,333.56 L101.22,329.96 L97.26,329.96Z" fill="#fff" stroke="#b05cc4" stroke-width="1.1"/><path d="M105.12,332.51 L107.10,328.91 L103.14,328.91Z" fill="#fff" stroke="#b05cc4" stroke-width="1.1"/><path d="M111.00,331.52 L112.98,327.92 L109.02,327.92Z" fill="#fff" stroke="#b05cc4" stroke-width="1.1"/><path d="M116.88,330.78 L118.86,327.18 L114.90,327.18Z" fill="#fff" stroke="#b05cc4" stroke-width="1.1"/><path d="M122.76,330.23 L124.74,326.63 L120.78,326.63Z" fill="#fff" stroke="#b05cc4" stroke-width="1.1"/><path d="M128.64,329.68 L130.62,326.08 L126.66,326.08Z" fill="#fff" stroke="#b05cc4" stroke-width="1.1"/><path d="M134.52,329.12 L136.50,325.52 L132.54,325.52Z" fill="#fff" stroke="#b05cc4" stroke-width="1.1"/><path d="M140.40,328.57 L142.38,324.97 L138.42,324.97Z" fill="#fff" stroke="#b05cc4" stroke-width="1.1"/><path d="M146.28,328.11 L148.26,324.51 L144.30,324.51Z" fill="#fff" stroke="#b05cc4" stroke-width="1.1"/><path d="M152.17,327.69 L154.15,324.09 L150.19,324.09Z" fill="#fff" stroke="#b05cc4" stroke-width="1.1"/><path d="M158.05,327.27 L160.03,323.67 L156.07,323.67Z" fill="#fff" stroke="#b05cc4" stroke-width="1.1"/><path d="M163.93,326.94 L165.91,323.34 L161.95,323.34Z" fill="#fff" stroke="#b05cc4" stroke-width="1.1"/><path d="M169.81,326.75 L171.79,323.15 L167.83,323.15Z" fill="#fff" stroke="#b05cc4" stroke-width="1.1"/><path d="M175.69,326.55 L177.67,322.95 L173.71,322.95Z" fill="#fff" stroke="#b05cc4" stroke-width="1.1"/><path d="M181.57,326.35 L183.55,322.75 L179.59,322.75Z" fill="#fff" stroke="#b05cc4" stroke-width="1.1"/><path d="M187.45,326.16 L189.43,322.56 L185.47,322.56Z" fill="#fff" stroke="#b05cc4" stroke-width="1.1"/><path d="M193.33,325.96 L195.31,322.36 L191.35,322.36Z" fill="#fff" stroke="#b05cc4" stroke-width="1.1"/><path d="M199.21,325.14 L201.19,321.54 L197.23,321.54Z" fill="#fff" stroke="#b05cc4" stroke-width="1.1"/><path d="M205.09,323.79 L207.07,320.19 L203.11,320.19Z" fill="#fff" stroke="#b05cc4" stroke-width="1.1"/><path d="M210.97,322.79 L212.95,319.19 L208.99,319.19Z" fill="#fff" stroke="#b05cc4" stroke-width="1.1"/><path d="M216.85,321.75 L218.83,318.15 L214.87,318.15Z" fill="#fff" stroke="#b05cc4" stroke-width="1.1"/><path d="M222.73,320.67 L224.71,317.07 L220.75,317.07Z" fill="#fff" stroke="#b05cc4" stroke-width="1.1"/><path d="M228.61,319.28 L230.59,315.68 L226.63,315.68Z" fill="#fff" stroke="#b05cc4" stroke-width="1.1"/><path d="M234.49,316.32 L236.47,312.72 L232.51,312.72Z" fill="#fff" stroke="#b05cc4" stroke-width="1.1"/><path d="M236.45,314.74 L238.43,311.14 L234.47,311.14Z" fill="#fff" stroke="#b05cc4" stroke-width="1.1"/><path d="M238.24,312.31 L240.22,308.71 L236.26,308.71Z" fill="#fff" stroke="#b05cc4" stroke-width="1.1"/><path d="M240.02,308.64 L242.00,305.04 L238.04,305.04Z" fill="#fff" stroke="#b05cc4" stroke-width="1.1"/><path d="M240.91,306.20 L242.89,302.60 L238.93,302.60Z" fill="#fff" stroke="#b05cc4" stroke-width="1.1"/>
<path d="M240.91,249.92 L237.34,299.75 L232.00,304.41 L223.98,308.72 L215.96,312.40 L207.94,315.65 L199.92,318.68 L191.90,320.79 L183.88,322.35 L175.87,323.90 L167.85,325.44 L159.83,326.88 L151.81,327.95 L143.79,329.02" fill="none" stroke="#ff8a1e" stroke-width="1.1" stroke-linejoin="round"/>
<path d="M240.91,247.76 L242.89,249.92 L240.91,252.08 L238.93,249.92Z" fill="#fff" stroke="#ff8a1e" stroke-width="1.05"/><path d="M237.34,297.59 L239.32,299.75 L237.34,301.91 L235.36,299.75Z" fill="#fff" stroke="#ff8a1e" stroke-width="1.05"/><path d="M232.00,302.25 L233.98,304.41 L232.00,306.57 L230.02,304.41Z" fill="#fff" stroke="#ff8a1e" stroke-width="1.05"/><path d="M223.98,306.56 L225.96,308.72 L223.98,310.88 L222.00,308.72Z" fill="#fff" stroke="#ff8a1e" stroke-width="1.05"/><path d="M215.96,310.24 L217.94,312.40 L215.96,314.56 L213.98,312.40Z" fill="#fff" stroke="#ff8a1e" stroke-width="1.05"/><path d="M207.94,313.49 L209.92,315.65 L207.94,317.81 L205.96,315.65Z" fill="#fff" stroke="#ff8a1e" stroke-width="1.05"/><path d="M199.92,316.52 L201.90,318.68 L199.92,320.84 L197.94,318.68Z" fill="#fff" stroke="#ff8a1e" stroke-width="1.05"/><path d="M191.90,318.63 L193.88,320.79 L191.90,322.95 L189.92,320.79Z" fill="#fff" stroke="#ff8a1e" stroke-width="1.05"/><path d="M183.88,320.19 L185.86,322.35 L183.88,324.51 L181.91,322.35Z" fill="#fff" stroke="#ff8a1e" stroke-width="1.05"/><path d="M175.87,321.74 L177.85,323.90 L175.87,326.06 L173.89,323.90Z" fill="#fff" stroke="#ff8a1e" stroke-width="1.05"/><path d="M167.85,323.28 L169.83,325.44 L167.85,327.60 L165.87,325.44Z" fill="#fff" stroke="#ff8a1e" stroke-width="1.05"/><path d="M159.83,324.72 L161.81,326.88 L159.83,329.04 L157.85,326.88Z" fill="#fff" stroke="#ff8a1e" stroke-width="1.05"/><path d="M151.81,325.79 L153.79,327.95 L151.81,330.11 L149.83,327.95Z" fill="#fff" stroke="#ff8a1e" stroke-width="1.05"/><path d="M143.79,326.86 L145.77,329.02 L143.79,331.18 L141.81,329.02Z" fill="#fff" stroke="#ff8a1e" stroke-width="1.05"/>
<path d="M63.60,396.24 L63.64,392.32 L63.69,386.45 L63.78,382.00 L63.96,373.10 L64.31,369.54 L65.03,364.79 L65.74,362.42 L66.81,359.75 L68.06,357.67 L69.84,355.16 L75.72,348.69 L81.60,344.06 L87.48,341.00 L93.36,338.76 L99.24,336.66 L105.12,335.62 L111.00,334.57 L116.88,333.53 L122.76,332.44 L128.64,331.35 L134.52,330.27 L140.40,329.47 L146.28,328.68 L152.17,327.90 L158.05,327.12 L163.93,326.20 L169.81,325.07 L175.69,323.94 L181.57,322.80 L187.45,321.66 L193.33,320.52 L199.21,318.95 L205.09,316.94 L210.97,314.74 L216.85,313.20 L222.73,311.55 L228.61,309.35 L234.49,305.08 L236.45,303.18 L238.24,299.06 L240.02,273.33 L240.91,249.92" fill="none" stroke="#ff8a1e" stroke-width="1.35" stroke-linejoin="round"/>
<path d="M63.60,394.08 L65.58,396.24 L63.60,398.40 L61.62,396.24Z" fill="#fff" stroke="#ff8a1e" stroke-width="1.1"/><path d="M63.64,390.16 L65.62,392.32 L63.64,394.48 L61.66,392.32Z" fill="#fff" stroke="#ff8a1e" stroke-width="1.1"/><path d="M63.69,384.29 L65.67,386.45 L63.69,388.61 L61.71,386.45Z" fill="#fff" stroke="#ff8a1e" stroke-width="1.1"/><path d="M63.78,379.84 L65.76,382.00 L63.78,384.16 L61.80,382.00Z" fill="#fff" stroke="#ff8a1e" stroke-width="1.1"/><path d="M63.96,370.94 L65.94,373.10 L63.96,375.26 L61.98,373.10Z" fill="#fff" stroke="#ff8a1e" stroke-width="1.1"/><path d="M64.31,367.38 L66.29,369.54 L64.31,371.70 L62.33,369.54Z" fill="#fff" stroke="#ff8a1e" stroke-width="1.1"/><path d="M65.03,362.63 L67.01,364.79 L65.03,366.95 L63.05,364.79Z" fill="#fff" stroke="#ff8a1e" stroke-width="1.1"/><path d="M65.74,360.26 L67.72,362.42 L65.74,364.58 L63.76,362.42Z" fill="#fff" stroke="#ff8a1e" stroke-width="1.1"/><path d="M66.81,357.59 L68.79,359.75 L66.81,361.91 L64.83,359.75Z" fill="#fff" stroke="#ff8a1e" stroke-width="1.1"/><path d="M68.06,355.51 L70.04,357.67 L68.06,359.83 L66.08,357.67Z" fill="#fff" stroke="#ff8a1e" stroke-width="1.1"/><path d="M69.84,353.00 L71.82,355.16 L69.84,357.32 L67.86,355.16Z" fill="#fff" stroke="#ff8a1e" stroke-width="1.1"/><path d="M75.72,346.53 L77.70,348.69 L75.72,350.85 L73.74,348.69Z" fill="#fff" stroke="#ff8a1e" stroke-width="1.1"/><path d="M81.60,341.90 L83.58,344.06 L81.60,346.22 L79.62,344.06Z" fill="#fff" stroke="#ff8a1e" stroke-width="1.1"/><path d="M87.48,338.84 L89.46,341.00 L87.48,343.16 L85.50,341.00Z" fill="#fff" stroke="#ff8a1e" stroke-width="1.1"/><path d="M93.36,336.60 L95.34,338.76 L93.36,340.92 L91.38,338.76Z" fill="#fff" stroke="#ff8a1e" stroke-width="1.1"/><path d="M99.24,334.50 L101.22,336.66 L99.24,338.82 L97.26,336.66Z" fill="#fff" stroke="#ff8a1e" stroke-width="1.1"/><path d="M105.12,333.46 L107.10,335.62 L105.12,337.78 L103.14,335.62Z" fill="#fff" stroke="#ff8a1e" stroke-width="1.1"/><path d="M111.00,332.41 L112.98,334.57 L111.00,336.73 L109.02,334.57Z" fill="#fff" stroke="#ff8a1e" stroke-width="1.1"/><path d="M116.88,331.37 L118.86,333.53 L116.88,335.69 L114.90,333.53Z" fill="#fff" stroke="#ff8a1e" stroke-width="1.1"/><path d="M122.76,330.28 L124.74,332.44 L122.76,334.60 L120.78,332.44Z" fill="#fff" stroke="#ff8a1e" stroke-width="1.1"/><path d="M128.64,329.19 L130.62,331.35 L128.64,333.51 L126.66,331.35Z" fill="#fff" stroke="#ff8a1e" stroke-width="1.1"/><path d="M134.52,328.11 L136.50,330.27 L134.52,332.43 L132.54,330.27Z" fill="#fff" stroke="#ff8a1e" stroke-width="1.1"/><path d="M140.40,327.31 L142.38,329.47 L140.40,331.63 L138.42,329.47Z" fill="#fff" stroke="#ff8a1e" stroke-width="1.1"/><path d="M146.28,326.52 L148.26,328.68 L146.28,330.84 L144.30,328.68Z" fill="#fff" stroke="#ff8a1e" stroke-width="1.1"/><path d="M152.17,325.74 L154.15,327.90 L152.17,330.06 L150.19,327.90Z" fill="#fff" stroke="#ff8a1e" stroke-width="1.1"/><path d="M158.05,324.96 L160.03,327.12 L158.05,329.28 L156.07,327.12Z" fill="#fff" stroke="#ff8a1e" stroke-width="1.1"/><path d="M163.93,324.04 L165.91,326.20 L163.93,328.36 L161.95,326.20Z" fill="#fff" stroke="#ff8a1e" stroke-width="1.1"/><path d="M169.81,322.91 L171.79,325.07 L169.81,327.23 L167.83,325.07Z" fill="#fff" stroke="#ff8a1e" stroke-width="1.1"/><path d="M175.69,321.78 L177.67,323.94 L175.69,326.10 L173.71,323.94Z" fill="#fff" stroke="#ff8a1e" stroke-width="1.1"/><path d="M181.57,320.64 L183.55,322.80 L181.57,324.96 L179.59,322.80Z" fill="#fff" stroke="#ff8a1e" stroke-width="1.1"/><path d="M187.45,319.50 L189.43,321.66 L187.45,323.82 L185.47,321.66Z" fill="#fff" stroke="#ff8a1e" stroke-width="1.1"/><path d="M193.33,318.36 L195.31,320.52 L193.33,322.68 L191.35,320.52Z" fill="#fff" stroke="#ff8a1e" stroke-width="1.1"/><path d="M199.21,316.79 L201.19,318.95 L199.21,321.11 L197.23,318.95Z" fill="#fff" stroke="#ff8a1e" stroke-width="1.1"/><path d="M205.09,314.78 L207.07,316.94 L205.09,319.10 L203.11,316.94Z" fill="#fff" stroke="#ff8a1e" stroke-width="1.1"/><path d="M210.97,312.58 L212.95,314.74 L210.97,316.90 L208.99,314.74Z" fill="#fff" stroke="#ff8a1e" stroke-width="1.1"/><path d="M216.85,311.04 L218.83,313.20 L216.85,315.36 L214.87,313.20Z" fill="#fff" stroke="#ff8a1e" stroke-width="1.1"/><path d="M222.73,309.39 L224.71,311.55 L222.73,313.71 L220.75,311.55Z" fill="#fff" stroke="#ff8a1e" stroke-width="1.1"/><path d="M228.61,307.19 L230.59,309.35 L228.61,311.51 L226.63,309.35Z" fill="#fff" stroke="#ff8a1e" stroke-width="1.1"/><path d="M234.49,302.92 L236.47,305.08 L234.49,307.24 L232.51,305.08Z" fill="#fff" stroke="#ff8a1e" stroke-width="1.1"/><path d="M236.45,301.02 L238.43,303.18 L236.45,305.34 L234.47,303.18Z" fill="#fff" stroke="#ff8a1e" stroke-width="1.1"/><path d="M238.24,296.90 L240.22,299.06 L238.24,301.22 L236.26,299.06Z" fill="#fff" stroke="#ff8a1e" stroke-width="1.1"/><path d="M240.02,271.17 L242.00,273.33 L240.02,275.49 L238.04,273.33Z" fill="#fff" stroke="#ff8a1e" stroke-width="1.1"/><path d="M240.91,247.76 L242.89,249.92 L240.91,252.08 L238.93,249.92Z" fill="#fff" stroke="#ff8a1e" stroke-width="1.1"/>
<line x1="54" y1="239.90" x2="72.7" y2="239.90" stroke="#ef3b3b" stroke-width="1.5"/>
<circle cx="63.30" cy="239.90" r="1.6" fill="#fff" stroke="#ef3b3b" stroke-width="1.1"/>
<text x="77.4" y="243.1" font-size="8.8" fill="#111" stroke="#111" stroke-width="0.25" text-anchor="start" >WSC-900</text>
<line x1="54" y1="251.55" x2="72.7" y2="251.55" stroke="#2f8bd0" stroke-width="1.5"/>
<circle cx="63.30" cy="251.55" r="1.6" fill="#fff" stroke="#2f8bd0" stroke-width="1.1"/>
<text x="77.4" y="254.8" font-size="8.8" fill="#111" stroke="#111" stroke-width="0.25" text-anchor="start" >WSC-N-900</text>
<line x1="54" y1="263.20" x2="72.7" y2="263.20" stroke="#2cb34a" stroke-width="1.5"/>
<path d="M63.30,261.28 L65.06,264.48 L61.54,264.48Z" fill="#fff" stroke="#2cb34a" stroke-width="1.1"/>
<text x="77.4" y="266.4" font-size="8.8" fill="#111" stroke="#111" stroke-width="0.25" text-anchor="start" >WSC-Fe/N-800</text>
<line x1="54" y1="274.85" x2="72.7" y2="274.85" stroke="#b05cc4" stroke-width="1.5"/>
<path d="M63.30,276.77 L65.06,273.57 L61.54,273.57Z" fill="#fff" stroke="#b05cc4" stroke-width="1.1"/>
<text x="77.4" y="278.1" font-size="8.8" fill="#111" stroke="#111" stroke-width="0.25" text-anchor="start" >WSC-Fe/N-900</text>
<line x1="54" y1="286.50" x2="72.7" y2="286.50" stroke="#ff8a1e" stroke-width="1.5"/>
<path d="M63.30,284.58 L65.06,286.50 L63.30,288.42 L61.54,286.50Z" fill="#fff" stroke="#ff8a1e" stroke-width="1.1"/>
<text x="77.4" y="289.7" font-size="8.8" fill="#111" stroke="#111" stroke-width="0.25" text-anchor="start" >WSC-Fe/N-1000</text>
<rect x="321.2" y="231.2" width="217.50000000000006" height="181.3" fill="none" stroke="#111" stroke-width="1.6"/>
<line x1="319.59999999999997" y1="411.70" x2="321.2" y2="411.70" stroke="#111" stroke-width="1"/>
<line x1="318.7" y1="393.70" x2="321.2" y2="393.70" stroke="#111" stroke-width="1"/>
<text x="316.5" y="396" font-size="6.6" fill="#111" stroke="#111" stroke-width="0.25" text-anchor="end" >0</text>
<line x1="319.59999999999997" y1="375.70" x2="321.2" y2="375.70" stroke="#111" stroke-width="1"/>
<line x1="318.7" y1="357.70" x2="321.2" y2="357.70" stroke="#111" stroke-width="1"/>
<text x="316.5" y="360" font-size="6.6" fill="#111" stroke="#111" stroke-width="0.25" text-anchor="end" >2</text>
<line x1="319.59999999999997" y1="339.70" x2="321.2" y2="339.70" stroke="#111" stroke-width="1"/>
<line x1="318.7" y1="321.70" x2="321.2" y2="321.70" stroke="#111" stroke-width="1"/>
<text x="316.5" y="324" font-size="6.6" fill="#111" stroke="#111" stroke-width="0.25" text-anchor="end" >4</text>
<line x1="319.59999999999997" y1="303.70" x2="321.2" y2="303.70" stroke="#111" stroke-width="1"/>
<line x1="318.7" y1="285.70" x2="321.2" y2="285.70" stroke="#111" stroke-width="1"/>
<text x="316.5" y="288" font-size="6.6" fill="#111" stroke="#111" stroke-width="0.25" text-anchor="end" >6</text>
<line x1="319.59999999999997" y1="267.70" x2="321.2" y2="267.70" stroke="#111" stroke-width="1"/>
<line x1="318.7" y1="249.70" x2="321.2" y2="249.70" stroke="#111" stroke-width="1"/>
<text x="316.5" y="252" font-size="6.6" fill="#111" stroke="#111" stroke-width="0.25" text-anchor="end" >8</text>
<line x1="319.59999999999997" y1="231.70" x2="321.2" y2="231.70" stroke="#111" stroke-width="1"/>
<line x1="321.20" y1="412.5" x2="321.20" y2="414.5" stroke="#111" stroke-width="1"/>
<line x1="334.44" y1="412.5" x2="334.44" y2="414.5" stroke="#111" stroke-width="1"/>
<line x1="345.63" y1="412.5" x2="345.63" y2="414.5" stroke="#111" stroke-width="1"/>
<line x1="355.32" y1="412.5" x2="355.32" y2="414.5" stroke="#111" stroke-width="1"/>
<line x1="363.88" y1="412.5" x2="363.88" y2="414.5" stroke="#111" stroke-width="1"/>
<line x1="371.52" y1="412.5" x2="371.52" y2="415.5" stroke="#111" stroke-width="1"/>
<line x1="421.85" y1="412.5" x2="421.85" y2="414.5" stroke="#111" stroke-width="1"/>
<line x1="451.29" y1="412.5" x2="451.29" y2="414.5" stroke="#111" stroke-width="1"/>
<line x1="472.17" y1="412.5" x2="472.17" y2="414.5" stroke="#111" stroke-width="1"/>
<line x1="488.38" y1="412.5" x2="488.38" y2="414.5" stroke="#111" stroke-width="1"/>
<line x1="501.61" y1="412.5" x2="501.61" y2="414.5" stroke="#111" stroke-width="1"/>
<line x1="512.80" y1="412.5" x2="512.80" y2="414.5" stroke="#111" stroke-width="1"/>
<line x1="522.50" y1="412.5" x2="522.50" y2="414.5" stroke="#111" stroke-width="1"/>
<line x1="531.05" y1="412.5" x2="531.05" y2="414.5" stroke="#111" stroke-width="1"/>
<line x1="538.70" y1="412.5" x2="538.70" y2="415.5" stroke="#111" stroke-width="1"/>
<text x="371.5" y="424.2" font-size="6.6" fill="#111" stroke="#111" stroke-width="0.25" text-anchor="middle" >1</text>
<text x="538.7" y="424.2" font-size="6.6" fill="#111" stroke="#111" stroke-width="0.25" text-anchor="middle" >10</text>
<line x1="421.85" y1="231.2" x2="421.85" y2="412.5" stroke="#ee2a2a" stroke-width="1.2" stroke-dasharray="2.2,1.6"/>
<text x="421.8" y="422.7" font-size="8.6" fill="#ee2a2a" stroke="#ee2a2a" stroke-width="0.25" text-anchor="middle" >2</text>
<text x="429.9" y="435" font-size="9.1" fill="#111" stroke="#111" stroke-width="0.25" text-anchor="middle" >Pore Diameter (nm)</text>
<text transform="translate(308.6,321.5) rotate(-90)" font-size="9.6" fill="#111" stroke="#111" stroke-width="0.25" text-anchor="middle">dV/dD Pore Volume (cm<tspan font-size="6.3" dy="-3.6">3</tspan><tspan dy="3.6"> g</tspan><tspan font-size="6.3" dy="-3.6">-1</tspan><tspan dy="3.6"> nm</tspan><tspan font-size="6.3" dy="-3.6">-1</tspan><tspan dy="3.6">)</tspan></text>
<text x="300.8" y="231.8" font-size="18.5" fill="#000" stroke="#000" stroke-width="0.45" style="font-family:&quot;Liberation Serif&quot;,serif;font-weight:bold">d</text>
<text x="361" y="315" font-size="8.6" fill="#111" stroke="#111" stroke-width="0.25" text-anchor="start" >HK</text>
<path d="M374.6,313.4 L378,311.5 L378,315.3Z" fill="#111"/>
<line x1="378" y1="313.4" x2="467" y2="313.4" stroke="#111" stroke-width="1.2" stroke-dasharray="3,1.8"/>
<path d="M472,313.4 L467.5,311.3 M472,313.4 L467.5,315.5" stroke="#111" stroke-width="1" fill="none"/>
<text x="472.4" y="316" font-size="8.6" fill="#111" stroke="#111" stroke-width="0.25" text-anchor="start" >BJH</text>
<text x="398" y="310" font-size="8.8" fill="#111" stroke="#111" stroke-width="0.25" text-anchor="middle" >Micropore</text>
<text x="446.5" y="310" font-size="8.8" fill="#111" stroke="#111" stroke-width="0.25" text-anchor="middle" >Mesopore</text>
<path d="M326.79,325.30 L330.20,321.70 L332.60,331.24 L335.64,359.14 L341.36,371.38 L347.67,379.12 L359.30,384.70 L367.80,386.50 L371.52,386.94 L378.44,387.76 L383.54,388.07 L388.88,388.40 L394.38,388.74 L399.99,388.99 L405.65,389.21 L412.15,389.51 L419.64,389.97 L425.39,389.22 L433.87,388.03 L440.62,389.67 L447.31,390.64 L453.90,391.56 L461.22,392.05 L469.21,392.60 L476.58,392.88 L484.96,393.03 L495.16,393.22 L505.27,393.38 L516.94,393.49 L530.48,393.62 L538.70,393.70" fill="none" stroke="#ef3b3b" stroke-width="1.4" stroke-linejoin="round"/>
<circle cx="326.79" cy="325.30" r="2.2" fill="#fff" stroke="#ef3b3b" stroke-width="1.2"/><circle cx="330.20" cy="321.70" r="2.2" fill="#fff" stroke="#ef3b3b" stroke-width="1.2"/><circle cx="332.60" cy="331.24" r="2.2" fill="#fff" stroke="#ef3b3b" stroke-width="1.2"/><circle cx="335.64" cy="359.14" r="2.2" fill="#fff" stroke="#ef3b3b" stroke-width="1.2"/><circle cx="341.36" cy="371.38" r="2.2" fill="#fff" stroke="#ef3b3b" stroke-width="1.2"/><circle cx="347.67" cy="379.12" r="2.2" fill="#fff" stroke="#ef3b3b" stroke-width="1.2"/><circle cx="359.30" cy="384.70" r="2.2" fill="#fff" stroke="#ef3b3b" stroke-width="1.2"/><circle cx="367.80" cy="386.50" r="2.2" fill="#fff" stroke="#ef3b3b" stroke-width="1.2"/><circle cx="371.52" cy="386.94" r="2.2" fill="#fff" stroke="#ef3b3b" stroke-width="1.2"/><circle cx="378.44" cy="387.76" r="2.2" fill="#fff" stroke="#ef3b3b" stroke-width="1.2"/><circle cx="383.54" cy="388.07" r="2.2" fill="#fff" stroke="#ef3b3b" stroke-width="1.2"/><circle cx="388.88" cy="388.40" r="2.2" fill="#fff" stroke="#ef3b3b" stroke-width="1.2"/><circle cx="394.38" cy="388.74" r="2.2" fill="#fff" stroke="#ef3b3b" stroke-width="1.2"/><circle cx="399.99" cy="388.99" r="2.2" fill="#fff" stroke="#ef3b3b" stroke-width="1.2"/><circle cx="405.65" cy="389.21" r="2.2" fill="#fff" stroke="#ef3b3b" stroke-width="1.2"/><circle cx="412.15" cy="389.51" r="2.2" fill="#fff" stroke="#ef3b3b" stroke-width="1.2"/><circle cx="419.64" cy="389.97" r="2.2" fill="#fff" stroke="#ef3b3b" stroke-width="1.2"/><circle cx="425.39" cy="389.22" r="2.2" fill="#fff" stroke="#ef3b3b" stroke-width="1.2"/><circle cx="433.87" cy="388.03" r="2.2" fill="#fff" stroke="#ef3b3b" stroke-width="1.2"/><circle cx="440.62" cy="389.67" r="2.2" fill="#fff" stroke="#ef3b3b" stroke-width="1.2"/><circle cx="447.31" cy="390.64" r="2.2" fill="#fff" stroke="#ef3b3b" stroke-width="1.2"/><circle cx="453.90" cy="391.56" r="2.2" fill="#fff" stroke="#ef3b3b" stroke-width="1.2"/><circle cx="461.22" cy="392.05" r="2.2" fill="#fff" stroke="#ef3b3b" stroke-width="1.2"/><circle cx="469.21" cy="392.60" r="2.2" fill="#fff" stroke="#ef3b3b" stroke-width="1.2"/><circle cx="476.58" cy="392.88" r="2.2" fill="#fff" stroke="#ef3b3b" stroke-width="1.2"/><circle cx="484.96" cy="393.03" r="2.2" fill="#fff" stroke="#ef3b3b" stroke-width="1.2"/><circle cx="495.16" cy="393.22" r="2.2" fill="#fff" stroke="#ef3b3b" stroke-width="1.2"/><circle cx="505.27" cy="393.38" r="2.2" fill="#fff" stroke="#ef3b3b" stroke-width="1.2"/><circle cx="516.94" cy="393.49" r="2.2" fill="#fff" stroke="#ef3b3b" stroke-width="1.2"/><circle cx="530.48" cy="393.62" r="2.2" fill="#fff" stroke="#ef3b3b" stroke-width="1.2"/><circle cx="538.70" cy="393.70" r="2.2" fill="#fff" stroke="#ef3b3b" stroke-width="1.2"/>
<path d="M326.79,334.30 L330.20,310.00 L331.72,322.24 L333.22,336.82 L335.64,352.48 L342.45,369.22 L348.68,376.96 L362.24,383.62 L371.52,386.14 L378.44,386.79 L383.54,387.28 L388.88,387.78 L394.38,388.15 L399.99,388.46 L405.65,388.78 L412.15,389.21 L419.64,389.90 L425.39,389.35 L433.87,388.39 L440.62,390.03 L447.31,391.00 L453.90,391.91 L461.22,392.34 L469.21,392.81 L476.58,393.09 L484.96,393.29 L495.16,393.54 L505.27,393.74 L516.94,393.85 L530.48,393.98 L538.70,394.06" fill="none" stroke="#2f8bd0" stroke-width="1.4" stroke-linejoin="round"/>
<circle cx="326.79" cy="334.30" r="2.2" fill="#fff" stroke="#2f8bd0" stroke-width="1.2"/><circle cx="330.20" cy="310.00" r="2.2" fill="#fff" stroke="#2f8bd0" stroke-width="1.2"/><circle cx="331.72" cy="322.24" r="2.2" fill="#fff" stroke="#2f8bd0" stroke-width="1.2"/><circle cx="333.22" cy="336.82" r="2.2" fill="#fff" stroke="#2f8bd0" stroke-width="1.2"/><circle cx="335.64" cy="352.48" r="2.2" fill="#fff" stroke="#2f8bd0" stroke-width="1.2"/><circle cx="342.45" cy="369.22" r="2.2" fill="#fff" stroke="#2f8bd0" stroke-width="1.2"/><circle cx="348.68" cy="376.96" r="2.2" fill="#fff" stroke="#2f8bd0" stroke-width="1.2"/><circle cx="362.24" cy="383.62" r="2.2" fill="#fff" stroke="#2f8bd0" stroke-width="1.2"/><circle cx="371.52" cy="386.14" r="2.2" fill="#fff" stroke="#2f8bd0" stroke-width="1.2"/><circle cx="378.44" cy="386.79" r="2.2" fill="#fff" stroke="#2f8bd0" stroke-width="1.2"/><circle cx="383.54" cy="387.28" r="2.2" fill="#fff" stroke="#2f8bd0" stroke-width="1.2"/><circle cx="388.88" cy="387.78" r="2.2" fill="#fff" stroke="#2f8bd0" stroke-width="1.2"/><circle cx="394.38" cy="388.15" r="2.2" fill="#fff" stroke="#2f8bd0" stroke-width="1.2"/><circle cx="399.99" cy="388.46" r="2.2" fill="#fff" stroke="#2f8bd0" stroke-width="1.2"/><circle cx="405.65" cy="388.78" r="2.2" fill="#fff" stroke="#2f8bd0" stroke-width="1.2"/><circle cx="412.15" cy="389.21" r="2.2" fill="#fff" stroke="#2f8bd0" stroke-width="1.2"/><circle cx="419.64" cy="389.90" r="2.2" fill="#fff" stroke="#2f8bd0" stroke-width="1.2"/><circle cx="425.39" cy="389.35" r="2.2" fill="#fff" stroke="#2f8bd0" stroke-width="1.2"/><circle cx="433.87" cy="388.39" r="2.2" fill="#fff" stroke="#2f8bd0" stroke-width="1.2"/><circle cx="440.62" cy="390.03" r="2.2" fill="#fff" stroke="#2f8bd0" stroke-width="1.2"/><circle cx="447.31" cy="391.00" r="2.2" fill="#fff" stroke="#2f8bd0" stroke-width="1.2"/><circle cx="453.90" cy="391.91" r="2.2" fill="#fff" stroke="#2f8bd0" stroke-width="1.2"/><circle cx="461.22" cy="392.34" r="2.2" fill="#fff" stroke="#2f8bd0" stroke-width="1.2"/><circle cx="469.21" cy="392.81" r="2.2" fill="#fff" stroke="#2f8bd0" stroke-width="1.2"/><circle cx="476.58" cy="393.09" r="2.2" fill="#fff" stroke="#2f8bd0" stroke-width="1.2"/><circle cx="484.96" cy="393.29" r="2.2" fill="#fff" stroke="#2f8bd0" stroke-width="1.2"/><circle cx="495.16" cy="393.54" r="2.2" fill="#fff" stroke="#2f8bd0" stroke-width="1.2"/><circle cx="505.27" cy="393.74" r="2.2" fill="#fff" stroke="#2f8bd0" stroke-width="1.2"/><circle cx="516.94" cy="393.85" r="2.2" fill="#fff" stroke="#2f8bd0" stroke-width="1.2"/><circle cx="530.48" cy="393.98" r="2.2" fill="#fff" stroke="#2f8bd0" stroke-width="1.2"/><circle cx="538.70" cy="394.06" r="2.2" fill="#fff" stroke="#2f8bd0" stroke-width="1.2"/>
<path d="M328.12,339.70 L330.20,328.90 L331.72,338.98 L335.64,354.64 L341.36,366.88 L348.68,378.04 L359.73,383.62 L371.52,385.78 L378.44,386.43 L383.54,386.92 L388.88,387.42 L394.38,387.79 L399.99,388.10 L405.65,388.42 L412.15,388.85 L419.64,389.54 L425.39,388.86 L433.87,387.67 L440.62,389.31 L447.31,390.46 L453.90,391.55 L461.22,391.98 L469.21,392.45 L476.58,392.73 L484.96,392.93 L495.16,393.18 L505.27,393.38 L516.94,393.49 L530.48,393.62 L538.70,393.70" fill="none" stroke="#2cb34a" stroke-width="1.4" stroke-linejoin="round"/>
<path d="M328.12,337.06 L330.54,341.46 L325.70,341.46Z" fill="#fff" stroke="#2cb34a" stroke-width="1.2"/><path d="M330.20,326.26 L332.62,330.66 L327.78,330.66Z" fill="#fff" stroke="#2cb34a" stroke-width="1.2"/><path d="M331.72,336.34 L334.14,340.74 L329.30,340.74Z" fill="#fff" stroke="#2cb34a" stroke-width="1.2"/><path d="M335.64,352.00 L338.06,356.40 L333.22,356.40Z" fill="#fff" stroke="#2cb34a" stroke-width="1.2"/><path d="M341.36,364.24 L343.78,368.64 L338.94,368.64Z" fill="#fff" stroke="#2cb34a" stroke-width="1.2"/><path d="M348.68,375.40 L351.10,379.80 L346.26,379.80Z" fill="#fff" stroke="#2cb34a" stroke-width="1.2"/><path d="M359.73,380.98 L362.15,385.38 L357.31,385.38Z" fill="#fff" stroke="#2cb34a" stroke-width="1.2"/><path d="M371.52,383.14 L373.94,387.54 L369.10,387.54Z" fill="#fff" stroke="#2cb34a" stroke-width="1.2"/><path d="M378.44,383.79 L380.86,388.19 L376.02,388.19Z" fill="#fff" stroke="#2cb34a" stroke-width="1.2"/><path d="M383.54,384.28 L385.96,388.68 L381.12,388.68Z" fill="#fff" stroke="#2cb34a" stroke-width="1.2"/><path d="M388.88,384.78 L391.30,389.18 L386.46,389.18Z" fill="#fff" stroke="#2cb34a" stroke-width="1.2"/><path d="M394.38,385.15 L396.80,389.55 L391.96,389.55Z" fill="#fff" stroke="#2cb34a" stroke-width="1.2"/><path d="M399.99,385.46 L402.41,389.86 L397.57,389.86Z" fill="#fff" stroke="#2cb34a" stroke-width="1.2"/><path d="M405.65,385.78 L408.07,390.18 L403.23,390.18Z" fill="#fff" stroke="#2cb34a" stroke-width="1.2"/><path d="M412.15,386.21 L414.57,390.61 L409.73,390.61Z" fill="#fff" stroke="#2cb34a" stroke-width="1.2"/><path d="M419.64,386.90 L422.06,391.30 L417.22,391.30Z" fill="#fff" stroke="#2cb34a" stroke-width="1.2"/><path d="M425.39,386.22 L427.81,390.62 L422.97,390.62Z" fill="#fff" stroke="#2cb34a" stroke-width="1.2"/><path d="M433.87,385.03 L436.29,389.43 L431.45,389.43Z" fill="#fff" stroke="#2cb34a" stroke-width="1.2"/><path d="M440.62,386.67 L443.04,391.07 L438.20,391.07Z" fill="#fff" stroke="#2cb34a" stroke-width="1.2"/><path d="M447.31,387.82 L449.73,392.22 L444.89,392.22Z" fill="#fff" stroke="#2cb34a" stroke-width="1.2"/><path d="M453.90,388.91 L456.32,393.31 L451.48,393.31Z" fill="#fff" stroke="#2cb34a" stroke-width="1.2"/><path d="M461.22,389.34 L463.64,393.74 L458.80,393.74Z" fill="#fff" stroke="#2cb34a" stroke-width="1.2"/><path d="M469.21,389.81 L471.63,394.21 L466.79,394.21Z" fill="#fff" stroke="#2cb34a" stroke-width="1.2"/><path d="M476.58,390.09 L479.00,394.49 L474.16,394.49Z" fill="#fff" stroke="#2cb34a" stroke-width="1.2"/><path d="M484.96,390.29 L487.38,394.69 L482.54,394.69Z" fill="#fff" stroke="#2cb34a" stroke-width="1.2"/><path d="M495.16,390.54 L497.58,394.94 L492.74,394.94Z" fill="#fff" stroke="#2cb34a" stroke-width="1.2"/><path d="M505.27,390.74 L507.69,395.14 L502.85,395.14Z" fill="#fff" stroke="#2cb34a" stroke-width="1.2"/><path d="M516.94,390.85 L519.36,395.25 L514.52,395.25Z" fill="#fff" stroke="#2cb34a" stroke-width="1.2"/><path d="M530.48,390.98 L532.90,395.38 L528.06,395.38Z" fill="#fff" stroke="#2cb34a" stroke-width="1.2"/><path d="M538.70,391.06 L541.12,395.46 L536.28,395.46Z" fill="#fff" stroke="#2cb34a" stroke-width="1.2"/>
<path d="M327.86,353.56 L328.91,345.64 L329.69,326.74 L330.20,249.70 L331.60,272.02 L334.44,333.58 L339.12,354.64 L343.52,366.88 L350.64,373.54 L354.41,377.32 L363.88,383.80 L371.52,385.42 L378.44,386.07 L383.54,386.56 L388.88,387.06 L394.38,387.43 L399.99,387.74 L405.65,388.06 L412.15,388.49 L419.64,389.18 L425.39,389.00 L433.87,388.75 L440.62,390.39 L447.31,391.54 L453.90,392.64 L461.22,393.21 L469.21,393.83 L476.58,394.17 L484.96,394.37 L495.16,394.62 L505.27,394.82 L516.94,394.93 L530.48,395.06 L538.70,395.14" fill="none" stroke="#b05cc4" stroke-width="1.4" stroke-linejoin="round"/>
<path d="M327.86,356.20 L330.28,351.80 L325.44,351.80Z" fill="#fff" stroke="#b05cc4" stroke-width="1.2"/><path d="M328.91,348.28 L331.33,343.88 L326.49,343.88Z" fill="#fff" stroke="#b05cc4" stroke-width="1.2"/><path d="M329.69,329.38 L332.11,324.98 L327.27,324.98Z" fill="#fff" stroke="#b05cc4" stroke-width="1.2"/><path d="M330.20,252.34 L332.62,247.94 L327.78,247.94Z" fill="#fff" stroke="#b05cc4" stroke-width="1.2"/><path d="M331.60,274.66 L334.02,270.26 L329.18,270.26Z" fill="#fff" stroke="#b05cc4" stroke-width="1.2"/><path d="M334.44,336.22 L336.86,331.82 L332.02,331.82Z" fill="#fff" stroke="#b05cc4" stroke-width="1.2"/><path d="M339.12,357.28 L341.54,352.88 L336.70,352.88Z" fill="#fff" stroke="#b05cc4" stroke-width="1.2"/><path d="M343.52,369.52 L345.94,365.12 L341.10,365.12Z" fill="#fff" stroke="#b05cc4" stroke-width="1.2"/><path d="M350.64,376.18 L353.06,371.78 L348.22,371.78Z" fill="#fff" stroke="#b05cc4" stroke-width="1.2"/><path d="M354.41,379.96 L356.83,375.56 L351.99,375.56Z" fill="#fff" stroke="#b05cc4" stroke-width="1.2"/><path d="M363.88,386.44 L366.30,382.04 L361.46,382.04Z" fill="#fff" stroke="#b05cc4" stroke-width="1.2"/><path d="M371.52,388.06 L373.94,383.66 L369.10,383.66Z" fill="#fff" stroke="#b05cc4" stroke-width="1.2"/><path d="M378.44,388.71 L380.86,384.31 L376.02,384.31Z" fill="#fff" stroke="#b05cc4" stroke-width="1.2"/><path d="M383.54,389.20 L385.96,384.80 L381.12,384.80Z" fill="#fff" stroke="#b05cc4" stroke-width="1.2"/><path d="M388.88,389.70 L391.30,385.30 L386.46,385.30Z" fill="#fff" stroke="#b05cc4" stroke-width="1.2"/><path d="M394.38,390.07 L396.80,385.67 L391.96,385.67Z" fill="#fff" stroke="#b05cc4" stroke-width="1.2"/><path d="M399.99,390.38 L402.41,385.98 L397.57,385.98Z" fill="#fff" stroke="#b05cc4" stroke-width="1.2"/><path d="M405.65,390.70 L408.07,386.30 L403.23,386.30Z" fill="#fff" stroke="#b05cc4" stroke-width="1.2"/><path d="M412.15,391.13 L414.57,386.73 L409.73,386.73Z" fill="#fff" stroke="#b05cc4" stroke-width="1.2"/><path d="M419.64,391.82 L422.06,387.42 L417.22,387.42Z" fill="#fff" stroke="#b05cc4" stroke-width="1.2"/><path d="M425.39,391.64 L427.81,387.24 L422.97,387.24Z" fill="#fff" stroke="#b05cc4" stroke-width="1.2"/><path d="M433.87,391.39 L436.29,386.99 L431.45,386.99Z" fill="#fff" stroke="#b05cc4" stroke-width="1.2"/><path d="M440.62,393.03 L443.04,388.63 L438.20,388.63Z" fill="#fff" stroke="#b05cc4" stroke-width="1.2"/><path d="M447.31,394.18 L449.73,389.78 L444.89,389.78Z" fill="#fff" stroke="#b05cc4" stroke-width="1.2"/><path d="M453.90,395.28 L456.32,390.88 L451.48,390.88Z" fill="#fff" stroke="#b05cc4" stroke-width="1.2"/><path d="M461.22,395.85 L463.64,391.45 L458.80,391.45Z" fill="#fff" stroke="#b05cc4" stroke-width="1.2"/><path d="M469.21,396.47 L471.63,392.07 L466.79,392.07Z" fill="#fff" stroke="#b05cc4" stroke-width="1.2"/><path d="M476.58,396.81 L479.00,392.41 L474.16,392.41Z" fill="#fff" stroke="#b05cc4" stroke-width="1.2"/><path d="M484.96,397.01 L487.38,392.61 L482.54,392.61Z" fill="#fff" stroke="#b05cc4" stroke-width="1.2"/><path d="M495.16,397.26 L497.58,392.86 L492.74,392.86Z" fill="#fff" stroke="#b05cc4" stroke-width="1.2"/><path d="M505.27,397.46 L507.69,393.06 L502.85,393.06Z" fill="#fff" stroke="#b05cc4" stroke-width="1.2"/><path d="M516.94,397.57 L519.36,393.17 L514.52,393.17Z" fill="#fff" stroke="#b05cc4" stroke-width="1.2"/><path d="M530.48,397.70 L532.90,393.30 L528.06,393.30Z" fill="#fff" stroke="#b05cc4" stroke-width="1.2"/><path d="M538.70,397.78 L541.12,393.38 L536.28,393.38Z" fill="#fff" stroke="#b05cc4" stroke-width="1.2"/>
<path d="M329.43,323.50 L332.72,312.34 L334.56,321.16 L345.84,360.22 L361.41,380.02 L371.52,384.52 L378.44,386.32 L383.54,386.76 L388.88,387.22 L394.38,387.67 L399.99,388.12 L405.65,388.29 L412.15,388.48 L419.64,389.56 L425.39,387.46 L433.87,385.73 L440.62,387.89 L447.31,389.61 L453.90,391.02 L461.22,391.77 L469.21,392.21 L476.58,392.64 L484.96,393.03 L495.16,393.34 L505.27,393.61 L516.94,393.75 L530.48,393.83 L538.70,393.88" fill="none" stroke="#ff8a1e" stroke-width="1.4" stroke-linejoin="round"/>
<path d="M329.43,320.86 L331.85,323.50 L329.43,326.14 L327.01,323.50Z" fill="#fff" stroke="#ff8a1e" stroke-width="1.2"/><path d="M332.72,309.70 L335.14,312.34 L332.72,314.98 L330.30,312.34Z" fill="#fff" stroke="#ff8a1e" stroke-width="1.2"/><path d="M334.56,318.52 L336.98,321.16 L334.56,323.80 L332.14,321.16Z" fill="#fff" stroke="#ff8a1e" stroke-width="1.2"/><path d="M345.84,357.58 L348.26,360.22 L345.84,362.86 L343.42,360.22Z" fill="#fff" stroke="#ff8a1e" stroke-width="1.2"/><path d="M361.41,377.38 L363.83,380.02 L361.41,382.66 L358.99,380.02Z" fill="#fff" stroke="#ff8a1e" stroke-width="1.2"/><path d="M371.52,381.88 L373.94,384.52 L371.52,387.16 L369.10,384.52Z" fill="#fff" stroke="#ff8a1e" stroke-width="1.2"/><path d="M378.44,383.68 L380.86,386.32 L378.44,388.96 L376.02,386.32Z" fill="#fff" stroke="#ff8a1e" stroke-width="1.2"/><path d="M383.54,384.12 L385.96,386.76 L383.54,389.40 L381.12,386.76Z" fill="#fff" stroke="#ff8a1e" stroke-width="1.2"/><path d="M388.88,384.58 L391.30,387.22 L388.88,389.86 L386.46,387.22Z" fill="#fff" stroke="#ff8a1e" stroke-width="1.2"/><path d="M394.38,385.03 L396.80,387.67 L394.38,390.31 L391.96,387.67Z" fill="#fff" stroke="#ff8a1e" stroke-width="1.2"/><path d="M399.99,385.48 L402.41,388.12 L399.99,390.76 L397.57,388.12Z" fill="#fff" stroke="#ff8a1e" stroke-width="1.2"/><path d="M405.65,385.65 L408.07,388.29 L405.65,390.93 L403.23,388.29Z" fill="#fff" stroke="#ff8a1e" stroke-width="1.2"/><path d="M412.15,385.84 L414.57,388.48 L412.15,391.12 L409.73,388.48Z" fill="#fff" stroke="#ff8a1e" stroke-width="1.2"/><path d="M419.64,386.92 L422.06,389.56 L419.64,392.20 L417.22,389.56Z" fill="#fff" stroke="#ff8a1e" stroke-width="1.2"/><path d="M425.39,384.82 L427.81,387.46 L425.39,390.10 L422.97,387.46Z" fill="#fff" stroke="#ff8a1e" stroke-width="1.2"/><path d="M433.87,383.09 L436.29,385.73 L433.87,388.37 L431.45,385.73Z" fill="#fff" stroke="#ff8a1e" stroke-width="1.2"/><path d="M440.62,385.25 L443.04,387.89 L440.62,390.53 L438.20,387.89Z" fill="#fff" stroke="#ff8a1e" stroke-width="1.2"/><path d="M447.31,386.97 L449.73,389.61 L447.31,392.25 L444.89,389.61Z" fill="#fff" stroke="#ff8a1e" stroke-width="1.2"/><path d="M453.90,388.38 L456.32,391.02 L453.90,393.66 L451.48,391.02Z" fill="#fff" stroke="#ff8a1e" stroke-width="1.2"/><path d="M461.22,389.13 L463.64,391.77 L461.22,394.41 L458.80,391.77Z" fill="#fff" stroke="#ff8a1e" stroke-width="1.2"/><path d="M469.21,389.57 L471.63,392.21 L469.21,394.85 L466.79,392.21Z" fill="#fff" stroke="#ff8a1e" stroke-width="1.2"/><path d="M476.58,390.00 L479.00,392.64 L476.58,395.28 L474.16,392.64Z" fill="#fff" stroke="#ff8a1e" stroke-width="1.2"/><path d="M484.96,390.39 L487.38,393.03 L484.96,395.67 L482.54,393.03Z" fill="#fff" stroke="#ff8a1e" stroke-width="1.2"/><path d="M495.16,390.70 L497.58,393.34 L495.16,395.98 L492.74,393.34Z" fill="#fff" stroke="#ff8a1e" stroke-width="1.2"/><path d="M505.27,390.97 L507.69,393.61 L505.27,396.25 L502.85,393.61Z" fill="#fff" stroke="#ff8a1e" stroke-width="1.2"/><path d="M516.94,391.11 L519.36,393.75 L516.94,396.39 L514.52,393.75Z" fill="#fff" stroke="#ff8a1e" stroke-width="1.2"/><path d="M530.48,391.19 L532.90,393.83 L530.48,396.47 L528.06,393.83Z" fill="#fff" stroke="#ff8a1e" stroke-width="1.2"/><path d="M538.70,391.24 L541.12,393.88 L538.70,396.52 L536.28,393.88Z" fill="#fff" stroke="#ff8a1e" stroke-width="1.2"/>
<line x1="443" y1="241.40" x2="462" y2="241.40" stroke="#ef3b3b" stroke-width="1.4"/>
<circle cx="452.70" cy="241.40" r="1.9" fill="#fff" stroke="#ef3b3b" stroke-width="1.1"/>
<text x="466.4" y="244.6" font-size="9" fill="#111" stroke="#111" stroke-width="0.25" text-anchor="start" >WSC-900</text>
<line x1="443" y1="253.35" x2="462" y2="253.35" stroke="#2f8bd0" stroke-width="1.4"/>
<circle cx="452.70" cy="253.35" r="1.9" fill="#fff" stroke="#2f8bd0" stroke-width="1.1"/>
<text x="466.4" y="256.6" font-size="9" fill="#111" stroke="#111" stroke-width="0.25" text-anchor="start" >WSC-N-900</text>
<line x1="443" y1="265.30" x2="462" y2="265.30" stroke="#2cb34a" stroke-width="1.4"/>
<path d="M452.70,263.02 L454.79,266.82 L450.61,266.82Z" fill="#fff" stroke="#2cb34a" stroke-width="1.1"/>
<text x="466.4" y="268.5" font-size="9" fill="#111" stroke="#111" stroke-width="0.25" text-anchor="start" >WSC-Fe/N-800</text>
<line x1="443" y1="277.25" x2="462" y2="277.25" stroke="#b05cc4" stroke-width="1.4"/>
<path d="M452.70,279.53 L454.79,275.73 L450.61,275.73Z" fill="#fff" stroke="#b05cc4" stroke-width="1.1"/>
<text x="466.4" y="280.4" font-size="9" fill="#111" stroke="#111" stroke-width="0.25" text-anchor="start" >WSC-Fe/N-900</text>
<line x1="443" y1="289.20" x2="462" y2="289.20" stroke="#ff8a1e" stroke-width="1.4"/>
<path d="M452.70,286.92 L454.79,289.20 L452.70,291.48 L450.61,289.20Z" fill="#fff" stroke="#ff8a1e" stroke-width="1.1"/>
<text x="466.4" y="292.4" font-size="9" fill="#111" stroke="#111" stroke-width="0.25" text-anchor="start" >WSC-Fe/N-1000</text>
</svg></body></html>
